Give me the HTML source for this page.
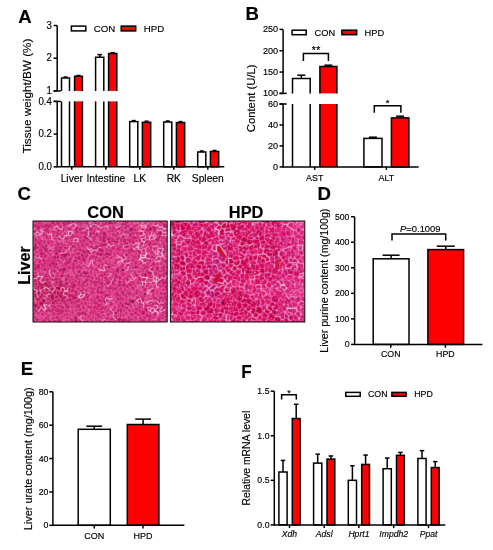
<!DOCTYPE html>
<html><head><meta charset="utf-8"><title>Figure</title>
<style>
html,body{margin:0;padding:0;background:#fff;}
body{width:493px;height:550px;overflow:hidden;}
svg{display:block;}
text{stroke:#000;stroke-width:0.15px;font-family:'Liberation Sans', Arial, sans-serif;fill:#000;}
</style></head><body>
<svg width="493" height="550" viewBox="0 0 493 550">
<defs>
<filter id="softcon" color-interpolation-filters="sRGB" x="-5%" y="-5%" width="110%" height="110%"><feConvolveMatrix order="3" kernelMatrix="0 1 0 1 6 1 0 1 0" divisor="10" edgeMode="duplicate"/></filter>
<filter id="softhpd" color-interpolation-filters="sRGB" x="-5%" y="-5%" width="110%" height="110%"><feConvolveMatrix order="3" kernelMatrix="0 1 0 1 5 1 0 1 0" divisor="9" edgeMode="duplicate"/></filter>
<filter id="graincon" color-interpolation-filters="sRGB" x="0" y="0" width="100%" height="100%">
<feTurbulence type="fractalNoise" baseFrequency="0.32" numOctaves="2" seed="21" result="n"/>
<feColorMatrix in="n" type="matrix" values="0 0 0 0 0.55  0 0 0 0 0.06  0 0 0 0 0.33  0 -4 0 0 1.65" result="dk"/>
<feColorMatrix in="n" type="matrix" values="0 0 0 0 0.93  0 0 0 0 0.5  0 0 0 0 0.76  0 4 0 0 -2.5" result="lt"/>
<feMerge><feMergeNode in="dk"/><feMergeNode in="lt"/></feMerge>
</filter>
<filter id="grainhpd" color-interpolation-filters="sRGB" x="0" y="0" width="100%" height="100%">
<feTurbulence type="fractalNoise" baseFrequency="0.5" numOctaves="2" seed="23" result="n"/>
<feColorMatrix in="n" type="matrix" values="0 0 0 0 0.6  0 0 0 0 0.02  0 0 0 0 0.25  0 -4 0 0 1.45" result="dk"/>
<feColorMatrix in="n" type="matrix" values="0 0 0 0 0.98  0 0 0 0 0.7  0 0 0 0 0.9  0 5 0 0 -3.0" result="lt"/>
<feMerge><feMergeNode in="dk"/><feMergeNode in="lt"/></feMerge>
</filter>
</defs>
<rect x="0" y="0" width="493" height="550" fill="#fff"/>
<text x="18.30" y="23.10" font-size="18.6" text-anchor="start" font-weight="bold" font-style="normal" >A</text>
<text x="51.90" y="28.75" font-size="10.2" text-anchor="end" textLength="5.39" lengthAdjust="spacingAndGlyphs">3</text>
<text x="51.90" y="61.45" font-size="10.2" text-anchor="end" textLength="5.39" lengthAdjust="spacingAndGlyphs">2</text>
<text x="51.90" y="94.15" font-size="10.2" text-anchor="end" textLength="5.39" lengthAdjust="spacingAndGlyphs">1</text>
<text x="51.90" y="104.65" font-size="10.2" text-anchor="end" textLength="13.47" lengthAdjust="spacingAndGlyphs">0.4</text>
<text x="51.90" y="137.35" font-size="10.2" text-anchor="end" textLength="13.47" lengthAdjust="spacingAndGlyphs">0.2</text>
<text x="51.90" y="170.05" font-size="10.2" text-anchor="end" textLength="13.47" lengthAdjust="spacingAndGlyphs">0.0</text>
<text x="71.80" y="181.90" font-size="10.3" text-anchor="middle" font-weight="normal" font-style="normal" >Liver</text>
<text x="105.90" y="181.90" font-size="10.3" text-anchor="middle" font-weight="normal" font-style="normal" >Intestine</text>
<text x="139.80" y="181.90" font-size="10.3" text-anchor="middle" font-weight="normal" font-style="normal" >LK</text>
<text x="173.80" y="181.90" font-size="10.3" text-anchor="middle" font-weight="normal" font-style="normal" >RK</text>
<text x="207.80" y="181.90" font-size="10.3" text-anchor="middle" font-weight="normal" font-style="normal" >Spleen</text>
<rect x="61.50" y="78.00" width="8.00" height="12.90" fill="#fff" stroke="none"/>
<rect x="61.50" y="101.40" width="8.00" height="65.40" fill="#fff" stroke="none"/>
<polyline points="61.50,90.90 61.50,78.00 69.50,78.00 69.50,90.90" fill="none" stroke="#000" stroke-width="1.5"/>
<line x1="61.50" y1="101.40" x2="61.50" y2="166.80" stroke="#000" stroke-width="1.5"/>
<line x1="69.50" y1="101.40" x2="69.50" y2="166.80" stroke="#000" stroke-width="1.5"/>
<line x1="65.50" y1="78.00" x2="65.50" y2="77.00" stroke="#000" stroke-width="1.5"/>
<line x1="63.50" y1="77.00" x2="67.50" y2="77.00" stroke="#000" stroke-width="1.5"/>
<rect x="74.60" y="76.20" width="7.80" height="14.70" fill="#ff0000" stroke="none"/>
<rect x="74.60" y="101.40" width="7.80" height="65.40" fill="#ff0000" stroke="none"/>
<polyline points="74.60,90.90 74.60,76.20 82.40,76.20 82.40,90.90" fill="none" stroke="#000" stroke-width="1.5"/>
<line x1="74.60" y1="101.40" x2="74.60" y2="166.80" stroke="#000" stroke-width="1.5"/>
<line x1="82.40" y1="101.40" x2="82.40" y2="166.80" stroke="#000" stroke-width="1.5"/>
<line x1="78.50" y1="76.20" x2="78.50" y2="75.50" stroke="#000" stroke-width="1.5"/>
<line x1="76.50" y1="75.50" x2="80.50" y2="75.50" stroke="#000" stroke-width="1.5"/>
<rect x="95.60" y="57.20" width="8.20" height="33.70" fill="#fff" stroke="none"/>
<rect x="95.60" y="101.40" width="8.20" height="65.40" fill="#fff" stroke="none"/>
<polyline points="95.60,90.90 95.60,57.20 103.80,57.20 103.80,90.90" fill="none" stroke="#000" stroke-width="1.5"/>
<line x1="95.60" y1="101.40" x2="95.60" y2="166.80" stroke="#000" stroke-width="1.5"/>
<line x1="103.80" y1="101.40" x2="103.80" y2="166.80" stroke="#000" stroke-width="1.5"/>
<line x1="99.70" y1="57.20" x2="99.70" y2="54.60" stroke="#000" stroke-width="1.5"/>
<line x1="97.45" y1="54.60" x2="101.95" y2="54.60" stroke="#000" stroke-width="1.5"/>
<rect x="108.60" y="53.50" width="8.20" height="37.40" fill="#ff0000" stroke="none"/>
<rect x="108.60" y="101.40" width="8.20" height="65.40" fill="#ff0000" stroke="none"/>
<polyline points="108.60,90.90 108.60,53.50 116.80,53.50 116.80,90.90" fill="none" stroke="#000" stroke-width="1.5"/>
<line x1="108.60" y1="101.40" x2="108.60" y2="166.80" stroke="#000" stroke-width="1.5"/>
<line x1="116.80" y1="101.40" x2="116.80" y2="166.80" stroke="#000" stroke-width="1.5"/>
<line x1="112.70" y1="53.50" x2="112.70" y2="52.80" stroke="#000" stroke-width="1.5"/>
<line x1="110.45" y1="52.80" x2="114.95" y2="52.80" stroke="#000" stroke-width="1.5"/>
<rect x="129.70" y="121.60" width="8.10" height="45.20" fill="#fff" stroke="#000" stroke-width="1.5"/>
<line x1="133.75" y1="121.60" x2="133.75" y2="120.60" stroke="#000" stroke-width="1.5"/>
<line x1="131.75" y1="120.60" x2="135.75" y2="120.60" stroke="#000" stroke-width="1.5"/>
<rect x="142.40" y="122.30" width="8.30" height="44.50" fill="#ff0000" stroke="#000" stroke-width="1.5"/>
<line x1="146.55" y1="122.30" x2="146.55" y2="121.20" stroke="#000" stroke-width="1.5"/>
<line x1="144.55" y1="121.20" x2="148.55" y2="121.20" stroke="#000" stroke-width="1.5"/>
<rect x="163.70" y="122.00" width="8.10" height="44.80" fill="#fff" stroke="#000" stroke-width="1.5"/>
<line x1="167.75" y1="122.00" x2="167.75" y2="121.00" stroke="#000" stroke-width="1.5"/>
<line x1="165.75" y1="121.00" x2="169.75" y2="121.00" stroke="#000" stroke-width="1.5"/>
<rect x="176.40" y="122.60" width="8.30" height="44.20" fill="#ff0000" stroke="#000" stroke-width="1.5"/>
<line x1="180.55" y1="122.60" x2="180.55" y2="121.60" stroke="#000" stroke-width="1.5"/>
<line x1="178.55" y1="121.60" x2="182.55" y2="121.60" stroke="#000" stroke-width="1.5"/>
<rect x="197.70" y="152.00" width="8.10" height="14.80" fill="#fff" stroke="#000" stroke-width="1.5"/>
<line x1="201.75" y1="152.00" x2="201.75" y2="151.00" stroke="#000" stroke-width="1.5"/>
<line x1="199.75" y1="151.00" x2="203.75" y2="151.00" stroke="#000" stroke-width="1.5"/>
<rect x="210.40" y="151.50" width="8.30" height="15.30" fill="#ff0000" stroke="#000" stroke-width="1.5"/>
<line x1="214.55" y1="151.50" x2="214.55" y2="150.50" stroke="#000" stroke-width="1.5"/>
<line x1="212.55" y1="150.50" x2="216.55" y2="150.50" stroke="#000" stroke-width="1.5"/>
<rect x="71.40" y="26.10" width="14.40" height="4.80" fill="#fff" stroke="#000" stroke-width="1.5"/>
<rect x="121.20" y="26.10" width="14.50" height="4.80" fill="#ff0000" stroke="#000" stroke-width="1.5"/>
<text x="93.80" y="32.00" font-size="9.7" text-anchor="start" font-weight="normal" font-style="normal" >CON</text>
<text x="143.80" y="32.00" font-size="9.7" text-anchor="start" font-weight="normal" font-style="normal" >HPD</text>
<text transform="translate(30.80,96.05) rotate(-90)" x="0" y="0" font-size="11.7" text-anchor="middle" font-weight="normal" textLength="115.0" lengthAdjust="spacingAndGlyphs">Tissue weight/BW (%)</text>
<text x="245.60" y="20.40" font-size="18.6" text-anchor="start" font-weight="bold" font-style="normal" >B</text>
<text x="278.10" y="32.44" font-size="9.6" text-anchor="end" textLength="15.21" lengthAdjust="spacingAndGlyphs">250</text>
<text x="278.10" y="53.77" font-size="9.6" text-anchor="end" textLength="15.21" lengthAdjust="spacingAndGlyphs">200</text>
<text x="278.10" y="75.10" font-size="9.6" text-anchor="end" textLength="15.21" lengthAdjust="spacingAndGlyphs">150</text>
<text x="278.10" y="96.44" font-size="9.6" text-anchor="end" textLength="15.21" lengthAdjust="spacingAndGlyphs">100</text>
<text x="278.10" y="107.04" font-size="9.6" text-anchor="end" textLength="10.14" lengthAdjust="spacingAndGlyphs">60</text>
<text x="278.10" y="128.00" font-size="9.6" text-anchor="end" textLength="10.14" lengthAdjust="spacingAndGlyphs">40</text>
<text x="278.10" y="148.97" font-size="9.6" text-anchor="end" textLength="10.14" lengthAdjust="spacingAndGlyphs">20</text>
<text x="278.10" y="169.94" font-size="9.6" text-anchor="end" textLength="5.07" lengthAdjust="spacingAndGlyphs">0</text>
<text x="314.70" y="180.60" font-size="8.9" text-anchor="middle" font-weight="normal" font-style="normal" >AST</text>
<text x="386.40" y="180.60" font-size="8.9" text-anchor="middle" font-weight="normal" font-style="normal" >ALT</text>
<rect x="292.50" y="78.40" width="17.70" height="15.00" fill="#fff" stroke="none"/>
<rect x="292.50" y="104.00" width="17.70" height="62.90" fill="#fff" stroke="none"/>
<polyline points="292.50,93.40 292.50,78.40 310.20,78.40 310.20,93.40" fill="none" stroke="#000" stroke-width="1.5"/>
<line x1="292.50" y1="104.00" x2="292.50" y2="166.90" stroke="#000" stroke-width="1.5"/>
<line x1="310.20" y1="104.00" x2="310.20" y2="166.90" stroke="#000" stroke-width="1.5"/>
<line x1="301.35" y1="78.40" x2="301.35" y2="75.20" stroke="#000" stroke-width="1.5"/>
<line x1="297.35" y1="75.20" x2="305.35" y2="75.20" stroke="#000" stroke-width="1.5"/>
<rect x="319.90" y="66.60" width="17.00" height="26.80" fill="#ff0000" stroke="none"/>
<rect x="319.90" y="104.00" width="17.00" height="62.90" fill="#ff0000" stroke="none"/>
<polyline points="319.90,93.40 319.90,66.60 336.90,66.60 336.90,93.40" fill="none" stroke="#000" stroke-width="1.5"/>
<line x1="319.90" y1="104.00" x2="319.90" y2="166.90" stroke="#000" stroke-width="1.5"/>
<line x1="336.90" y1="104.00" x2="336.90" y2="166.90" stroke="#000" stroke-width="1.5"/>
<line x1="328.40" y1="66.60" x2="328.40" y2="65.20" stroke="#000" stroke-width="1.5"/>
<line x1="324.40" y1="65.20" x2="332.40" y2="65.20" stroke="#000" stroke-width="1.5"/>
<rect x="363.90" y="138.40" width="18.10" height="28.50" fill="#fff" stroke="#000" stroke-width="1.5"/>
<line x1="372.95" y1="138.40" x2="372.95" y2="137.20" stroke="#000" stroke-width="1.5"/>
<line x1="368.95" y1="137.20" x2="376.95" y2="137.20" stroke="#000" stroke-width="1.5"/>
<rect x="391.40" y="117.90" width="17.50" height="49.00" fill="#ff0000" stroke="#000" stroke-width="1.5"/>
<line x1="400.15" y1="117.90" x2="400.15" y2="116.20" stroke="#000" stroke-width="1.5"/>
<line x1="396.15" y1="116.20" x2="404.15" y2="116.20" stroke="#000" stroke-width="1.5"/>
<polyline points="303.40,60.90 303.40,53.60 328.40,53.60 328.40,60.90" fill="none" stroke="#000" stroke-width="1.5"/>
<text x="316.30" y="53.60" font-size="10.5" text-anchor="middle" font-weight="normal" font-style="normal" letter-spacing="0.5">**</text>
<polyline points="374.30,112.70 374.30,105.70 400.90,105.70 400.90,112.70" fill="none" stroke="#000" stroke-width="1.5"/>
<text x="387.70" y="106.30" font-size="9.5" text-anchor="middle" font-weight="normal" font-style="normal" >*</text>
<rect x="292.10" y="30.20" width="14.10" height="4.50" fill="#fff" stroke="#000" stroke-width="1.5"/>
<rect x="341.90" y="30.20" width="14.80" height="4.50" fill="#ff0000" stroke="#000" stroke-width="1.5"/>
<text x="314.60" y="36.30" font-size="9.3" text-anchor="start" font-weight="normal" font-style="normal" >CON</text>
<text x="364.60" y="36.30" font-size="9.3" text-anchor="start" font-weight="normal" font-style="normal" >HPD</text>
<text transform="translate(255.30,98.35) rotate(-90)" x="0" y="0" font-size="11.1" text-anchor="middle" font-weight="normal" textLength="67.8" lengthAdjust="spacingAndGlyphs">Content (U/L)</text>
<text x="17.50" y="199.90" font-size="18.6" text-anchor="start" font-weight="bold" font-style="normal" >C</text>
<text x="105.60" y="217.50" font-size="15.6" text-anchor="middle" font-weight="bold" font-style="normal" textLength="36.6" lengthAdjust="spacingAndGlyphs">CON</text>
<text x="246.10" y="217.50" font-size="15.6" text-anchor="middle" font-weight="bold" font-style="normal" textLength="34.6" lengthAdjust="spacingAndGlyphs">HPD</text>
<text transform="translate(30.30,265.50) rotate(-90)" x="0" y="0" font-size="16.2" text-anchor="middle" font-weight="bold" >Liver</text>
<clipPath id="clipcon"><rect x="33.0" y="221.0" width="134.2" height="101.0"/></clipPath>
<g clip-path="url(#clipcon)"><g filter="url(#softcon)">
<rect x="31.0" y="219.0" width="138.2" height="105.0" fill="#e666a2"/>
<path fill="#d01c68" d="M36.7,222.8 37.5,220.2 37.1,219.7 34.9,220.4 34.9,220.8 35.8,222.9 36.4,223.1ZM105.1,222.2 105,222.8 106.3,225.4 106.7,225.7 107.4,225.6 107.6,225.1 107.1,221.3 106.4,221.3ZM35.9,229.5 35.6,229.2 35.2,229.3 32.6,231 34,233.6 34.3,233.8 35.2,233.7 36.6,231.5ZM54.6,228.7 54.2,228.5 53.8,228.7 53.8,229.2 54.1,230 54.6,230.3 55.1,230.1 55.3,229.8ZM102.5,235 102.6,235.3 103,235.5 106.1,235.2 106.5,234.9 106.6,233.9 105.9,232 104.3,231.3 102.6,231.8ZM159.1,234.1 160.7,235.1 161.3,235 162.4,232.8 162,231.1 157.9,230.9 157.7,231.9ZM118,240.6 118.6,240.3 120.2,237.6 120.1,236.9 119.6,236.8 114.9,238.4 114.9,239.2 115.2,239.6ZM142,240.5 142.4,240.9 144.4,241.1 145.7,239.5 145.7,238.9 145.1,238.5 142.2,239 141.9,239.2 141.8,239.6ZM167.6,244.3 166.9,244.4 166.8,244.8 167,245.6 167.3,246 169.1,246.6 169.7,246.3 169.5,245.7ZM94.6,246.4 94.5,247.1 96.3,249.5 96.7,249.7 97.1,249.6 98.7,247.5 98.8,247.1 98.5,245.3 98.1,244.9 96.6,244.8ZM128.5,247.6 129.2,246.7 129.2,245.1 129,244.7 128.6,244.7 124.4,245.7 124,246.1 123.7,247.4 124,248.1 126.2,248.6ZM43.3,248.9 40.5,248.3 38.5,249.7 38.4,250.4 38.9,251 39.2,251.1 43,250.3 43.4,249.8 43.4,249.2ZM81.6,251.6 81.9,252.3 82.3,252.3 85.2,250.9 85.5,250.6 85.5,250.2 85.2,249.9 82.6,249.3ZM115.1,249.7 114,250.9 114.2,251.3 116.1,252.7 116.8,252.6 117.4,251.8 117.3,251.2 115.8,249.7ZM142.2,250.3 142.4,251.9 145.2,252.5 145.7,252.3 145.2,249.9 143,249.7ZM162.2,252.6 162.5,254.7 163,255.1 165.9,252.3 166,251.9 164,250.2 163.6,250.1 163.3,250.3ZM40.4,254 40.3,254.6 40.6,254.9 42.5,255.4 43,255.3 45.4,253.2 45.3,252.8 44.2,251.9ZM80.5,255.3 81.2,256.9 81.8,257.1 84.4,256.3 84.8,255.4 81.8,253 81.3,253.3ZM44.8,262 45.2,261.5 45.2,259.1 43.2,258.5 42.8,258.6 42.2,259.3 42.3,262ZM72.7,260.6 72.7,261 72.9,261.3 75.6,262.3 76.5,260.6 74.6,258.9 74.2,258.8ZM70.8,263 69.5,264.2 69.9,264.7 71.5,264.9 71.6,264.5 71.4,263.1ZM35.5,267.7 35.1,267.6 34.7,267.8 33.6,270.1 33.6,270.6 34.2,271.4 37.7,270.5 37.7,269.8ZM147.3,266.5 147.1,267.2 147.3,267.7 148.4,268.4 149.1,268.3 149,266.4 148.8,266.1 148.3,266ZM165.8,268.8 165.3,268.5 162.4,269.1 162.3,269.7 164,272 164.3,271.9 166.5,270.2ZM152.7,272.4 152.4,271.9 149.8,271 149.3,271.1 147.5,272.8 147.4,273.4 147.7,274 148.1,274.1 152.2,273.4 152.5,273.3ZM100.9,277.2 101.1,277.6 101.5,277.7 102.7,277.6 104,276.5 102.4,273.8 101.1,274.2ZM136.1,276.6 137.2,276.9 139.5,276.1 139.8,275.9 139.8,275.3 139.5,275 136.8,273.6 135.4,275.4ZM161.4,277.9 161.5,277.3 161.3,277.1 157.9,275.9 157.4,276 157.1,276.5 159.6,279.3ZM118.1,279.2 118.3,279.8 118.6,279.9 120.6,279.7 121,279.5 121.8,277.6 120,276 119.6,275.9 119.2,276.2ZM126.1,282.6 125.7,282.5 122.4,283.6 121.6,285 121.9,286.1 123,286.7 124.6,286.3 126.5,283.6 126.6,283.3ZM127.1,288 127.7,288 128.9,286.8 127.4,284.7 127,284.6 126.6,284.8 125.4,286.7ZM114.3,287.5 114,288 114.1,288.3 115.5,290 116,290.2 116.5,290 117.7,289 116.2,287.3 115.8,287.2ZM118.6,288.8 118.4,289.1 118.5,289.5 120,290.9 122.2,288.8 122.3,287.6 122.1,287.2 121.4,286.8ZM142.9,291.1 144.6,291.9 147,289 147.1,288.5 145.7,287.7 145.2,287.8 142.8,289.8 142.6,290.3ZM163.2,295 163.6,295.5 163.9,295.5 165.9,294.5 166.2,294.2 166.6,292.4 166.1,292.1 163.3,292.7ZM88.8,300.3 89,299.8 88.8,298.8 88.6,298.5 88.2,298.4 86.8,298.8 86.4,299.2 86.1,300.5 86.2,301 86.9,301.6ZM116.3,299.5 119.2,301.1 119.6,300.7 119.7,298.7 118.1,296.6 117.5,296.5ZM150.9,308.1 148.5,307.1 148.1,307.7 148.4,309.9 149,310.4 149.7,310.3 151.1,308.9 151.2,308.4ZM152.2,308.4 150.4,310.5 152.6,312.6 154.9,310.7 153.4,308.5 152.9,308.3ZM55.4,316.7 55.3,318.2 56.5,319.4 59.5,318.1 59.3,316.7 58.9,316.4 56.7,315.5 56.1,315.7ZM99.3,317.9 99.7,318.4 102.2,318.7 102.7,318.3 101.9,316.9 100.6,316.2 99.4,317.4Z"/>
<path fill="#d42070" d="M41.2,221 41.3,220.5 40.2,218.7 38.2,218.9 37.8,219.1 37.8,219.6 38.2,220.3 40.1,221.7 40.4,221.8 40.8,221.6ZM83.8,219.4 83.8,219.8 84.2,220.1 87.4,220.5 87.5,220.1 87.7,217.5 85.1,216.9ZM100.5,218.4 99.8,218.5 99.7,218.8 99.8,220.7 101.4,222.1 101.9,222.2 102.3,221.7 102.3,220 102.1,219.6ZM109.7,218.3 108.4,219.4 108.8,220 111.1,220.8 111.6,220.7 111.8,220.3 111.9,219 111.4,218.4ZM57.2,225.4 57.9,225.5 59.9,224.1 60,223.4 58.8,221.5 58.4,221.3 56.1,221.3 55.5,221.8 55.5,222.9ZM108.5,226.1 108.1,226.7 108.5,228.9 108.7,229.3 109.9,229.8 110.4,229.7 111.6,228.6 110.4,226 109.8,225.7ZM152,226.1 151.8,226.6 152.4,229 152.8,229.3 156.4,229.8 156.9,229.4 155.3,226.1 153.3,225.4 152.9,225.4ZM62.1,232.6 62.6,232.4 62.6,232 62,229.9 61.6,229.5 58.8,228.8 58.2,229.1 57.5,230.9 58,232.3ZM100.8,230.9 100.3,230.9 99,231.9 98.6,234 101.4,235.2 101.8,235.1 102.1,234.7 102.1,231.9 101.9,231.5ZM128.6,236.1 128.1,235.7 127.7,235.8 127.5,237.2 127.7,237.6 128.2,237.7 128.6,237.4ZM128.9,233.3 129.4,237.5 131.7,237.5 132.4,236.2 132.3,235.7 129.7,233.1 129.3,233ZM156.4,237.5 156.6,238.1 156.9,238.2 160.2,237.9 160.7,237.4 160.7,236.1 160.4,235.6 159,234.9 156.7,236.9ZM74.9,238.9 74.2,239.6 73.9,240.9 76.6,241.6 77.2,241.4 77.4,240.9 77.2,239.1ZM100.3,241.1 101,241.2 101.2,240.8 101.4,238.5 101,238.3 98.8,238.4 98.7,239ZM167.6,239 167.3,239.6 168.7,240.4 170,238.7 169.8,238.4 169.3,238.3ZM80.8,244.6 80.6,245.2 82,247.4 82.4,247.3 84.9,245.3 84,243.7 83.6,243.5 82.4,243.5ZM151.8,243.3 150.6,240.4 149.8,240 147.7,244.8 147.8,245.5 148,245.9 148.4,245.9 151.2,245.1 151.6,244.7ZM41.5,247.9 41.8,247.8 42,247.2 41.2,245.4 40.6,245.1 40.2,245.5 40.1,246 40.6,247.4ZM66.8,246.7 66.4,246.8 66.3,247.2 66.5,249.4 67,249.9 68.8,248.8 69.4,247.6 69.4,247.1 69,246.9ZM81.1,248.2 81.4,247.9 81.3,247.5 80,245.4 78.2,246.2 77.9,246.5 77.9,246.9 79.3,248.9ZM120.6,251.3 121.1,250.9 121.4,249.9 121.2,249.2 118.1,247.8 116.4,247.9 116.1,248.3 116,249.2 118,251ZM30.1,253.6 30.7,253.7 33.1,252.1 31.8,250 29.3,250.7 29,251.1 28.9,252 29.5,253.1ZM59.8,253.6 59.5,254.1 60,256.5 60.4,256.6 63.2,255.7 63.2,253.9 62.9,253.4 61.7,253.1ZM77.7,254.8 79.8,255 80.7,252.6 78.5,251.4 77.2,251.7 76.5,252.8 76.4,253.3 76.8,254.3ZM113.8,251.8 112.6,253.9 113.1,254.3 115.7,254.4 116.1,254.3 116.3,253.9 116,253.3ZM39.6,256.8 39.8,257.3 41.5,258.4 42,258.3 42.5,257.7 42.5,256.3 42.1,255.8 40.1,255.4ZM58.4,264.2 58.6,264.5 59.3,264.5 61.1,263 61.3,262.7 61.2,262.2 60.8,261.9 60.4,262 58.6,263.3ZM93.3,261 92.6,261.2 92.6,261.5 93.4,265.5 93.7,265.9 94.1,265.9 96.1,263 96.1,262.6ZM98.2,268.5 97.9,268.1 96.6,267.4 95,267.2 94.3,270.4 94.4,270.8 94.7,271 96.7,271.2 98.2,270ZM150,268.8 149.6,269.7 150,270.4 152.7,271.4 153.2,271.3 154,270.4 154,267.9 153.7,267.4 152.8,266.9 152.3,267ZM97.1,272.1 97.4,274 97.8,274.1 99.4,273.8 99.8,273.4 98.3,271.2 97.3,271.7ZM161.6,269.2 160.6,269 160.4,269.6 161.8,273.1 162.1,273.4 162.5,273.3 163.3,272.9 163.4,272.2ZM89.4,274.4 86.8,274.8 86.3,277.6 89.5,278.2 90.7,275.4ZM162.3,276.9 162.6,277.4 164.5,278.1 166,275.9 163.9,273.6 163.2,273.5 162.5,274.2ZM133.4,281.1 131.6,283.5 131.8,285.1 132.3,285.4 132.9,285.3 135.5,282.9 135.6,282.5 134,281.2ZM157.4,282.7 156.8,282.6 156.4,283.6 157.2,286.3 157.5,286.6 157.9,286.6 158.8,284.7 158.7,284.1ZM98.2,284.3 98.1,283.6 97.6,283.5 94,284 93.4,286.8 94.8,287.2 95.9,287.3 96.4,287.1ZM97.6,288.7 99.6,289.3 99.8,288.9 100.3,286.1 100.1,285.6 98.9,284.9 97,287.4 97,288ZM95.2,289.8 95.4,290.2 95.8,290.3 96.7,289.3 96.7,288.7 96,287.9 95.2,288ZM126.3,294.4 126.7,294.7 127.1,294.5 129.3,292.4 129.5,292 129.3,291.6 127.4,290.3 125.1,292.2ZM101.3,300.6 101.4,300 101.1,299.2 99.7,298.2 97.5,301 98.5,302.4 98.9,302.6 99.3,302.4ZM168.9,300.5 168.1,298.4 164.9,298.8 164.5,299.1 164.5,299.5 165.3,301.1 167.1,301.9 168.6,301.3ZM131.5,305 131.6,304.5 130.9,302 128.7,301.9 128.3,302 128.2,302.4 128.8,306.5 129.5,306.5ZM122.2,307.3 122.1,307.9 122.4,308.1 124.1,308.6 124.5,308.5 124.7,308.1 124.4,305.5 124.1,305.3 123.7,305.5ZM158.4,306.6 160.3,308.4 160.7,308.2 161.5,306.9 161.4,306.3 159.6,304.5 158.4,305.6 158.2,306ZM167.1,303.6 166.5,306.6 166.8,306.8 168.9,307.2 169.5,306.9 168.1,303.5 167.8,303.3 167.4,303.3ZM160.3,310.8 160.7,311.3 161,311.3 163.4,310.3 163.7,309.6 161.4,308.5 160.6,309.4ZM161.5,311.6 161.2,312 161.7,312.7 164.6,313.6 165,313.5 166.5,312.5 165.1,310.2ZM122.6,313.4 122.2,313.9 122.4,314.5 125.2,316.5 125.9,316.4 125.9,315.7 124,313.4 123.5,313.2ZM134.8,314.4 135.3,314.8 135.6,314.6 137.6,312.7 137.8,312.3 137.5,311.3 134.8,311.6 134.5,311.8 134.2,312.7ZM147.1,312.9 146.7,312.7 146.3,312.9 145,314.7 144.9,315.3 146.6,317.9 147.8,317.3 148,316.9 148.1,314ZM52.2,321.3 51.8,321.1 51.4,321.4 51,322.7 51.8,324.4 53.2,324.9 54.1,323.6Z"/>
<path fill="#d82c78" d="M45,218.5 43.2,220.6 43.3,221 43.7,221.1 46.8,220.9 47.2,220.3 47.2,219.3 46.8,218.8 45.5,218.4ZM113.9,221.7 114.1,221.3 114.6,217.8 114.4,217.3 113.7,217 112.8,218.3 112.6,221.2 113.2,222ZM137.1,219.6 137.8,222.5 138.2,222.6 138.5,222.3 139.4,220.6 139.4,220.1 138.9,219.3 138.5,219 137.2,219.1ZM158.1,220.1 157.2,218.5 154.9,219.5 154.6,220 154.8,221 155.3,221.4 157.7,221.3ZM86,224.9 86.7,224.7 88.1,222.4 88.1,221.8 87.6,221.4 84.2,220.8 83.8,221 83.6,221.4 83.8,223.4 84.1,223.8ZM130.9,225.9 131.3,226.2 131.7,226 134,223.9 134.4,223 133.8,221.8 129.9,222.5 129.8,223.2ZM148.8,222.9 148.9,223.5 151.4,225.3 152,225.3 152.5,224.8 150.1,221.2 149.6,221.5ZM159.1,220.2 158.6,220.5 158.3,221.6 158.9,223.2 159.3,223.5 161.4,223.9 161.9,223.7 162.8,222.4 162.7,220.9 160.4,220.2ZM31.7,229.4 31.6,230.1 32.3,230.2 34.6,228.8 34.8,228.2 34,227.6ZM51,233.5 51.3,233.2 51.3,232.7 49.9,230.4 49.3,230.2 47.3,233.3 47.3,233.7 48.1,234.2ZM77.9,231.4 77.3,231.1 76.9,231.2 74.3,232.9 74.2,233.6 74.5,234.3 75.1,234.6 78.6,233.9 78.7,232.3ZM84.5,234.1 84.6,234.5 86.4,236.4 87,236.5 88.3,234.9 88.2,232.7 87.7,232.3 84.8,232.4ZM112.1,232.7 111.5,233.1 111.1,235.5 112.1,236.8 113.4,236.8 114.1,233.4 114,233ZM152.5,232 152.1,232 151.9,232.4 151.9,234.7 152.1,235 152.9,235.2 153.3,235.1 154.4,234 154.8,232.9ZM166,235.6 166.8,235.1 166.1,232.9 163.2,232.9 162.8,233.2 162.3,234.8 162.6,235.1ZM44.1,237.4 44,238.1 44.5,238.9 46.5,239.6 48.7,239.4 49,239.1 49.1,238.7 47.6,235 47,234.6 46.4,234.7ZM90.5,238.9 90.9,239 91.3,238.7 92.2,236.4 92.1,236 91.8,235.7 88.9,235.4 88.5,235.6 88,236.1 88,236.8ZM94.9,235.8 93.6,235.5 92.8,236 91.7,238.8 92.1,239.6 95.2,240 95.7,239.7 96.3,237.7 95.8,236.4ZM107.6,235.3 107.1,235.5 107,235.9 107.4,236.6 110.2,237.4 110.6,237.4 111,236.9 110.5,235.9 110.2,235.7ZM139.4,237.1 139.3,236.4 137.8,236.5 137.4,236.9 136.7,238.9 137.8,239.5ZM36.2,237.1 35.8,236.9 35.4,237.1 33.6,239.3 33.6,239.8 34,240.6 35.2,241.8 35.6,241.9 36.7,241.7 37.5,240.9 37.5,239.3ZM110.1,239.6 110.3,240.2 113.1,241.7 114.2,239.9 114.2,238.3 113.5,237.5 111.6,237.4 110.6,238.2ZM65.8,243.9 65.5,243.6 65.1,243.6 62.8,244.7 62.1,245.2 61.9,245.6 62.1,246 63,246.9 63.4,247 65.8,246.6 66.2,246.4 66.2,246ZM67.9,243.5 66.5,243.7 66.4,244.1 66.9,246 69.3,246.2 69.4,245.6 68.3,243.8ZM76,242.3 73.3,241.8 72.9,242.3 73.1,243.7 74.8,244.1 75.3,243.9 76,242.9ZM85.7,245.1 87.7,246.4 89.4,245 89.4,244.2 87.9,241.9 86.8,241.4 86.3,241.5 84.7,243 84.6,243.7ZM105.4,246.8 105.9,247.1 106.8,246.9 108.2,244.2 108.1,243.7 106.6,242.2 104.3,243.7ZM109.7,243.7 109.3,244.2 109.5,244.5 111.2,246 113.1,245.1 113.3,244.6 113.2,243.1 112.9,242.7ZM71.1,247 70.5,246.9 70.2,247.2 69.6,249 70.9,252.3 71.2,252.6 72,252.3 72.3,251.9 72.6,248.8 72.5,248.4ZM93,250.8 91.6,252.3 91.5,253.6 91.7,254 94.9,253.6 95.3,253.4 96.7,250.7 96.4,250.3 96,250.2ZM155.7,251.4 155.4,252 155.9,253.5 156.3,253.8 157.2,253.7 157.6,251.4 156.9,251ZM157.9,250.1 157.9,250.6 158.5,251.2 161.6,252.1 163,249.4 162.9,248.8 162.3,248.4 158.8,248.7 158.4,249ZM52.2,256.4 52,255.8 51.3,255.9 50.5,257 50.6,257.7 51.2,257.9ZM91.9,254.8 91.6,255 91.5,255.4 92.6,258.9 92.9,259.2 93.3,259.2 94.8,258.2 95.5,254.7 94.9,254.3ZM102,252.9 101.8,253.5 102.6,255.7 102.9,256 104.8,256.5 105.3,256.3 106.1,255.2 106.4,254.5 106.2,253.9 103.8,252.3 103.3,252.2ZM131,252 128,251.8 127.7,251.9 127.4,252.6 127.5,253.2 129,254.5 130,254.7 130.4,254.5 131.6,253.2 131.7,252.6ZM155,252.6 154.4,252.3 154.1,252.5 152.7,254.5 152.6,254.9 152.8,255.2 153.8,255.8 154.5,255.6 155.4,254.4ZM38,258.5 37.9,260 38.5,260.1 40,259.1 40.3,258.5 39.4,257.9 38.8,257.9ZM49.9,260.7 50.5,260.7 51.2,260 51.2,259.4 49.8,257.4 47.7,256.6 46.9,258ZM105.3,258.5 105.1,257.2 104.7,256.8 102.8,256.3 101.7,256.9 101.5,257.3 101.6,259.8 103.5,260.6 104.1,260.4ZM32.1,262.4 32.1,262.8 32.5,263 36.9,263.1 37.3,262.9 37.4,262.5 37.1,262.2 33.3,260.4 32.9,260.4 32.6,260.7ZM108.3,259.6 107.4,259.5 107.1,260.1 107.8,262.1 110.3,261.7 110.2,261ZM87.4,265.4 88.1,265.7 88.5,265.7 88.7,265.4 88.8,264.8 87.9,263.3 87.5,263.4 87.3,263.8 87.1,264.8ZM107.5,262.9 105.8,264.1 106.1,264.7 108,265.5 110.2,264.7 110.5,264.5 111.2,262.7 110.6,262.3ZM158.6,265.7 159.1,265.2 159.2,262.4 159,262.1 158.6,261.9 155.8,262.5 156.2,265.7ZM129.8,267.4 129.2,267.2 128.5,267.5 128.3,269.4 128.5,269.8 129.7,270.4 130.6,269.5ZM131.1,266.4 130.5,266.5 130.3,267.2 131.1,268.8 131.6,269.1 132.5,268.9 132.8,268.6 132.9,268.2 132.4,267.2ZM49.7,271 49.5,271.4 49.9,273.6 50.2,274 51.2,274.2 52.3,273.5 52.5,272.9 51.6,270.3 51.3,270 50.8,270.1ZM132,274 132,274.7 132.4,274.9 134.4,275.1 134.9,274.9 136.2,273.2 136.2,272.8 135.6,270.6 134.9,270.6ZM74.9,276.4 74.5,276.3 74.1,276.5 74,276.9 74.5,278.9 74.8,279.2 75.2,279.2 75.9,278.8 76.2,278ZM77.5,273.5 77,273.5 75.1,274.8 74.8,275.2 75,275.6 76.8,277.3 78.8,276.4 78.4,274.1ZM133,275.7 132.5,276.1 132.6,276.5 133.7,278.2 134.1,278.4 134.5,278.2 135.3,277.3 135.3,276.7 134.4,275.8ZM133.8,279.7 131.7,276.3 131.1,276.2 130,278 130.3,279.5 130.6,279.8 133.2,280.8 133.7,280.6ZM157.5,278 157.2,277.8 156.8,277.9 156.7,278.3 156.6,280.7 157.1,281.2 158.8,280.2 159,279.8ZM121.1,280.9 120.6,280.6 118.3,280.8 118,281.9 118.5,283.4 120.5,284.4 121.2,284.2 121.7,282.8ZM105.3,286.5 104.3,287.5 104.5,287.8 106.3,289.2 107.6,288.9 108.1,288.5 108.2,288 107.9,286.5 107.3,286.1ZM116.5,286.5 116.7,286.9 118.1,288.1 120.8,286.3 120.9,285.7 120.7,285.3 118.2,284.1 117.7,284.1 116.8,285ZM139.8,290.1 136.8,288.6 136.1,289 135.9,289.9 137.9,291.5 138.4,291.6 140,290.7ZM91.1,291.2 90.8,290.9 90.3,291 89.6,291.8 89.5,292.3 90.5,295.2 90.8,295.5 91.3,295.5 92.7,294.5ZM155.3,295.1 155.8,295.6 156.1,295.4 157.5,294.2 157.6,293.8 157.4,293.4 155.5,292.2 155.1,292.8ZM92.1,301.4 92.4,300.9 92.3,299.2 90.4,297.6 89.8,297.5 89.5,298.1 89.9,299.9 91.5,301.3ZM146.1,298.7 145.5,298.5 145.2,298.8 144.7,301.1 147,302.1 147.4,302.1 147.7,301.4 147.7,301ZM120.4,302.1 119.9,302.2 119.8,302.7 120.7,307 121.3,307.4 123.9,304.5 124,304.1 123.5,302.3ZM136.2,303.3 137.1,305.5 137.8,305.3 138.7,303 137.4,301.9 137,301.8 136.6,302.1ZM148.7,301.4 148.4,301.8 148.1,303.5 148.4,304.2 148.9,304.4 150.8,303.8 152.2,301.2 151.6,300.8ZM93.3,305.8 93.2,305.1 92.8,305 90.9,305.4 90.4,305.8 91.3,307.4 91.9,307.6ZM106.1,304.9 105.9,305.5 106.8,307.8 109.5,309.5 110.1,309.4 110.2,308.7 107.2,304.8 106.9,304.6ZM66.9,312.3 67.3,312.2 67.4,311.8 67.3,310.2 67,309.8 65.2,308.9 64.6,308.9 64.1,309.7 64.6,312ZM71.4,309.5 70.9,309.8 70.9,310.1 71.5,312.4 72.3,313 74.1,312.7 74.3,312.2 73.7,310.2 73.4,309.8ZM78.8,309.8 79,310.8 80.1,311.5 80.7,311.5 81.8,310.6 82,310.1 81.2,307.1 80.5,307.2ZM105.8,312.6 105.6,312 103.1,310.4 100.7,310.7 100.3,311 99.9,311.9 100.6,313.9 101.2,314.1 105.3,313.2ZM69.1,313.8 68.8,314.1 68.2,315.4 68.3,316 69.6,317.3 70.4,317.3 70.8,317 71.5,313.6 71,313.4ZM75,313 74.6,313.2 74.5,313.6 74.9,315.5 75.2,315.8 77,316.4 77.2,316.1 77.2,315.7 75.5,313.3ZM87.4,313.5 87.5,313 87.1,312.7 85.6,312.3 83.8,315 83.7,315.4 84.1,315.8 85.4,315.7ZM110.2,310.3 109.2,311.6 109.2,312.2 111.3,315 112.2,315.2 112.6,315.1 113.1,314.2 113,312.6 110.8,310.4ZM37.3,315.8 37.1,316.4 37.3,316.7 38.5,317.1 40.4,316.2 40.7,315.7 40.4,314.7 39.9,314.7ZM61.3,318.8 61.9,318.8 63.3,317.5 62.4,315.1 60.5,315.5 60,316 59.9,316.5 60.3,318ZM64.9,317.2 65.8,316.4 65.9,315.7 64.2,313.9 63.6,313.8 63,314.4 63,314.9 63.7,316.9 64,317.2ZM88.9,318.4 89.6,318.3 91.3,315.8 88.4,313.5 86.3,316.1ZM129,315.8 128.5,315.9 127.5,317.1 127.3,317.8 127.8,318.8 129.5,319.5 131.2,317.2 131.3,316.8 131,316.4ZM67,322.5 67.5,322.6 69.5,321.6 68.9,320.1 66.7,320.6 66.2,321.6ZM84.1,320.8 83.9,321.2 84,321.6 84.7,322.3 85.4,322.4 85.5,321.8 85.1,320.9 84.8,320.6ZM110.9,323.1 111.3,323.4 112.4,323.6 113.1,321 112.8,320.5 110.6,321.3ZM86.2,324.4 83.2,321.7 82.7,322 82.3,323.3 85.4,325.5 86,325.5 86.3,325ZM166,324.2 167.9,324.4 168.1,323.9 167.9,321.7 167.5,321.2 165.3,322.8 165.6,323.9Z"/>
<path fill="#cc1868" d="M48.2,218.8 47.8,219.3 47.9,221 48.6,222.4 49.5,222.7 51.1,220.6 51.1,218.7 50.9,218.4 50.5,218.3ZM162.3,224.2 162.4,225.3 162.9,225.7 166.5,225.4 167,224.9 165.9,223.7 163.6,223.1 163.1,223.2ZM140.7,236.4 140.4,236.7 140.4,237.1 141.3,238.4 144.8,237.9 145.1,237.7 145.2,237.3 144.3,235.3ZM107.5,241.2 107.2,241.6 107.3,242.1 108.3,243.2 108.9,243.4 111.8,242.2 111.6,241.6 109.9,240.5 109.5,240.5ZM39.9,245.2 41.2,243.3 41.2,242.9 40.9,242.6 38,241.6 37.5,241.7 37.1,242.1 38.2,245.3 39.5,245.4ZM60.1,245.7 59.3,246.4 59.1,247.8 59.3,248.2 61.2,250 61.6,250.1 62,249.8 62.8,247.8 62.7,247.2 61.1,245.8ZM132,248 129.5,247.5 129.3,248.1 131.1,251.3 131.7,251.5 132.8,249.6 132.8,249.1ZM138.1,253.3 139.7,254 140.2,253.9 141.5,252.4 141.4,250.7 138.6,250 138.1,250.2 137.8,250.7 137.7,252.4ZM35.2,255 35.1,254.5 33.6,252.8 30.9,254.2 30.7,254.7 31,256.3 32.3,257.4 32.8,257.5 34.6,256.6ZM59,255.3 58.5,254.8 56.9,256 56.6,258.3 56.8,258.7 57.2,258.8 58.9,258.6 59.3,257.1ZM160.2,279.7 160.1,280.3 161.6,282.3 162,282.5 162.4,282.3 164.4,279.5 164.5,279.1 164.2,278.7 162.5,278 161.9,278.1ZM125.1,281.9 125.5,281.3 125,280.9 122.6,281 122.2,281.2 122.1,281.7 122.5,282.4 122.9,282.5ZM127.5,282.9 127.2,283.2 127.3,283.7 129.6,286.5 130.4,286.5 131.3,285.8 131.5,285.2 130.9,283.7 128.9,282.6ZM92.8,287.5 92,289.7 92.3,290 94.1,290.7 94.7,290.5 94.6,288.1 94.2,287.6ZM165.3,306.3 165.7,306.2 166,305.9 166.7,303.1 166.4,302.5 165.4,302.1 164.9,302.2 164,302.9 163.8,303.4 164.3,305.7ZM30.5,322.2 30.8,322.7 32.7,322.4 33.1,322.1 33.8,320.4 33.8,320 33.1,319.7 31.1,320.5 30.9,320.9ZM162.1,323 160.7,321.1 160.3,321.3 158.9,322.6 160.5,324.5 160.9,324.7 161.2,324.5Z"/>
<path fill="#d01c6c" d="M52.8,217.5 52.4,217.3 52,217.5 51.8,218 52,220.2 54.3,221 54.7,220.9 54.9,220.6 54.8,220.2ZM163.6,220.6 163.7,222.2 165.7,222.7 166.9,220.8 166.9,220.3 166.5,220 164.6,219.8ZM40.6,226.2 40.4,225.7 39.9,225.3 38.9,225.4 36.4,228.2 36.3,228.7 37.4,230.7 39.2,230.3 39.6,230ZM77.1,230.4 77.8,230.5 78,230.2 79.3,227 79.1,226.6 77.4,225 76.6,225.5 75.5,227.8 75.6,228.4ZM146,227.6 146.3,228 147.8,228.3 150.8,226.5 151,226 147.8,223.7 145.9,225.8ZM129.1,232.2 129.8,232.4 133.7,230.4 133.3,228.8 131.4,227.3 130.8,227.3 128.4,229.3 128.3,229.8ZM147.6,232.5 148,232.6 148.3,232.3 148.5,231.6 147.6,229 147.3,228.7 146.1,228.4 144.7,230.5ZM165.2,232.3 165.6,232.1 165.7,231.6 165.1,229.7 164.7,229.3 163.7,229.5 162.9,230.7 163,231.9 163.5,232.3ZM143.4,234.8 143.7,234.1 143,232.1 142.6,231.8 140.4,231.1 139.9,231.3 139.4,231.8 139.3,232.2 139.8,235.8 140.3,235.9ZM134,243.9 134.5,243.8 135,243.3 135.1,242.7 134.2,240.2 133,239.5 132.6,239.5 132.3,239.8 131.2,242.7ZM135.8,242.3 136.3,242.6 137.5,242.5 137.9,242.3 137.9,241.9 137.4,240.4 136.3,239.8 135.8,239.7 135.1,240.2ZM138.5,240.1 139,242.3 139.7,242.3 141,241.3 141.2,240.8 140.8,239 140.2,238.2 139.6,238.4ZM165.4,239.7 165.1,239.7 164.9,240.4 166,242.6 166.4,242.8 166.8,242.7 167.9,241.7 168,241.3 167.8,240.9ZM42.8,248 43.5,248.3 44,247.8 44.1,245.4 42.3,243.5 41.9,243.4 41.3,244.1 41.2,244.6ZM101.4,242.7 100,243.1 98.9,244.7 99.1,246.9 99.6,247.3 101,247.3 102.8,244 102.6,243.3ZM142.1,241.7 140.5,242.7 140.3,243.1 140.5,243.5 142.4,245.3 142.9,245.4 143.3,245 143.7,242.4 143.6,242 143.3,241.8ZM93.6,246.9 93,247.1 92.3,248.6 92.3,249.1 92.9,250 94.9,249.7 95.3,249.2ZM114.8,246.4 113.9,245.6 113.3,245.6 111.5,246.6 110.7,248.4 113.3,250.2 113.9,250.1 115.1,249.1 115.6,247.9ZM154,246.9 153.7,246.6 153.3,246.7 153.1,247 152.7,249.9 154.6,251 155,251 155.7,250.5 155.7,250.2ZM156.8,250.1 157.7,248.7 157.7,248.2 156.6,246.4 155.3,246.6 154.9,246.8 154.9,247.3 156.2,249.9ZM162.9,247.7 163.5,248.4 164.7,248.1 166.3,246.2 166.2,244.4 165.9,244 165.5,244 162.9,245.4ZM128.8,248.7 128.1,248.5 127.3,248.8 127,249.5 127.6,250.9 128,251.2 129.4,251.3 129.9,250.9 129.8,250.5ZM45.3,258.3 46,257.9 46.9,256.2 46.5,254.1 46.1,253.8 45.7,253.9 43.4,255.7 43.2,256.1 43.4,257.7ZM136.9,256.6 136.6,256.3 136.1,256.3 135.2,257 134.9,257.9 135,258.3 136.3,259.6 137,259.8 137.5,259.5 137.5,259.2ZM122.8,260.7 122.6,261.4 124.6,264 125.3,264.1 126.2,263.4 126.4,263 126.1,259.2 125.5,259.1ZM161.6,260.5 161,260.8 161.3,261.4 165.6,263.5 166.3,263.4 166.9,262.5 166.9,261.6 166.4,261.2ZM143,268.5 144.7,270.4 145.2,270.1 146.4,268 146.1,267.2 143,267.5ZM165.2,268.2 165.6,267.7 165.5,266.7 165.4,266.3 165,266.2 160.6,267 160.3,267.3 160.4,268.2 161.5,268.7ZM79,269.4 78.3,269.5 77.1,271 77,271.5 77.5,272.5 78.3,273 78.8,273 81,271.6 81.2,271.2 81,270.8ZM112.6,272.2 112.1,273.4 115,275.2 115.5,275.2 117.1,274.4 117.4,274 117.3,273.6 114.7,271.1ZM141.5,271 141.7,271.7 142,271.8 143.7,271.8 144.2,271.3 143.1,269.7 142.7,269.5 142.3,269.8ZM100.3,274.9 100.2,274.6 99.7,274.5 97.3,274.9 97,275.2 96.7,276.1 98.9,277.6 99.9,277.6 100.3,277.1ZM110.6,283.3 111,282 110.8,281.5 108.8,280.1 108.3,280.1 105.5,282 107.2,285.4 107.8,285.7 108.3,285.6ZM112.5,284.9 112.9,285 114.7,284.7 115.1,284.1 113,282.3 111.5,282 111.2,283 111.3,283.5ZM130.4,280.2 129.2,282.1 129.4,282.4 131.1,283.2 132.4,281.6 132.5,281.1 132.2,280.8ZM123,289.8 122.7,289.5 122.2,289.7 120.4,291.7 120.4,292.7 120.7,293.1 121.5,293.2 124.1,291.9ZM168.1,292.4 167.6,292.3 167.3,292.7 166.8,294.4 166.8,294.9 168.2,296.7 168.6,296.9 169,296.7 170.4,294.4ZM143.3,297.9 141.1,298.4 141.1,298.8 142.1,302.1 142.5,302.4 143,302.2 143.9,301.1 144.6,298.6 144.6,298.2ZM101.3,305.4 98.9,303 98.4,303.2 97,305.3 97,305.7 97.6,307.1 99.5,307.8ZM148.4,306.1 148.7,306.6 151.8,308 152.8,307.9 153.2,307.5 153.1,306.7 151,304.7 150.6,304.6 148.9,305 148.5,305.4ZM93,309.6 92.6,309.7 92.4,310.1 92.5,315 92.9,315.5 93.8,315.5 94.2,315.3 94.4,314.8 93.5,310ZM160.4,312.3 159.8,312.2 158.9,312.5 158.6,312.9 158.3,315.4 158.6,316.1 160.4,317.1 160.9,317.1 161.6,316.6 161.6,316.3 161.3,313.3ZM162.9,316.7 163.3,316.4 164.3,314.6 164,313.9 162.8,313.6 162.3,313.7 162.1,314.2 162.4,316.2ZM138.9,319 139.3,319.6 139.9,319.6 142.2,318.4 142.4,317.8 141.7,316.3 141.4,316 141,316.1 139,317.5 138.8,317.9ZM151.6,314.5 148.6,314.2 148.5,314.5 148.5,316.9 151.6,317.2 152.2,316 152,314.9ZM87.8,320 86,320.8 86,321.2 86.4,322.1 87,322.4 88.4,320.8 88.5,320.4 88.3,320ZM125.3,322.2 125.4,322.9 125.7,323 129.2,323.4 129.6,323.2 129.8,322.9 129.8,321.1 129.4,320.3 127.5,319.5ZM140.5,321.6 141,321.8 144.3,321.3 144.7,321 145.1,320.2 143.3,318.7 142.8,318.7 140.2,320.1 139.9,320.4 140,320.8ZM156.5,319.8 157.2,321.9 157.6,322.2 158.1,322.1 160.2,320.4 160.4,320 160.3,318.2 160.1,317.7 158.3,316.9ZM67.9,323.3 67.6,323.8 67.9,324.4 68.8,325 69.3,325 70.7,324.3 71,323.3 70.8,322.8 70,322.5Z"/>
<path fill="#d42470" d="M56.4,219.9 56.5,220.4 56.9,220.6 58.2,220.6 58.7,220.3 59.4,218.4 58.2,217.1 58,217 57.4,217.3ZM78.3,218.2 77.4,220.4 77.5,220.8 78.3,221.7 81.5,220.3 81.8,219.9 81.7,219.5 79.7,217.4ZM122.7,220.9 123.3,221.1 125.6,220.1 125.2,217.9 124.5,217.9 122.5,219.7 122.3,220ZM39.4,224.9 39.8,224.5 40.2,222.6 38.4,221.1 38,221 37.7,221.3 36.9,223.5 38.4,224.9ZM47.3,222.6 47.6,221.9 47.2,221.4 46.9,221.3 44.6,221.5 44.2,221.9 45,223.4ZM63.1,224.5 62.8,224.8 62.9,225.2 63.3,225.4 67.7,225.3 68.2,224.9 66.9,223 65.4,223.4ZM93.4,223.9 95.5,224.3 95.9,224.2 96,223.8 96,222 94.4,219.9 91.9,221.3 91.7,221.6 91.8,222ZM123.2,222.2 122.8,222 122.4,222.2 121.9,223 121.5,224.8 123.4,226 123.9,226.1 125,225.3 125,224.6ZM125.2,224.2 125.8,224.4 128.8,223.1 129.2,222.2 128.8,221.3 128.5,221.1 126.2,220.6 124,221.4 123.7,221.7 123.8,222.1ZM168.1,221.1 167.5,221.3 166.4,223.3 168,224.8 168.5,224.9 169.3,224.5 169.4,222 169.1,221.5ZM120.2,226.2 120.1,226.8 121.1,228.4 121.4,228.6 122.6,228.7 123.1,227.1 122.9,226.5 121.2,225.5ZM130.1,227 130.3,226.4 129,223.9 126,225 125.7,225.3 125.8,225.8 128.3,228.3ZM82.2,229.7 82,229.3 80.2,227.9 79.8,227.8 79.4,228.1 78.3,231.1 78.7,231.5 79.2,231.6 81.9,230.4ZM118.2,230.6 118.7,230.9 119,230.7 120.6,228.9 119.3,226.9 117.2,227.8ZM140.8,229.7 140.8,230.2 141.1,230.5 142.8,231 143.3,230.9 145,228.6 144.6,228.1 142.5,227.9 142,228.1ZM95.1,232.7 94.5,230.4 94.3,230.1 93.5,229.9 92.3,231.2 92.3,231.6 93.4,234.8 93.8,235.1 94.6,235.1 94.8,234.8ZM118.7,231.9 118.4,231.6 118,231.6 116.1,232.5 115.8,233.1 118.9,235.5 119.3,235.6 119.6,235.4 119.7,235ZM132.5,235.1 133.1,235.2 133.5,234.8 134.4,232 134.3,231.6 133.8,231.2 130.8,232.5 130.6,232.9 130.7,233.4ZM166.9,232.4 166.7,233 167.5,234.6 168,234.6 170.8,232.6 171,232.2 170.8,231.8 169.6,230.9ZM117.9,235.7 115.3,233.8 114.8,234.2 114.3,236.9 114.6,237.4 118,236.3ZM121.1,236.3 121,236.9 121.2,237.2 122.6,238.2 125.1,238.3 125.6,237.9 124.4,234.8 123.9,234.4 123.2,234.4ZM148.8,239.2 149.3,238.8 149.8,236.3 148.2,234 147.6,233.9 145.3,234.9 145,235.5 145.8,237.8 146.4,238.8 146.8,239.1ZM126.4,239.4 125.9,239 122.9,239.1 122.8,242.3 123.5,243.2 124.1,243.2 126.4,241.4 126.6,240.9ZM91.9,242.8 90.2,244.4 90.5,244.9 92.8,245.7 93.7,243.6 93.6,243.1 93.2,242.9ZM56.4,250.8 56.9,250.9 57.2,250.6 58.5,248.1 58.7,246.7 58.3,246.2 57.8,246.1 54.9,247.1 54.6,247.5 54.3,248.8 54.5,249.3ZM75.1,244.9 73.3,244.5 72.8,244.7 71.8,246 71.9,246.6 73.5,248 75.4,247.9 75.8,247.7 76.6,246.4ZM122.2,248.7 123.1,247.7 122.9,247.3 119.9,245.1 119.4,245 119.1,245.3 118.6,246.8 118.9,247.4 121.7,248.7ZM63.2,253 65.1,252.4 65.5,252 65.7,251.5 65.6,251.1 63.5,248.7 62.9,249 62.1,251.1 62.1,252.3 62.4,252.7ZM66.7,250.6 66.2,251.4 66.6,251.9 69.5,252.5 70,252.2 69.2,249.8 68.9,249.5 68.5,249.5ZM168.7,253.5 168.8,252.8 167.2,252.4 166.7,252.5 165,254.5 165.5,255 166.5,255ZM68,258.3 67.6,257.8 64.6,257.4 64.1,257.6 64.1,258.1 65.5,261.1 65.9,261.4 66.8,261.2 67.9,259.6ZM98.4,256.8 96.7,255.7 96.2,255.7 95.9,256 95.6,258.2 97.6,258.6 98.4,257.4ZM109.1,259 111,260.4 111.5,259.9 111.5,257 111.3,256.6 110.9,256.5 110.1,256.9ZM140.3,258.9 140.2,259.3 140.5,259.6 142.3,260.2 144,259.6 144.3,258.7 144.3,258.3 143.9,258.1 140.9,258.1ZM162.2,256.6 161.3,257.3 161.1,259.5 165,260.2 165.4,260.1 165.6,259.7 165.4,259.4 162.5,256.7ZM45.9,261.8 46.4,262.3 47.8,262.5 49.1,261.8 49.3,261.4 49.2,261 46.5,258.9 46,259.4ZM50.6,261.3 50.6,261.9 52.8,265.3 53,265.5 53.9,265.2 54.2,264.9 54.9,261.3 54.8,260.4 54.1,259.9 52.1,260ZM63.4,262 64.6,261.4 64.6,261 63.4,258.7 62.9,258.7 61,260.1 61.3,261.1 62.3,262ZM106.3,259.4 105.7,259 105.4,259.3 104.3,261.2 104.3,262.1 105.3,263.6 107,262.6ZM136.5,260.3 136,260.4 133.6,262.9 134.8,264.5 135.5,264.7 136.1,264.6 138.1,261.7 138,260.7ZM163.2,263.1 160.4,261.9 160,262.4 160,264.2 160.1,264.6 160.6,264.7 163.4,263.8 163.4,263.4ZM172.4,262.1 172.2,260.9 169,258.9 167.9,259.6 167.3,260.6 167.4,261.9 167.8,262.3 171.9,262.6 172.2,262.5ZM72.7,261.9 72.1,262.1 72.1,262.4 72.3,265.3 72.5,265.6 72.9,265.7 75.5,264.9 75.6,263.1ZM125.7,264.4 125.5,264.9 125.8,265.3 128,266.7 129.4,266.5 130.3,265.4 130.2,263.7 130,263.3 129.6,263.2 126.8,263.7ZM161.9,265.2 161.5,265.8 162.1,266.2 165,265.6 165.4,265.3 165.5,264.7 164.9,264.4ZM43.2,270.6 43.5,271.1 44.9,271.7 45.4,271.6 45.6,271.2 45.9,268.4 45.7,267.9 44.7,267.3 43.8,267.5ZM70.9,269.8 71.3,269.4 71.9,266.2 68.4,265.3 67.2,267.3 67.2,267.7 67.9,269 69.2,270ZM52.6,269.6 52.2,269.8 52.1,270.3 53.1,273 54.5,273.6 56.6,271.2 56.5,270.6 55.5,269.7ZM106.9,270.6 106.4,270.5 106,270.7 106.6,272.7 107.1,273 107.8,272.9 108.1,272.8 108.1,272.1ZM116.1,269.1 115.4,269.4 115.2,270.3 115.3,270.8 118.2,273.7 118.8,273.8 119.6,270.2ZM140.5,272.4 140.3,271.7 138.4,270.4 137,270.3 136.7,270.6 137,272.6 139.3,274 139.7,274 140,273.7ZM105.3,271.1 105,270.8 104.4,271 103,273 103,273.5 104.6,276.2 105.1,276.4 105.9,276.3 106.4,275.8 106.2,273.4ZM161.2,276.6 161.6,276.6 161.8,276.2 161.9,273.9 158.3,273.5 157.9,275.4ZM77.1,278.1 76.6,279.1 77.4,280.1 78,280.2 79.5,279.2 79.7,277.5 79.1,277.3ZM80.3,279.5 81,281.3 81.4,281.6 81.8,281.5 83.6,279.9 83.8,279.5 82.1,277.9 81,277.8 80.5,278.2ZM98.1,282.5 98.6,282.9 98.9,282.8 100.5,281.4 100.8,278.7 100.6,278.3 99.5,278.3 99.1,278.6 97.9,281.2ZM101.5,281.1 103.7,281.5 103.9,280.9 102.9,278.7 102.5,278.4 101.6,278.5ZM145.6,281.5 145.8,282.2 146.2,282.3 149.1,281.8 149.4,281.6 149.4,281.2 148.6,278.7 148.1,278.1 147.8,277.9 147.3,278.2ZM81.2,284.5 81.9,284.8 85.4,283.5 86,283 86.1,282.3 84.7,280.7 84.4,280.5 84,280.6 81.6,282.8 81.1,284ZM105.1,282.9 104.5,282.6 104.3,282.9 103.9,283.5 103.9,284.1 105,285.5 105.5,285.7 106.2,285.3 106.2,284.9ZM168.1,286.1 167.1,284.6 166.5,284.4 164.4,285.5 163.6,287.3 166.6,289.5 167,289.6 167.7,288.7ZM102.1,289.7 102.6,289.5 103.4,287.6 101.6,286.7 101.2,286.7 101,287.1 100.7,289.5ZM151.6,292.7 152.3,292.9 154.4,292 154.9,291.5 155,289.5 154.7,289 153.5,288.4 153.1,288.5 150.7,289.9 150.5,290.6ZM120.1,293.6 117.8,295.2 117.9,295.6 120,297.8 121.7,296.4 121.8,295.9 120.9,293.7ZM159.7,296.3 158.7,298.2 159,298.5 160.9,299.3 161.4,299.3 162.7,298.4 162.9,297.9 162.6,296.6 160.2,296.1ZM101.8,299.7 102.3,300.1 104.8,299.9 105.3,299.5 105.3,298.9 103.5,297.7 101.8,299ZM158.4,299 157.7,299.2 156.9,300.8 159.7,303 160.2,302.6 160.7,300.1ZM103.2,300.7 102.7,301.1 102.8,301.4 104.7,304.3 105,304.6 105.4,304.5 106,304 106.2,303.4 105,300.6ZM160.7,303.3 160.2,303.8 160.3,304.1 161.9,305.9 162.4,306.1 163.5,305.8 163.5,305.4 163,303.4ZM84.9,306.6 82.1,305.8 81.8,306.4 82.6,309.8 83.2,310.2 84,310.1 84.4,309.8 85.2,307.7 85.2,307ZM115,309.9 115.4,310 115.7,309.8 116.7,308.3 114.9,306.1 113.5,306.9 112.9,307.9ZM118.3,312.7 118.9,312.8 119.3,312.5 119,309.3 118.6,308.9 117.7,308.7 117.2,308.9 116.2,310.5ZM36.4,314.4 36.7,314.9 37.1,314.9 40.3,313.6 40.6,313.2 40.5,312.7 38.8,311.2 36.6,313.3ZM88.8,312.3 88.5,312.7 88.7,313.1 91.3,315 91.9,315 91.9,310.8 91.3,310.7ZM101.5,314.7 101.1,315.3 101.9,316 102.3,316.1 105,315.4 105.4,314.8 105.2,314 104.8,313.9ZM138.5,313.1 138,313.2 136.2,314.9 136.1,315.3 136.3,315.7 138.4,317 140.8,315.3 141,314.8 140.6,314ZM69.2,318.4 69.1,317.9 67.7,316.4 67.2,316.3 66.6,316.5 65.7,317.5 66.8,319.5 68.6,319.2ZM94,321.1 93.9,320.7 91.2,318 90.8,317.9 90.5,318.1 89.8,318.9 90,319.8 92.4,322.5 92.9,322.6 93.5,322.4ZM122.3,316.1 122.3,317.5 122.7,317.7 124.1,317.5 124.4,317.3 124.5,316.9 122.7,315.6ZM163.8,316.6 163.9,317.2 164.9,318.2 166.6,318.3 167.1,317.9 166.9,317.3 165,315.6 164.6,315.5 164.3,315.8ZM47.1,321.4 47.2,322.1 47.5,322.2 49.9,322.2 50.4,321.9 51.2,320.2 50.5,319.4 49.9,319.3ZM101.6,321.3 99.3,319.2 98.8,319.6 98.5,321.8 101.3,322.4 101.7,321.8ZM103.2,319.4 101,319.3 100.9,319.6 101,320 102.2,321 103.6,319.9 103.5,319.5ZM122,319.3 123.9,322.1 124.3,322.3 124.7,322.1 126.9,319.2 127,318.7 126.6,318 126.3,317.9 122.5,318.4 122.2,318.5ZM164.8,321.5 165.1,321.8 165.6,321.7 167.6,320.2 167.8,319.9 167.6,319.5 166.8,318.8 165.5,318.9 165.1,319.2 164.5,320.3ZM87.2,323.7 87.1,324.8 87.5,325 90.7,325.1 91.1,324.8 91.9,323.1 90,321 89.7,320.8 89.3,321Z"/>
<path fill="#dc2c7c" d="M60.4,223.2 61.1,223.3 61.3,223.1 62.7,220.4 63.1,218.9 63,218.5 62.6,218.3 60.5,218.5 60,218.8 59.2,220.7 59.2,221.2ZM90.8,218 91.3,220.6 91.9,220.6 93.9,219.4 94.1,218.6 91.1,217.5ZM139.9,218.3 139.6,218.6 139.6,219 140.2,220 142.5,221.2 144.5,219.2 144.7,218.8 144.1,216.9 143.7,216.8ZM143.2,221.5 143.1,221.9 143.6,222.4 146.1,222.1 146,220.1 145.7,219.8 145.2,219.6ZM42.5,221.3 41.8,221.4 41,222.6 40.4,224.7 41.3,225.4 43,225.9 44.2,224.1 44.2,223.6 43.1,221.8ZM77.1,224.4 77.9,223 77.9,222.1 76.7,220.8 74.9,220.4 74.4,220.5 73.5,221.6 73.6,223 73.8,223.4 76.2,224.7ZM56.4,229.9 57.1,230 57.9,228.7 57.9,228.3 57.2,226.8 55.4,227.3 55.1,227.6 55.1,228.1ZM145.4,226.2 144.8,225.5 144.4,225.4 142.3,225.9 141.9,226.2 141.9,226.6 142.5,227.3 145,227.6 145.4,227.4ZM82.7,229.3 82.7,230.2 83.8,230.7 86.4,228.2 86.6,227.8 86.4,227.4 86,227.3 83.4,227.9 83,228.3ZM98.6,226.6 97.9,226.5 97.7,226.8 96.9,229.8 97.1,230.3 98.6,231.2 99.1,231.2 100.1,230.6 100.3,230.1 100.2,228.3ZM104.2,227.5 103.8,227 103.3,227 100.9,228.4 100.6,228.8 100.7,230.1 100.9,230.6 102.5,231.3 104.2,230.9ZM114.5,228.6 114.6,232.3 115.2,232.4 117.8,231 116.7,228 116.4,227.7 115.3,227.5ZM36,235.1 36.4,235.4 39,235.4 39.4,235.1 39.8,234.1 37.2,232.4 35.8,234.2ZM155.5,232.8 154.9,233.8 155,234.3 156.1,236 156.5,236.2 156.9,236.1 158.4,234.7 158.5,234.1 157.2,232.2ZM78.1,238 78.1,238.4 78.5,238.7 81.5,239.3 81.9,239.1 82.5,238.4 81.3,235.7 79.7,235 79.1,235.3ZM38.2,239.4 38,239.7 38,241.1 41.6,242.2 43.6,239.4 43.7,238.9 43.1,238 41.1,237.7ZM55.5,242.6 56.1,242.6 58.7,241.5 59,240.9 57.6,239.5 57,239.5 55.2,240.7 54.9,241.2 55,241.9ZM152,242.5 152.5,242.8 155.8,242 156.2,241.7 155.4,239.2 155,238.8 154.3,238.8 151.4,240 151.2,240.7ZM118.7,244.6 118.6,244.2 118.3,243.9 117.9,244.1 115.7,246 115.5,246.3 115.9,247.1 116.4,247.3 117.5,247.1 117.9,246.8ZM126.1,249.4 125.8,249.1 125.1,249.1 124.8,249.7 125.7,252.5 126,252.9 126.4,252.9 126.7,252.5 126.9,251.4ZM136.7,255.1 137.6,253.9 137.4,253.2 136.9,253 133.8,253.4 133.5,253.6 133.5,254.1 134.8,256.3ZM69,257.5 68.8,257.9 68.8,259.3 71.3,260.4 71.9,260.3 73.2,258.1 70.7,256.3ZM74.8,257.9 76.5,259.3 77,258.9 77.2,256 77.1,255.6 76.7,255.5 76.3,255.7ZM156.8,259.5 156.2,259.5 155,260.7 154.8,261.2 155,261.6 155.5,261.8 158.2,261.2 158.1,260.6ZM62.3,267.1 62.5,267.4 62.9,267.5 63.9,267.2 64.3,266.6 63.3,262.9 63.1,262.7 62.4,262.5 61.9,262.8 61.7,263.4ZM89.1,266.1 89.4,266.7 90.1,266.9 92.9,265.7 92.2,261.5 92,261.2 91.6,261.1 91.3,261.4 89.4,264.9ZM133.2,266.6 133.1,267.1 133.8,268.7 134.8,269.4 135.3,269.4 135.6,269.1 136.1,266.5 135.8,265.5 134.9,265.1 134.4,265.3ZM158.6,272.8 160.7,273 160.9,272.4 160.1,270.5 159.8,270.2 159.4,270.3 158,271.4 157.9,272.1ZM153.5,287.5 155.1,288.4 155.6,288.4 156.7,287.7 155.9,284.7 155.6,284.4 155.2,284.4 153,286ZM128.2,295.2 130.4,296.3 130.7,296 132,293.2 132,292.7 131.6,292.5 130,292.6 128.1,294.4 127.9,294.9ZM151.9,296.7 152.2,297.1 152.6,297.1 154.7,296.1 154.6,293.2 154.3,292.8 153.9,292.8 151.8,293.8 151.6,294.3ZM156.5,296 156.3,296.4 156.5,296.8 157.8,297.7 159.1,295.9 159.1,295.4 158.4,294.5ZM124.4,301 124.6,300.6 124.5,297.8 124.2,297.4 122.6,296.8 122.1,296.9 120.5,298.5 120.3,298.8 120.4,301.2 123.5,301.5ZM152.8,297.6 152.5,298.1 152.7,299.9 153.1,300.5 154.2,301 156.1,300.7 157.3,298.9 157.2,298.3 155.3,296.6ZM153.9,306.8 153.7,308.1 154.8,309.6 155.2,309.8 155.6,309.6 157.6,306.7 157.7,306.3 157.2,305.8 155.3,305.6 154.9,305.7ZM106.2,308.1 105.4,306.2 105,306.2 104.7,306.5 103.7,309.7 103.9,310.3 105.4,311.2 105.9,310.7ZM129.5,308.6 129.1,308.4 128.7,308.6 127.4,310.1 127.4,310.7 128.7,312.5 129.2,312.7 131.9,312.2 131.9,311.5ZM131.9,309.1 131.5,309.2 131.3,309.6 131.4,309.9 132.9,311.8 133.5,311.9 134,311 133.8,309.7ZM157.7,307.6 155.9,310.6 156.1,310.9 158,311.9 158.5,311.9 159.4,311.5 159.7,311.2 160,309.4 159.8,309 158.4,307.6 158,307.4ZM98.5,317.1 99,316.9 100.3,315.3 100.3,314.4 99.5,312.8 99,312.5 97.3,312.7 94.9,315.1 94.7,315.7 95.1,316.2ZM84.8,319.7 85,320 85.4,320.1 88,319.2 88.3,318.7 85.9,316.5 84.9,316.5 84.6,316.6 84.5,317ZM79.7,318.6 79.3,318.4 79,318.6 78.2,319.6 78.2,320 79,322.6 79.4,322.9 81.5,322.8 82.1,321.6 82,321.1ZM136.2,320.8 137,320.3 137.2,319.9 137,319.5 134.3,319.3 133.8,319.7 133.9,320.5 134.3,320.9ZM67,323.5 65.6,322.1 65.2,322 63.3,322.3 62.9,322.8 62.9,323.8 63.7,325.7 64.9,326.2 65.4,326.1 66.9,324.6Z"/>
<path fill="#d82878" d="M62.7,221.9 61.9,223.7 62.2,224 62.6,224 64,223.3 64.3,223 63.5,221.8 63,221.6ZM73.9,220.2 74,219.7 73.2,217.8 72.9,217.5 72.2,217.4 70.1,218 69.7,218.5 71.7,220.7 72.9,220.9ZM112.1,221.9 108.2,220.6 107.8,221.1 108.2,225.1 108.5,225.5 110.3,225.1 112.6,223.5 112.8,222.9ZM154.6,222.3 153.6,224.8 153.8,225.1 155.4,225.6 155.8,225.6 157.7,224.3 158.2,223.9 158.3,223.3 157.7,222.2 155.1,222.1ZM82,226.4 80.1,226.8 80.2,227.5 81.8,228.7 82.2,228.7 82.5,228.4 82.7,227.6ZM102.5,226.9 102.7,226.2 101.6,224.3 101.3,224 100.8,224.1 99,226.1 100.6,227.8ZM132.4,226.6 132.2,226.9 132.4,227.3 133.5,228.2 134,228.2 135.6,227.5 135.9,227.1 135.8,226.7 134.3,225.1ZM159.1,224 158.7,224.1 158.2,224.7 159.6,227.2 160.3,227.4 162,226.3 161.6,224.5ZM111.4,231.7 111.8,232 113.7,231.9 113.9,231.6 113.7,229.2 112.3,229 111,230.1 110.9,230.7ZM52.3,233.6 51.9,234.1 52.1,236.6 52.5,237 54.9,235.7 55.1,235.1 53,233.6ZM60,237 63.4,238.3 63.6,238 64.3,236 64.2,235.5 62.9,234.1 59.7,236.5ZM78.7,235.2 78.5,234.6 78.2,234.5 75,235 74.6,235.3 74.1,237.8 74.7,238.3 77.4,238.3ZM125.9,236.3 126.2,236.6 126.6,236.5 126.8,236.1 126.7,235 126,234.8 125.6,235ZM153.8,235.3 153.7,235.8 154.6,238 154.9,238.3 155.3,238.3 155.9,237.1 155.9,236.6 154.9,235.1 154.5,234.8ZM118.1,242.8 118.5,242.6 118.6,242.2 118.1,241.3 115,240.2 114.4,240.4 113.6,242 113.6,242.5 114.1,242.9ZM149.1,240.3 149,239.8 148.6,239.6 146.8,239.5 146.4,239.7 145.3,241.1 145.3,241.7 147.2,244 147.7,243.7ZM162.4,239.9 161,238.8 160.7,239 158.8,241.5 158.9,242.1 161.2,242.5 161.7,242.2ZM77.8,247.3 77.2,247 76.9,247.2 76.3,248.1 76.2,248.6 77.1,250.6 77.6,250.9 78.4,250.6 78.8,249.6 78.8,249.1ZM105.4,248 104.8,249 105,249.6 107.3,251.3 107.7,251.4 108.1,251.1 108.6,249.5 108.4,248.9 106.5,247.8ZM138.7,248.8 139.1,249.4 141.3,249.8 141.8,249.7 142.1,249 141.8,248 141.2,247.7 139.1,248 138.8,248.2ZM91.9,250.7 92,250.1 91.5,249.4 90,249.7 90,250.3 90.7,251.2 91.1,251.4ZM108.6,251.7 108.8,252.3 111.9,253.5 113.3,250.9 110.4,249 110,249 109.4,249.4ZM141.9,252.9 140.9,254.3 141.4,254.8 144.8,255.1 145.3,254.9 145.8,253.5 145.4,253.3 142.4,252.7ZM32.7,258.6 33.1,259.1 36.7,259.5 37.1,259.4 37.2,259.1 37,258.4 35.3,257.1 34.8,257.1 33,257.9ZM63.2,257.7 63.5,256.9 62.9,256.6 60.3,257.3 59.9,257.7 59.7,258.6 59.9,259.1 60.6,259.2ZM126.5,257.9 126.9,258.3 129.5,258.7 130.3,256.1 130.1,255.3 129,255.3 126.6,257.3ZM145.8,258.1 145.4,258 145.1,258.4 144.9,259.8 146.3,261.5 147.6,261.2 147.9,260.8 148.1,259.3ZM55.7,260 55.4,260.6 55.6,261 57.9,262.6 60.2,261 59.9,260 58.9,259.4 56.4,259.7ZM77.6,260.7 77.2,261 76.1,263.1 76.2,264.9 77,265.3 77.6,265.1 78.7,262.9 78.6,260.8ZM80.5,264.8 79.1,263.7 78.8,264 78,265.3 78.2,266 78.7,266.1 80.6,265.4ZM99.3,261.5 99,261.9 99.1,262.3 99.6,262.8 100.2,263 103.4,262 103.7,261.7 103.7,261.3 101.5,260.3 101.1,260.4ZM81,264.5 81.5,264.6 81.8,264.3 82.4,263.1 82.4,262.4 80.8,260.4 80.3,260.3 79.6,260.6 79.4,262.7ZM98.9,263 98.3,262.9 98.1,263.2 97.2,266.5 97.5,267.1 98.2,267.4 98.7,267.3 99.9,266.4 100,265.9 99.4,263.6ZM145.4,263.7 144.9,263.4 143.3,263.6 141.7,265.2 141.6,265.8 142.8,266.7 145.6,266.4 146,266.2 146,265.8ZM149.1,264.9 150.2,264 150.1,263.6 148.3,261.9 147.8,261.8 146.2,262.4 145.9,263.2 146.6,265.5 146.8,265.8ZM171,267.3 171.4,267.4 171.8,267.2 172.3,266.4 172,263.2 167.8,262.8 167.3,263 167.3,263.7ZM111.6,268 111.1,268.3 110.6,269.2 112.1,271.3 112.7,271.4 114.2,270.5 114.8,269.1 114.5,268.4ZM125.3,269.8 125.9,270.1 127.5,269.5 127.7,267.7 127.5,267.3 124.9,265.8 124.4,266.3 124.2,267.2ZM172.6,269.8 171.4,268.1 171.1,268.2 167.7,270.2 167.5,270.5 167.6,270.9 168.3,271.4 172.5,270.9ZM96.3,272 93.9,271.6 93.6,272.2 93.6,272.6 93.9,272.9 95.8,273.5 96.4,273.3ZM123,273.5 119.7,274.2 119.8,274.9 122.4,277.1 123.4,277 123.2,273.9ZM147.7,277 148.1,277.5 148.4,277.4 152.5,274.8 152.7,274.3 152.1,273.8 148.1,274.5 147.7,275ZM112.4,280.8 112.4,281.4 113.2,281.7 116.9,281.5 117.2,281.4 117.4,280.6 117.1,279.9 114.6,279.1 113.5,279.4ZM121.6,279.8 121.7,280.4 122,280.5 125.1,280.3 125.5,279.8 125.5,278.6 124.7,277.6 122.9,277.6 122.5,277.9ZM165.2,278.4 165.3,279.1 167.4,280.7 167.9,280.8 168.9,280.3 168.6,278 167.3,276 166.7,276.2ZM139.6,284.8 139.8,284.5 140.2,282.1 140.1,281.7 139.7,281.5 137.5,281.6 136.3,282.3 136.1,283 137.7,285.7ZM142.1,281.8 141.7,281.3 141.1,281.2 140.6,281.7 140.2,284.4 140.4,284.9 141.1,285.4 141.6,285.5 142.6,284.9ZM112.4,285.5 111.3,284.1 110.9,284 110.5,284.1 108.6,286 108.5,286.4 109.1,288.4 110.9,289.3 112.9,287.8 113,287.2ZM149.7,289.7 152.7,287.8 152,286.1 150.8,285 147.8,288 148,288.6ZM159.8,284.4 159.4,284.7 158.7,286.7 158.8,287.1 159.1,287.3 161.6,287.7 161.8,287 160.5,284.6ZM103.3,289.7 103.4,290.3 103.9,290.7 105,289.9 105.2,289.5 104.5,288.7 104.1,288.6ZM124.5,291.4 124.8,291.6 125.2,291.5 127,290 127.2,289.1 127,288.7 124.7,287.2 123.3,287.2 122.9,287.7 122.9,288.6ZM107.3,296.2 107.8,296.6 111.4,296.2 111.6,293.6 111.4,293.2 111,293.1 106.8,293.8 106.6,294.4ZM140.3,297.6 137.8,295.6 137.3,295.5 136.1,296.3 136.1,296.8 137.3,299.5 140.1,298.3 140.3,298ZM145.1,297.2 145.6,296.8 145.7,294.3 144.4,292.8 143,292.3 142.5,293.3 143.4,296.8 143.9,297.2ZM127.7,300.5 127.8,301.1 128.1,301.2 130.7,301.3 131.2,301.1 131.6,300.1 131.4,298.6 130.8,297.7 130.5,297.5 130.1,297.6 128.9,298.6ZM104.5,305.9 104.3,305.4 104,305.3 101.8,305.7 99.9,308.1 99.9,308.5 100.5,310.2 102.9,310 103.4,309.7ZM92.2,309 91.4,308.1 90.9,308.1 88.5,309.3 88.3,309.8 88.6,311.4 89.2,311.5 92,309.7ZM106.2,311.4 106.4,311.8 106.8,311.9 108.1,311.7 109.2,310.6 109.3,310.2 109.1,309.8 106.9,308.6 106.5,309ZM106.2,315.1 106.7,315.6 109.9,316 110.5,315.5 108.4,312.5 108,312.4 106.7,312.5 106.3,312.8 106.1,313.5ZM130.4,319.6 130.5,320.3 130.9,320.4 133,320 133.3,318.9 133.3,317.1 133.1,316.8 132.6,316.7 132.3,316.9ZM135.4,315.7 134.5,315.6 134,316.1 133.9,316.5 134,318.6 137.6,318.8 138,318.7 138.1,317.9 137.9,317.5ZM62.6,321.3 63.1,321.7 65.4,321.2 65.9,320.3 65.9,319.8 64.9,318 63.8,318.1 62.4,319.3 62.2,319.8ZM73.1,318.7 71.2,317.9 70.1,318.1 69.8,318.4 69.5,319.6 70.6,321.8 71.8,322.3 73.3,321.6 74,320.6 73.9,320ZM148.4,317.5 146.9,318.4 146.6,319.5 150.4,321.4 151.7,318.9 151.7,318.1 151.2,317.7ZM39,322.5 38.8,321.9 38.5,321.8 37,321.9 36.6,322.2 35.8,324.7 36,325.3 37.4,325.8 37.9,325.5ZM62.5,323.4 62.3,322.1 61.8,322 58.2,323 57.9,323.3 57.8,323.7 58.5,325.3 58.8,325.6 59.2,325.6 62.2,323.8Z"/>
<path fill="#cc1464" d="M67.2,222.4 69.1,225 69.7,224.7 71,221.3 70.9,220.8 69.1,218.9 68.6,218.8 67.8,219 67.4,219.4ZM54.7,222.8 55,222.2 54.6,221.6 52,220.9 51.5,221.1 50.4,222.9 52.2,224 52.6,223.9ZM135.7,239.1 136,238.8 136.7,236.5 134.1,235.5 133,236 132.2,237.7 132.4,238.5 134.2,239.5ZM156.4,238.7 156,239 156,239.4 156.8,241.7 157.5,242.1 157.8,241.9 159.8,239 159.3,238.5ZM99.8,252 100.6,251.8 102.2,248.7 101.2,247.8 99.4,247.6 99,247.8 97.3,250 97.2,250.4 97.5,250.9ZM77.5,259.6 77.6,260 78,260.1 80.2,259.7 80.6,259.3 80.9,257.4 80.1,256 79.7,255.7 78,255.6ZM126.3,309.6 127,309.5 128.6,307.6 128,306.7 125.6,305.7 125.2,306.2 125.3,308.6Z"/>
<path fill="#d82874" d="M88.1,220.8 88.2,221.2 89,221.8 89.8,221.9 90.6,221.4 90,217 89.6,216.6 88.7,217 88.4,217.4ZM56.3,226.2 56.6,225.9 56.5,225.5 54.9,223.5 52.9,224.5 53,225.4 54.4,226.8ZM32.8,224.9 32.6,225.3 32.8,225.7 34.1,227 35.8,228 38.1,225.2 36.6,223.7 35.7,223.3 35.2,223.3ZM58.2,226.1 58,226.7 58.5,228 58.9,228.3 61.4,229 62,228.7 62.6,227.1 61.8,224.8 61.1,224.4 60.6,224.4ZM94.6,229.6 96.2,229.6 97.1,226.7 97,226.3 96.7,226.1 96.3,226.2 93.9,228.4 93.8,229ZM137.4,226.8 138.1,225.5 137.9,224.5 137.4,224.1 135.1,223.6 134.8,223.9 134.9,224.5 136.7,226.6ZM44,228.3 43.9,227.8 43,226.8 41.3,226.3 41.1,226.7 40.2,230.2 42.7,230.9 43.2,230.9 43.4,230.5ZM120,230.5 120,231.1 120.3,231.3 122.6,231.8 123.1,231.4 123.3,230.6 122.9,229.8 121.3,229.4 120.9,229.5ZM167.5,228.7 166.9,228.7 165.9,229.3 166.4,231.1 166.7,231.4 167.1,231.4 168.5,230.6 168.7,230.2 168.6,229.8ZM29.2,231.1 28.9,232.3 29.1,232.8 31.2,234.6 31.8,234.6 32.9,233.9 32.9,233.5 31.4,231.1 30.3,230.7ZM120.1,231.9 119.5,232.2 119.5,232.6 120.3,235.1 120.8,235.5 122.9,233.8 123.1,232.9 122.7,232.5ZM138.6,232.5 138.1,232 135.1,232.1 134.3,235 137.1,236 138.5,235.8 138.9,235.2ZM148.5,233.1 148.5,233.6 149.9,235.3 150.5,235.5 151.2,235.2 151.5,234.7 151.2,232.2 149.3,232.1 148.8,232.4ZM32,235.3 31.7,236 32.6,238.5 33.2,238.8 35.4,236.2 35.5,235.7 35.1,234.9 34,234.5ZM62.1,239.5 62.3,238.8 62,238.6 58.9,237.2 57.9,237.5 57.7,238.6 57.9,239 59.6,240.5 60.2,240.5ZM69.8,239.5 69.3,239.9 69.8,240.8 72.1,241.8 72.7,241.6 73.2,240.3 73.1,239.9 72.7,239.7ZM80.2,243.7 80.8,243.8 82,242.9 81.6,240.2 81.2,239.8 78.8,239.4 78.3,239.5 78.2,239.9 78.4,241.4ZM91.3,239.9 90.6,239.9 89,241.8 89.6,243 89.9,243.2 90.4,243.1 91.2,242.2 91.6,240.4ZM93.4,245.7 93.7,246.3 94.2,246.3 96.3,244.4 95.4,242.7 95,242.5 94.4,243ZM157.8,243.9 158.2,244.4 161.4,245 162,244.6 161.6,243.5 161.2,243.2 158.3,242.9 158,243ZM90.2,245.3 89.6,245.4 87.9,247.2 87.7,248.2 88,248.7 88.6,249 91.4,248.7 91.8,248.5 92.5,246.8 92.5,246.4 92.3,246.2ZM148.6,246.4 148.2,246.7 148.3,247.1 150.4,250.2 151,250.4 151.9,250 152.2,249.6 152.7,246.8 152.5,246.3 151.8,245.7 151.4,245.6ZM34.5,252 34.3,252.4 34.4,252.7 35.7,254.2 38.4,253.4 38.4,251.4 37.3,250.1ZM44.6,247.9 44.2,248.1 43.8,248.8 44,250.5 44.5,251.5 45.9,252.9 46.8,253.1 48.2,252 48.5,250.7 48.4,250.2 46.5,248.1ZM145.8,249.3 146.7,253 148.7,253.1 149.1,252.9 150.1,251.2 150.1,250.6 147.8,247.3 147.2,247.2 147,247.4ZM153.9,251.9 153.9,251.5 153.7,251.2 152.2,250.6 150.7,251.3 149.7,253.3 150.4,254.3 151.6,254.5 152.1,254.3ZM33.8,266.6 34.9,267.1 35.3,266.8 36.7,264.4 36.6,263.8 32.8,263.7 32.7,264.3ZM104.9,264.6 104.9,264 103.9,262.4 100.2,263.5 100.6,265.8 101,266.2 103.1,266.5 103.6,266.3ZM120.3,264.4 120.1,265.1 120.5,265.4 123.6,265.9 124.1,265.7 124.6,264.8 122.9,262.9ZM138.8,262.9 138.4,262.7 138,262.9 136.6,264.9 136.6,265.4 136.8,265.7 140.2,265.3 140.2,264.7ZM149.8,265.1 149.6,265.5 149.8,267.2 150.3,267.6 151.9,266.3 150.9,264.9 150.6,264.7ZM166.1,268 167.1,269.7 170.1,268.1 170.4,267.8 170.2,267.3 166.9,264.3 166.3,264.6 166,265.9ZM89.4,271.4 89.6,273.6 90.9,274.8 91.4,274.8 91.8,274.5 93,271.5 90.4,270.1ZM81.9,272.3 81.2,272.2 79,273.8 79.5,276.4 80.2,277.1 81.7,277.2 82.1,276.9 83.2,274.7 83.2,274.2ZM110.4,274.7 110.6,274.3 110.4,273.9 109.6,273.4 107.1,273.6 106.7,274.1 106.8,276.1 107.4,276.7 108,276.7ZM149.5,277.3 149.3,277.6 149.4,278 149.8,278.2 152.9,278.1 153.4,277.7 153.8,276.6 153.7,276.2 153.2,275.5 152.5,275.4ZM96.8,280.4 97.2,280.5 97.6,280.3 98.4,278.1 96.4,276.7 96,276.6 95.4,276.8 95,277.2 94.9,278.7 95.1,279.2ZM126.4,281.7 126.9,282.2 127.4,282.3 128.5,281.8 129.7,280 129.7,279.6 129.3,278.7 126.2,278.9 126.1,280.4ZM150.5,281.8 151.1,281.9 153.1,280.7 153.3,280.2 153,278.9 150,278.9 149.6,279.2 149.5,279.6ZM90.8,290.1 91.3,289.7 92,287.6 89.1,285.9 87.8,287.8 90.2,290ZM113.6,288.8 112.9,288.7 111.6,289.7 111.5,290.2 112.2,292.2 113.2,292.1 114.8,290.4ZM167.5,290.1 167.7,290.9 168.1,291 171.4,290.3 171.8,289.7 171.2,288.9 170.8,288.7 168.3,289ZM95,291.6 92.2,290.7 92,291 92,291.4 93.4,294.2 93.8,294.5 95.7,294.6 96,294.1 95.3,291.9ZM98.2,294.3 98.7,293.9 99.3,290.4 97.4,289.7 96.1,291.3 96,291.8 96.9,294.2ZM99.8,294.9 99.5,295.1 99.4,295.6 99.8,297.4 101,298.6 101.7,298.6 103,297.5 103.2,297 102.7,295.3 102.2,294.9ZM106.7,297.4 106.9,296.6 106.2,294.5 105.8,294.2 104.7,293.9 103.4,294.6 103.2,295.1 103.9,297.3 105.6,298.2ZM108.3,297.1 107.8,297.6 108.5,298.5 108.9,298.6 111.5,298.3 111.9,297.7 111.7,297.2 111.2,296.9ZM124.8,292.9 124.2,292.7 121.8,293.8 122.4,295.8 122.7,296.1 124.5,296.7 125,296.6 126,295.3 126,294.7ZM106.8,303.1 107.4,303.4 107.7,303.2 108.6,301.3 108.2,299.1 107,298 106,298.7 105.6,299.9ZM137.4,300.3 137.1,300.8 137.3,301.1 139.2,302.6 140.6,303 141.5,302.5 140.6,299.3 140.3,299 139.9,299ZM161,302 161.1,302.4 161.5,302.6 163,302.6 164.3,301.7 164.5,301.1 163.6,299.3 163.3,299.1 162.9,299.1 161.7,299.9ZM156.6,301.2 156.2,301.1 154.7,301.6 155,304.7 155.5,305.1 157.5,305.4 158,305.3 159.3,303.7ZM118.6,303.2 115.5,305.4 115.6,305.8 117.3,307.9 119,308.3 120,307.7 120.2,307.2 119.4,303.5 119.1,303.1ZM142.9,303.3 142.1,303 141.3,303.3 141,303.7 140.8,305.3 141,305.7 142.9,307 143.3,306.6 143.5,304.3ZM99.5,308.6 97.5,307.6 97,307.6 95.1,309.5 97.2,311.9 99.1,312 99.6,311.7 100,310.7ZM78.2,311.4 76.2,312.7 76.3,313.1 78.9,317 79.3,317.2 79.7,317.1 81.1,315.7 81.2,315.1 80.1,312.2 78.7,311.4ZM82.7,310.7 80.7,312.2 81.7,315.1 82.1,315.4 82.9,315.2 85,312 85,311.4 84.6,310.8 84.1,310.6ZM94.8,309.9 94.4,309.8 94,310 93.9,310.4 94.6,313.7 95.1,314.1 96.9,312.3ZM167.5,318 168.4,319.2 170.2,319.3 171.7,316 169.7,314.1 169.2,314 168.9,314.3ZM35.1,319.2 35.2,319.8 36.4,321 38.1,321 38.4,320.8 38,318.2 37.8,317.8 36.6,317.4ZM145.1,321.2 145.3,322.4 145.7,322.7 149.7,323.2 150.3,322.8 150.4,322.4 150.1,322 146.4,320.1 145.8,320.2Z"/>
<path fill="#dc3480" d="M95.1,218.2 94.8,218.6 94.8,219.7 96.4,221.8 99.2,220.8 99.2,218.1 99,217.7 98.6,217.6ZM50.6,229.2 50.2,229.7 50.2,230 51.9,232.7 52.4,232.9 52.8,232.6 53.6,231 53.1,229.5 52.6,229.2ZM138.3,230.9 138.7,231.1 139.1,230.9 139.4,230.4 139.4,230.1 137.8,227.7 137,227.6 136.6,228 136.6,228.4ZM37,236 36.5,236.4 36.5,236.7 38,238.9 40.1,237.7 40.4,237.4 39.6,236.2 39.2,236ZM65.8,242.5 66.3,243 67.9,243 68.3,242.7 69,241.2 68.9,240.5 68.4,240.2 65.7,240.8ZM51.5,268.8 52,269.2 55.6,269.1 56.1,266.4 54.5,265.6 53.2,265.9 51.5,268ZM86.4,269.6 86.3,270.3 86.6,270.5 88.8,270.9 89.8,269.5 89.4,267.5 88.8,267.5ZM72.5,279.5 73.3,280.1 73.8,279.9 74,279.4 73.6,278.4 73.2,278.4 72.6,279.1ZM92,286.7 92.4,286.7 92.7,286.4 93.3,284 92.7,283 92.2,282.8 89.3,283.3 88.9,283.5 88.9,283.9 89.4,285.1ZM158.1,293.1 158.7,293.1 159.7,291.9 157,288.8 156.4,288.7 155.6,289.5 155.6,291.1 155.8,291.5ZM132.3,299.6 132.8,300.1 135.8,300.3 136.3,299.9 135.4,297.4 132.5,298.4 132.2,298.9ZM91,302.4 90.9,301.7 89.8,300.8 89.2,300.8 87.3,302.3 87.8,304.3 88.2,304.6 89,304.7 89.4,304.5ZM91.7,302.4 90.6,304.2 91.1,304.6 93.1,304.3 93.5,304.1 93.5,303.6 93.1,302.4 92.5,302.1ZM88.3,308.9 90.6,307.5 90.5,307.1 89.4,305.4 89,305.2 87.6,305.1 85.9,306.4 85.7,306.9 86,307.5 87.8,308.8ZM74.8,311.8 75.1,312.2 75.6,312.1 77.8,310.9 78,310.3 77.8,309.9 75.3,308.5 74.9,308.4 74.6,308.7 74.3,309.8Z"/>
<path fill="#d0206c" d="M102.8,221.4 103.3,222 104.3,221.9 106.9,220.1 107.1,219.8 107,219.4 105.7,217.7 105.3,217.5 104.9,217.7 103,219.6ZM146.8,223.9 146.8,223.2 146.2,222.9 144.8,223 144.3,223.4 145,224.8 145.6,225.2ZM93.4,224.8 91.9,226.6 92.1,227 93.2,227.7 95.6,225.4 95.2,224.9 93.8,224.7ZM65,230.2 64.9,230.6 65.1,230.9 65.5,231 67.1,230.3 67.4,229.8 67.1,228.6 66.4,228.6ZM95.4,234.8 95.5,235.2 95.9,235.4 96.2,235.3 97.7,234.1 98.1,231.9 97.5,231.8 95.9,232.8ZM143.7,232 144.8,234.3 145.2,234.3 146.8,233.6 147.1,233 144.3,231.2 143.9,231.4ZM83.8,234.9 82,235.6 82,236 83.1,238.1 85.4,237.9 85.8,237.7 86.1,236.9 86,236.7 84.4,235ZM109.6,237.9 107.1,237.4 106.9,237.7 106.5,239.4 107,240.7 109.3,240 109.9,238.6ZM77.2,245.8 77.7,245.9 79.6,245 79.8,244.6 79.7,244.2 77.8,242.1 77.1,242.4 75.8,244.3ZM36.8,248.2 37.6,249.3 38,249.2 39.8,247.9 40,247.3 39.5,246.2 38.4,246.1 38,246.2 36.9,247.6ZM64,247.3 63.5,247.7 63.6,248.1 65.4,250.2 65.8,250.4 66.1,250.2 66.3,249.8 65.8,247.1ZM104.9,247 103.7,244.3 103,244.6 101.8,247.1 101.9,247.7 102.8,248.3 103.9,248.3 104.8,247.6ZM143.7,245.8 142.5,246.2 142.2,247.3 142.8,249.1 145.1,249.3 145.6,249 146.5,247 146.2,246.7ZM90.3,254.5 90.7,254.4 90.9,254 90.7,252.3 88.6,249.6 87.9,249.1 87.3,249.2 86.5,249.9 86.2,250.8 87,253.5 87.3,253.9ZM100.9,251.9 101.1,252.5 101.7,252.7 103.3,251.9 104.3,249.9 104,248.9 103,248.8 102.5,249ZM120.6,252.6 120.5,252 120.2,251.8 118.3,251.7 117.9,251.9 116.9,253.1 117.1,254.8 117.7,255.5 118.1,255.6 118.5,255.4ZM164.6,248.8 164.3,249.3 164.5,249.6 166.8,251.4 169.2,251.7 169.4,251 168.9,249.2 165.1,248.6ZM70.5,253.6 66.5,252.7 66.2,253 66.3,253.4 68.4,256.3 69.1,256.4 70.2,255.6ZM108.5,252.7 107.9,252.8 106.9,254.1 106.7,255.1 107,255.3 110.1,256.1 111.6,255.6 111.9,255.2 112,254.5 111.7,254.1ZM141.2,255.4 140.8,255.5 140.7,255.9 140.8,257.4 144.9,257.4 144.9,255.9ZM99.5,257.4 99,257.7 98.4,258.9 98.7,260.4 99.1,260.7 100.6,259.9 100.8,259.5 100.7,257.5ZM71.4,261.9 71.5,261.3 71.3,261 68.4,260 67.1,261.5 67.1,262 67.9,263.7 68.2,264 68.6,263.9ZM50.7,267.7 51.3,267.6 52.6,265.8 50,262 48.6,262.8 48.4,263.3 49.4,267ZM56.4,265.9 57.7,265.6 57.6,263.6 55.6,262 55.2,262.4 54.7,265ZM94.9,265.7 94.9,266.2 95.2,266.5 96.3,266.6 97.1,263.8 96.8,263.5 96.2,263.7ZM123.1,266.3 119.6,265.8 119.4,266.4 120.1,268.5 120.4,268.9 120.8,268.8 123.5,267 123.4,266.6ZM46.1,271.2 46.4,271.7 46.7,271.7 49,270.9 50.9,269.4 51,268.5 50.7,268.2 49.2,267.6 46.7,268.1 46.3,268.5ZM60.6,272.8 60.5,273.2 60.9,273.6 63.5,274.1 64.1,273.7 64.4,272.1 64.2,271.7 62.4,270.5ZM99.7,270.3 99.1,270.7 99.2,271.1 100.9,273.4 102.3,273.1 103.4,271.7 103.3,271 103,270.9ZM145.1,271.7 145.4,272.1 146.6,272.6 147.2,272.5 149,270.8 149.1,270.3 148.9,269.7 147.4,268.5 147,268.4 146.7,268.6ZM69.4,278.2 70.2,276.3 70.1,275.8 69,274.2 68.4,274 65.6,275.2 66,276.4 68.4,278.4ZM118.8,275.2 118.8,274.7 118.3,274.5 115.7,275.7 115.4,276 114.9,278.3 117.2,279.1ZM86.9,282.2 87.3,282.4 87.8,282.1 89,279.3 89,278.8 88.6,278.6 86.3,278.2 84.9,279 84.7,279.5ZM78.3,281 78,281.4 78.1,282.7 80.3,283.5 80.6,282.5 79.8,280.8 79.5,280.5 79.1,280.5ZM144.9,286.7 143.2,285.5 142.7,285.5 141.9,285.9 141.6,286.3 141.6,288 142.1,288.7 142.4,288.9 142.8,288.8 144.7,287.2ZM81.9,285.9 81.5,285.8 81.1,286.2 81.4,288.1 83.2,290.7 83.8,290.9 85,288.4ZM85.7,292.9 85.2,293.5 85.5,293.8 87.2,295 87.8,294.9 87.9,293.1 87.7,292.8ZM89.6,294.8 89,294.4 88.6,295 88.8,296.1 89.6,296.6 90,296.4 90,296ZM139.4,303.4 138.5,305.5 138.7,305.8 139.9,305.5 140.2,305.1 140.3,303.6ZM154,302 153.6,301.6 153,301.8 151.6,304.2 153.5,306 154.3,305.3 154.4,304.9ZM78.2,308.2 78.6,308.4 79.1,308.2 80.9,305.5 79.8,304.3 78.5,304 76.7,304.4 76.1,304.9 76.2,305.3ZM161.8,307.5 162,308.1 164.5,309.3 165,309.3 165.6,307.5 165.3,306.9 163.9,306.4 162.4,306.7ZM123.2,308.9 122.8,309 122.6,309.4 122.6,312.2 122.8,312.6 123.2,312.7 123.8,312.5 125.7,310.8 125.8,310.4 124.8,309.4ZM135.2,307.8 134.5,309.2 134.7,310.8 137.7,310.5 138.5,309.8 138.6,309.2 137.2,307.1ZM33.6,312.6 33.1,312.6 32.9,313 32.9,314.7 35.1,314.9 35.4,314.8 35.6,313.9 35.3,313.4ZM117.7,313.1 115.5,311.2 115.2,311.4 114.1,312.6 113.9,313.7 114.1,314 117.2,314 117.7,313.7ZM32.9,315.5 32.4,315.9 32.4,316.2 33.3,318.7 33.9,319.1 34.4,318.9 36,316.9 36,316.1 35.5,315.7ZM45.9,320.2 46.3,320.4 46.7,320.4 46.9,320 47.3,317 47,316.4 46.7,316.3 46.3,316.4 44.7,318ZM75,316.5 74.4,316.7 73.6,318.1 73.7,318.6 74.3,319.7 74.9,320 77.6,319.3 78.2,318.5 78.3,318.1 78,317.7ZM117.4,315.2 116.9,314.8 113.9,314.9 113.3,315.4 113.2,316 114.9,318.8 116,319 117.5,317.1ZM40.3,321.9 39.8,322.2 38.6,325.6 38.9,326.2 40.3,326.7 41.6,326.1 42.5,323.6 40.9,322ZM116.9,326.7 117.5,322.8 116.9,322.6 114,324.4 113.8,325 114.4,326.7 116.4,326.9Z"/>
<path fill="#dc307c" d="M116.7,220.8 118.1,219 118.1,218.5 116,217.9 115.6,218 115.1,220.9 115.6,221.1ZM34.4,220.8 34,220.5 33.6,220.6 32.3,221.7 32.1,222.1 32.5,224.1 33.1,224.2 34.9,222.8ZM65.2,222.7 65.7,222.8 66.7,222.4 66.8,219 63.8,218.6 63.2,220.2 63.3,220.7ZM114.3,224.5 114.8,224.6 117.3,223.9 117.7,223 117.1,221.9 116.6,221.7 114.7,222.1 113.7,222.8 113.4,223.1 113.5,223.6ZM121,223.8 120.9,223.4 120.5,223.2 118.9,223.1 118.6,223.2 118.3,223.8 118.4,224.2 119.6,225.5 120.7,224.9ZM134.7,221 135.1,222.6 135.4,222.9 136.2,223.1 136.8,222.9 136.3,219.8 136.1,219.4 135.7,219.4 135.3,219.7ZM140.9,224.8 142.4,222.1 142.1,221.8 140.1,220.8 138.3,223.9 138.5,224.8 139,225.1 140.5,225.1ZM50.5,227.8 50.3,228.2 50.4,228.5 50.8,228.7 52.7,228.6 53.1,228.4 53.7,227.4 52.6,226.1ZM108.7,229.8 108.1,229.9 106.6,231.5 106.5,232 107.1,233.3 110.2,232.2 110.5,232 110,230.6ZM123.7,232.8 123.8,233.1 124.4,233.2 127.7,231.5 128,231.2 127.9,230.5 127.3,230.1 124.4,230.6 124,230.9ZM53.4,232.6 53.6,233.2 56.1,234.7 57.4,232.7 57.5,232.3 57.1,231.2 56.5,230.9 54.4,231 54,231.3ZM126.5,233 126.3,233.4 126.4,233.8 126.8,234 127.3,233.8 127.9,233.2 127.5,232.7ZM41.1,234.7 40.7,234.6 40.3,234.9 40.2,236 41.3,237.2 42.7,237.3 42.9,236.6ZM51.2,234.7 51,234.3 50.6,234.2 48.5,234.9 48.5,235.3 50.1,238.9 50.9,238.8 51.4,238.1ZM164.8,239.1 165.8,236.5 165.8,236.1 165.4,235.9 161.9,235.4 161.4,235.6 161.1,236 161.3,238.2 163.1,239.6 163.9,239.6ZM65,243 65.2,242.5 65,240.9 64.2,240.2 63.7,240.6 63.3,243.3 64,243.5ZM31,242.4 30.7,242.9 30.9,244.7 31.2,245.1 32.7,245.5 34.8,242.3 33.6,241.2ZM57.9,245.5 59.3,245.8 59.8,245.4 60.1,245 59.8,242.1 59.5,241.8 59.1,241.7 56.6,242.8 56.3,243.2 56.4,243.6ZM163.3,244.6 165.6,243.3 165.6,242.9 164.1,240.2 163.7,239.9 163,240 162,242.6 162.6,244.3ZM44.6,246.9 45.1,247.4 46.5,247.3 48.3,246 48.5,245.3 47.3,244.9 45,245.3 44.6,245.8ZM133.3,248.6 133.9,248.9 134.2,248.7 135.2,247 135.3,246.7 134.8,246 134.4,245.8 134,246.1 133,247.6ZM53.3,253.8 53.8,253.7 55.8,252 56,251.6 55.8,251.2 53.8,250 53.5,250.3 52.3,252.5 52.4,253.1ZM132.7,252.9 136.7,252.5 137.1,252 137.1,250.7 134.3,249.6 133.7,249.6 133.3,249.9 132.3,252.1 132.3,252.6ZM52.1,254.3 52.1,253.7 51.4,253 48.6,252.6 47,253.6 47.6,255.7 49.7,256.9 50.3,256.7ZM73.6,257.4 74.3,257.3 76.2,254.9 76.2,254.4 75.8,253.4 75.4,253.2 72.5,252.7 71.3,253.7 71,255.3 71.3,255.8ZM113.5,254.9 113.1,255.1 113,255.5 113.2,255.8 116.2,257.7 117,257.6 117.7,256.9 117.7,256.3 116.7,255.2ZM149.9,255.1 149.1,253.9 147.1,253.7 146.6,253.9 145.7,255.5 145.6,256.9 145.9,257.3 148.3,258.6 148.8,258.5 149.5,257.9ZM166.5,255.7 163.2,255.8 163.1,256.2 163.3,256.5 166.6,259.5 166.9,259.7 167.3,259.4 167.4,259ZM35.4,259.7 34.8,260.1 35.1,260.7 36.7,261.4 37.3,261.3 37.2,260.1ZM138.9,260.5 138.6,261 138.8,261.5 140.9,264.2 141.2,264.4 141.6,264.3 142.6,263.3 142.8,262.8 142.3,261.2 142,260.8 139.9,260ZM153.5,259.4 153,259.1 152,259.4 151.9,259.8 152.6,261.6 153.8,261.4 154.1,261.1ZM45.3,266.7 45.5,267.2 46.4,267.7 48.9,267 49,266.6 47.9,263.2 46.3,263.1ZM60.6,264.4 58.9,266 59,266.4 59.9,267.3 61.2,267.6 61.7,267.4 61.8,267 61.3,264.4ZM67.8,264.9 67.9,264.5 66.8,262.2 66.4,261.9 65.3,261.9 63.7,262.6 64.6,266.7 65,267.1 66.5,267.2ZM83.2,267 83.9,267.2 86,266 86.2,265.4 83,263.9 82.3,265.2 82.3,265.6ZM111.3,266.9 111.7,267.3 114.1,267.3 114.2,265.3 114,264.8 111.6,263.6 111.3,263.9 110.9,265ZM72,269.4 72.1,269.9 72.5,270.1 74.8,270 75.4,266.3 75.2,265.8 74.8,265.7 73.1,266.1 72.7,266.5ZM83.9,268 83.7,268.5 83.7,269.1 84,269.5 84.9,269.8 85.4,269.7 88.1,267.2 88.2,266.6 87.5,266.2 87.1,266.3ZM90.1,267.7 90.6,269.4 93,270.7 93.5,270.7 93.8,270.3 94.4,267 94.2,266.6 93.1,266.2 90.5,267.2ZM103.3,267.4 102.9,267.1 100.5,266.9 99.2,268 99,268.4 99.1,269.4 104.1,270.3 104.3,269.7ZM105,269.7 105.6,270 106.7,269.8 107.5,269.3 107.8,268.9 107.6,266.2 107.4,265.7 105.3,264.9 103.9,266.6 103.9,267ZM116.8,268.8 119.4,269.4 119.7,268.8 118.9,266.5 118.4,266.2 116.4,268.3ZM154.6,270.1 155,270.6 156.9,271.2 157.4,271.1 160,268.7 159.6,267.2 159.3,266.6 158.8,266.4 156,266.6 154.9,267.3 154.7,267.7ZM123.9,273 123.7,273.4 124.1,276.5 124.3,276.9 124.7,276.9 126.3,274.4 126.3,273.8 124.9,272.4ZM130.7,275.4 130.6,274.8 130,274.4 127.4,274.5 126.9,274.7 125.6,277.4 126.1,277.9 129.2,277.8 129.6,277.5ZM94.1,279.1 94.4,277.2 94.1,276.7 92,275.5 91.5,275.5 91.1,275.8 90.3,277.9 90.4,278.5 92.8,280.1ZM156,277.4 155.5,276.9 154.6,276.9 154,278.3 154.2,280.2 154.5,280.6 155.3,280.8 155.7,280.8 155.9,280.4ZM151,283.9 152,285.1 152.6,285.1 155.5,283.3 155.9,282 154.1,281.2 153.7,281.3 151.3,282.7 151,283.2ZM136.4,287.8 137.1,286.4 136,284.1 135.7,283.9 135.2,284 133.6,285.7 135.4,288 135.8,288.1ZM161,283.8 160.9,284.4 162.3,287 162.9,287.2 163.9,285.5 163.8,284.9 162,283.2ZM135.1,289.3 135,288.8 132.8,286.3 131.8,286.2 131,287 132.6,290.6 133,290.9 134.8,289.8ZM159,293.5 159,294.1 159.8,295.3 162,295.8 162.4,295.7 162.5,295.3 162.5,292.6 161.9,291.8 161.4,291.7 160.5,292ZM112.4,292.9 112,293.4 111.9,296.3 112.4,297 116.5,295.2 116.3,294.5 113.4,292.9ZM93.1,301 93.3,301.4 93.7,301.5 96.1,300.9 96.4,300.6 96.4,300.2 95.1,298.1 93.3,299.1 93.1,299.5ZM70.8,308.2 71.2,308.8 73.6,309.1 74.2,307.5 73.7,305.8 71.2,306.2ZM108.6,304 108.1,304.5 108.2,304.8 110.6,308 111.3,308.1 112.1,307.5 112.5,306.8 112.3,306.5 109.4,304.1ZM98,319 98.6,318.2 98.2,317.7 95.8,317.1 95.4,317.2 95.2,317.6 95.1,318.9 95.3,319.3 95.7,319.4ZM111.5,315.9 110.5,316.7 109.2,319.6 109.4,320.2 109.9,320.6 110.4,320.7 113.5,319.5 114,318.9 112.6,316.2 112.2,315.9ZM152.1,317.4 152.2,318.3 152.5,318.7 154.8,319.4 155.2,319.3 155.5,319 154.1,316.5 153.8,316.2 152.7,316.2ZM157.2,315.9 155,316.2 154.9,316.9 155.8,318.4 156.4,318.6 157.7,316.3ZM48.5,317.8 47.9,317.8 47.7,318.1 47.6,319.2 48,319.7 49.2,319.1 49.4,318.7ZM91.3,317.1 93.9,319.7 94.4,319.2 94.4,316.4 93.8,316 92.1,315.9ZM138,325.3 138.5,325.2 139.8,323.8 140.2,322.3 139.2,320.6 138.5,320.1 137.1,321.1 136.9,321.5 137.2,324.7ZM140.8,323.2 141.1,323.8 144,325.1 144.6,325 144.7,323.1 144.3,322 141.4,322.3 141.1,322.4Z"/>
<path fill="#e03888" d="M122,221.7 122,221.1 120.7,219.5 119.2,219.2 118.8,219.4 117.7,221.2 118.3,222.1 118.6,222.3 121.1,222.5ZM135.9,228.7 135.2,228.5 134.2,229.1 134.4,230.5 135.3,231.4 137,231.3 137.1,230.6ZM71.9,233.1 72,232.6 71.7,232.1 71.3,231.8 69,232 68.6,235 68.9,235.5 69.3,235.6 70.2,235.3ZM56.9,245.9 57.2,245.6 57.1,245.1 55.7,243.2 55.1,242.8 54.5,242.9 53.8,243.8 53.9,246.2 54.7,246.7ZM134.9,244.3 134.9,245 136,246.3 137.4,246.9 137.9,246.9 138.1,246.5 138.6,243.8 138.5,243.4 138.1,243.2 136,243.4ZM117,261.8 117.6,261.6 117.7,261.2 117.2,258.8 116.6,258.4 114.1,260.2 114.4,260.8ZM104.3,291.2 104.1,291.7 104.5,293.1 104.8,293.5 106,293.7 106.6,293.5 107.3,290.2 107.1,289.7 106.7,289.6 106,289.8ZM151.2,293 149.8,290.7 149.2,290.9 148.2,292.8 148.3,293.4 151,293.7Z"/>
<path fill="#e03884" d="M130.1,217.8 129.2,220.7 129.6,221.6 133.7,220.9 134.1,220.7 134.9,219 134.9,218.5 134.5,218.3 131.5,217.4 130.6,217.4ZM75.8,225.7 75.6,225 73.6,223.9 73.1,223.9 71,225.1 70.8,225.5 70.9,225.9 73.3,228 74.5,227.9 74.9,227.6ZM69.4,230.1 69.1,230.7 69.6,231.1 71.4,231 71.7,230.3 71.7,230 71.1,229.7ZM149.9,238.9 150.1,239.4 150.9,239.6 153.5,238.5 153.8,237.9 153.1,236 152,235.6 150.6,236.2 150.3,236.5ZM96.4,240.7 96,240.6 95.7,241 95.5,242.2 96.8,244.1 98.2,244.5 98.7,244.3 99.4,242.9ZM138.5,246.8 138.7,247.3 139.1,247.4 141.5,247 141.9,246.7 142.2,246 139.6,243.5 139.1,243.9ZM50.7,248.6 53.5,249.1 53.7,248.8 54.1,247.3 53.6,246.5 50.6,246.2 50.2,246.4 50.3,248.2ZM158.4,247.7 158.9,247.9 161.7,247.7 162.2,247.1 162.1,246.4 161.7,245.9 157.7,245.3 157.5,246ZM130.3,259.4 131,259.5 132.8,258.6 133.1,258 131.4,256.9 130.9,256.8 130.6,257.2 130.2,258.9ZM88.5,260.8 88,261.1 88,261.5 88.8,263.2 89.4,263.5 90.5,261.7 90.5,261.2 90.1,261ZM118.6,262.1 118.1,262.5 118,263.2 118.9,264.6 122.4,262.3 122.3,261.9 121.8,261.6ZM145.2,262.8 145.8,262.1 144.6,260.3 144,260.1 142.8,260.8 143.4,262.9ZM30,263.8 29.7,264.2 29.6,267 29.9,267.4 30.6,267.6 32.9,266.9 33.2,266.6 33.2,266.2 31.7,263.4ZM91,296.3 90.7,296.7 90.9,297.1 92.9,298.8 94.9,297.4 95.4,295.8 95.4,295.4 95,295.2 93.5,295ZM129.3,296.6 126.7,295.3 126,296 126,296.4 126.2,296.8 128.5,298 129.4,297.4 129.6,297ZM131.1,296.7 131.1,297.2 131.5,297.8 132.1,297.9 135.3,296.7 135.6,296.1 135.4,295.6 133.2,293.6 132.8,293.5 132.4,293.8ZM86.2,308.2 85.8,308.1 85.4,308.4 84.8,310.1 84.8,310.6 85.6,311.6 87.8,312.1 88.1,311.6 87.8,309.6Z"/>
<path fill="#d42474" d="M147.3,222.8 147.7,222.9 148.1,222.7 149.1,220.7 149,220.1 147.1,220 146.7,220.2 146.8,222.2ZM79.9,226.2 81.9,225.7 82,225.3 81.7,225 78.6,223.7 78,224 78,224.7 79.5,226.1ZM78.8,222.3 78.5,222.9 78.8,223.2 82.1,224.6 82.6,224.4 83.2,223.5 83,221 82.7,220.6 82.2,220.6ZM102.1,222.7 101.9,223.4 103.5,226.3 104.2,226.6 105.3,226.2 105.6,225.9 105.5,225.5 104.1,222.8 103.7,222.5 102.7,222.5ZM49.4,223.2 49,223.7 48.3,227.3 48.5,227.8 49.2,228.2 52.2,225.5 52.4,225.1 52,224.3 50,223.3ZM63.9,226 63.4,226.5 63.8,227 66.6,227.5 67.3,227.2 67.7,226.4 67.2,226ZM126.9,229.4 127.3,228.9 127.2,228.5 125.3,226.6 125,226.4 124.2,226.7 123.5,228.9 123.8,229.6 124.3,229.8ZM46.1,233 46.5,233.2 46.9,232.9 48.9,229.4 48.8,228.7 48.1,228.1 45,228.2 44.6,228.6 44,230.6 44.2,231.1ZM84.4,230.9 84.4,231.5 84.8,231.8 88,231.8 88.5,231.6 88.6,231.1 87.7,228.1 87.1,228.2ZM95.3,231.4 95.6,231.8 96.1,231.7 96.8,231 96.6,230.6 95.7,230.5 95.3,230.7ZM152.5,230.9 152.8,231.4 155,232.2 156.7,231.6 157,231 156.9,230.6 156.6,230.4 153.2,230 152.8,230ZM67.7,231.1 63.3,232.8 63.3,233.3 64.6,235.1 65.1,235.3 67.8,235 68.1,231.8ZM91.8,232.1 91.4,231.7 89.3,231.8 88.9,232 89,234.7 92.6,235.1 92.8,234.5ZM73.7,237.9 70.4,236.1 69.8,236.1 69.3,236.6 69.4,238.5 69.8,239 73.3,239.2 73.9,238.7ZM88.2,241.3 90,239.3 89.8,238.9 87.6,237 87.1,236.9 86.7,237.2 86.2,238.4 86.6,240.5 86.9,240.8ZM166.4,236.1 165.6,238.7 166.3,238.9 168.7,237.9 169,237.6 168.8,237.1 167.6,235.7 167,235.6ZM48.8,244.7 49.4,244.4 50,243 49.6,240.4 49.4,240.1 49,240 46.9,240.4 46.8,241.5 47.5,244.1ZM60.5,241.3 60.3,241.8 60.6,244.7 61.1,245.1 61.5,245 62.3,244.2 62.8,240.5 62.1,240.4ZM82.7,242.5 83.1,242.9 84,242.8 85.9,241 86.1,240.5 85.5,238.6 83.2,238.8 82.4,239.5 82.2,239.9ZM119.1,242.2 119.6,242.6 122.2,242.3 122.4,239.1 122.2,238.6 121.3,238 120.9,237.9 120.5,238.2 118.9,241ZM33.4,245.6 33.3,246 33.6,246.3 35.8,247.4 36.4,247.3 37.6,245.8 37.7,245.4 36.5,242.3 35.3,242.6ZM68.6,242.9 68.7,243.4 70.3,245.9 70.7,246.2 71.1,246 72.6,243.7 72.5,242.8 72.2,242.4 69.9,241.4 69.2,241.6ZM114.6,245.5 115.3,245.5 116.8,244.2 117,243.8 116.8,243.5 114.4,243.3 114,243.5 113.9,244.8ZM122.2,243 119.6,243.3 119.5,243.7 119.7,244.1 122.6,246.2 123.1,246.3 123.5,245.5 123.2,243.8ZM133.8,245.2 133.9,244.7 133.6,244.4 130.4,243.4 129.8,243.8 129.7,244.2 129.7,246.4 130.1,246.9 132.3,247.4ZM156.4,245.6 156.8,245.4 157.1,244.6 157.1,242.9 156.8,242.4 156.4,242.3 152.5,243.3 152.2,243.7 152,244.8 152.2,245.2 153,246 153.9,246.1ZM39.3,253.7 39.9,253.8 43.4,251.8 43.6,251.2 43,250.9 39.4,251.5 39,252.1ZM124.3,255.3 126.1,257.1 128.4,255.3 128.6,254.9 127.2,253.4 126.6,253.4 124.4,254.8ZM168.8,258.4 170.4,256.6 170.6,254.2 169.9,253.6 167.4,255.3 167.2,255.8 167.9,258.6 168.2,258.7ZM122.4,259.7 122.7,260 123.1,259.9 125.6,258.4 125.8,257.8 124.4,256.3 123.8,256.3 121.9,258ZM153.2,258.4 153.6,258.1 154.2,256.9 154,256.2 152.1,255.2 150.6,255.2 150.1,258.1 151.4,258.7ZM157.3,257.5 156.9,258 157.1,258.9 159,260.5 159.5,260.6 160,259.8 160.2,257.3 159.3,257ZM129.9,262.5 130.3,262 130.3,260.4 129.8,259.5 127.3,258.9 126.8,259 126.6,259.4 126.7,262.5 126.9,262.9ZM148.5,261 148.6,261.5 150.3,263.1 151,263.1 151.7,262.4 151.8,261.9 151,259.4 150.1,258.7 149.6,258.8 149,259.1ZM43.4,266.8 44.3,266.8 44.8,266.4 45.6,263.3 45.5,262.8 45.1,262.7 42.1,262.8 40.5,264.1 41,265.6 41.2,265.9ZM151.1,263.7 151.1,264.3 152.7,266.2 154.1,266.9 154.6,266.9 155.3,266.4 155.5,266 155.1,262.3 154.8,262 154.4,261.9 152.4,262.4ZM81.7,266.2 81.1,266 79.3,266.6 78.9,267.1 78.9,268.1 79.2,268.5 81.9,270.3 82.8,269.6 83,269.2 82.8,268ZM86.5,271 85.9,271.3 85.8,271.6 86.2,273.8 86.4,274.2 86.8,274.3 88.8,273.7 88.6,271.7ZM116.1,284.3 116.7,284.3 117.5,283.6 117.6,283.2 117.3,282.1 114.8,282.2 114.4,282.3 114.3,282.7 114.5,283ZM166.5,284 166.8,283.6 167.3,281.6 167.1,281.1 165,279.7 162.6,282.9 164.4,284.8ZM115.8,290.6 114.1,292.1 113.9,292.5 114.1,292.9 116.5,294 116.9,293.5 116.5,291 116.3,290.7ZM117.3,290.3 117,290.8 117.5,293.5 117.9,294 119.5,293.1 119.7,292.6 119.5,291.9 118.1,290.3 117.8,290.1ZM133.3,292 133,292.5 133.2,292.8 135.7,295 136.2,295.1 137.3,294.5 137.7,293.6 137.7,292.6 137.5,292.2 135.6,290.8 135,290.8ZM140.6,293.8 141.8,293 142.4,291.8 142.3,291.3 142,290.9 141.5,290.9 138.4,292.3 138.5,293.3ZM95.6,297.6 97,300.1 97.6,299.9 99.2,297.8 99.2,297.4 98.6,295.1 96.7,295 96,295.5ZM97,301.2 93.7,302.1 93.7,302.5 94.4,304.5 96.2,305.1 96.7,304.9 98.2,302.7ZM147.8,306.6 148.1,305.2 147.7,304.2 147.2,304 144.1,304.3 143.8,306.9 144,307.3 144.4,307.4 147.4,306.8ZM133,312.8 129.3,313.4 129.1,314.9 132,316 133.5,315.7 134,315.2 134.1,314.7 133.5,313.1ZM152.9,313.1 152.3,314.5 152.5,315.3 153,315.7 154.2,315.8 157.2,315.4 157.7,315 157.9,312.5 155.6,311.2 155,311.2ZM164.9,314.6 165.1,315.1 166.7,316.5 167.1,316.6 167.5,316.3 168.4,313.4 167.2,312.9 166.8,313 165.2,313.9ZM105.9,319.3 106.1,319.7 106.5,319.8 108.2,319.7 108.7,319.4 109.5,317.3 109.5,316.9 109.1,316.6 106.5,316.4ZM145.1,319.4 145.6,319.5 145.9,319.2 146,318.2 144.4,315.4 142.9,315.5 142.5,315.8 142.5,316.2 143.3,318ZM35.9,321.9 35.7,321.4 34.7,320.7 34.3,321 33.8,322.6 34.6,323.4 35.1,323.6 35.4,323.2ZM98.1,320.3 98,319.9 97.6,319.7 95.1,320.1 94.6,320.8 94.5,322.3 96.4,322.8 96.8,322.7 97.9,321.8ZM134,321.7 133.8,321.2 133,320.8 130.9,321 130.5,321.5 130.4,323 130.7,323.5 131.5,323.9 133.3,323.9Z"/>
<path fill="#e43888" d="M150.4,219.5 150.4,220 152.6,223.2 153.2,223.4 154.2,221.8 153.9,219.9 153.7,219.6 152.2,218.8 151.8,218.8ZM141.5,227.6 141.6,227.1 141.2,226.1 140.5,225.6 139.1,225.6 138.6,225.9 138.3,226.6 138.3,227.1 139.6,229.1 140,229.3 140.4,229.1ZM93.9,259.7 93.6,260.3 93.9,260.6 96.6,262 97.7,261.9 98.1,261.7 97.6,259.8 97.2,259.4 95.2,259.1ZM169.7,280.9 169.2,280.8 168,281.2 167.7,281.6 167.2,283.7 167.3,284.2 168.7,285.6 171,285.5 172.2,283.5ZM112.9,303 110.8,303.5 110.5,304 113.2,306.3 114.7,305.2 113.6,303.4ZM131.5,301.9 132.3,304.2 132.7,304.2 135.4,303.4 135.7,303.1 136.2,301.6 136.2,301.2 135.8,300.9 132.4,300.7 132,300.9Z"/>
<path fill="#dc2c78" d="M70.7,223.5 70.7,223.9 71,224.2 72.7,223.3 73,222.9 72.8,221.7 71.6,221.5ZM150.1,310.9 148.6,310.9 148.3,311.1 147.5,312.1 147.5,312.8 148.5,313.5 151.9,314 152.2,313.4 152.1,312.8Z"/>
<path fill="#cc1864" d="M91.3,222.3 90.6,222.2 90.3,222.8 91,225 91.5,225.4 92.7,224.2ZM48.4,223.7 48.1,223.2 47.7,223.2 45.3,224.1 44,226.3 44,226.8 44.8,227.5 47.6,227.2ZM163.4,226.3 163,226.8 163.8,228.3 165,228.7 166.8,227.8 167.3,226.7 167.2,226.2 166.8,226.1ZM93,229.6 93.1,229.2 92.8,228.4 91.2,227.3 90.8,227.2 88.6,228.3 89,230.7 89.5,231.1 91.6,231ZM102.5,236.4 102.2,238 102.5,238.2 105.8,238.9 106.4,236.9 106.3,236.2 105.7,235.8 102.9,236.1ZM36,248.2 33.7,247 33.3,247 33,247.3 32.5,249.5 33.6,251.2 33.9,251.4 34.3,251.3 36.4,249.8 36.5,249.2ZM85,254.5 85.6,254.5 86.1,254.1 86.3,253.5 85.6,251.8 85.2,251.8 83.3,252.7 83.5,253.4ZM99.1,256 99.2,256.4 99.6,256.6 101,256.5 101.9,255.8 101.2,253.4 100.7,253 100.3,252.9 100,253.2ZM106.4,258.3 108.2,258.6 109.1,257.1 109.1,256.7 108.7,256.4 106.7,255.9 106.2,256.1 105.7,257.1 105.9,257.9ZM38.2,263.6 37.6,263.8 35.8,267.2 38.2,269.6 38.7,269.8 39,269.5 40.4,265.9 39.8,264.4ZM58.6,270.4 58.7,271.1 59.8,272.1 60.2,272.2 60.5,272 61.9,270.1 61.7,268.3 60.3,268.1 59.8,268.3ZM123.4,268.3 121,269.7 121.3,270.3 124,271.1 124.6,270.7 123.7,268.5ZM36.3,273.5 37.2,272.2 37.3,271.8 37.1,271.5 34.6,272 34.2,272.3 34,273.1 34.3,273.7 35.1,274.1 35.6,274ZM142.3,281.1 144.9,281.6 146.5,278.6 146.4,278 142.6,277.8 142.3,278.2 141.9,280.4ZM146.5,284.3 150.4,283.8 150.5,283 150,282.3 149.6,282.1 146.3,282.6 145.8,283.2 146.1,284.2ZM103.1,284.5 101.5,285.4 101.8,286 103.5,286.7 104,286.6 104.4,286.2ZM100.7,290.4 100.1,290.8 99.5,293.7 99.6,294.2 100,294.3 102.5,294.3 103.7,293.6 103.9,293.1 103.4,291.4 102.3,290.5ZM88.6,297.7 88.9,297.2 88.2,296.3 85.2,294.3 84.8,294.2 84.5,294.5 84.1,295.9 84.2,296.4 86,298.1 86.5,298.3ZM138.1,294.9 139.9,296.2 140.4,295.8 140.4,294.5 138.4,294.1ZM94.9,305.4 94.4,305.6 92.7,308 92.6,308.6 93.1,309 94.6,309 96.5,307.3 96.6,306.7 96.4,306 96,305.7ZM37.8,311 37.9,310.6 37.7,310.2 36.9,309.8 34.4,311.4 34.3,312.1 35.9,312.9ZM62.3,313.9 60.6,312.8 60.2,313.3 60.4,314.3 60.6,314.7 61,314.7 62,314.5ZM163.6,322.3 164,322.1 164,321.7 163.6,320.9 162.3,321 162.2,321.6 162.7,322.3Z"/>
<path fill="#dc3080" d="M97.8,225.5 98.3,225.4 100.7,223.2 100.9,222.9 100.7,222.5 99.7,221.7 99.2,221.6 96.7,222.5 96.6,224.6 97,225.1ZM30.5,226.1 30.1,226.6 30.2,228.9 30.6,229.3 33.1,227.5 33.3,227.1 32.2,225.8 31.7,225.7ZM38.5,231.2 38.2,231.8 38.4,232.1 40.4,233.3 41.8,231.8 41.4,231.3 39.9,230.9ZM158.8,229.4 158.7,230.1 159.1,230.2 161.9,230.4 162.3,230.2 163.2,228.8 162,227.1 160.1,228.1ZM45.9,233.9 43.5,231.5 43,232 43,235.5 43.4,236.2 43.8,236.4 44.2,236.3ZM73.1,236.9 73.5,236.9 73.8,236.6 74.2,235.1 73.6,233.6 72.9,233.3 72.4,233.5 71.1,235.2 71,235.6 71.2,235.9ZM79.3,233.9 79.6,234.4 81.2,234.9 83.6,234.3 84,233.9 84,231.9 83.5,231.4 82.1,230.9 79.3,232.2ZM107.6,233.8 107.3,234.1 107.4,234.6 107.7,234.8 110.4,235.1 110.9,233 110.3,232.8ZM54.4,240.3 54.9,240.3 56.9,239 57.1,238.6 57.1,237 56.1,235.8 51.8,238.5 51.8,238.9 52.1,239.2ZM63.9,238.6 64,239.1 65.6,240.3 68.4,239.8 68.9,239.1 68.9,236.3 68.7,235.9 68.1,235.7 64.8,235.9ZM32.7,239.7 31,240 31,241.3 31.6,241.4 32.8,240.8 33,240.1ZM94,242.6 95,241.8 95.1,240.6 94.8,240.4 92.3,240.3 91.9,241.8 91.9,242.2ZM76.6,251.3 76.7,250.9 75.6,248.7 73.5,248.9 73.1,252 75.4,252.6 75.9,252.4ZM105.1,250.5 104.7,250.4 104.4,250.7 104,251.8 106.6,253.6 107.5,252.4ZM118.5,256.1 118.4,256.5 118.7,256.9 121.1,257.6 121.6,257.5 123.8,255.7 123.9,255.1 121.7,252.8 121.3,252.6 120.9,252.8ZM118.3,261.1 118.8,261.5 121.6,261.1 121.9,260.8 122,260.4 121.3,258.3 121,258 118.6,257.3 118,257.5 117.7,258.2ZM134.6,258.8 134,258.7 131,260.1 130.7,260.6 130.9,262.2 132.9,262.6 133.2,262.4 135.4,260.4 135.6,260 135.5,259.7ZM142.1,268.5 142.1,267.5 141.9,267.1 141.5,267 139.4,269.3 139.3,269.7 140.2,270.6 140.6,270.7ZM125.4,271.4 125.5,271.9 126.8,273.6 127.2,273.8 129.7,273.6 129.5,271.2 128.2,270.2 125.8,270.9ZM93.6,273.5 93,273.7 92.6,274.5 92.8,275.2 94.6,276.2 95,276.2 96.1,275.7 96.4,275 96.4,274.6 96.1,274.3ZM111.5,274.2 111.3,274.9 113.3,278.2 113.9,278.4 114.7,275.8 112,274.1ZM162.9,287.9 162.2,288.5 162,291 162.6,291.8 163.1,292 166.9,291.1 166.7,290.2 163.4,287.9ZM115.9,296.2 113.3,297.5 113.5,298.2 115.5,299 115.8,298.7 116.5,296.5ZM112.9,298.5 112.5,298.5 112.2,299.3 112.9,302.3 113.1,302.6 113.5,302.6 115.1,300.2 115.1,299.8ZM126.5,300.9 127,300.7 128.1,298.5 125.5,296.9 125.1,297.5 125.2,300.4 125.6,300.9ZM129.4,307.2 129.2,307.6 129.5,308 133.7,309 134,309 134.5,308.1 134.4,307.5 131.9,305.4ZM133.2,304.7 132.8,305.3 133,305.6 134.6,307.1 135.2,307.2 136.6,306.5 135.6,304.1ZM27.7,316.5 27.8,317.2 30.7,320 32.7,319.1 31.7,316 28.4,316ZM154.4,324.1 154.9,324 156.6,322.4 156,320.5 155.7,320.2 152.3,319.3 151,321.8 151,322.3 151.3,322.6Z"/>
<path fill="#d42874" d="M142.7,222.7 141.2,225.3 141.8,225.6 143.8,225.2 144.2,224.9 144.1,224.4 143.3,222.9ZM46.2,242.7 45.1,244.2 45.3,244.6 45.7,244.6 46.6,244.4 46.9,244.2 47,243.8 46.7,243.1ZM49.7,245 49.8,245.4 50.2,245.6 52.8,245.8 53.1,245.7 53.3,245.3 53.3,244.3 52.9,243.8 50.8,243.5 50.2,243.8ZM154.7,255.9 154.7,256.3 155,256.6 156.3,257.1 158.4,256.6 158.7,256.2 158.6,255.8 157.4,254.5 156,254.4 155.6,254.7ZM57.1,270.3 57.5,270.5 57.9,270.2 59.2,267.8 58.3,266.6 57.8,266.4 56.9,266.7 56.3,269.1ZM76.6,265.7 76.1,265.7 75.9,266.1 75.4,269.9 75.7,270.4 76.4,270.7 78.3,268.3 78.3,266.8 78,266.4ZM43,271.6 41,271.8 40.9,272.5 42.8,275.3 43.4,275.5 45.1,273 45.2,272.6 44.9,272.3ZM58,271.4 57.6,271.3 57.2,271.5 55.9,273 55.9,273.6 59.2,274.6 59.9,273.8 59.9,273.3ZM65,274.4 65.4,274.4 68.2,273.3 68.5,273 68.8,271.1 68.6,270.6 67.9,270.2 67.3,270.2 65.2,271.9 64.7,273.9ZM83.8,270.2 83.3,270.3 82.4,271.2 82.3,271.8 83.6,273.7 84.1,273.9 84.9,273.9 85.3,273.7 85.4,273.3 85.1,270.9 84.7,270.5ZM156.2,276.2 157.3,275.3 157.7,273 156.9,271.8 154.7,271.1 154.2,271.2 153.3,272.2 153.1,273.5 153.2,274.5 154.2,275.9ZM86.1,275.2 86,274.8 85.6,274.6 84.1,274.7 83.7,275 82.8,276.9 82.9,277.5 84,278.4 84.6,278.4 85.7,277.4ZM139.6,285.5 138.5,286.3 138.8,286.9 140.2,287.2 140.6,287.2 140.8,286.8 140.7,285.9 140.2,285.5ZM87,304.8 87.2,304.3 86.5,302.3 85.6,301.6 84.8,301.6 84.5,301.8 83.1,305.1 85.1,306 85.5,305.9ZM74.7,305.2 74.4,305.9 75,307.6 77,308.8 77.4,308.8 77.7,308.5 77.7,308.1 75.7,305.3 75.5,305.1ZM68.5,313 69,313.2 70.8,312.6 70,309.5 67.9,310 68.1,312.5ZM50.3,312.5 49.4,313 49.5,313.4 51,316.3 51.3,316.5 52.1,316.2 52.3,315.6 50.9,312.8ZM64.8,312.7 64.4,312.8 64.3,313.1 64.4,313.5 66.4,315.7 66.8,315.8 67.6,315.4 68.3,313.8 67.9,313.1ZM50.9,318.3 51,318.9 51.5,319.4 52,319.5 54.3,318.5 54.5,318 54.5,317.4 54.2,316.9 52.7,316.6 51.6,317.2ZM55.1,319.3 54.6,319.2 52.9,319.9 52.6,320.3 52.7,320.7 54.9,323 55.9,322.5 56.2,322.1 56.1,320.3Z"/>
<path fill="#d82c7c" d="M69.3,225.5 68.9,225.7 67.7,227.7 67.9,229.5 68.1,229.8 68.5,229.8 72.5,228.6 72.4,228 69.9,225.7ZM56.9,234.9 56.9,235.5 57.4,236.3 57.7,236.5 58.5,236.4 61.7,233.8 61.6,233.4 61.3,233.2 58.3,233.1 57.9,233.3ZM101,237.8 101.5,237.4 101.8,236 98.5,234.6 98,234.7 96.4,236.2 96.7,237.3 97.1,237.6ZM50.5,239.6 50.1,240.2 50.6,242.8 53.2,243.2 53.6,243.1 54.3,242.3 54.4,241.2 54.1,240.8 51.4,239.5ZM36,254.8 35.6,255.1 35.4,256.3 35.6,256.8 37.5,258 38.8,257.3 39.4,255 39,254.2 38.5,254ZM88.1,259.3 88.2,260 88.5,260.1 91.3,260.5 92.2,260 90.9,255.8 90.2,255.9ZM108.4,265.7 108,266.2 108.2,268.6 108.7,269.1 109.7,269 110.8,267.8 110.5,265.6 110.3,265.3 109.8,265.2ZM108.2,269.6 107.5,270.1 107.6,270.5 109.7,273 110.8,273.6 111.3,273.5 111.8,272.4 111.7,272 110,269.7 109.6,269.5ZM111,275.5 110.7,275.3 110.3,275.4 108.3,277 108.2,277.5 108.9,279.6 111.2,281 112.9,279ZM143.5,302.5 143.4,303.2 144.2,303.8 146.6,303.6 147,303.4 147.1,303 146.8,302.6 144.6,301.7 144,301.9ZM47.8,316.3 49.6,317.7 50,317.8 50.6,317.2 50.6,316.7 49,314 48.4,314.2 47.6,315.5 47.5,315.8ZM74.1,316.2 73.6,313.6 72.5,313.6 71.6,317.3 73,317.8ZM46.2,322.5 46.2,321.6 44.2,318.5 43.7,318.2 42.8,318.5 41.3,321.2 41.4,321.8 43.2,323.3 45.5,323.2Z"/>
<path fill="#e43c88" d="M83,226.9 83.6,227.2 85.8,226.7 86.1,226.5 86.2,226 85.9,225.6 83.7,224.5 82.8,225.4 82.7,226.3ZM157.3,228.9 157.7,229.2 158.1,229 159.2,227.8 157.7,225.3 156.2,226.2ZM76,231 76.3,230.7 76.2,230.3 74.9,228.8 74.5,228.6 73.4,228.6 72.9,229.1 72.3,231.6 72.6,232.3 73.4,232.7ZM51.1,252.4 51.6,252.2 52.6,250.3 52.6,249.9 52.2,249.6 50.6,249.2 50.1,249.3 49.2,250.4 48.9,251.5 49,251.9 49.3,252.1ZM159,252.1 158.6,252.2 158.4,252.5 158.3,254.4 159.5,256 160.6,256.4 161,256.3 161.7,255.9 161.9,255.4 161.5,253.3 161.2,252.9ZM158.4,287.8 157.6,288.3 157.7,288.7 160.1,291.2 161.1,291.2 161.4,290.8 161.5,288.5ZM146.4,294.7 146.4,296.8 146.7,296.9 151,297 151.3,296.8 151.5,296.4 151.3,294.7 150.8,294.2 147.3,294ZM41.4,313.8 41.6,316 42.8,317.5 43.2,317.6 44.1,317.4 45.3,316.3 45.5,316 45.3,315.6 42.4,313.2 41.8,313.1Z"/>
<path fill="#e03480" d="M87.1,226.6 87.7,227.3 88.3,227.4 90.5,226.4 89.3,222.8 88.7,222.9 87.1,225.4ZM105,227 104.7,227.5 104.8,230.5 105.1,231 105.6,231.2 106.1,231.1 107.8,229.4 107.9,228.9 107.6,226.9 107.2,226.5 106.4,226.4ZM42.2,242.3 42.3,242.9 44.1,244.3 44.4,244.1 46.2,241.7 46.2,240.4 44.1,239.6ZM97.6,238.6 96.9,238.5 96.5,239.7 98.6,241.1 99,240.7 98.9,240.3ZM49.5,246.9 49,246.4 48.7,246.5 47.2,247.8 48.4,249.4 48.8,249.5 49.6,248.8ZM82.7,247.7 82.6,248.4 82.8,248.6 85.8,249.5 86.3,249.4 87.2,248.6 87.4,247.3 87.2,246.8 85.5,245.8ZM107.2,246.9 107.4,247.6 109,248.7 109.5,248.7 110.2,248.3 110.8,246.6 109.1,244.8 108.6,244.7 108.3,244.9ZM137.8,249.6 138,247.8 136.4,247.1 135.8,247.3 135,248.6 134.9,249.1 135.2,249.4 137.1,250 137.4,250.1ZM112.2,256.8 112.3,260 113,260 115.1,258.5 115.3,257.9 112.7,256.4ZM32.6,269.8 33.2,269.6 34,268 33.8,267.3 31.6,267.8 31.3,268.1 31.3,268.6 32.1,269.6ZM130.2,271.1 130.7,273.8 131.4,273.7 134.2,270.5 134.3,270 134,269.7 133.4,269.5 131.3,269.8 130.3,270.7ZM94.2,283.2 97.1,282.6 97.1,281.7 94.9,280 94.2,280 93.4,280.8 93.1,282 93.7,283ZM127.9,288.8 127.7,289.6 127.9,290 130,291.6 131.9,291.7 132,291 130.3,287.5 130,287.2 129.6,287.3ZM140.2,306 138,307 138.1,307.5 139.4,309.4 141.5,309.8 142.8,309 143,308.4 142.8,307.8 140.7,306.1ZM127,311.3 126.7,311.1 126.3,311.2 124.6,312.9 126.7,315.9 127.1,316.1 128.1,315.2 128.4,313.3ZM82.5,320.6 83.1,320.7 84,320.2 84.2,319.7 83.9,316.8 82.8,316 82,315.9 81.6,316 80.1,317.7ZM104.2,319 104.8,319.4 105.3,319 105.6,316.7 105.3,316.1 103.3,316.6 102.9,316.9 103,317.3ZM113.2,323.3 113.6,323.9 114,323.8 116.8,322 117,321.3 115.8,319.7 114.8,319.3 114.1,319.6ZM136.1,322.1 135.5,321.6 134.8,321.8 134.2,323.8 134.4,324.3 135.4,325.1 136.2,324.8 136.3,324.5Z"/>
<path fill="#e03484" d="M113.9,228.5 114.9,227.4 114.9,227 114.2,225.2 113,223.9 110.9,225.2 110.7,225.8 111.9,228.2 112.4,228.5ZM121.6,251.5 121.8,252.1 123.8,254 124.4,254.1 125,253.5 123.8,249.2 123.5,248.9 123.1,249 122.3,249.7ZM132.7,253.6 132.4,253.4 131.9,253.6 130.8,254.8 130.7,255.6 133.6,257.6 134.1,257.6 134.4,257.3 134.4,256.7ZM117.5,263 117.2,262.5 113,260.8 112.1,260.9 111.5,261.5 111.4,262.2 111.7,262.9 114.3,264.5 114.8,264.5 117.2,263.4ZM132.8,263.1 130.9,263.1 130.8,263.5 130.9,265.3 131.2,265.7 132.6,266.3 133.9,264.9 133.9,264.3ZM136.3,269 136.4,269.4 136.8,269.6 138.4,269.3 140.1,267.1 140.1,266.4 136.9,266.7ZM134.6,279.6 134.4,280.3 134.6,280.8 135.7,281.6 136.6,281.4 136.9,280.9 136.5,278 136.2,277.8 135.8,278ZM107.4,292.5 107.5,292.9 107.9,293 110.8,292.6 111.2,292.4 110.7,290.2 109,289 108.4,289 107.8,289.7ZM139.4,287.9 138.8,288.2 139,288.8 140.7,289.7 141.2,289.8 141.5,289.4 141,288.4ZM146.8,297.4 146.3,297.8 146.4,298.1 148.3,300.8 152.1,299.9 151.8,297.5ZM101.8,304.8 103.4,304.7 103.5,304.1 101.9,301.6 101.6,301.4 101.1,301.5 100.1,302.4 100,302.8 100.1,303.2ZM112.4,302.4 111.8,300 111.2,300 109.1,301.6 108.4,302.7 108.5,303.3 109.5,303.5ZM116.2,300.1 115.5,300.3 114.1,302.8 114.1,303.4 115.2,304.6 119,302.2 118.8,301.6Z"/>
<path fill="#e43c8c" d="M115.4,226.7 115.7,227 116.9,227.2 118.5,226.5 118.8,226.2 118.7,225.7 118,224.8 117.5,224.6 115.1,225.5ZM156.3,257.8 155.9,257.4 155,257.1 154.4,257.3 153.9,258.7 154.4,259.8 154.8,260 155.2,259.9 156.1,259.1ZM86.9,261.5 86.5,260.9 86.2,260.9 83.4,262.1 83.1,262.6 83.4,263 85.8,264.2 86.3,264.2 86.6,263.8Z"/>
<path fill="#c81460" d="M62.5,229.3 62.7,230.4 63.3,230.8 65.2,228.8 65.3,228.2 63.3,227.8ZM85.1,256.6 86.3,258.1 86.9,257.9 88.5,255.3 88.5,254.8 88.2,254.5 87.1,254.2 86.7,254.3 85.4,255.5ZM55.9,255.9 54.3,255.1 53.9,255.6 54.2,259.2 54.7,259.7 55.8,259.3 56,258.9 56.2,256.3ZM137.4,255.1 138.3,259.2 138.6,259.6 139.1,259.5 139.4,259.2 140.1,257.6 140,255 139.7,254.7 138.2,254.2ZM140.7,297 140.8,297.4 141.3,297.7 142.8,297.3 142.8,296.9 142,293.9 141.3,293.9 141,294.4ZM83.3,296.1 83.6,295.6 83.5,295.2 83.1,294.9 80.6,294.9 79.7,297.1 80.5,297.6 81,297.6ZM124.9,304.4 127.1,305.5 127.8,305.3 127.5,302.1 127.2,301.7 125.3,301.4 124.5,301.9 124.3,302.4ZM61.3,309.3 60.8,309.7 60.2,311.6 62.8,313.5 63.4,313.4 63.9,313 64,312.3 63.6,309.8 63.1,309.4Z"/>
<path fill="#d01868" d="M151.4,231.5 151.8,231.1 152.2,229.6 151.6,227.2 151.3,226.9 150.9,226.9 148.2,228.5 148,229.1 149,231.5ZM145.3,242.6 144.6,242.5 144.4,242.8 144.1,245.3 147,246.4 147.2,246.1 147.1,245.2ZM82.9,261.4 86.3,259.9 86.1,259.1 84.6,257 81.9,257.8 81.6,258.2 81.3,259.4 81.4,259.9ZM38.1,261.1 37.9,261.5 38.1,262.8 38.4,263.1 39.6,263.5 40.1,263.4 41.5,262.1 41.4,259.5 40.8,259.4ZM104.7,281 105,281.3 105.4,281.3 108,279.5 107.3,277.3 106.4,276.8 104.9,276.9 103.7,277.8 103.6,278.4ZM141.5,278 141.3,277.6 140.5,276.8 140,276.7 137.6,277.7 137.9,280.9 140.3,280.9 140.8,280.7 141.1,280.3ZM120.3,312.7 121.8,312.9 122,312.5 122,308.7 121.6,308.1 120.8,307.9 119.8,308.6 119.6,309 120,312.3ZM166.6,307.2 166,307.5 165.6,310 167,312.2 168.9,312.9 171.1,310.1 171.2,309.3 169.7,307.7ZM117.4,320.9 118.1,321.1 121.1,319.4 121.4,319.1 121.4,318.2 118.5,317.5 118,317.7 116.7,319.6ZM161.1,319.5 161.6,320 163.4,320 163.8,319.8 164.3,318.7 163.3,317.5 162.1,317.4 161.4,317.8 161.1,318.3Z"/>
<path fill="#cc1460" d="M106,240.1 105.6,239.8 102.2,239.2 102,239.5 101.7,242.1 103.3,243 103.9,243 106.3,241.4ZM99.3,283.4 99.1,283.8 99.3,284.1 100.3,284.9 100.9,284.9 102.9,283.7 103.4,282.9 103.4,282.5 103.1,282.2 101.3,281.8 100.9,281.9Z"/>
<path fill="#d82474" d="M127.1,238.7 126.8,239.2 127.3,241.3 129.4,242.9 130.2,242.8 132,239 131.9,238.4 131.4,238.1 129.3,238.1ZM168.4,242.1 167.4,243.3 167.7,243.6 170.3,245.5 170.8,245.5 171.4,245 171.3,244.6 169.1,242.1 168.8,241.9ZM166.1,247.3 166.1,248 166.4,248.1 168.6,248.4 168.9,248.3 169.2,247.7 168.9,247.1 167.2,246.6 166.6,246.7ZM119.6,272.9 119.9,273.5 120.2,273.5 123.2,272.9 123.8,272.4 124,271.8 120.6,270.8 120.2,270.8ZM164.4,272.4 164.2,272.8 164.3,273.2 166.7,275.4 167.3,275.3 168.2,274.3 168.3,273.8 167.7,271.8 166.9,270.9ZM163.5,297.8 164.1,298.3 167.4,297.7 167.8,297.2 166.6,295.4 166,295.3 163.4,296.6ZM138.4,310.6 138.4,312.2 138.7,312.6 140.3,313.3 140.7,313.2 140.9,312.9 141.2,310.4 139.5,309.9ZM110,323.7 110.2,323.2 109.6,321.2 108.5,320.4 106.7,320.7 106.6,323.7 108.9,324.3Z"/>
<path fill="#c80c5c" d="M128.8,244.1 129.2,243.5 129,243.2 126.9,241.8 124.2,243.7 124,244.1 124.3,245.1 124.7,245.2ZM57.3,252.1 56.7,252.1 54.6,253.8 54.4,254.3 54.7,254.6 56.4,255.6 58.5,253.9 58.7,253.5 58.6,253.2ZM159.8,280.8 159.1,280.7 157.8,281.8 159.3,283.7 159.8,283.9 160.3,283.7 161.1,282.8ZM143.9,308 143.5,308.3 143.2,309 143.4,309.5 146.2,312.1 146.6,312.2 147,312 148,310.4 147.4,307.4Z"/>
<path fill="#c81060" d="M59.4,249.2 59,249.1 58.6,249.4 57.7,251.5 59.1,252.9 59.5,253 61.1,252.6 61.5,252.1 61.3,251ZM99.2,252.8 99,252.2 97.3,251.6 96,253.7 96,254.2 96.3,254.7 97.7,255.6 98.2,255.6 98.5,255.3ZM145.5,272.6 144.8,272.9 143.3,276.4 143.4,276.9 143.8,277.1 146.7,277.3 147.2,276.8 147.3,274.5 146.9,273.4ZM145.5,284.6 145.4,282.8 145.2,282.4 143.3,281.9 142.7,282.2 143.1,284.6 143.3,285 144.9,285.7ZM141.5,314.6 142.1,315 144.2,314.7 145.9,312.6 142.8,309.8 142.2,310.1 141.9,310.4 141.4,313.8Z"/>
<path fill="#c8105c" d="M81.8,249.2 81.8,248.8 81.5,248.6 81.1,248.6 79.5,249.4 78.9,250.8 80.4,251.6 80.8,251.6ZM102.5,321.5 101.9,322.7 101.9,323.3 104.3,325 104.9,325 105.9,323.8 105.9,320.6 105.7,320.2 105.3,320 104.5,320.1Z"/>
<path fill="#c40c58" d="M64,253.4 63.6,253.9 63.8,255.9 64,256.5 64.4,256.8 67.7,257.2 67.8,256.5 65.5,253.2 64.9,253ZM77.6,320.4 77,320 74.8,320.4 74.4,320.7 73.8,321.9 75.4,323.9 75.9,324.1 78.4,323.4Z"/>
<path fill="#d4206c" d="M53.6,256.4 53.4,256 53,256 52.7,256.2 51.4,258.4 51.7,259.4 52.2,259.6 53.7,259.4ZM141.8,277 142.2,277.1 142.6,276.9 144.2,273.1 144,272.5 141.6,272.5 141.1,272.8 140.3,275 140.7,276.1ZM115.3,285.1 113.3,285.7 113.3,286.1 113.7,286.9 115.5,286.6 115.8,286.2 115.8,285.2ZM147.1,287.3 149.1,285.2 148.9,284.8 148.5,284.7 146.4,284.9 146,285.2 145.6,286.6 145.9,286.9ZM112,308.6 111.2,309.3 111.3,309.7 113.2,311.6 113.6,311.8 113.9,311.6 114.5,311 114.4,310.3 112.6,308.6ZM118.8,313.5 118,314.7 118.4,316.7 120.9,317.3 121.2,317.2 121.8,314.5 121.6,313.7 120,313.1ZM118.3,321.7 118.1,322.3 118.3,322.5 120.8,323.9 121.3,323.9 123.3,322.4 123.2,322 121.6,320ZM72.1,322.9 71.8,323.3 71.7,324.5 72.7,326.2 73.1,326.5 73.5,326.3 74.9,324.4 73.3,322.5Z"/>
<path fill="#e8408c" d="M114.7,267.6 115.1,268.3 115.5,268.5 115.9,268.3 118.4,265.6 118.4,265 117.8,264 117.2,263.8 115,264.8 114.7,265.2Z"/>
<path fill="#d0246c" d="M39.6,270.9 40,271.1 42.5,270.7 43,267.4 41.4,266.7 40.8,267 39.3,270.2ZM37.1,275.9 37.8,275.9 38,274.9 36.9,274.3 36.4,274.3 36.2,274.7 36.3,275.1ZM55.5,274.4 55.1,274.5 54.9,275 55.2,276.9 58.8,277.1 58.9,275.5ZM30.9,278.5 31.6,282.3 32.1,282.7 32.5,282.2 32.8,279 32.6,278.5 31.8,278 31.4,277.9ZM70.2,283.3 70.1,283.7 70.4,284.1 71.6,284.6 72.2,284.5 73.9,282.7 74,282.2 73.6,281 73.1,280.6 72.6,280.7ZM73.3,300.7 74.4,304.7 74.7,304.8 75.6,304.6 76.2,304.1 75.1,300.4 74.5,300 73.7,300.1 73.4,300.3ZM64.6,306.8 62.4,304.7 62.1,304.9 60.9,306.2 60.4,307.7 60.8,308.6 63.4,308.8 64.5,307.9ZM50.7,311.4 50.8,311.8 51.3,311.9 54.1,311.4 54.5,311 54.7,309.6 52,308.5 51.1,308.6ZM55,311.4 55.1,311.8 56,312.7 59.4,311.7 59.8,311.4 60.5,309.5 60.3,309 59.5,308.3 57,307.8 56.5,308 55.4,309.5Z"/>
<path fill="#cc1c68" d="M62.8,268 62.5,268.5 62.8,270 64.7,271.2 67.1,269.3 66.6,268 66.2,267.7 64.5,267.5ZM88.7,281.8 88.9,282.4 89.3,282.5 91.9,282.1 92.2,281.9 92.4,281.2 92.2,280.7 90.4,279.4 90,279.3 89.6,279.6ZM56.7,313.2 56.4,313.7 56.5,314.4 56.8,314.8 59,315.6 59.7,315.3 59.5,312.9 59.3,312.5 58.9,312.5Z"/>
<path fill="#e03c84" d="M30,271.8 29.8,272.2 30.1,272.6 32.4,274 33.3,273.3 33.6,272 33.1,270.8 32.3,270.4 31.8,270.4Z"/>
<path fill="#d83078" d="M46.9,272.2 46.6,272.8 47.7,273.8 49.1,273.6 49,272.1 48.8,271.7ZM40.3,273 39.6,272.9 39.4,273.1 38.7,275.6 38.8,276 39.2,276.2 41.8,276.1 41.9,275.5ZM69.1,283 69.4,283.2 69.8,283.1 72.1,280.3 71.7,279.8 70,278.7 69,279 67.9,280.8 67.9,281.3Z"/>
<path fill="#e84490" d="M71.9,270.9 71.3,270.5 70,270.8 69.6,271.2 69.4,273.6 70.7,275.4 72.8,274.7Z"/>
<path fill="#e03c88" d="M73.6,274.2 73.9,274.5 74.3,274.5 76.5,273.1 76.6,272.4 76,271.3 74.9,270.7 73.2,270.7 72.8,270.9 72.7,271.3Z"/>
<path fill="#d02068" d="M37.1,277.3 37,276.7 35.3,274.9 33.8,274.1 33.3,274.2 32.6,274.8 32,276.9 32.2,277.4 33.5,278.2 36.6,278.3ZM63.6,278 62.7,278.7 63.1,279.4 63.6,279.6 63.9,279.3 64.3,278.2 64,277.9ZM74.7,280 74.2,280.4 74,280.9 74.7,282.5 76,283.1 77.2,282.8 77.2,280.8 75.9,279.6ZM76.8,283.7 76.5,284.1 76,286.9 76.4,287.4 80.4,285.8 80.7,285 80.2,284.4 77.7,283.5ZM79.8,287.1 76,288.7 76.1,289.3 77.8,290.5 80.4,288.4 80.6,288 80.2,287.1ZM84.2,301 85.1,300.9 85.5,300.6 85.9,298.9 85.8,298.4 83.7,296.6 81.3,297.9 81.1,298.5 81.6,299.5ZM81.2,305 81.8,305.1 82.2,304.8 83.7,301.9 83.5,301.2 82,300.4 81.6,300.3 81.3,300.6 80.2,303.7 80.4,304.2Z"/>
<path fill="#cc2068" d="M46.2,273.3 45.9,273.2 45.5,273.4 43.6,276.3 43.7,276.9 44.5,277.8 45,278 47.7,277.1 47.6,274.5ZM49.7,274.4 48.3,274.6 48.3,276.8 48.6,277.2 49.2,277.2 50.4,276.1 50.5,274.9ZM73.7,305 72.7,300.6 72,300.8 69.7,304.3 69.8,304.9 70.7,305.6 73.4,305.2ZM32.7,305.7 31.4,303.3 30.8,303.1 28.8,305.9 28.7,306.3 29,306.6 31.5,307.5 32.4,306.9ZM41.6,306.5 41.3,307.1 41.5,307.4 44.2,309.3 44.8,309.2 45.4,308.6 43.6,305.6Z"/>
<path fill="#d02870" d="M51.4,274.6 51,276.3 53.4,278.1 54.1,277.9 54.5,277.2 54.2,274.4 53.9,274 52.8,273.8Z"/>
<path fill="#cc1c64" d="M59.6,277.1 60,277.6 61.6,278 63.3,275.2 63.3,274.8 62.9,274.5 60.9,274.1 60.4,274.3 59.7,275.4ZM78.4,291 78.3,291.7 78.6,291.9 80.4,292.2 82.4,291.7 82.7,291.3 82.7,290.9 81,288.9ZM73.8,292.7 73.9,293.2 74.3,293.4 77.1,293.4 77.5,293 77.8,291.8 75.6,289.8 75.2,289.7 74.8,290ZM78.1,293.8 78.6,295.9 79,296 79.9,294.4 80,293.2 79.6,292.6 78.9,292.5 78.4,292.9ZM81.1,292.4 80.7,292.9 80.8,294.1 83.7,294.4 84.2,294.1 84.4,293 83.6,291.9ZM75.9,299.7 75.6,300.4 76.7,303.4 77,303.7 77.5,303.7 77.8,303.1 77,299.9 76.7,299.6ZM43.4,311.4 44,310.3 43.8,309.7 41.4,308 41,308 40.7,308.2 39.5,310.2 39.6,310.8 41.1,312.3 41.5,312.5 42.4,312.3Z"/>
<path fill="#c81c60" d="M33.3,282.5 33.6,283 34,283 36.7,281.8 37.3,280.9 36.7,279.3 36.3,279 33.7,279ZM36.1,285.8 36.7,285.8 37.7,284.8 36.8,282.7 34.3,283.7 34.4,284.3ZM65.9,300 65.9,300.6 67.3,302.3 67.6,302.5 68,302.3 68.8,301 68.5,297.9 68.2,297.7 67.7,297.9ZM37,309.1 38.8,310.1 39.1,309.8 40.6,306.9 40.5,306.4 38.8,305.2 38.4,305.4 36.5,308.3Z"/>
<path fill="#c82064" d="M38.4,277 37.9,277.3 37.4,278.9 37.9,280 38.3,280.3 39.1,280.4 39.5,280.2 41.6,277.5 41.1,277.1ZM49.1,280.2 49.3,279.6 48.5,277.9 47.9,277.8 45.1,278.6 45.2,280.6 45.6,281.1 47.4,281.3ZM58.8,280.8 59.2,281.6 59.8,281.4 61.1,279.4 61.2,278.9 60.9,278.6 60,278.4 59.4,278.7ZM63.5,287.2 65,286.1 64.1,282.8 63.8,282.5 62.5,283 62.2,283.4 62.3,286.6 62.7,287.1ZM36.6,287.2 36.2,286.9 35.8,287 34.3,288.1 34.1,288.9 34.4,289.4 37.3,290.3 37.5,289.7ZM67.9,296.7 69,297.3 71,297.6 71.5,297.3 72.8,295.3 72.7,294 68.6,294.1 67.8,296.2ZM47,301.6 46.3,301.5 44.7,302.8 44.5,303.1 44.5,304.2 49,305.1 49.2,304.7 49.1,304.4Z"/>
<path fill="#cc2468" d="M43.5,277.5 43.2,277.3 42.8,277.5 40.2,280.7 40.4,281.1 42.8,282.6 43.6,282.5 44.6,281 44.3,278.5ZM69.6,284.8 69.5,284.4 69.1,284.2 68.7,284.4 67.1,286 67.1,286.7 67.7,287.4 68.1,287.6 69,287.4ZM70.6,284.6 70.2,284.6 69.9,284.9 69.6,287.4 71.7,288.3 72.5,288.2 72.8,287.9 72.8,287.5 71.9,285.3ZM70.1,291.1 69.6,291 68.1,291.6 68.5,293.3 71.4,293.2 71.4,292.5ZM50.6,307.5 51.7,307.9 52.1,307.7 53.7,305.9 53.7,305.2 51.2,304.7 50.3,305.1 49.8,306.1ZM58.8,304.5 58.2,304.3 56.5,305.6 56.8,306.9 57.2,307.2 59,307.6 59.6,307.2 59.9,306.2 59.8,305.7Z"/>
<path fill="#c4185c" d="M52.4,280.9 53.2,280.7 53.5,280.3 53.7,279.1 53.5,278.6 50.9,276.9 50.3,276.9 49.3,277.8 49.9,279.8 50.2,280.1ZM38.3,284.6 39.1,285.1 39.6,285 41.7,283.3 41.9,282.9 41.7,282.5 39.6,281.1 37.9,281 37.4,282.2ZM55.6,303.3 55.8,304.5 56.5,304.6 58.3,303.4 58.9,302.1 58.2,301.7 57.8,301.7 55.9,302.8Z"/>
<path fill="#cc2064" d="M54.1,278.6 53.9,280.6 54.3,280.8 58.1,280.8 58.9,278.4 58.8,278 58.4,277.8 55.1,277.6 54.7,277.8ZM60.5,281.7 60.6,282.3 62,282.6 63.5,281.8 63.7,281.1 63.3,280.5 62.1,279.5 61.8,279.7ZM38,304 38.5,303.6 38.8,302.6 37.2,301.7 36.7,301.7 36.5,302.1 36.5,303.6Z"/>
<path fill="#c8185c" d="M66.2,277.4 65.8,277.3 65.5,277.6 64.2,280.1 64.2,280.6 64.5,281.1 66.9,280.8 68,279.3 67.8,278.7ZM34.1,299.8 34.7,298.8 34.3,298.3 30.7,297.9 29.8,298.3 30.3,301 30.7,301.5 31.2,301.5Z"/>
<path fill="#d42c74" d="M71.4,279.1 72.1,278.9 73.4,276.8 73.5,275.9 73.3,275.6 72.8,275.5 70.9,276.1 70.6,276.4 70.1,278.1ZM73.9,293.9 73.5,294.1 73.4,294.5 73.7,295.1 77,296.5 77.6,296.3 77.3,294.1ZM69.8,308.9 70.2,308.5 70.6,306.3 70.4,305.8 69,304.9 67.9,304.8 65.4,307.1 65.2,308.2 67.4,309.4Z"/>
<path fill="#bc1050" d="M44.8,286.3 45.1,286.6 45.6,286.5 48.4,284.5 47.2,282.2 46.9,282 45.3,281.7 44.8,281.9 44,282.8 43.9,283.3ZM39.8,289.4 40.1,290 40.5,289.9 44.4,287.8 44.7,287.1 44.2,286.8 40.3,287.2ZM51.1,301.4 51.7,301.2 52,300.4 51.8,300.1 51.1,299.6 50.6,299.6 49.8,300 49.6,300.7ZM52,302.2 51.6,304 54.5,304.7 54.9,304.6 55.1,304.2 54.9,302.8 53.7,300.6 53.2,300.6 52.8,300.8Z"/>
<path fill="#c41c5c" d="M49,283.9 49.6,284.1 50.8,283.6 51.8,281.9 51.8,281.5 50.2,280.7 49.7,280.7 48.2,281.7 48.1,282.4ZM67.5,288.1 67.4,287.8 66.1,286.6 65.4,286.6 64.2,287.6 65.3,290.6 65.7,290.9 67.1,290.8ZM63.6,293.8 63.9,294.4 66.8,295.8 67.2,295.8 68,293.8 67.5,291.8 67.1,291.4 65.2,291.4 64.2,292.3ZM44.4,302 46,300.6 45.9,300.2 43.4,297.7 40.9,299.2 41.1,300.3 43.9,302Z"/>
<path fill="#c01858" d="M54.8,283.4 54.2,283.2 53.9,283.8 55,286.5 55.5,286.8 56,286.5 56.1,285.9ZM39.9,285.2 39.8,285.8 40,286.3 40.5,286.6 43.7,286.4 44.1,286.2 44.2,285.8 43.5,283.5 43,283.1 42.4,283.2ZM36.9,292.5 37.9,296.3 38.6,296.1 40.6,293 40.6,292.5 39.4,290.8 37.8,290.9ZM60.8,298.4 61.2,298.6 62.3,298.4 63,295.1 62.9,294.7 62.5,294.5 60,294.5 59.1,295.3 59,295.8 59.3,296.8ZM67.1,297.3 67.2,296.9 66.9,296.6 64.3,295.4 63.9,295.4 63.6,295.7 63.2,298.5 65.1,299.5ZM59,301.4 59.7,301.2 60.4,299.3 60.3,298.7 59,297.7 57.1,299.6 58.1,301Z"/>
<path fill="#c82060" d="M54.8,281.9 56.8,285.7 57.4,285.4 58.8,282.9 58.8,282.4 58.3,281.6 57.8,281.3 55,281.3ZM35.9,298.1 35.6,298.4 35.5,299.1 36.4,300.8 38.7,302 39.3,301.8 40.3,300.5 40,298.9 38,297.5ZM48.9,301.4 48.5,301.4 48.2,301.8 48.3,302.2 49.8,304.2 50.5,304.3 50.7,304 51.1,302.4Z"/>
<path fill="#cc246c" d="M67,281.3 64.5,281.9 64.5,282.3 65.5,285.7 66.1,286.1 66.5,286 68.6,283.9 68.6,283.3 67.5,281.6Z"/>
<path fill="#c41c60" d="M35.2,285.9 33.4,284.6 33.1,284.8 33,285.2 33.8,287 34.1,287.3 35.2,286.7 35.4,286.3ZM64.6,300.8 64.8,300.4 64.5,300 62.7,299.1 61.3,299.1 60.9,299.4 60.1,301.7 62.3,303.1Z"/>
<path fill="#b80c4c" d="M37.2,286.3 37.1,286.8 38.1,289.6 38.4,289.9 38.8,289.8 39.1,289.5 39.6,287 39.2,285.9 38.6,285.5 38.1,285.6Z"/>
<path fill="#c01c58" d="M49.3,285.3 49,285 48.5,285.1 46.3,286.6 46.1,287.3 48.7,288.5 49.3,288.4 49.8,287.9 49.9,287.4ZM44.5,290.3 44.6,289.3 44.3,288.9 43.8,288.9 40.9,290.5 40.6,290.8 40.7,291.2 41.6,292.4 42.2,292.4ZM49.6,288.7 49.4,289.1 49.6,289.5 52.6,291.4 54.5,288.7 54.6,288.3 53.8,287.8 50.5,287.9ZM55.6,289.5 55.2,289.3 54.8,289.6 53.2,292 53,293.3 53.2,293.8 55,294.7 55.8,294.5 55.9,294.2 56.2,290.3ZM43.2,297 43.8,295.5 43.7,295 42,293.3 41.3,293.2 38.7,297.2 40.1,298.4 40.6,298.5ZM46.9,297.9 46.4,295.9 46,295.6 44.9,295.4 44.5,295.8 44.1,296.7 44.2,297.2 45.8,298.9 46.4,299Z"/>
<path fill="#c4205c" d="M50.5,287.3 52.8,287.2 52.9,286.5 51.4,284.5 50.8,284.4 49.8,284.9Z"/>
<path fill="#c01454" d="M52.3,284.5 52.6,284.7 53.2,284.4 52.7,283.1 52.3,283.1 51.9,283.5ZM64.7,291.2 64.8,290.7 63.8,288 63.3,287.7 61.9,287.6 61.6,288 61.1,289.9 63.7,291.6 64,291.6ZM32,291.2 32,291.9 33.3,293.2 33.8,293.3 36.1,292.6 36.9,291.3 36.9,290.9 34,289.7 32.7,290.2ZM37,297.3 37.3,296.7 36.2,293.1 33.8,293.8 33.7,295 35.4,297.5 36,297.6ZM56.3,299.7 54.5,300 54.4,300.6 55.5,302.4 57.2,301.5 57.5,301.2 56.7,299.9Z"/>
<path fill="#c41858" d="M59.7,282.8 59.2,283.1 57.9,285.8 58.2,286.1 61.5,287.3 61.8,286.8 61.7,283.2Z"/>
<path fill="#c8145c" d="M72.4,284.8 72.3,285.3 73.2,287.8 74.6,288.5 75.1,288.4 75.9,283.7 74.3,282.9Z"/>
<path fill="#d02470" d="M82.9,285.6 85.1,287.3 85.5,286.8 85.4,284.9 85.2,284.5 84.8,284.4 83.2,285ZM86,284.2 86.4,287.5 86.8,287.6 87.1,287.4 88.4,285.4 88,283.4 87.6,283.1 86.8,283.2ZM86.2,288.5 85.9,288.7 84.5,291.5 84.6,292.1 85.1,292.3 88.6,291.6 89.5,290.6 87.3,288.5ZM31.6,310.2 31.7,310.6 32.6,311.5 33,311.7 36,309.7 36.3,309.3 35.7,308.5 33.2,307.4 32.7,307.5 32,308.2ZM46.1,315.4 46.5,315.5 46.9,315.3 47.8,314 47.8,313.5 47.5,313.2 44.1,311.9 43.3,312.2 43.1,312.6 43.3,313ZM54.4,316.2 55,316 55.7,315 55.5,313 54.9,312.2 54.4,312.1 52.1,312.5 51.7,312.8 51.7,313.2 53,315.6Z"/>
<path fill="#d43478" d="M33.2,289.4 33.5,289 33.5,288.1 33,287.3 32.6,287.3 31.9,288.1 32,288.7 32.7,289.5Z"/>
<path fill="#bc1450" d="M48.8,289.2 45.5,287.8 45.1,288.3 45.6,290.3 46.5,291.1 47.5,291.2 47.9,291Z"/>
<path fill="#b40444" d="M55.7,287.8 55.7,288.5 56.9,289.6 59,290.6 59.6,290.6 60.3,289.9 60.9,288.2 60.6,287.6 57.6,286.4 56.8,286.7Z"/>
<path fill="#c01458" d="M68,290.1 68.3,290.6 69.6,290.3 70.6,289.3 70.6,288.7 69.3,288.1 68.6,288.2 68.1,288.6ZM33.3,294.4 33.1,293.5 31.6,292.1 30.3,293.2 31.8,295.2 32.9,294.9Z"/>
<path fill="#c81c64" d="M72.1,288.7 70.4,290.6 72.7,293.1 73.2,292.8 74.5,289.1 73.3,288.4ZM69.3,300.5 69.5,300.8 70,300.9 71.9,300.1 72.2,299.8 72.2,299.4 71.5,298.3 71.2,298 69.3,298 69.1,298.4Z"/>
<path fill="#b80c48" d="M42.8,293.1 44.3,294.6 44.9,294.3 45.7,291.7 45.6,291.2 45.2,291 43,292.7ZM57.7,290.9 57.3,290.9 57,291.3 56.8,294.2 57.2,294.8 58.1,294.9 58.6,294.7 59.1,293.9 59,291.8 58.7,291.4ZM52.6,300 53.7,300 54.3,299.4 54.6,295.6 54.3,295.1 52.7,294.2 52.2,294.2 51.2,294.9 50.8,297.2 51.2,299Z"/>
<path fill="#b8144c" d="M46.2,292 45.6,294.6 45.9,294.8 46.7,294.9 48.4,294.2 48.7,293.9 48.7,293.5 47.9,292 46.7,291.7Z"/>
<path fill="#c02058" d="M52.1,291.9 49.3,290.2 49,290.4 48.5,291.3 48.4,291.8 49.5,293.6 50.9,294.2 51.9,293.8 52.3,292.4Z"/>
<path fill="#bc104c" d="M61.1,290.5 60.5,290.6 59.6,291.6 59.9,293.9 63,293.9 63.7,292.2ZM54.8,298.7 55,299.1 55.4,299.3 56.6,299.1 58.4,297.2 58.6,296.8 58.4,296 58,295.7 56.3,295.4 55.2,295.6Z"/>
<path fill="#c41458" d="M33.8,297.6 34.4,297.1 34.3,296.8 33.3,295.5 32.1,295.9 31.5,296.6 31.5,296.9 31.9,297.3Z"/>
<path fill="#c01854" d="M47.5,297 48,297.3 50.3,296.8 50.7,294.9 49.2,294.4 47.3,295.2 47.1,295.8Z"/>
<path fill="#c81860" d="M72.6,299.6 73.1,299.8 75.1,299.6 77,298.6 77.7,297.5 77.4,297.1 73.3,295.6 71.8,297.7 71.8,298.2ZM52.9,307.4 52.8,307.9 53.1,308.2 55.2,308.8 56.1,307.7 56.2,307.3 55.6,305.7 55,305.4 54.6,305.5Z"/>
<path fill="#bc1454" d="M46.9,299.8 47.2,300.4 47.6,300.5 50.4,299 50.6,298.5 50.5,297.8 49.9,297.4 47.9,297.8 47.5,298.2Z"/>
<path fill="#d82c74" d="M78.2,298 77.6,299.2 78.6,303.1 79,303.5 79.4,303.4 80.8,299.7 80.6,298.6 80.2,298.3 78.7,297.8Z"/>
<path fill="#c4145c" d="M32,301.9 31.8,302.6 33.3,304.7 34.8,303.8 34.2,301.3 33.9,300.9 33.5,301Z"/>
<path fill="#bc0c50" d="M39.1,303.9 39.2,304.4 41.1,305.9 43.4,304.8 43.7,304.4 43.8,303.2 43.5,302.7 40.7,301.1 39.5,302.5Z"/>
<path fill="#d0286c" d="M60.2,302.4 59.8,302.4 59.4,302.6 59.2,303.2 59.2,303.7 60.5,305.1 61.7,304.2 61.9,303.8ZM63,303.4 63,304 65.3,306.2 67.5,304.2 67.3,303.5 65.6,301.4 65.3,301.2 64.9,301.4ZM68.1,303.2 68.1,303.9 68.4,304.2 69,304.3 70.8,302 70.8,301.6 70.6,301.2 69.5,301.5Z"/>
<path fill="#c00c54" d="M38.1,305.1 38,304.4 37.7,304.3 35.6,304.2 33.4,305.5 33.2,305.8 33.2,306.8 35.9,308Z"/>
<path fill="#d8347c" d="M44.9,305 44.4,305.4 44.4,305.7 46.1,308.4 46.5,308.3 49.1,306.3 48.7,305.7ZM46.3,309.3 45.6,309.2 44.7,309.9 44.2,311.3 48.1,312.9 48.5,312.9 48.7,312.6 48.6,312.2ZM49.1,306.9 46.7,308.9 46.8,309.2 49.1,312.1 49.7,312.2 50,311.8 50.3,308.1 49.8,307.1 49.5,306.9Z"/>
<path fill="#e4408c" d="M39,317.6 38.7,318.2 39.3,320.9 39.7,321.3 40.4,321.4 40.9,321.1 42.4,318.1 41.1,316.8Z"/>
<path fill="#d02070" d="M61.4,321.7 61.8,321.1 61.5,319.7 60.3,318.8 59.8,318.7 56.8,320.2 56.8,322.2 57.2,322.7Z"/>
<rect x="33.0" y="221.0" width="134.2" height="101.0" filter="url(#graincon)"/>
<path fill="none" stroke="#fff6fb" stroke-width="0.9" stroke-opacity="0.72" stroke-linejoin="round" d="M112.4,298 112.1,298.6 108.5,299.1 107,297.5 105.7,298.7 105.4,300.1 106.9,303.9 105.4,305M144.9,257.8 145.3,257.4 145.3,255.5 146.6,253.3 146.4,253.1 145.5,249.5 147,246.9M69.1,235.9 70.3,235.7 72.5,232.9 71.8,231.4 68.6,231.5 68.3,235.5 64.6,235.7 63.6,238.8 58.8,236.8M114.9,246.2 113.7,245.1 111.1,246.5 108.5,244.1 106.8,247.4M36.9,309.4 38.6,310.5 39,310.5 40.9,307.3 44.5,309.9 45.9,308.8 43.8,305M162.1,277.6 159.6,279.9 156.5,276.5 156.4,276.5 156.4,281.7 153.8,280.8 153.5,278.3 154.2,276.3 153,274.8M104,319.2 104.5,319.8 102.2,321.4 101.6,322.8 98,322.1 96.7,323.1 94,322.5 94.4,320.8M127,282.9 128.7,282.2 130.3,279.8 133.1,281M69.6,225.3 69.9,225.4 73.3,223.4 76.4,225.1 75,228.2 72.9,228.3M144.2,241.6 141.7,241.2 141.2,238.7 145.6,238 144.6,235 144.3,234.9 143.2,231.6 140,230.6 138.8,231.8M54.7,240.7 51.3,239 51.8,238.1 51.5,233.7 47.8,234.5 46.7,233.9M153.3,288 149.9,290.1 149.3,290 147.4,293.7 151.4,294.1M54.2,227.4 57.4,226.2 57.5,226.2 58.3,228.5 62,229.5 63,227.3M152.4,250 153,246.4 154,246.4 156.9,245.8M145.3,287.1 145.1,286.3 145.8,284.5 145.6,282.5 149.9,281.9 150.7,282.7 153.8,280.8 156.4,281.7 156.5,281.7M156.5,281.7 156,283.4 157.2,287.8 158.2,287.4M132.4,247.8 133.2,249.3 134.2,249.3 135.9,246.7 138.2,247.5 139.1,243.1 138.6,242.9 135.7,243.1 134.3,244.4M165.1,309.9 160.5,311.9 159.9,311.7 160.3,309.1 161.3,308 162,306.5M50,305 49.7,305.7 44,304.6 43.8,305 45.9,308.8 44.5,309.9M158.1,251.4 157.7,254.3 155.7,254.2 154.8,251.4 154.8,251.3 152.4,250M47.4,297.7 46.6,295.2 49.4,294.1 51.1,294.6M150,310.6 151.9,308.3 153.3,308 155.2,310.7 155.2,310.8 152.6,313 150,310.6 151.9,308.3 148.1,306.6M96.2,224.6 93.4,224.2 91.1,226.6 89.7,222.1 90.9,221.6M143.5,307.8 143.8,304 142.9,302.8 144.1,301.3 147.7,302.8 148.1,301.2 152.5,300.2M82.3,230.4 83.8,231.2 87.4,227.6 88,228 88.8,231.4 88.4,232 88.6,235.2 87.4,236.5 90.6,239.3M155.6,238.5 156.4,236.8 154.6,234.1 153.2,235.5 154.5,238.5 150.7,240.1 149.6,239.5 149.4,239.4 150,236M156.4,300.9 159.7,303.6 160.4,302.9 163.3,303M67.8,287.9 67.5,291.2 65.2,291.1 63.8,287.5 62,287.3 61.5,287.6 60.8,290.1M100.5,230.5 98.8,231.5 97.8,231.1 95.3,232.6M135.9,246.7 138.2,247.5 138.3,247.7 138.2,249.6 141.8,250.3 142,252.3M80.8,298.1 83.8,296.2 84.2,294.6 80.3,294.5 79,297.4 78.2,297.4M163.7,228.8 165.3,229 167.3,227.9 169.3,229.8 172,226.4 173.9,229.6 171.5,231.9M161.7,235.1 166.3,235.8 167.2,235.2 166.3,232.6 162.8,232.7 162.3,230.7 157.6,230.5M140,274.9 140.3,276.1 142,277.6 142.7,277.3 147.4,277.5 147.5,277.5 148.1,277.8M154.7,261.6 155.2,262 159.5,261.4 156.5,259 156.5,257.3 159.4,256.4 160.9,256.9 162.3,255.9 167.1,260.3M143.8,304 142.9,302.8 141.9,302.7 140.6,298.4 137,300.2 136.7,300.7 136.8,301 139.2,302.9M153.5,306.8 155,305.2 157.9,305.7 158,306.6 155.2,310.7 155.2,310.8 158.2,312.4M109.5,273.1 111.1,274.1 110.8,274.6 107.8,277.1M149.8,258.3 148.6,259.1 145.3,257.4 145.3,255.5M162.7,248 163.4,248.8 163.4,249.3 161.8,252.7 162.3,255.8 163.3,255.4M146.5,239.3 144.8,241.4 144.2,241.6 143.5,245.6 142.5,245.9 141.9,247.1M149.1,253.4 146.6,253.3 145.3,255.5 145.3,257.4 144.9,257.8 140.4,257.8 139.6,259.5 138.3,260.4M120.4,236.4 123.4,233.7 123.9,233.9 124.7,234.4M81.7,315.5 79.5,317.7 82.7,321.3 81.9,323.3 78.8,323.3 78.5,323.8 78.9,327.3 80.5,328.2 82,323.5M166.3,235.8 167.2,235.2 167.5,235.3 171.5,232.5 174,235.9M121.1,224.9 119.5,226.2 119.4,226.5 116.7,227.6 115.2,227.2M130.4,262.7 126.5,263.3 124.9,264.6 123,262.4 122.3,261.2 118.1,261.9 117.8,262.5 117.6,263.4M108.3,229.3 107.8,226.2 106.2,226.1 104.4,226.9 103.4,226.8 100.5,228.4 98.3,226M107.8,265.7 105.2,264.4 103.5,266.8 105,270.3 104.2,270.9 98.6,269.8 98.5,268M77.9,241.4 76.9,242.1 73.1,241.4 73.7,239.4 74.4,238.4 77.6,238.6 77.8,238.8 77.9,241.4 76.9,242.1M140,230.6 143.2,231.6 144.3,234.9 139.9,236.4M124.1,254.9 124.1,255.6 126.1,257.4 126.4,258.4 122.4,260.8 121.4,257.9 118.2,256.8 118.1,256.3 116.7,254.8M35.9,235.8 39.6,235.8 40.4,233.9 37,231.7 35.2,234.4 33.8,234.2 31.8,230.8 35.8,228.4M148,223.4 147.6,223.5 145.6,226 145.8,227.9 142,227.4 141.4,225.9M153.3,308 155.2,310.7 155.2,310.8 152.6,313M38.5,274.7 38.1,276.5 37.6,276.9 36.8,278.7 33.2,278.5 32.8,283.7M123.5,248.1 123.5,247.3 123.9,245.6 129.4,244.2M136,277 134,279.5 131.3,275.3 131.3,275.1 131.1,274.6M147.4,277.5 145.2,282.1 142.2,281.5 142.9,285 141.3,285.8 139.9,284.8 137.6,286.1M101.2,247.6 99.1,247.4 96.9,250.1 96.3,249.8 92.6,250.4M69.9,246.8 69.1,248.9 66.5,250.5 66,251.2 65.9,252 65.3,252.6 63.4,253.4 61.9,252.8 59.2,253.5M151.9,231.6 151.7,231.7 151.8,235.2 150,236M129.8,266.8 128.2,267.2 128,269.8 125.3,270.8M39.7,230.5 42.9,231.3 42.8,231.4 40.7,233.8 40.4,233.9M157.8,315.6 158.2,312.4 155.2,310.8 152.6,313 150,310.6 148.3,310.7 147.7,307M152.5,266.3 149.7,268.6 149,269.4 149.5,270.6 153.1,271.9 152.8,273.5 153,274.8M142.5,260.7 139.6,259.5 140.4,257.8 140.4,255 145.3,255.5 146.6,253.3M142.7,222.2 140.9,225.2 141.4,225.9 144.7,225.1 145.6,226 145.8,227.9M44.9,281.3 43.5,283 42.5,282.9 39.5,280.8 43,276.7 38.1,276.5 37.6,276.9M163.4,248.8 162.7,248 158.3,248.4 157.4,250.4 158.1,251.4 161.8,252.7 162.3,255.8 162.3,255.9M41.2,292.7 39.8,290.6 44.8,287.9 45.1,287.2 45.2,287.2 49.1,288.9 49.2,289.5 52.7,292 55,288.4M142.7,277.3 147.4,277.5 145.2,282.1 145.6,282.5M112.4,307.9 110.8,308.9 110.6,309.5 113.6,312.6 113.5,314.6 112.6,315.7 114.5,319 116.1,319.6M41.9,258.9 41.4,258.7 39.1,257.3 37.5,258.4 35,256.7M93.3,265.9 92.2,260.6 91.4,260.8 89.2,264.9 88.9,266.4 87.3,265.8M54.8,277.4 53.9,278.7 50.6,276.5 51,274.6 49.7,274.1 49.2,271 51.4,269.3M37.6,297.3 36.5,292.6 37.4,290.7 33.8,289.5 34,288.1 32.9,286 32.3,284 31.5,284 31,284.1M67.5,296.4 63.4,294.5 63.2,294.2 64.1,292 65.2,291.1 67.5,291.2M150.7,240.1 149.6,239.5 149.4,239.4 150,236M78.2,292 80.5,292.3 80.3,294.5 79,297.4 80.8,298.1 83.8,296.2 84.2,294.6 84.6,293.6M87.7,246.9 87.5,248.6 88.7,249.3 91.1,252.3 92.6,250.4 91.8,248.9 88.7,249.3M107.1,285.7 108.1,286.1 110.9,283.3 111.3,281.6 111.2,281.5 113.4,279M144.9,257.8 140.4,257.8 139.6,259.5 142.5,260.7 143.2,263.2 145.6,263 146.2,262.1M153.1,225.1 155.6,226.1 157.8,224.6 159.8,227.9 162.2,226.4 163.7,228.8 165.3,229 167.3,227.9 169.3,229.8M166.6,275.9 164.7,278.7 162.1,277.6 159.6,279.9 159.5,280 157,281.7"/>
<path fill="#6a1a66" fill-opacity="0.75" d="M143.7,222.6a0.6,0.6 0 1,0 1.2,0a0.6,0.6 0 1,0 -1.2,0M146.4,221.7a0.6,0.6 0 1,0 1.2,0a0.6,0.6 0 1,0 -1.2,0M34,222.4a0.6,0.6 0 1,0 1.2,0a0.6,0.6 0 1,0 -1.2,0M39.6,222.7a0.6,0.6 0 1,0 1.2,0a0.6,0.6 0 1,0 -1.2,0M43.9,221.3a0.6,0.6 0 1,0 1.2,0a0.6,0.6 0 1,0 -1.2,0M52.2,222.3a0.6,0.6 0 1,0 1.2,0a0.6,0.6 0 1,0 -1.2,0M53.3,223.7a0.6,0.6 0 1,0 1.2,0a0.6,0.6 0 1,0 -1.2,0M63.8,224.6a0.6,0.6 0 1,0 1.2,0a0.6,0.6 0 1,0 -1.2,0M71.3,223a0.6,0.6 0 1,0 1.2,0a0.6,0.6 0 1,0 -1.2,0M80.2,225.4a0.6,0.6 0 1,0 1.2,0a0.6,0.6 0 1,0 -1.2,0M90.1,224.1a0.6,0.6 0 1,0 1.2,0a0.6,0.6 0 1,0 -1.2,0M95,221.6a0.6,0.6 0 1,0 1.2,0a0.6,0.6 0 1,0 -1.2,0M98,223.6a0.6,0.6 0 1,0 1.2,0a0.6,0.6 0 1,0 -1.2,0M113.8,222.1a0.6,0.6 0 1,0 1.2,0a0.6,0.6 0 1,0 -1.2,0M120.6,224.5a0.6,0.6 0 1,0 1.2,0a0.6,0.6 0 1,0 -1.2,0M124.9,221.8a0.6,0.6 0 1,0 1.2,0a0.6,0.6 0 1,0 -1.2,0M159.7,222a0.6,0.6 0 1,0 1.2,0a0.6,0.6 0 1,0 -1.2,0M163.6,225.2a0.6,0.6 0 1,0 1.2,0a0.6,0.6 0 1,0 -1.2,0M36.3,226.9a0.6,0.6 0 1,0 1.2,0a0.6,0.6 0 1,0 -1.2,0M37.9,226.8a0.6,0.6 0 1,0 1.2,0a0.6,0.6 0 1,0 -1.2,0M51,227.1a0.6,0.6 0 1,0 1.2,0a0.6,0.6 0 1,0 -1.2,0M56.2,228.8a0.6,0.6 0 1,0 1.2,0a0.6,0.6 0 1,0 -1.2,0M73.6,226.8a0.6,0.6 0 1,0 1.2,0a0.6,0.6 0 1,0 -1.2,0M81.8,228.1a0.6,0.6 0 1,0 1.2,0a0.6,0.6 0 1,0 -1.2,0M84.5,226.2a0.6,0.6 0 1,0 1.2,0a0.6,0.6 0 1,0 -1.2,0M87.6,225.4a0.6,0.6 0 1,0 1.2,0a0.6,0.6 0 1,0 -1.2,0M93.8,224.9a0.6,0.6 0 1,0 1.2,0a0.6,0.6 0 1,0 -1.2,0M105.1,228.6a0.6,0.6 0 1,0 1.2,0a0.6,0.6 0 1,0 -1.2,0M109.5,228.2a0.6,0.6 0 1,0 1.2,0a0.6,0.6 0 1,0 -1.2,0M121.3,225.7a0.6,0.6 0 1,0 1.2,0a0.6,0.6 0 1,0 -1.2,0M124.3,227.7a0.6,0.6 0 1,0 1.2,0a0.6,0.6 0 1,0 -1.2,0M132.6,226.7a0.6,0.6 0 1,0 1.2,0a0.6,0.6 0 1,0 -1.2,0M135.4,225.6a0.6,0.6 0 1,0 1.2,0a0.6,0.6 0 1,0 -1.2,0M153.2,228.2a0.6,0.6 0 1,0 1.2,0a0.6,0.6 0 1,0 -1.2,0M157.1,227.5a0.6,0.6 0 1,0 1.2,0a0.6,0.6 0 1,0 -1.2,0M39.4,231.9a0.6,0.6 0 1,0 1.2,0a0.6,0.6 0 1,0 -1.2,0M45,229.1a0.6,0.6 0 1,0 1.2,0a0.6,0.6 0 1,0 -1.2,0M84.4,227.8a0.6,0.6 0 1,0 1.2,0a0.6,0.6 0 1,0 -1.2,0M88.4,230.2a0.6,0.6 0 1,0 1.2,0a0.6,0.6 0 1,0 -1.2,0M95.7,232.5a0.6,0.6 0 1,0 1.2,0a0.6,0.6 0 1,0 -1.2,0M102.2,228.7a0.6,0.6 0 1,0 1.2,0a0.6,0.6 0 1,0 -1.2,0M111.8,231.8a0.6,0.6 0 1,0 1.2,0a0.6,0.6 0 1,0 -1.2,0M117.4,228.6a0.6,0.6 0 1,0 1.2,0a0.6,0.6 0 1,0 -1.2,0M121.9,230.7a0.6,0.6 0 1,0 1.2,0a0.6,0.6 0 1,0 -1.2,0M129.9,229.5a0.6,0.6 0 1,0 1.2,0a0.6,0.6 0 1,0 -1.2,0M136.9,230.1a0.6,0.6 0 1,0 1.2,0a0.6,0.6 0 1,0 -1.2,0M147,230.8a0.6,0.6 0 1,0 1.2,0a0.6,0.6 0 1,0 -1.2,0M150.3,228.3a0.6,0.6 0 1,0 1.2,0a0.6,0.6 0 1,0 -1.2,0M165.6,230.4a0.6,0.6 0 1,0 1.2,0a0.6,0.6 0 1,0 -1.2,0M43,233.9a0.6,0.6 0 1,0 1.2,0a0.6,0.6 0 1,0 -1.2,0M59.7,233.3a0.6,0.6 0 1,0 1.2,0a0.6,0.6 0 1,0 -1.2,0M72.1,234.8a0.6,0.6 0 1,0 1.2,0a0.6,0.6 0 1,0 -1.2,0M76.1,231.7a0.6,0.6 0 1,0 1.2,0a0.6,0.6 0 1,0 -1.2,0M81.3,232.5a0.6,0.6 0 1,0 1.2,0a0.6,0.6 0 1,0 -1.2,0M90,234a0.6,0.6 0 1,0 1.2,0a0.6,0.6 0 1,0 -1.2,0M92.5,233.3a0.6,0.6 0 1,0 1.2,0a0.6,0.6 0 1,0 -1.2,0M95.8,233.8a0.6,0.6 0 1,0 1.2,0a0.6,0.6 0 1,0 -1.2,0M104.4,233.5a0.6,0.6 0 1,0 1.2,0a0.6,0.6 0 1,0 -1.2,0M113,234.9a0.6,0.6 0 1,0 1.2,0a0.6,0.6 0 1,0 -1.2,0M117.4,233.1a0.6,0.6 0 1,0 1.2,0a0.6,0.6 0 1,0 -1.2,0M133.2,234.1a0.6,0.6 0 1,0 1.2,0a0.6,0.6 0 1,0 -1.2,0M157.6,233.6a0.6,0.6 0 1,0 1.2,0a0.6,0.6 0 1,0 -1.2,0M163.8,234.9a0.6,0.6 0 1,0 1.2,0a0.6,0.6 0 1,0 -1.2,0M34,235.1a0.6,0.6 0 1,0 1.2,0a0.6,0.6 0 1,0 -1.2,0M38.6,236.4a0.6,0.6 0 1,0 1.2,0a0.6,0.6 0 1,0 -1.2,0M61,237.2a0.6,0.6 0 1,0 1.2,0a0.6,0.6 0 1,0 -1.2,0M87.7,238.4a0.6,0.6 0 1,0 1.2,0a0.6,0.6 0 1,0 -1.2,0M93.3,237.4a0.6,0.6 0 1,0 1.2,0a0.6,0.6 0 1,0 -1.2,0M102.8,236.9a0.6,0.6 0 1,0 1.2,0a0.6,0.6 0 1,0 -1.2,0M108.4,238.9a0.6,0.6 0 1,0 1.2,0a0.6,0.6 0 1,0 -1.2,0M115.3,234.9a0.6,0.6 0 1,0 1.2,0a0.6,0.6 0 1,0 -1.2,0M122.3,235.3a0.6,0.6 0 1,0 1.2,0a0.6,0.6 0 1,0 -1.2,0M130,234.4a0.6,0.6 0 1,0 1.2,0a0.6,0.6 0 1,0 -1.2,0M136,238.6a0.6,0.6 0 1,0 1.2,0a0.6,0.6 0 1,0 -1.2,0M143.9,235.6a0.6,0.6 0 1,0 1.2,0a0.6,0.6 0 1,0 -1.2,0M158.8,237.3a0.6,0.6 0 1,0 1.2,0a0.6,0.6 0 1,0 -1.2,0M35.4,239.6a0.6,0.6 0 1,0 1.2,0a0.6,0.6 0 1,0 -1.2,0M41,240.5a0.6,0.6 0 1,0 1.2,0a0.6,0.6 0 1,0 -1.2,0M44,241.9a0.6,0.6 0 1,0 1.2,0a0.6,0.6 0 1,0 -1.2,0M55.9,242.2a0.6,0.6 0 1,0 1.2,0a0.6,0.6 0 1,0 -1.2,0M61.5,243a0.6,0.6 0 1,0 1.2,0a0.6,0.6 0 1,0 -1.2,0M65.5,241a0.6,0.6 0 1,0 1.2,0a0.6,0.6 0 1,0 -1.2,0M75,240.5a0.6,0.6 0 1,0 1.2,0a0.6,0.6 0 1,0 -1.2,0M79.6,240.8a0.6,0.6 0 1,0 1.2,0a0.6,0.6 0 1,0 -1.2,0M82.9,240.5a0.6,0.6 0 1,0 1.2,0a0.6,0.6 0 1,0 -1.2,0M90.2,242a0.6,0.6 0 1,0 1.2,0a0.6,0.6 0 1,0 -1.2,0M100.5,240a0.6,0.6 0 1,0 1.2,0a0.6,0.6 0 1,0 -1.2,0M107.9,241.4a0.6,0.6 0 1,0 1.2,0a0.6,0.6 0 1,0 -1.2,0M112.1,239.1a0.6,0.6 0 1,0 1.2,0a0.6,0.6 0 1,0 -1.2,0M114,241.3a0.6,0.6 0 1,0 1.2,0a0.6,0.6 0 1,0 -1.2,0M121,239.1a0.6,0.6 0 1,0 1.2,0a0.6,0.6 0 1,0 -1.2,0M123,241a0.6,0.6 0 1,0 1.2,0a0.6,0.6 0 1,0 -1.2,0M129.7,241.3a0.6,0.6 0 1,0 1.2,0a0.6,0.6 0 1,0 -1.2,0M133.5,242.3a0.6,0.6 0 1,0 1.2,0a0.6,0.6 0 1,0 -1.2,0M138.9,239.8a0.6,0.6 0 1,0 1.2,0a0.6,0.6 0 1,0 -1.2,0M153,241a0.6,0.6 0 1,0 1.2,0a0.6,0.6 0 1,0 -1.2,0M155.9,239.8a0.6,0.6 0 1,0 1.2,0a0.6,0.6 0 1,0 -1.2,0M35.6,245.4a0.6,0.6 0 1,0 1.2,0a0.6,0.6 0 1,0 -1.2,0M39.2,243.2a0.6,0.6 0 1,0 1.2,0a0.6,0.6 0 1,0 -1.2,0M43.8,245.2a0.6,0.6 0 1,0 1.2,0a0.6,0.6 0 1,0 -1.2,0M45.5,245a0.6,0.6 0 1,0 1.2,0a0.6,0.6 0 1,0 -1.2,0M55.6,245a0.6,0.6 0 1,0 1.2,0a0.6,0.6 0 1,0 -1.2,0M57.8,244.1a0.6,0.6 0 1,0 1.2,0a0.6,0.6 0 1,0 -1.2,0M74.3,242.6a0.6,0.6 0 1,0 1.2,0a0.6,0.6 0 1,0 -1.2,0M81.8,245.8a0.6,0.6 0 1,0 1.2,0a0.6,0.6 0 1,0 -1.2,0M86.6,244.7a0.6,0.6 0 1,0 1.2,0a0.6,0.6 0 1,0 -1.2,0M96.9,242.7a0.6,0.6 0 1,0 1.2,0a0.6,0.6 0 1,0 -1.2,0M104.7,244.4a0.6,0.6 0 1,0 1.2,0a0.6,0.6 0 1,0 -1.2,0M126.5,243.9a0.6,0.6 0 1,0 1.2,0a0.6,0.6 0 1,0 -1.2,0M135.2,246.1a0.6,0.6 0 1,0 1.2,0a0.6,0.6 0 1,0 -1.2,0M140.3,246.6a0.6,0.6 0 1,0 1.2,0a0.6,0.6 0 1,0 -1.2,0M150,242.8a0.6,0.6 0 1,0 1.2,0a0.6,0.6 0 1,0 -1.2,0M159.3,245.2a0.6,0.6 0 1,0 1.2,0a0.6,0.6 0 1,0 -1.2,0M32.9,250.3a0.6,0.6 0 1,0 1.2,0a0.6,0.6 0 1,0 -1.2,0M40.3,248a0.6,0.6 0 1,0 1.2,0a0.6,0.6 0 1,0 -1.2,0M45.5,246.8a0.6,0.6 0 1,0 1.2,0a0.6,0.6 0 1,0 -1.2,0M55.5,247.9a0.6,0.6 0 1,0 1.2,0a0.6,0.6 0 1,0 -1.2,0M58.7,247.9a0.6,0.6 0 1,0 1.2,0a0.6,0.6 0 1,0 -1.2,0M65,247.5a0.6,0.6 0 1,0 1.2,0a0.6,0.6 0 1,0 -1.2,0M73.2,245.6a0.6,0.6 0 1,0 1.2,0a0.6,0.6 0 1,0 -1.2,0M78.5,246.8a0.6,0.6 0 1,0 1.2,0a0.6,0.6 0 1,0 -1.2,0M93,249.1a0.6,0.6 0 1,0 1.2,0a0.6,0.6 0 1,0 -1.2,0M95.5,246a0.6,0.6 0 1,0 1.2,0a0.6,0.6 0 1,0 -1.2,0M105.3,250.6a0.6,0.6 0 1,0 1.2,0a0.6,0.6 0 1,0 -1.2,0M107.9,246.6a0.6,0.6 0 1,0 1.2,0a0.6,0.6 0 1,0 -1.2,0M131.5,247.8a0.6,0.6 0 1,0 1.2,0a0.6,0.6 0 1,0 -1.2,0M134.5,246.8a0.6,0.6 0 1,0 1.2,0a0.6,0.6 0 1,0 -1.2,0M152,247.9a0.6,0.6 0 1,0 1.2,0a0.6,0.6 0 1,0 -1.2,0M160.7,247.3a0.6,0.6 0 1,0 1.2,0a0.6,0.6 0 1,0 -1.2,0M40.6,250.6a0.6,0.6 0 1,0 1.2,0a0.6,0.6 0 1,0 -1.2,0M46.9,248.7a0.6,0.6 0 1,0 1.2,0a0.6,0.6 0 1,0 -1.2,0M50,250.7a0.6,0.6 0 1,0 1.2,0a0.6,0.6 0 1,0 -1.2,0M58.2,250.4a0.6,0.6 0 1,0 1.2,0a0.6,0.6 0 1,0 -1.2,0M73.6,251a0.6,0.6 0 1,0 1.2,0a0.6,0.6 0 1,0 -1.2,0M78.9,249.1a0.6,0.6 0 1,0 1.2,0a0.6,0.6 0 1,0 -1.2,0M83,251.7a0.6,0.6 0 1,0 1.2,0a0.6,0.6 0 1,0 -1.2,0M105.6,252.9a0.6,0.6 0 1,0 1.2,0a0.6,0.6 0 1,0 -1.2,0M109.8,250a0.6,0.6 0 1,0 1.2,0a0.6,0.6 0 1,0 -1.2,0M124.6,250.9a0.6,0.6 0 1,0 1.2,0a0.6,0.6 0 1,0 -1.2,0M135.5,251.1a0.6,0.6 0 1,0 1.2,0a0.6,0.6 0 1,0 -1.2,0M151,251.4a0.6,0.6 0 1,0 1.2,0a0.6,0.6 0 1,0 -1.2,0M164.1,251.9a0.6,0.6 0 1,0 1.2,0a0.6,0.6 0 1,0 -1.2,0M44.4,255.7a0.6,0.6 0 1,0 1.2,0a0.6,0.6 0 1,0 -1.2,0M51.6,257a0.6,0.6 0 1,0 1.2,0a0.6,0.6 0 1,0 -1.2,0M54.8,253.6a0.6,0.6 0 1,0 1.2,0a0.6,0.6 0 1,0 -1.2,0M65.6,256.2a0.6,0.6 0 1,0 1.2,0a0.6,0.6 0 1,0 -1.2,0M71.6,255.4a0.6,0.6 0 1,0 1.2,0a0.6,0.6 0 1,0 -1.2,0M83.7,253.3a0.6,0.6 0 1,0 1.2,0a0.6,0.6 0 1,0 -1.2,0M86.3,256.9a0.6,0.6 0 1,0 1.2,0a0.6,0.6 0 1,0 -1.2,0M105.4,255a0.6,0.6 0 1,0 1.2,0a0.6,0.6 0 1,0 -1.2,0M108.9,254.5a0.6,0.6 0 1,0 1.2,0a0.6,0.6 0 1,0 -1.2,0M125.8,254.7a0.6,0.6 0 1,0 1.2,0a0.6,0.6 0 1,0 -1.2,0M131.9,255.1a0.6,0.6 0 1,0 1.2,0a0.6,0.6 0 1,0 -1.2,0M141.7,256a0.6,0.6 0 1,0 1.2,0a0.6,0.6 0 1,0 -1.2,0M142.5,254a0.6,0.6 0 1,0 1.2,0a0.6,0.6 0 1,0 -1.2,0M152.4,253.8a0.6,0.6 0 1,0 1.2,0a0.6,0.6 0 1,0 -1.2,0M159.6,252.9a0.6,0.6 0 1,0 1.2,0a0.6,0.6 0 1,0 -1.2,0M37,259a0.6,0.6 0 1,0 1.2,0a0.6,0.6 0 1,0 -1.2,0M40.6,256.2a0.6,0.6 0 1,0 1.2,0a0.6,0.6 0 1,0 -1.2,0M55.3,257.4a0.6,0.6 0 1,0 1.2,0a0.6,0.6 0 1,0 -1.2,0M57.2,257.3a0.6,0.6 0 1,0 1.2,0a0.6,0.6 0 1,0 -1.2,0M61.1,258a0.6,0.6 0 1,0 1.2,0a0.6,0.6 0 1,0 -1.2,0M65.5,260.6a0.6,0.6 0 1,0 1.2,0a0.6,0.6 0 1,0 -1.2,0M78,257.9a0.6,0.6 0 1,0 1.2,0a0.6,0.6 0 1,0 -1.2,0M82.7,256.9a0.6,0.6 0 1,0 1.2,0a0.6,0.6 0 1,0 -1.2,0M98.8,258.7a0.6,0.6 0 1,0 1.2,0a0.6,0.6 0 1,0 -1.2,0M105.9,256.4a0.6,0.6 0 1,0 1.2,0a0.6,0.6 0 1,0 -1.2,0M110.9,257.6a0.6,0.6 0 1,0 1.2,0a0.6,0.6 0 1,0 -1.2,0M122.9,256.7a0.6,0.6 0 1,0 1.2,0a0.6,0.6 0 1,0 -1.2,0M132.4,258.9a0.6,0.6 0 1,0 1.2,0a0.6,0.6 0 1,0 -1.2,0M150.8,257.9a0.6,0.6 0 1,0 1.2,0a0.6,0.6 0 1,0 -1.2,0M156.9,259.2a0.6,0.6 0 1,0 1.2,0a0.6,0.6 0 1,0 -1.2,0M35.6,260.4a0.6,0.6 0 1,0 1.2,0a0.6,0.6 0 1,0 -1.2,0M54.9,260.7a0.6,0.6 0 1,0 1.2,0a0.6,0.6 0 1,0 -1.2,0M58.1,260.4a0.6,0.6 0 1,0 1.2,0a0.6,0.6 0 1,0 -1.2,0M62.4,259.6a0.6,0.6 0 1,0 1.2,0a0.6,0.6 0 1,0 -1.2,0M67.4,262a0.6,0.6 0 1,0 1.2,0a0.6,0.6 0 1,0 -1.2,0M74.7,260.7a0.6,0.6 0 1,0 1.2,0a0.6,0.6 0 1,0 -1.2,0M88.6,261.8a0.6,0.6 0 1,0 1.2,0a0.6,0.6 0 1,0 -1.2,0M94,262.6a0.6,0.6 0 1,0 1.2,0a0.6,0.6 0 1,0 -1.2,0M95.2,260.1a0.6,0.6 0 1,0 1.2,0a0.6,0.6 0 1,0 -1.2,0M114.7,263a0.6,0.6 0 1,0 1.2,0a0.6,0.6 0 1,0 -1.2,0M114.7,260.1a0.6,0.6 0 1,0 1.2,0a0.6,0.6 0 1,0 -1.2,0M131.8,260.2a0.6,0.6 0 1,0 1.2,0a0.6,0.6 0 1,0 -1.2,0M139.7,261.2a0.6,0.6 0 1,0 1.2,0a0.6,0.6 0 1,0 -1.2,0M149.6,260.6a0.6,0.6 0 1,0 1.2,0a0.6,0.6 0 1,0 -1.2,0M38.6,266.3a0.6,0.6 0 1,0 1.2,0a0.6,0.6 0 1,0 -1.2,0M48.9,264.8a0.6,0.6 0 1,0 1.2,0a0.6,0.6 0 1,0 -1.2,0M55.9,264.2a0.6,0.6 0 1,0 1.2,0a0.6,0.6 0 1,0 -1.2,0M61.2,266a0.6,0.6 0 1,0 1.2,0a0.6,0.6 0 1,0 -1.2,0M64.9,263.9a0.6,0.6 0 1,0 1.2,0a0.6,0.6 0 1,0 -1.2,0M69.8,262.3a0.6,0.6 0 1,0 1.2,0a0.6,0.6 0 1,0 -1.2,0M73.4,264.5a0.6,0.6 0 1,0 1.2,0a0.6,0.6 0 1,0 -1.2,0M108.9,264.2a0.6,0.6 0 1,0 1.2,0a0.6,0.6 0 1,0 -1.2,0M111.8,265.6a0.6,0.6 0 1,0 1.2,0a0.6,0.6 0 1,0 -1.2,0M126.9,264.8a0.6,0.6 0 1,0 1.2,0a0.6,0.6 0 1,0 -1.2,0M130.6,263.6a0.6,0.6 0 1,0 1.2,0a0.6,0.6 0 1,0 -1.2,0M150.9,265.6a0.6,0.6 0 1,0 1.2,0a0.6,0.6 0 1,0 -1.2,0M152.5,264.1a0.6,0.6 0 1,0 1.2,0a0.6,0.6 0 1,0 -1.2,0M162.5,265.8a0.6,0.6 0 1,0 1.2,0a0.6,0.6 0 1,0 -1.2,0M47.4,270.1a0.6,0.6 0 1,0 1.2,0a0.6,0.6 0 1,0 -1.2,0M57.3,267.5a0.6,0.6 0 1,0 1.2,0a0.6,0.6 0 1,0 -1.2,0M59.6,270.5a0.6,0.6 0 1,0 1.2,0a0.6,0.6 0 1,0 -1.2,0M63.8,268.7a0.6,0.6 0 1,0 1.2,0a0.6,0.6 0 1,0 -1.2,0M80.4,266.1a0.6,0.6 0 1,0 1.2,0a0.6,0.6 0 1,0 -1.2,0M86,267.4a0.6,0.6 0 1,0 1.2,0a0.6,0.6 0 1,0 -1.2,0M87.5,269a0.6,0.6 0 1,0 1.2,0a0.6,0.6 0 1,0 -1.2,0M90.9,268.9a0.6,0.6 0 1,0 1.2,0a0.6,0.6 0 1,0 -1.2,0M117.5,268.6a0.6,0.6 0 1,0 1.2,0a0.6,0.6 0 1,0 -1.2,0M132.2,267.6a0.6,0.6 0 1,0 1.2,0a0.6,0.6 0 1,0 -1.2,0M137.2,267a0.6,0.6 0 1,0 1.2,0a0.6,0.6 0 1,0 -1.2,0M140.9,268.3a0.6,0.6 0 1,0 1.2,0a0.6,0.6 0 1,0 -1.2,0M144.2,267.3a0.6,0.6 0 1,0 1.2,0a0.6,0.6 0 1,0 -1.2,0M148.7,268.4a0.6,0.6 0 1,0 1.2,0a0.6,0.6 0 1,0 -1.2,0M151.2,269.8a0.6,0.6 0 1,0 1.2,0a0.6,0.6 0 1,0 -1.2,0M32.6,271.9a0.6,0.6 0 1,0 1.2,0a0.6,0.6 0 1,0 -1.2,0M47,273.3a0.6,0.6 0 1,0 1.2,0a0.6,0.6 0 1,0 -1.2,0M54.4,270.9a0.6,0.6 0 1,0 1.2,0a0.6,0.6 0 1,0 -1.2,0M67.3,274.1a0.6,0.6 0 1,0 1.2,0a0.6,0.6 0 1,0 -1.2,0M78.2,272a0.6,0.6 0 1,0 1.2,0a0.6,0.6 0 1,0 -1.2,0M83.4,272.6a0.6,0.6 0 1,0 1.2,0a0.6,0.6 0 1,0 -1.2,0M86,273a0.6,0.6 0 1,0 1.2,0a0.6,0.6 0 1,0 -1.2,0M90.8,273.5a0.6,0.6 0 1,0 1.2,0a0.6,0.6 0 1,0 -1.2,0M106.1,271.3a0.6,0.6 0 1,0 1.2,0a0.6,0.6 0 1,0 -1.2,0M114.5,271.6a0.6,0.6 0 1,0 1.2,0a0.6,0.6 0 1,0 -1.2,0M117.5,271.3a0.6,0.6 0 1,0 1.2,0a0.6,0.6 0 1,0 -1.2,0M127.9,272.3a0.6,0.6 0 1,0 1.2,0a0.6,0.6 0 1,0 -1.2,0M134.5,272.2a0.6,0.6 0 1,0 1.2,0a0.6,0.6 0 1,0 -1.2,0M139.8,271.4a0.6,0.6 0 1,0 1.2,0a0.6,0.6 0 1,0 -1.2,0M146.8,269.9a0.6,0.6 0 1,0 1.2,0a0.6,0.6 0 1,0 -1.2,0M149.3,274.1a0.6,0.6 0 1,0 1.2,0a0.6,0.6 0 1,0 -1.2,0M159.6,271.5a0.6,0.6 0 1,0 1.2,0a0.6,0.6 0 1,0 -1.2,0M166,273.8a0.6,0.6 0 1,0 1.2,0a0.6,0.6 0 1,0 -1.2,0M36.1,275.4a0.6,0.6 0 1,0 1.2,0a0.6,0.6 0 1,0 -1.2,0M40.8,275.3a0.6,0.6 0 1,0 1.2,0a0.6,0.6 0 1,0 -1.2,0M45.2,274.5a0.6,0.6 0 1,0 1.2,0a0.6,0.6 0 1,0 -1.2,0M75.3,277.5a0.6,0.6 0 1,0 1.2,0a0.6,0.6 0 1,0 -1.2,0M80,275.7a0.6,0.6 0 1,0 1.2,0a0.6,0.6 0 1,0 -1.2,0M86.4,276.2a0.6,0.6 0 1,0 1.2,0a0.6,0.6 0 1,0 -1.2,0M94.8,275.8a0.6,0.6 0 1,0 1.2,0a0.6,0.6 0 1,0 -1.2,0M103.9,274.5a0.6,0.6 0 1,0 1.2,0a0.6,0.6 0 1,0 -1.2,0M115.3,276.1a0.6,0.6 0 1,0 1.2,0a0.6,0.6 0 1,0 -1.2,0M135.7,275.8a0.6,0.6 0 1,0 1.2,0a0.6,0.6 0 1,0 -1.2,0M143.3,275.1a0.6,0.6 0 1,0 1.2,0a0.6,0.6 0 1,0 -1.2,0M149.8,277.2a0.6,0.6 0 1,0 1.2,0a0.6,0.6 0 1,0 -1.2,0M159.3,276.3a0.6,0.6 0 1,0 1.2,0a0.6,0.6 0 1,0 -1.2,0M34.7,280a0.6,0.6 0 1,0 1.2,0a0.6,0.6 0 1,0 -1.2,0M51.2,278.7a0.6,0.6 0 1,0 1.2,0a0.6,0.6 0 1,0 -1.2,0M59.2,278.6a0.6,0.6 0 1,0 1.2,0a0.6,0.6 0 1,0 -1.2,0M65.1,278.9a0.6,0.6 0 1,0 1.2,0a0.6,0.6 0 1,0 -1.2,0M79.4,279.5a0.6,0.6 0 1,0 1.2,0a0.6,0.6 0 1,0 -1.2,0M97.4,278.2a0.6,0.6 0 1,0 1.2,0a0.6,0.6 0 1,0 -1.2,0M98.4,279.8a0.6,0.6 0 1,0 1.2,0a0.6,0.6 0 1,0 -1.2,0M101.8,279.6a0.6,0.6 0 1,0 1.2,0a0.6,0.6 0 1,0 -1.2,0M105.3,279.6a0.6,0.6 0 1,0 1.2,0a0.6,0.6 0 1,0 -1.2,0M114.1,280.1a0.6,0.6 0 1,0 1.2,0a0.6,0.6 0 1,0 -1.2,0M119,277.6a0.6,0.6 0 1,0 1.2,0a0.6,0.6 0 1,0 -1.2,0M123.6,279.3a0.6,0.6 0 1,0 1.2,0a0.6,0.6 0 1,0 -1.2,0M138.3,279.5a0.6,0.6 0 1,0 1.2,0a0.6,0.6 0 1,0 -1.2,0M146.2,280.2a0.6,0.6 0 1,0 1.2,0a0.6,0.6 0 1,0 -1.2,0M160.6,280.5a0.6,0.6 0 1,0 1.2,0a0.6,0.6 0 1,0 -1.2,0M49.2,282.7a0.6,0.6 0 1,0 1.2,0a0.6,0.6 0 1,0 -1.2,0M53.9,284.3a0.6,0.6 0 1,0 1.2,0a0.6,0.6 0 1,0 -1.2,0M56.1,281.6a0.6,0.6 0 1,0 1.2,0a0.6,0.6 0 1,0 -1.2,0M70.3,283.3a0.6,0.6 0 1,0 1.2,0a0.6,0.6 0 1,0 -1.2,0M79.1,281.4a0.6,0.6 0 1,0 1.2,0a0.6,0.6 0 1,0 -1.2,0M83.8,282.5a0.6,0.6 0 1,0 1.2,0a0.6,0.6 0 1,0 -1.2,0M104.6,284.7a0.6,0.6 0 1,0 1.2,0a0.6,0.6 0 1,0 -1.2,0M108.1,282.1a0.6,0.6 0 1,0 1.2,0a0.6,0.6 0 1,0 -1.2,0M115.6,284.1a0.6,0.6 0 1,0 1.2,0a0.6,0.6 0 1,0 -1.2,0M123.1,282a0.6,0.6 0 1,0 1.2,0a0.6,0.6 0 1,0 -1.2,0M157.2,284.6a0.6,0.6 0 1,0 1.2,0a0.6,0.6 0 1,0 -1.2,0M158.1,282.5a0.6,0.6 0 1,0 1.2,0a0.6,0.6 0 1,0 -1.2,0M165,282.4a0.6,0.6 0 1,0 1.2,0a0.6,0.6 0 1,0 -1.2,0M34.6,286.7a0.6,0.6 0 1,0 1.2,0a0.6,0.6 0 1,0 -1.2,0M38.4,286.1a0.6,0.6 0 1,0 1.2,0a0.6,0.6 0 1,0 -1.2,0M42.5,284.5a0.6,0.6 0 1,0 1.2,0a0.6,0.6 0 1,0 -1.2,0M54.2,285.2a0.6,0.6 0 1,0 1.2,0a0.6,0.6 0 1,0 -1.2,0M60.7,284.5a0.6,0.6 0 1,0 1.2,0a0.6,0.6 0 1,0 -1.2,0M62.4,285.7a0.6,0.6 0 1,0 1.2,0a0.6,0.6 0 1,0 -1.2,0M72.7,286.6a0.6,0.6 0 1,0 1.2,0a0.6,0.6 0 1,0 -1.2,0M90.8,287.5a0.6,0.6 0 1,0 1.2,0a0.6,0.6 0 1,0 -1.2,0M94.6,284.8a0.6,0.6 0 1,0 1.2,0a0.6,0.6 0 1,0 -1.2,0M101.6,285a0.6,0.6 0 1,0 1.2,0a0.6,0.6 0 1,0 -1.2,0M107,287.9a0.6,0.6 0 1,0 1.2,0a0.6,0.6 0 1,0 -1.2,0M109.6,286.5a0.6,0.6 0 1,0 1.2,0a0.6,0.6 0 1,0 -1.2,0M124.4,285.6a0.6,0.6 0 1,0 1.2,0a0.6,0.6 0 1,0 -1.2,0M127.2,286.3a0.6,0.6 0 1,0 1.2,0a0.6,0.6 0 1,0 -1.2,0M135.1,286.2a0.6,0.6 0 1,0 1.2,0a0.6,0.6 0 1,0 -1.2,0M145.4,286.5a0.6,0.6 0 1,0 1.2,0a0.6,0.6 0 1,0 -1.2,0M150,285.7a0.6,0.6 0 1,0 1.2,0a0.6,0.6 0 1,0 -1.2,0M160.3,286.8a0.6,0.6 0 1,0 1.2,0a0.6,0.6 0 1,0 -1.2,0M162.8,285.5a0.6,0.6 0 1,0 1.2,0a0.6,0.6 0 1,0 -1.2,0M35.5,288.4a0.6,0.6 0 1,0 1.2,0a0.6,0.6 0 1,0 -1.2,0M41.9,288.8a0.6,0.6 0 1,0 1.2,0a0.6,0.6 0 1,0 -1.2,0M51.6,289.4a0.6,0.6 0 1,0 1.2,0a0.6,0.6 0 1,0 -1.2,0M61.9,289.3a0.6,0.6 0 1,0 1.2,0a0.6,0.6 0 1,0 -1.2,0M65.2,287.1a0.6,0.6 0 1,0 1.2,0a0.6,0.6 0 1,0 -1.2,0M78.4,292.5a0.6,0.6 0 1,0 1.2,0a0.6,0.6 0 1,0 -1.2,0M85.6,290.7a0.6,0.6 0 1,0 1.2,0a0.6,0.6 0 1,0 -1.2,0M100.2,287a0.6,0.6 0 1,0 1.2,0a0.6,0.6 0 1,0 -1.2,0M108.8,291.3a0.6,0.6 0 1,0 1.2,0a0.6,0.6 0 1,0 -1.2,0M113.4,289.6a0.6,0.6 0 1,0 1.2,0a0.6,0.6 0 1,0 -1.2,0M124.7,290.3a0.6,0.6 0 1,0 1.2,0a0.6,0.6 0 1,0 -1.2,0M136.1,290.9a0.6,0.6 0 1,0 1.2,0a0.6,0.6 0 1,0 -1.2,0M144.7,288.8a0.6,0.6 0 1,0 1.2,0a0.6,0.6 0 1,0 -1.2,0M145.6,291a0.6,0.6 0 1,0 1.2,0a0.6,0.6 0 1,0 -1.2,0M152.4,291.4a0.6,0.6 0 1,0 1.2,0a0.6,0.6 0 1,0 -1.2,0M37.4,293.5a0.6,0.6 0 1,0 1.2,0a0.6,0.6 0 1,0 -1.2,0M47.1,292.8a0.6,0.6 0 1,0 1.2,0a0.6,0.6 0 1,0 -1.2,0M55.1,292.8a0.6,0.6 0 1,0 1.2,0a0.6,0.6 0 1,0 -1.2,0M65.2,294a0.6,0.6 0 1,0 1.2,0a0.6,0.6 0 1,0 -1.2,0M74.9,290.8a0.6,0.6 0 1,0 1.2,0a0.6,0.6 0 1,0 -1.2,0M78.9,293.9a0.6,0.6 0 1,0 1.2,0a0.6,0.6 0 1,0 -1.2,0M82.5,293.8a0.6,0.6 0 1,0 1.2,0a0.6,0.6 0 1,0 -1.2,0M92.6,293.2a0.6,0.6 0 1,0 1.2,0a0.6,0.6 0 1,0 -1.2,0M103.7,291.9a0.6,0.6 0 1,0 1.2,0a0.6,0.6 0 1,0 -1.2,0M121.8,292.8a0.6,0.6 0 1,0 1.2,0a0.6,0.6 0 1,0 -1.2,0M130.4,292.9a0.6,0.6 0 1,0 1.2,0a0.6,0.6 0 1,0 -1.2,0M136.1,293.8a0.6,0.6 0 1,0 1.2,0a0.6,0.6 0 1,0 -1.2,0M156.6,292.8a0.6,0.6 0 1,0 1.2,0a0.6,0.6 0 1,0 -1.2,0M161.9,293.4a0.6,0.6 0 1,0 1.2,0a0.6,0.6 0 1,0 -1.2,0M34.7,294.3a0.6,0.6 0 1,0 1.2,0a0.6,0.6 0 1,0 -1.2,0M44.1,296.5a0.6,0.6 0 1,0 1.2,0a0.6,0.6 0 1,0 -1.2,0M47.9,295.5a0.6,0.6 0 1,0 1.2,0a0.6,0.6 0 1,0 -1.2,0M51.3,295a0.6,0.6 0 1,0 1.2,0a0.6,0.6 0 1,0 -1.2,0M60.8,295.8a0.6,0.6 0 1,0 1.2,0a0.6,0.6 0 1,0 -1.2,0M68.8,296.3a0.6,0.6 0 1,0 1.2,0a0.6,0.6 0 1,0 -1.2,0M75.5,298.4a0.6,0.6 0 1,0 1.2,0a0.6,0.6 0 1,0 -1.2,0M76.4,294.4a0.6,0.6 0 1,0 1.2,0a0.6,0.6 0 1,0 -1.2,0M87.9,294.8a0.6,0.6 0 1,0 1.2,0a0.6,0.6 0 1,0 -1.2,0M97.2,297.6a0.6,0.6 0 1,0 1.2,0a0.6,0.6 0 1,0 -1.2,0M104.8,297.4a0.6,0.6 0 1,0 1.2,0a0.6,0.6 0 1,0 -1.2,0M139.6,294.5a0.6,0.6 0 1,0 1.2,0a0.6,0.6 0 1,0 -1.2,0M144.2,293.3a0.6,0.6 0 1,0 1.2,0a0.6,0.6 0 1,0 -1.2,0M152.5,294.9a0.6,0.6 0 1,0 1.2,0a0.6,0.6 0 1,0 -1.2,0M156.9,295.1a0.6,0.6 0 1,0 1.2,0a0.6,0.6 0 1,0 -1.2,0M159.5,298.4a0.6,0.6 0 1,0 1.2,0a0.6,0.6 0 1,0 -1.2,0M163.9,295.8a0.6,0.6 0 1,0 1.2,0a0.6,0.6 0 1,0 -1.2,0M46.9,298a0.6,0.6 0 1,0 1.2,0a0.6,0.6 0 1,0 -1.2,0M50.5,301.3a0.6,0.6 0 1,0 1.2,0a0.6,0.6 0 1,0 -1.2,0M77.9,300.2a0.6,0.6 0 1,0 1.2,0a0.6,0.6 0 1,0 -1.2,0M93.5,298.6a0.6,0.6 0 1,0 1.2,0a0.6,0.6 0 1,0 -1.2,0M97.8,300a0.6,0.6 0 1,0 1.2,0a0.6,0.6 0 1,0 -1.2,0M103.2,298.2a0.6,0.6 0 1,0 1.2,0a0.6,0.6 0 1,0 -1.2,0M105.7,301.2a0.6,0.6 0 1,0 1.2,0a0.6,0.6 0 1,0 -1.2,0M117,298.9a0.6,0.6 0 1,0 1.2,0a0.6,0.6 0 1,0 -1.2,0M129.6,300.9a0.6,0.6 0 1,0 1.2,0a0.6,0.6 0 1,0 -1.2,0M139,299.7a0.6,0.6 0 1,0 1.2,0a0.6,0.6 0 1,0 -1.2,0M158.9,300.2a0.6,0.6 0 1,0 1.2,0a0.6,0.6 0 1,0 -1.2,0M41.3,302.6a0.6,0.6 0 1,0 1.2,0a0.6,0.6 0 1,0 -1.2,0M59,304a0.6,0.6 0 1,0 1.2,0a0.6,0.6 0 1,0 -1.2,0M71,302.9a0.6,0.6 0 1,0 1.2,0a0.6,0.6 0 1,0 -1.2,0M91.2,303.1a0.6,0.6 0 1,0 1.2,0a0.6,0.6 0 1,0 -1.2,0M95.5,303.1a0.6,0.6 0 1,0 1.2,0a0.6,0.6 0 1,0 -1.2,0M100.6,304.4a0.6,0.6 0 1,0 1.2,0a0.6,0.6 0 1,0 -1.2,0M104.7,301.8a0.6,0.6 0 1,0 1.2,0a0.6,0.6 0 1,0 -1.2,0M111,303.8a0.6,0.6 0 1,0 1.2,0a0.6,0.6 0 1,0 -1.2,0M116,300.9a0.6,0.6 0 1,0 1.2,0a0.6,0.6 0 1,0 -1.2,0M120,302.9a0.6,0.6 0 1,0 1.2,0a0.6,0.6 0 1,0 -1.2,0M130.2,304.9a0.6,0.6 0 1,0 1.2,0a0.6,0.6 0 1,0 -1.2,0M140,303.9a0.6,0.6 0 1,0 1.2,0a0.6,0.6 0 1,0 -1.2,0M143.3,301.4a0.6,0.6 0 1,0 1.2,0a0.6,0.6 0 1,0 -1.2,0M155.8,302.3a0.6,0.6 0 1,0 1.2,0a0.6,0.6 0 1,0 -1.2,0M162.3,304.5a0.6,0.6 0 1,0 1.2,0a0.6,0.6 0 1,0 -1.2,0M164.6,304.8a0.6,0.6 0 1,0 1.2,0a0.6,0.6 0 1,0 -1.2,0M35.6,305.8a0.6,0.6 0 1,0 1.2,0a0.6,0.6 0 1,0 -1.2,0M46.7,305.6a0.6,0.6 0 1,0 1.2,0a0.6,0.6 0 1,0 -1.2,0M61.1,307.2a0.6,0.6 0 1,0 1.2,0a0.6,0.6 0 1,0 -1.2,0M67.7,307.2a0.6,0.6 0 1,0 1.2,0a0.6,0.6 0 1,0 -1.2,0M73.5,306.3a0.6,0.6 0 1,0 1.2,0a0.6,0.6 0 1,0 -1.2,0M77.8,306.4a0.6,0.6 0 1,0 1.2,0a0.6,0.6 0 1,0 -1.2,0M102,307.7a0.6,0.6 0 1,0 1.2,0a0.6,0.6 0 1,0 -1.2,0M126.1,307.9a0.6,0.6 0 1,0 1.2,0a0.6,0.6 0 1,0 -1.2,0M130.9,307a0.6,0.6 0 1,0 1.2,0a0.6,0.6 0 1,0 -1.2,0M139.5,307.4a0.6,0.6 0 1,0 1.2,0a0.6,0.6 0 1,0 -1.2,0M141.2,304.6a0.6,0.6 0 1,0 1.2,0a0.6,0.6 0 1,0 -1.2,0M148,306.3a0.6,0.6 0 1,0 1.2,0a0.6,0.6 0 1,0 -1.2,0M153.7,306.4a0.6,0.6 0 1,0 1.2,0a0.6,0.6 0 1,0 -1.2,0M163.3,307.1a0.6,0.6 0 1,0 1.2,0a0.6,0.6 0 1,0 -1.2,0M35.5,310a0.6,0.6 0 1,0 1.2,0a0.6,0.6 0 1,0 -1.2,0M46.1,310.8a0.6,0.6 0 1,0 1.2,0a0.6,0.6 0 1,0 -1.2,0M61.1,311.5a0.6,0.6 0 1,0 1.2,0a0.6,0.6 0 1,0 -1.2,0M75.6,309.6a0.6,0.6 0 1,0 1.2,0a0.6,0.6 0 1,0 -1.2,0M101.5,312.4a0.6,0.6 0 1,0 1.2,0a0.6,0.6 0 1,0 -1.2,0M105.6,312.2a0.6,0.6 0 1,0 1.2,0a0.6,0.6 0 1,0 -1.2,0M117.9,310.9a0.6,0.6 0 1,0 1.2,0a0.6,0.6 0 1,0 -1.2,0M123.8,310.7a0.6,0.6 0 1,0 1.2,0a0.6,0.6 0 1,0 -1.2,0M128.9,310.1a0.6,0.6 0 1,0 1.2,0a0.6,0.6 0 1,0 -1.2,0M132.2,311.7a0.6,0.6 0 1,0 1.2,0a0.6,0.6 0 1,0 -1.2,0M152.8,309.4a0.6,0.6 0 1,0 1.2,0a0.6,0.6 0 1,0 -1.2,0M162,313a0.6,0.6 0 1,0 1.2,0a0.6,0.6 0 1,0 -1.2,0M34.5,313.1a0.6,0.6 0 1,0 1.2,0a0.6,0.6 0 1,0 -1.2,0M77.7,313.9a0.6,0.6 0 1,0 1.2,0a0.6,0.6 0 1,0 -1.2,0M85,314.4a0.6,0.6 0 1,0 1.2,0a0.6,0.6 0 1,0 -1.2,0M96.6,313.8a0.6,0.6 0 1,0 1.2,0a0.6,0.6 0 1,0 -1.2,0M103,315.1a0.6,0.6 0 1,0 1.2,0a0.6,0.6 0 1,0 -1.2,0M106.9,314.6a0.6,0.6 0 1,0 1.2,0a0.6,0.6 0 1,0 -1.2,0M111.5,312.7a0.6,0.6 0 1,0 1.2,0a0.6,0.6 0 1,0 -1.2,0M119.9,316.1a0.6,0.6 0 1,0 1.2,0a0.6,0.6 0 1,0 -1.2,0M124.9,313.1a0.6,0.6 0 1,0 1.2,0a0.6,0.6 0 1,0 -1.2,0M149.7,312.3a0.6,0.6 0 1,0 1.2,0a0.6,0.6 0 1,0 -1.2,0M154.8,313.5a0.6,0.6 0 1,0 1.2,0a0.6,0.6 0 1,0 -1.2,0M40.6,317.8a0.6,0.6 0 1,0 1.2,0a0.6,0.6 0 1,0 -1.2,0M45.3,317.9a0.6,0.6 0 1,0 1.2,0a0.6,0.6 0 1,0 -1.2,0M47.7,315.1a0.6,0.6 0 1,0 1.2,0a0.6,0.6 0 1,0 -1.2,0M52.2,319.2a0.6,0.6 0 1,0 1.2,0a0.6,0.6 0 1,0 -1.2,0M73.5,318.6a0.6,0.6 0 1,0 1.2,0a0.6,0.6 0 1,0 -1.2,0M95,318.9a0.6,0.6 0 1,0 1.2,0a0.6,0.6 0 1,0 -1.2,0M110.9,319.1a0.6,0.6 0 1,0 1.2,0a0.6,0.6 0 1,0 -1.2,0M127.8,318.5a0.6,0.6 0 1,0 1.2,0a0.6,0.6 0 1,0 -1.2,0M135.4,317.3a0.6,0.6 0 1,0 1.2,0a0.6,0.6 0 1,0 -1.2,0M148.8,317.5a0.6,0.6 0 1,0 1.2,0a0.6,0.6 0 1,0 -1.2,0M152.7,317.2a0.6,0.6 0 1,0 1.2,0a0.6,0.6 0 1,0 -1.2,0M161.6,317.9a0.6,0.6 0 1,0 1.2,0a0.6,0.6 0 1,0 -1.2,0M35.1,317.6a0.6,0.6 0 1,0 1.2,0a0.6,0.6 0 1,0 -1.2,0M48.2,319.1a0.6,0.6 0 1,0 1.2,0a0.6,0.6 0 1,0 -1.2,0M48.1,321a0.6,0.6 0 1,0 1.2,0a0.6,0.6 0 1,0 -1.2,0M70.5,320.8a0.6,0.6 0 1,0 1.2,0a0.6,0.6 0 1,0 -1.2,0M80,321.1a0.6,0.6 0 1,0 1.2,0a0.6,0.6 0 1,0 -1.2,0M92.9,317.4a0.6,0.6 0 1,0 1.2,0a0.6,0.6 0 1,0 -1.2,0M99.3,321.2a0.6,0.6 0 1,0 1.2,0a0.6,0.6 0 1,0 -1.2,0M115,321.1a0.6,0.6 0 1,0 1.2,0a0.6,0.6 0 1,0 -1.2,0M148,320a0.6,0.6 0 1,0 1.2,0a0.6,0.6 0 1,0 -1.2,0M162.8,321.2a0.6,0.6 0 1,0 1.2,0a0.6,0.6 0 1,0 -1.2,0M164.6,319.8a0.6,0.6 0 1,0 1.2,0a0.6,0.6 0 1,0 -1.2,0M105.3,322a0.6,0.6 0 1,0 1.2,0a0.6,0.6 0 1,0 -1.2,0"/>
<circle cx="132.6" cy="301.5" r="1.1" fill="#301030"/>
<circle cx="44" cy="301" r="0.9" fill="#401040"/>
</g></g>
<clipPath id="cliphpd"><rect x="170.4" y="221.0" width="134.4" height="101.0"/></clipPath>
<g clip-path="url(#cliphpd)"><g filter="url(#softhpd)">
<rect x="168.4" y="219.0" width="138.4" height="105.0" fill="#ec70c4"/>
<path fill="#d00450" d="M167.8,222.3 169,222.5 173.2,221 173.8,220.3 173.8,219.7 173.5,218.9 171.7,217.4 170.9,217.3 167.1,218.3 166.5,218.7 166.5,219.4 167.3,221.8ZM269.8,221.6 268.5,219.3 267.9,219.2 265.3,219.6 264.7,220 264.5,220.6 264.6,222.8 265,223.4 266,223.7 269.2,222.8 269.8,222.3ZM192.1,224.3 192.9,222.9 192.7,222.3 192.1,222 190.6,222.8 190.3,223.5 190.6,224.3 191.5,224.6ZM259.1,225.3 259.6,225.8 260.3,225.8 261.1,225.3 261.7,224.7 261.8,224 261.5,223.4 259.7,222.2 259.1,222.1 258.5,222.4 258.4,223.3ZM267.4,224 266.8,224.5 266.9,225.3 267.5,225.8 270.7,226.3 271.3,226.2 271.7,225.7 271.6,225 270.5,223.4 269.9,223.3ZM170.4,235.7 170.9,235.4 171.1,234.9 171.2,233 170.9,232.2 169.4,231.2 168.8,231.4 168.5,231.9 168.1,233.7 168.3,234.5 169.2,235.5ZM180.6,231.6 180.1,232 180.1,232.7 180.7,234.8 183.2,237.2 183.9,237.4 184.5,237 187.6,232.5 187.6,231.3 187.1,230.5 186.1,229.9 185.3,229.9ZM203.1,234.6 203.2,235.3 203.7,235.8 204.7,236 205.7,235.8 207.6,233.5 207.8,232.9 207.6,232.3 206.3,231 205.5,230.7 204.8,230.8 204.2,231.4ZM209.7,232.2 209.4,232.8 209.6,233.5 212.8,237.1 213.4,237.4 214.4,237.4 215.3,236.8 215.6,236.3 215.4,235.7 212.3,231.4 211.6,231 211,231.2ZM271.3,239.3 270.6,239.1 270,239.6 268.4,243.1 270,245.1 270.6,245.4 271.3,245.1 273.9,242.5 274.1,241.7 273.7,240.9ZM257.2,262.8 257.7,263.3 258.3,263.3 260.2,262.7 260.7,262.4 260.9,261.9 261,257.7 260,255.2 259.4,254.8 258.7,254.8 258.3,255.4 256.9,261.7ZM196.8,269.2 196.1,269.4 195.7,269.9 195.8,270.6 196.9,272.1 197.4,272.5 198.1,272.4 199.7,271.4 200.1,270.8 199.9,270.2 199.4,269.8ZM244.1,273.7 245.2,273.4 245.4,272.9 245.7,270.6 245.5,269.9 243.8,268.1 243.1,267.8 242.4,268.1 241.6,269.3 241.5,270.1 242.2,272.7 242.8,273.3ZM240.8,278.2 241,278.8 241.6,279 243.5,278 243.9,277.3 244.1,275 243.9,274.5 242.4,273.8 241.8,273.9 240.5,274.7ZM169.9,289.7 167.8,288.9 167.3,289.2 165.4,291.2 165.2,291.7 166.2,293.8 167,294.3 169,294.2 169.7,293.8 170.7,292.3 170.8,291.4 170.4,290.2ZM174.5,294.3 174.8,293.7 174.6,293.2 174.1,292.8 171.5,292.4 170,294.2 169.9,294.8 170,295.7 170.7,296.4 171.8,296.7 172.7,296.4ZM194.3,291.5 193.8,292.1 193.3,293.5 193.3,294.2 194.9,297.3 195.3,297.7 195.8,297.8 198,297.3 199.7,295.5 200.6,293.2 200.4,292.2 198,290.1ZM230.4,302.9 231,302.6 231.2,302.1 231.1,301.5 228.9,298 228.5,297.7 228,297.6 226.6,298.1 226.2,298.5 226.1,299.1 226.8,302.4 227.1,303 227.7,303.2ZM215.2,303.7 214.8,302.9 214,302.6 213.5,302.8 213.2,303.3 212.3,307.1 212.9,308.2 213.8,308.3 214.6,307.9 215.1,307.1ZM269.7,304.4 269.5,305 269.8,305.6 271.9,307.5 272.7,307.7 273.3,307.2 274.7,304.2 274.8,303.5 274.4,303 272.5,302 271.9,301.9 271.4,302.2ZM181.3,310.1 181.2,310.8 181.8,311.4 183.3,312 184,312 185.1,310.5 185.2,309.8 184.8,309.2 183.3,308.4 182.6,308.4 182.1,308.8ZM238.8,310.5 239,311.3 239.8,311.6 243.2,311.3 243.9,310.7 244.2,309.1 243.8,308.7 242.8,308.2 241.9,308.2 239.3,309.7ZM191,311.1 190.4,311.2 190,311.7 190.5,313.8 190.8,314.3 191.4,314.5 194.5,314.2 195.1,313.9 195.3,313.2 195,312 194.5,311.7ZM253.3,314.9 253.1,315.6 253.5,316.3 255.7,317.6 256.4,317.7 256.9,317.3 258.4,315.2 258.6,314.5 258.1,313.9 255.7,312.7 255.2,313ZM253.3,317.1 252.6,317 252.1,317.4 252,318.4 253.8,322.4 254.3,322.8 255,322.8 255.4,322.4 256.4,320.4 256.5,319.7 255.9,318.7ZM191.2,320.4 190.2,320.7 189.8,321.1 189.8,321.7 190.3,324.4 190.9,325 191.7,325 193.6,323.7 194,322.8 193.6,321ZM229.6,322.4 228.3,322.7 227.8,323.2 227.5,324.3 227.9,324.8 230.9,327.1 231.5,327.3 232,327 234,325.1 234.3,324.6 234.1,324 233.6,323.6ZM236.2,323.1 236.7,323.9 238.6,325 239.8,325.4 240.6,325.2 241.3,324.5 241.5,323.8 241.3,321.3 241,320.8 240.5,320.5 237.4,320.1 236.7,320.3 236.4,320.9ZM261,321.8 260.8,320.9 260.1,320.6 257.9,320.5 257,321 256.4,322.3 256.4,323.1 257.1,323.6 259.5,324 260.2,323.9 260.6,323.4Z"/>
<path fill="#c80044" d="M174.8,219.1 174.4,220.5 174.6,221.1 175.7,222.7 176.5,223 179.6,222.9 180.3,222.6 180.4,221.8 179.6,218.3 178.9,217.6 177.6,217.3 176.8,217.5ZM179.2,249.1 177.6,249 177.2,249.3 176.2,251.1 176.1,251.8 176.3,252.4 178.7,255.4 179.3,255.8 180.2,255.4 180.5,254.6 179.9,249.9 179.7,249.4ZM232.8,263.5 233.3,263.2 233.6,262.8 233.8,261.7 233.6,261 232.1,259.1 231.6,258.8 230.1,258.5 229.3,258.6 229,259.3 228.9,262.7 229.2,263.3 229.9,263.6ZM265,262.9 265.2,262.3 264.9,259.6 264.3,258.9 262.7,258.3 261.9,258.4 261.5,259.1 261.4,261.8 261.5,262.3 264,263.3 264.5,263.3ZM232,268.7 231.8,269.4 232.3,270 234.4,271 235,271 235.5,270.7 237,268.6 237.1,267.8 236.4,266.4 235,265.8 234.4,265.7 233.9,266ZM227.5,296.2 227.8,296.7 228.4,296.9 229,296.7 230.9,294.8 230.9,294.2 229.8,292.4 227.6,292.5 227,292.9 226.9,293.6ZM210.3,307 210.9,307.3 211.5,307.1 211.8,306.6 212.7,302.4 212.6,301.7 212,301.3 211.4,301.5 208,303.6 207.6,304.2 207.9,305ZM255.5,301.4 255.1,300.7 254.3,300.6 252.1,301.3 251.6,301.7 250.2,304.1 250.1,304.7 250.4,305.2 252.5,306.8 254.8,307.3 255.7,307 256.1,306.2Z"/>
<path fill="#d40c54" d="M181.1,221.7 181.6,222.4 182.4,222.3 184,221.2 185.5,217.3 185.5,216.6 184.9,216.2 183.2,215.6 182.4,215.8 180.6,217.1 180.2,218.1ZM215.2,217.3 214.5,217.7 214.4,218.5 215.2,221.3 215.5,221.8 216.2,222 216.9,221.7 219.4,219.3 219.8,218.2 219.8,217.6 219.5,217.2 218.9,217ZM237.4,224.7 237.7,225.3 238.2,225.6 238.8,225.5 241.3,224 241.7,223.1 241.3,221.1 238.7,220.4 238.1,220.6 237.4,222.2ZM195.1,239.5 195.6,239.4 196,238.9 196.1,238.3 195.1,234.6 194.7,234.1 194,234 193.5,234.4 191.5,237.1 191.3,238.1 191.5,238.6 192.1,239ZM236.1,236.5 235.7,237 235.7,237.6 236.1,238.1 239.7,239.9 240.3,240 240.9,239.5 242.1,237.3 242,236.3 240.9,234.7 240.4,234.4 239.8,234.5ZM247.9,237.2 247.6,237.8 247.8,238.4 248.4,238.7 251.5,239.3 252.2,239.2 252.6,238.6 252.7,237.1 252,234.6 251.6,234.1 251,234 250.5,234.3ZM266,237.6 265.3,237.7 265,238.4 265,240 266.4,242.4 267.1,242.8 267.7,242.7 269.6,239.5 269.6,238.7 269,238.2ZM229.1,256.7 229.3,257.3 229.8,257.6 231.4,258 232.3,257.7 233.4,256.4 233.6,255.8 233.4,255.2 230.8,252.3 230.1,252 229.5,252.3 229.2,252.9ZM237.1,255.4 234.9,256 233,258 232.7,258.6 232.9,259.2 234.4,260.7 238.8,259.6 239.3,259.1 239.4,258.5 238.8,256.3 238.2,255.7ZM239.6,255.3 239.5,256.1 240.2,258.7 240.5,259.2 242.4,259.3 243,259 244.3,257.6 244.5,256.2 244.1,255.3 243.7,254.8 241.6,253.7 241,253.6 240.5,254ZM230.5,268.1 231.2,268.3 231.8,267.9 233.6,265.5 233.7,264.6 233.4,264.2 229.1,264.2 228.1,264.8 227.9,265.5 228.2,266.1ZM192.2,270.7 192.2,269.9 191.8,269.4 190.4,268.9 186.3,269.6 185.5,270.3 185.6,271.1 186.8,272.9 187.6,273.3 190.3,273 191,272.6ZM164.9,277 165.2,277.4 166,277.6 167.2,277.4 167.8,277 167.8,276.2 167.3,275.7 165.3,275.3 164.9,275.8ZM180.6,279.5 182.1,276.8 181.9,276.3 181,275.1 180.4,274.8 179.7,274.9 177.3,276.9 177,277.6 177.3,278.3 178.8,279.5 180.1,279.9ZM224.3,278.9 225.1,279.2 226.2,279.2 226.7,279 227,278.5 228,274.9 227.9,274.1 227.3,273.7 226.6,273.9 223.7,276.4 223.4,277.2 223.6,278ZM236.4,273.8 235.5,274.1 233.3,276.7 233.1,278.1 233.3,278.6 233.8,279 236.4,279.4 236.8,279 238.7,275.7 238.8,274.9 238.2,274.4ZM255.1,277.9 255.4,278.4 256,278.6 258.2,278.3 259,276.1 259,275.5 258.5,275 257.9,275 255.4,275.8 254.9,276.2ZM218,312.9 218.8,312.7 219.3,311.8 219.3,309.3 219,308.7 218.4,308.4 215.8,308.3 214.1,308.9 213.6,309.8 213.8,311.6 214.3,311.9ZM201,310.8 200.7,311.3 200.1,313.8 200.2,314.4 200.6,314.8 202.3,315.6 204.2,315.3 204.8,314.9 205.7,313.4 205.7,312.5 204,309.8 203.4,309.4 202.7,309.6ZM249,325 251.6,325.4 253.1,324.7 253.5,324.2 253.5,323.5 252.2,321 251.8,320.5 251.2,320.5 250.7,320.9 248.8,323.8 248.7,324.4Z"/>
<path fill="#d00850" d="M187.3,216.7 186.6,216.8 186.2,217.3 185,220.5 185,221.2 185.6,221.7 187.1,222.1 187.8,222 188.2,221.4 188.8,218.2 188.5,217.3ZM226.1,217 225.4,217.4 225.3,218.2 226.5,221.7 227.6,222.5 229.8,222.7 230.2,222.2 231.4,219.3 231.3,218.4 230.6,217.5 229.9,217.1ZM192.8,224.5 192.6,225.2 192.9,225.8 193.5,226 196.3,225.9 197.1,225.5 197.6,224.7 197.7,223.2 197.3,222.2 196.6,221.7 195.7,221.6 194.8,221.9ZM244.1,227.1 244.4,226.4 244.1,225.8 242,224.3 238.1,226.5 237.7,227.2 237.6,228.5 238,229.3 239.6,230.4 240.2,230.6 240.7,230.3ZM176.5,247.7 175.6,247.3 173.6,247.6 173,247.9 172.8,248.5 172.7,250.2 173,250.9 173.7,251.1 175,251.1 175.8,250.7 176.7,248.9ZM233,250.1 231.3,250.8 231.1,251.4 231.4,251.9 234.2,255 235.4,255.2 235.9,254.7 235.9,253.9 234.3,250.8 233.7,250.2ZM267.9,256.8 267.3,256.8 266.8,257.1 265.7,258.7 265.5,259.3 265.7,261.1 266.1,261.7 266.9,261.8 268.8,261 269.3,260.3 269.4,257.7ZM244.3,266.1 243.8,266.7 244,267.5 245.4,269 246.1,269.3 246.8,268.9 248.9,266 249,265.1 248.8,264.6 248.2,264.3 247.6,264.4ZM229.1,291.7 229.6,291.4 229.8,290.8 229.9,289.2 229.8,288.6 229.2,288.3 226.3,287.8 225.7,287.9 225.3,288.3 224.5,290.4 224.5,291.1 225,291.6 226.1,292ZM226.5,303.7 226.6,303 225.8,299 225.1,298.3 224.3,298.1 223.5,298.4 220.6,301.6 220.5,303.2 221.6,305.7 222.3,306.2 225.3,305.2ZM234.2,316.6 234.9,317 235.6,316.9 238.9,314.7 238.6,312.3 238.2,311.7 237.6,311.6 234.9,311.9 234.3,312.2 234.1,312.7 233.8,315.7ZM178,315.6 177.3,315.7 176.8,316.2 175.8,320.2 175.9,321 176.7,321.3 179.7,321 180.3,320.2 180.4,316.8ZM236.5,317.2 236.1,317.7 236.1,318.3 236.9,319.1 240.5,319.7 241.1,319.5 241.5,319 241.7,318 241.5,317 241.1,316.4 239.8,315.7 239,315.7Z"/>
<path fill="#d40854" d="M188.9,221.3 189.1,222 189.7,222.3 190.4,222.2 191.9,221 192.3,220.5 192.2,219.9 190.6,218.8 189.7,218.8 189.2,219.5ZM203.9,223 205.3,222.3 205.7,221.7 205.6,221 204.1,218.9 203.4,218.8 199.2,219.6 198.6,220 197.9,221.2 197.8,222 198.1,222.5 198.9,223ZM206.3,221.2 207,221.7 207.8,221.3 210.3,217.9 210.4,217.1 209.8,215.4 209.4,214.9 208.8,214.8 208.3,215.1 205.3,218.4 205.1,218.9 205.2,219.5ZM208,231.9 208.6,232.1 209.2,231.9 211,230.5 211.3,230 211.2,229.4 209.7,226.6 209,226.1 208.3,226.4 206.6,228.2 206.4,228.8 206.4,229.8 206.6,230.5ZM197.7,238.5 197.4,239.3 197.9,239.9 199.4,240.9 200.2,241 200.7,240.5 202.2,236.7 202.1,236 201.4,235.5 200.5,235.7ZM209.3,233.8 208.6,233.5 207.9,233.8 205.8,236.6 206.9,238.8 207.3,239.2 208,239.2 211.3,237.9 211.9,237.3 211.7,236.5ZM195.5,240.7 195.3,240.1 194.8,239.8 192.5,239.5 191.9,239.6 191.5,240.1 190.3,243.7 190.3,244.3 190.7,244.8 193.2,246.1 193.7,246.2 194.3,245.9 195.4,244.4ZM169.3,253.3 168.9,253.8 168.9,254.5 169.4,254.9 172.2,256 172.6,255.7 174.9,253.2 175.1,252.6 174.8,251.9 174.2,251.7 172.7,251.7ZM181.7,271.5 181.1,271.8 180.9,273.4 182.4,275.7 182.9,276 183.5,276 185.4,275.3 186,274.8 186.3,274 186.2,273.2 185.2,271.7 184.4,271.3ZM261.1,274.3 260.6,274.5 260.2,275 259.2,278.3 259.4,279.2 261,280.6 261.6,280.4 264,278.9 264.4,278.5 264.4,277.9 263.3,274.6ZM198,277.9 197.4,278.5 197.5,279.2 199.1,282.3 199.9,282.7 202.2,282.7 203,282.3 204.1,280.3 204.2,279.5 203.5,277.7 203.1,277.2 202.5,277.1 199,277.6ZM178.9,286.8 179.3,286.2 179.3,285.5 178.7,285 175.1,284.1 174,284.2 173.5,284.6 173.4,285.2 173.9,286 176.9,287.5 177.7,287.4ZM180.3,284.5 180.4,285.2 180.9,285.6 182.6,286 183.5,285.7 184.8,284.2 185,283.3 184.2,282.4 181.8,281.9 181.1,282 180.7,282.6ZM196.1,307.6 196.6,308.2 199.9,310.2 200.9,310.2 202.6,308.7 202.6,308.1 202.2,307.6 198.8,305.9 198.1,305.8 196.7,306.4 196.2,306.8ZM176.2,314.8 176.9,314.7 177.3,314.1 177.8,311.1 177.1,309.6 175.5,308.6 174.9,308.7 174.5,309.1 172.7,313.2 172.9,313.7 173.3,314.1ZM244.4,315.1 242.6,316.1 242.1,317 242.4,318 246.5,319.1 247.1,319.1 248,318 248.1,317.4 247.9,316.9 246.5,315.5 245.9,315.2ZM189.2,326.7 189.9,326.4 190.1,325.6 189.3,321.9 189,321.4 188.5,321.2 187.2,321.2 186.5,321.5 184.7,323.4 184.5,324.4 184.8,325 186.2,326.4 186.8,326.7ZM200.5,321.9 199.9,322.4 199.2,324.4 201,326.4 201.8,326.7 202.4,326.2 203.1,324.9 203,323.4 202.6,322.8 201.2,321.9Z"/>
<path fill="#dc1460" d="M194,219.4 194.4,220.3 195,220.8 196.5,221.2 197,221.1 197.4,220.7 198.1,219.6 198.2,218.9 197.4,215 196.3,213.9 195.8,213.7 195.2,214 194.9,214.5ZM203.4,226.3 203.4,227.1 204,227.5 205.5,228 206.4,227.7 208.7,225.1 209,224.4 208.7,223.8 207.4,222.5 207,222.2 206.2,222.3 204.3,223.7ZM243.2,220.5 242.4,220.7 242.1,221.5 242.3,223.3 242.6,223.9 244.3,225.3 245,225.5 245.6,225.2 247.5,222.9 247.7,222.3 247.6,221.7 247,221.4ZM250.2,229.8 250.3,230.8 251.4,232.2 252.3,232.5 254.5,231.9 256.1,230.5 256.4,229.9 256.2,229.3 253.8,226.2 252.8,225.7 252.2,226.2ZM265.6,227.5 265.7,228.2 266.1,228.6 268.2,229.3 269.1,229.1 270.2,227.8 270,227.2 269.5,226.8 266.7,226.4 266,226.5ZM213.1,229.8 212.6,230.4 212.7,231.2 215.9,235.5 216.3,235.8 216.9,235.8 217.8,235.4 218,234.8 217.8,234.3 214.4,230 213.9,229.7ZM175.6,233.9 175.2,234.4 175.3,235.1 175.8,235.5 178.4,236.2 179.2,236 179.7,235.5 179.9,234.6 179.5,233 179,232.4 178.2,232.4ZM182.3,241.7 181.9,242.3 181.5,244.2 182,245.9 182.4,246.5 183.2,246.5 185.6,245.4 186.1,244.8 186,244 184.2,241.6 183.6,241.2ZM187.8,250.4 188.1,251 188.8,251.3 191.9,251 193.6,249.5 193.8,248.2 193.6,247.4 193.2,246.8 190,245.1 189.4,245 188.4,245.3 188,245.6 187.8,246.2ZM195.4,249 194.8,249.2 194.4,249.8 194.6,250.4 197.5,254 198.4,254.3 200.1,254 200.8,253.4 201.7,250.8 201.6,250 200.9,249.6ZM258.4,253.5 259.1,254.2 259.6,254.3 262.1,253.4 262.7,252.8 263.5,249.8 263.4,249.1 262.8,248.7 260.2,248.1 259.4,248.2 258.4,248.9 257.9,249.8 257.8,250.4ZM224.9,268 224.7,268.6 224.9,269.2 227.3,272.3 227.8,272.6 229,272.3 230.9,270.2 231.1,269.5 230.8,268.9 227.7,266.3 227,266.1 226.4,266.4ZM264.5,273.9 264.3,274.7 265.2,278 265.7,278.6 266.9,279.2 267.6,279.3 268.1,278.9 270.9,274.4 270.9,273.6 270.1,273.2 265.5,273.1ZM197.4,279.7 196.9,279.3 196.2,279.3 195.7,279.8 194,283.6 194.1,284.5 195,285.7 197,286.5 197.7,286.4 198.1,285.9 198.9,283.3 198.9,282.6ZM198.9,285.3 199,286.1 199.8,286.5 203.2,286.4 204,286.1 204.5,285.4 204.2,284.6 203,283.5 202.4,283.3 199.6,283.5ZM241.2,287.1 240.6,287.1 240.1,287.5 240.1,288.1 240.9,290.5 242.8,290.8 243.5,290.5 243.7,289.7 243.5,288.4 242.9,287.6ZM255.1,285.9 254.7,285.3 253.9,285.3 253.4,285.8 252,289.1 252,289.7 253.2,292.9 253.8,293.5 255.2,293.1 255.7,292.3 255.8,288.2ZM246.2,291.1 245.7,291.5 245.7,292.1 246.1,292.7 250,295 250.9,295 252.1,294.1 252.1,293.4 251.6,293 246.9,291ZM254,300 254.5,299.5 254.6,298.8 253.7,295.7 253.2,295.2 252.4,295.2 251,295.9 250.2,297.1 250.2,298 251.4,300 251.9,300.4 252.5,300.4ZM219.8,307.5 221.1,306.1 221,305.6 220.3,303.9 219.4,303.4 216.8,303.4 216.2,303.6 215.9,304.3 215.9,306.7 216.1,307.4 216.7,307.7 219.1,307.8ZM192,309.3 191.7,309.9 191.9,310.5 192.5,310.8 194.3,311.1 195,311 195.4,310.4 195.7,308.3 195.6,307.5 195.3,306.9 194.7,306.8 194.1,307ZM212.6,313.6 212.6,314.3 213.2,314.9 216.8,316 217.6,315.9 218,315.3 218,313.7 217.5,313.3 214.1,312.4 213.5,312.4ZM249.6,312.4 248.8,312.1 248.2,312.5 246.9,314.9 248.4,316.8 249.1,317 251.4,316.6 252.3,315.5 252,314.7ZM222.4,317.1 222.3,317.9 222.8,318.4 224.6,319.2 225.2,319.2 225.7,318.9 225.9,318.3 225.8,315.9 225.3,315.1 224.1,314.8 223.6,315.2ZM181.1,321.6 180.5,321.4 180,321.7 179.7,322.2 179.4,325.5 179.6,326.1 180.2,326.5 181.5,326.4 183.6,325 184,324.3 183.6,323.3Z"/>
<path fill="#d0044c" d="M213.8,222.4 214.4,222 214.5,221.3 213.8,218.9 213,218.2 211.4,218 210.6,218.4 208.3,221.5 208.1,222.1 208.9,223.2 209.8,223.4ZM170.9,226.4 171.4,226.8 172.1,226.7 174.8,225.2 175.1,224.7 175.4,224 175.3,223.1 173.8,221.4 173.3,221.4 169.9,222.6 169.4,223.1 169.5,223.8ZM189.6,224.2 188.9,224 188.3,224.4 186,227.6 185.9,228.9 186.4,229.6 187.5,230.3 188.2,230.4 190.2,229.8 190.9,229.2 191.5,226ZM225.6,229.3 225.1,229.7 225,230.4 225.6,231.6 226.3,231.7 230.3,230.7 230.9,230.2 230.8,229.4 229.9,228.2 229.3,228.2ZM195.6,232 195.1,232.4 195,233.1 196.2,237.5 196.6,238 197.1,238.2 197.7,237.9 200,235.5 200.3,235 200.1,234.4 198.2,232.1 197.1,231.7ZM240.1,231.8 239.8,231.1 237.7,229.6 236.8,229.5 233.6,230.8 233.2,231.3 233.1,231.9 233.9,235.6 234.6,236.3 235.4,236.3 239.8,233.9 240.3,233.1ZM257.6,247.7 258.2,248.2 258.9,248 259.7,247.3 260.5,244.1 260.4,243.3 259.4,242.5 258.9,242.5 256.7,243.6 256.2,244.1 256.3,244.8ZM265,249 264.4,249.1 264,249.6 263.3,252.4 263.4,253.1 263.9,253.5 265.4,253.9 266.3,253.6 268.8,250.7 269,250.1 268.8,249.5 268.2,249.2ZM272.2,250 270.8,249.4 270.3,249.7 266.7,253.9 266.5,254.4 266.7,254.9 267.6,256.1 269.5,256.9 270.3,256.9 271.5,256.2 271.9,255.6 272.6,250.8ZM255.2,260.6 256.1,260.7 256.6,260.1 257.5,256.1 257.4,255.5 257,255.1 256.4,255 254,255.6 253.5,255.9 253.3,256.5 253.5,259 253.9,259.7ZM185.2,260.2 185.3,261.2 186.8,263.1 187.4,263.4 188,263.3 189.9,262.3 190.3,261.8 190.8,259.5 190.4,259.1 188.4,257.9 187.7,257.8 186.7,258.1 186.1,258.5ZM242.6,265.8 243.1,266.1 243.7,266 246.7,264.5 247.1,264.1 247.1,263.5 246.8,263 243.1,260 241.4,259.9 240.8,260.2 240.5,260.8 240.4,263 240.7,263.7ZM193.9,269 194.6,268.1 194.9,266.7 194.5,265.8 190.9,263 189.9,262.9 188.8,263.5 188.4,264.1 188.5,264.8 190.8,268.3 192.5,269.3 193.3,269.3ZM242.2,267.2 242.4,266.6 242.1,266.1 240.8,264.6 240.2,264.3 239.5,264.6 237.5,266.5 237.7,267.6 238.2,268.1 240.2,268.9 240.8,268.9 241.2,268.6ZM258.1,264.9 257.5,264.4 256.8,264.5 256.3,265 255.3,269.1 255.4,269.8 256,270.2 257.6,270.6 258.2,270.5 258.6,270.2 259.3,268.9 259.3,268.1ZM253.9,275.1 254.8,275.3 258.6,274 259.1,273.5 259.1,272.7 258.4,271.7 257.9,271.3 255,270.6 252.9,271.3 252.1,272.4 252.3,273.4ZM166,272.6 165.3,273.7 165.4,274.3 165.9,274.6 169.1,275.6 169.8,275.5 170.2,274.9 170.1,274.2 169,272.8 168.3,272.4 166.7,272.3ZM197.5,275.9 197.9,276.5 198.6,276.7 199.2,276.2 200.6,273.5 200.6,272.7 200.1,272.2 199.3,272.3 197.9,273.2 197.5,274ZM175,292.6 175.7,292.5 176.1,292 176.9,288.8 176.9,288.2 176.4,287.7 173.9,286.5 173.2,286.4 172.7,286.8 171,289.3 170.8,290.1 171.3,291.3 171.9,291.9ZM189.9,288.2 189.3,288 188.7,288.2 187.3,289.6 187,290.1 187.2,290.7 189.2,293.7 190,294.1 192.2,293.8 193,293.2 193.3,292.1 193.1,291.1ZM234.3,307.3 233.7,308 233.2,310.1 233.5,310.9 234.4,311.4 238,310.8 238.3,310.2 238.1,309.5 236.5,307.2 236,306.9 235.4,306.9ZM248,311.1 248.7,311.2 249.3,310.8 251.3,307.8 251.4,307.2 251.1,306.6 249.8,305.5 249.2,305.3 248.6,305.5 246,308.2 245.8,308.8 246.1,309.5ZM178,322 176.1,322.3 175.8,322.8 176,323.4 177.1,325.2 177.7,325.6 178.4,325.4 178.8,324.8 179,322.9 178.7,322.2ZM219.2,320.2 218.7,319.8 218,319.9 217.6,320.4 216.6,324.1 216.7,324.7 217.3,325.8 217.9,326.3 219.7,326.6 221.5,325.8 222,325.3 221.9,324.6ZM235.3,318.2 234.9,317.7 234.3,317.6 233.8,317.9 231,320.6 230.7,321.2 230.9,321.8 231.3,322.1 234.4,323.1 235.2,323 235.6,322.3 235.8,319.7Z"/>
<path fill="#d8105c" d="M220.2,218.8 220.4,219.6 222.9,222.7 223.3,223 225.1,222.5 225.6,222.1 225.7,221.4 224.5,218 224.2,217.6 223.6,217.4 221.1,217.7 220.4,218.3ZM231.5,221.1 231.5,221.7 231.9,222.2 232.5,222.3 236.1,222 236.6,221.8 237.1,220.5 237,219.7 236.2,218.8 235.3,218.4 232.8,219 232.2,219.5ZM217.4,230 216.6,230 216.1,230.6 216.3,231.3 217,232.2 217.6,232.5 218.3,232.3 218.6,231.2 218.5,230.7ZM242,229.8 241.7,230.4 242,231 242.6,231.3 246.1,231.5 247.5,230.7 247.9,230 247.6,229.3 245.7,227.5 245.1,227.2 244.5,227.5ZM199.7,231.5 199.4,232.1 199.6,232.7 200.9,234.4 201.4,234.8 202.1,234.7 202.5,234.2 203.5,231.5 203.5,230.9 203.1,230.5 201.9,229.8 201.3,230ZM272.3,234.3 271.9,234.9 272,235.5 272.5,235.9 276,237.2 276.7,237.2 278.6,236.2 278.7,235.1 278.2,234.4 275.3,232.9 274.3,232.9ZM210.9,242.9 210.9,243.7 211.5,244.2 213.1,244.7 214,244.6 214.5,244.3 214.7,243.7 214.6,239.3 214.2,238.6 213.5,238.5 212.9,238.9ZM181.4,247.6 181.6,246.8 180.8,245 180.2,244.9 177.5,245.1 176.9,245.4 176.7,246 176.8,247 177.3,247.8 177.9,248.2 180.3,248.5ZM196,245 195.4,245.3 194.4,246.4 194.2,247.3 194.6,248.1 200.7,249 201.4,248.7 201.7,248 201.4,245.6 201,245 200.4,244.8ZM205,256.6 205.8,256.7 206.6,256.4 207.1,255.8 208,251.8 206.2,250.4 203.3,250.3 202.8,250.4 202.5,250.9 201.5,253.7 201.6,254.5 202.2,255.2ZM241.8,251.9 241.6,252.6 242,253.2 244.3,254.2 247.1,251.8 247.4,251.2 247.2,250.6 246.6,250.2 244,249.9 243.2,250.2ZM191.8,258.4 192.7,257.6 192.7,257 192,256.1 189.8,255.3 189,255.4 188.6,256.5 189,257.4 190.9,258.5ZM205.3,260.9 205.6,261.6 206.4,261.8 211.2,261 211.8,260.5 211.8,259.8 211.4,259.2 207.7,257.1 206.9,257 206.2,257.3 205.6,258.1ZM201.8,268.9 202,269.5 202.4,269.9 203,269.9 205.8,269 206.4,268.5 206.4,267.8 205.5,265.7 205,265.1 204,264.9 202.7,265.4 202.1,266.1ZM265.1,271 265.5,271.7 266.3,271.7 266.8,271.1 267.6,267.7 267.5,267.1 266.2,266.3 265.5,266.3 265,266.8 264.6,267.8ZM227.7,278.5 227.8,279.2 228.3,279.6 230.5,280.3 231.4,280 232.3,279.1 232.6,278.5 232.6,277.4 232.3,276.8 230.1,274.8 229.6,274.5 229,274.7 228.6,275.2ZM261,283.7 261.2,284.4 261.8,284.7 264.8,284.8 265.6,284.4 267.5,281.5 267.6,280.8 267.2,280.2 265.5,279.3 264.6,279.4 261.6,281.3 261.2,281.9ZM176.5,292.4 176.8,293.3 177.4,293.8 179.3,294.2 181.7,293 182.1,292.4 182,291.7 179.7,288 179.1,287.6 178,288 177.5,288.6ZM193.3,290.9 194.3,291.1 197.8,289.4 197.9,287.7 197.7,287.1 197.2,286.8 194.9,286.3 191.4,287.3 190.9,287.7 190.8,288.3 191.1,288.9ZM245.8,293.3 245,293.3 244.5,293.8 243.7,296.4 243.8,297 244.2,297.4 245.9,298.4 246.7,298.5 249,297.5 249.6,296.6 249.7,295.9 249.3,295.4ZM193.6,305.5 194.4,305.4 194.8,304.7 195.2,299.3 195.1,298.8 194.6,298.4 192.8,299 192.3,299.7 191.7,302.5 191.8,303.2 193,305ZM232.2,295.9 231.6,295.5 230.9,295.7 229.5,296.9 229.2,297.4 229.4,298 231.4,301.3 231.8,301.7 232.4,301.7 234.4,301.1 235,300.5 234.9,299.7ZM187.9,302.5 187.3,302.6 186.9,303 186.8,303.6 187.5,305.6 187.9,306.1 188.6,306.1 191.2,305.5 191.9,305 191.8,304.1 190.9,303.2ZM178.9,309.1 178.5,309.8 178.8,310.5 179.8,310.7 180.5,310.3 180.7,309.2 180.1,308.7ZM209.5,324.5 209.4,323.7 207.9,321.5 207.4,321.2 206.7,321.3 203.9,323 203.9,323.8 204.5,324.6 208.3,325.6 209,325.5ZM220.6,318.9 220.1,319.4 220.2,320.2 222.9,324.7 223.6,325.1 224.9,325.1 226.2,324.4 227,323 227,322.2 226.2,320.9 225.8,320.5 221.6,318.8ZM275.4,321.4 274,320.3 273,320.2 272.1,320.7 271.6,321.6 271.9,324.7 273,326 273.6,326.3 274.2,326 275.8,324.5 276,323.6Z"/>
<path fill="#e0206c" d="M242.9,219 243,219.7 243.5,220.1 247.8,221.1 248.4,221 248.8,220.6 248.8,220 248.2,216.9 247.4,215.9 246.8,215.6 245.1,215.5 244.3,216ZM275.9,227.1 275.1,227.3 274.8,228.1 275,231.7 275.5,232.4 278.1,233.8 278.7,233.8 279.2,233.5 281.3,230.8 281.4,229.9 280.8,228.8 280.3,228.3ZM213.7,252.5 214.1,252 214.1,251.4 213.7,250.9 212,250 211,250.1 210.2,250.8 209.8,251.5 210.2,252.2 211.5,253.1 212.5,253.2ZM219.3,302.8 219.9,302.6 220.2,302.1 220,301 215.9,297.7 214.8,297.5 213.3,298.4 213,299 212.9,300 213.5,301.3 216,302.8Z"/>
<path fill="#d40c58" d="M250,221.4 251.8,221.8 252.3,221.4 253.5,219.4 253.7,218.7 253.2,216.5 252.8,215.9 252.1,215.8 249.4,216.5 248.9,216.9 248.8,217.6 249.5,220.7ZM269.7,232.9 271.4,234 271.9,233.9 274,232.5 274.4,231.7 274.1,227.7 273.9,227.2 273.5,226.9 272.5,226.9 272.1,227.2 269.5,229.7 269.2,230.5 269.4,232.3ZM229.6,233.5 229.8,232.8 229.4,232.1 228.7,232 226,232.7 225.4,233.3 225,234.6 225.1,235.4 225.9,235.8 227.2,235.8 227.9,235.5ZM176.2,245 175.9,243.6 175.6,243 174.9,242.9 170.1,243.7 169.6,244 169.4,244.6 169.4,245.5 170,246.3 172.8,247.2 175.4,246.9 176,246.6ZM233.8,246.7 234.4,247.3 235.2,247.1 237.2,245.6 237.6,245.1 237.5,244.5 237.1,244.1 234.4,242.9 233.5,242.9 232.9,243.3 232.9,244.1ZM271.1,248.4 271.6,249 273.3,249.9 274.5,249.8 275.2,249.3 277.1,245.3 277.2,244.3 276.7,243.5 275.1,242.8 274.5,242.7 274,243 271.1,245.8 270.9,246.6ZM201.2,255.9 201,255.1 200.1,254.7 198.2,255.1 195.8,257.3 195.6,257.9 195.8,258.5 197.5,260.8 198.1,261.2 198.8,261 199.9,260ZM250.7,265 250.2,265.3 249.9,265.8 250,266.4 252.1,270.2 252.6,270.6 254.1,270.2 254.6,269.6 255.5,265.9 255.3,265.1 254.6,264.8ZM270,262 269.5,261.6 268.9,261.6 265.9,262.8 265.2,263.5 265.1,264.3 265.2,264.9 265.8,265.5 267.4,266.1 268.4,265.9 270.4,263.8 270.6,263.3ZM237.4,279 237.3,279.7 237.7,280.3 239,280.9 239.7,281 240.2,280.5 240.4,279.7 240.1,277.5 239.8,276.8 239.1,276.7 238.5,277.1ZM240.6,280.9 240.6,281.7 241.2,282.2 244.2,282.9 244.9,282.8 245.5,281.6 245.4,281 244.5,279.2 243.9,278.7 243.2,278.8 241.2,280.1ZM181.3,286.3 180.6,286.4 180.2,287 180.3,287.7 182.4,291 183,291.4 183.7,291.3 184.6,290.6 184.9,290.1 184.8,289.4 183.2,287.1 182.7,286.7ZM199.2,287.2 198.5,287.4 198.3,288.1 198.3,289.1 198.6,289.7 199.9,291 200.7,291.3 201.3,290.8 202.5,288.4 202.6,287.8 202.2,287.3 201.7,287.1ZM250.8,289.7 249.3,289.7 248.9,290.3 249,290.9 250.6,291.8 251.2,291.8 251.7,291.3 251.6,290.2ZM267.8,292.9 268.4,293.5 269.1,293.3 269.5,292.6 269.3,291.4 268.6,291.1 267.8,291.6 267.6,292ZM186.6,300.7 186.8,301.2 187.3,301.6 190.3,302.2 190.9,302.1 191.3,301.5 191.6,300.4 191.4,299.7 190.8,299.3 188,298.9 187.1,299.4ZM190,310.6 193.3,307.2 193.5,306.5 193.2,305.9 192.4,305.8 188.1,306.8 187.5,307.4 187,308.6 187,309.2 187.4,309.7 188.9,310.7Z"/>
<path fill="#dc1864" d="M253.2,221.2 253.1,221.8 253.4,222.4 254,222.6 257.3,222.4 258,222.1 258.7,221.1 259.1,219.5 259.1,218.9 258.6,218.5 258,218.4 254.6,219.4 254.1,219.8ZM253.2,225.1 254.3,225.7 257.5,225.7 258.2,225.3 258.3,224.5 257.6,223.2 257.1,223 253.7,223.2 253.1,223.5 252.8,224.2ZM176.7,239.7 176.4,240.4 176.7,241 177.3,241.3 181.3,241.3 183.1,240.5 183.5,239.8 183.7,238.8 183.3,238 181.2,236.2 180.6,236 180,236.3ZM210,252.8 209.2,252.7 208.6,253.3 208,255.7 208,256.3 208.4,256.7 210.7,258 211.5,258.1 212,257.5 212.2,256.6 211.7,254.2 211.4,253.7ZM223.5,284.7 224.4,285.9 225,286.1 225.7,285.8 226.8,284.4 227,283.9 226.8,283.3 225.5,281.6 225,281.2 224.3,281.3 223.9,281.8 223.4,283.5ZM244.3,290 244.7,290.7 245.5,290.7 246.6,290.2 247.7,289.2 248,288.7 248.6,285.6 248.5,285 248.1,284.6 246.2,283.8 245.5,283.9 245,284.4 244,287.4ZM251.8,284.4 249.2,285 248.5,288 248.7,288.7 249.3,289 250.9,289.2 251.4,289 251.8,288.6 253,285.8 253,285ZM266,287.8 266.2,287.3 266.1,286.7 265.6,285.9 264.9,285.5 262.5,285.4 261.8,285.7 261.6,286.3 261.7,289.7 262.1,290.3 263.1,290.3 263.6,290.1ZM269.4,282.1 269,281.7 268.4,281.7 267.9,282.1 266.2,284.7 266.2,285.7 267.3,287.2 269.4,288.2 270,288.2 270.5,287.8 271.5,286.2 271.5,285.2ZM176.8,307.6 176.7,308.2 177.1,308.8 177.6,309 180.7,307 181,306.1 180.8,304.9 180.4,304.3 179.3,303.9 178.8,304.3ZM191.6,315.1 191,315.4 190.8,316 191,319.1 191.2,319.7 193.5,320.3 194.2,320.1 195.3,319.3 195.6,318.8 196.1,315.8 195.9,315 195.2,314.7Z"/>
<path fill="#e41c68" d="M261.7,218.1 261.2,217.9 260.6,218 260.3,218.5 259.7,221.2 262.3,223.2 263.1,223.3 263.8,222.9 263.9,222.3 263.7,220.1 263.4,219.5Z"/>
<path fill="#e42470" d="M270.3,221.5 270.9,222 271.7,221.8 274.8,218.9 275.1,218.3 274.9,217.7 273.4,215.8 272.9,215.5 272.3,215.6 270,216.7 269.6,217.2 269.1,218.5 269.1,219.2ZM246,282.3 246.1,282.9 246.6,283.4 248.7,284.2 250,284.1 250.6,283.7 250.6,282.9 249.6,280.4 249,279.9 248.2,280.1 246.5,281.3Z"/>
<path fill="#dc1868" d="M277.4,218.3 277,218.8 277,219.5 277.7,221.1 278.4,221.7 281.1,221.8 281.6,221.7 282,221.3 282.7,219.5 282.5,218.6 281.4,217.2 280.8,216.8 280.3,216.9ZM274,285.3 273.5,285.7 273.5,286.3 273.8,286.8 275.2,287.7 276,287.8 276.5,287.3 276.5,286.5 275.7,285.3 275.2,285ZM278.6,282.3 278.1,282 277.6,282 276.2,283.7 276.2,284.6 277.8,287.2 278.5,287.6 279.2,287.3 280.3,285.9 280.3,285Z"/>
<path fill="#d41464" d="M288.3,221.4 287.7,221.3 287.1,221.6 286.9,222.2 287.4,223 288.1,223.3 288.8,222.9 289,222.2ZM286.5,231 285.8,231.4 285.7,232.2 287,235.3 287.9,235.9 289.2,236 289.8,235.7 290.1,235.1 290.1,231.8 289.9,231.1 289.2,230.9ZM286.8,252.2 286.4,252.7 286.4,253.4 287,253.8 289.4,254.6 290.2,254.5 290.6,253.7 290.4,251.6 290.2,251 289.7,250.8 289.1,250.9ZM295.6,255.5 295.6,254.9 295.3,254.4 294.7,254.3 291.4,254.6 290.7,255 290.6,256.8 291.1,257.5 292.5,258.4 293.3,258.4 294.3,258.1 294.8,257.5ZM290,321.9 289.7,321.4 289.1,321.2 288.5,321.4 286.3,323.3 285.9,324.3 286.2,325 286.9,325.2 289.6,325.1 290.2,324.7 290.4,324Z"/>
<path fill="#dc2074" d="M286.1,217.8 285.8,218.6 286.2,219.2 289.7,221.4 290.5,221.5 291,220.9 291.5,219.6 291.3,218.7 289.2,216.2 288.5,215.9 287.9,216.2ZM293.8,290.4 294.4,290.7 295.1,290.4 295.5,289.7 295.2,285.4 294.9,284.7 294.2,284.5 292.1,284.7 291.4,285.2 291,285.9 291.1,286.9ZM292.2,294.9 292.1,295.5 292.3,296 292.8,296.3 295.9,297 296.6,296.8 297,296.2 296.8,295.5 294.9,293.1 294.2,292.8 293.5,293.1ZM290.8,296.9 290,298.3 290.1,298.9 291,300.1 291.7,300.5 293.3,300.5 294,300.2 295.3,298.7 295.5,298.1 295.3,297.5 294.8,297.2 291.7,296.6Z"/>
<path fill="#e0287c" d="M296.8,219.2 296.7,218.5 296.1,218.1 295.1,218 292.6,219.1 292.2,219.6 291.7,221 292,221.9 294.2,223.8 294.8,223.9 295.6,223.6 295.9,223.1ZM292.5,228.1 292.5,228.7 292.9,229.2 294.2,229.7 295.6,229.4 296.1,229.1 297.1,227.3 295.4,224.9 294.7,224.6 294.1,224.7 293.7,225.1ZM301.6,284.1 302.6,284.2 305.7,282.5 306.5,280.7 306,279.1 305.5,278.8 300.7,278.4 300.1,278.6 299.8,279.1 299.3,281.8 299.7,282.7ZM302.8,290.8 303.2,290.2 303,289.4 302.1,288.7 299.7,289.6 299.3,290.2 299.3,290.9 300.2,292 300.9,291.9Z"/>
<path fill="#e02c80" d="M298.4,218.2 297.7,218.9 297,221.5 297.1,222.1 297.5,222.5 298.1,222.6 300.8,221.9 301.4,221.3 301.3,220.5 300.3,219 299.4,218.3ZM305.9,222.6 305.3,222.6 304.8,223.1 305.1,224.8 305.4,225.3 307.7,227 308.3,227.1 308.8,227 310.6,225.7 311,225.2 310.9,224.5 310.4,224.1ZM303.5,263.4 303.9,264.8 304.2,265.2 304.7,265.3 309.2,265.1 310.7,264.2 310.8,263.6 310.1,260.7 309.6,260.1 308.7,259.7 307.9,259.8 304.1,262.3ZM310.8,287.3 308.2,286.3 307.7,286.6 305.7,288.9 305.5,289.5 305.7,290.1 306.2,290.4 309.9,291.1 310.6,290.9 311,290.4 311.3,287.7Z"/>
<path fill="#e43084" d="M302.8,221.4 303.7,222 304.8,221.8 306.7,219.3 306.8,218.4 306,216.6 305.4,216.1 304.6,216.3 301.9,218.4 301.5,219 301.7,219.6ZM299.8,226.5 299.6,227.2 299.9,227.8 301.2,229 301.8,229.2 302.9,229.1 304.5,225.6 304.1,223.5 303.7,223 303.1,222.9 302.5,223.2ZM301.8,285.4 301.4,284.7 299.2,283.1 298.4,283 296.2,283.8 295.9,284.5 296.1,288.9 296.5,289.5 297.2,289.7 298.2,289.6 301.3,288.1 301.8,287.3ZM295.2,291.4 294.9,292 295.1,292.6 297.6,295.8 298.6,296.2 299.3,296 299.7,295.3 299.7,293.1 298.5,290.7 298.2,290.3 297.6,290.3 296.4,290.4Z"/>
<path fill="#dc1860" d="M164.7,225.8 164.5,226.6 165.1,227.3 168.3,228.4 169,228.4 170.1,227.9 170.6,227.4 170.5,226.6 168.7,223.4 167.9,222.9 167,223.2ZM190.8,255 191.5,254.9 191.9,254.5 191.8,252.6 191.4,252 190.8,251.8 189.1,251.9 188.4,252.3 188.3,253 188.4,253.7 189,254.3ZM204.8,260 204.9,257.5 204.5,257.2 202.9,256.3 202.1,256.3 201.6,256.9 201,259 201.1,259.7 201.6,260.1 203.7,260.8 204.4,260.7ZM181.1,279.9 181,280.7 181.6,281.3 184.4,281.8 185.2,281.6 185.7,280.7 185.4,280 183.3,278.3 182.6,278 182,278.4ZM172.9,310.9 174.1,308.2 173.8,307.8 172.8,307 172.2,307.1 170.5,308.3 170.1,308.9 170.3,309.6 171.4,311 171.9,311.3 172.5,311.3Z"/>
<path fill="#d80c54" d="M177.7,230.1 178.5,230.7 179.1,230.4 179.4,229.8 179.8,224.7 179.5,224 178.9,223.8 176.6,223.8 175.8,224.4 175.7,224.8 175.7,225.5ZM245.9,225.7 245.7,226.3 246,226.9 248.5,229.3 249.3,229.6 249.9,229.1 252.2,225.1 252,223 251.5,222.5 249.3,221.9ZM169.8,228.7 169.3,229.1 169.3,229.7 169.6,230.2 170.9,231 171.5,230.8 171.8,229.8 171.5,228.8 171,228.4ZM222.2,292.9 221.9,293.5 222,294.1 223.8,297.2 224.3,297.6 225.4,297.9 226.5,297.7 226.9,297.2 227,296.6 226.1,293.1 225.5,292.5 224.2,292 223.3,292.1ZM231.5,302.7 231.3,303.4 231.8,305.5 232.2,306.1 233.2,306.8 234,306.9 235.6,306.3 236.1,305.7 237,302.9 236.7,301.9 236.2,301.4 235.3,301.3 232.1,302.2ZM260.5,304.8 260.7,305.4 261.2,305.7 261.9,305.6 264.5,303.7 264.7,302.9 264.2,300.2 263.4,299.2 262.9,299 262.3,299.2 261.4,299.8 261,300.5ZM263,310.1 263.6,310.5 264.3,310.4 265.8,309.3 266.2,308.7 266,308 264.1,305.9 263.6,305.6 261.8,306.4 261.4,307 261.5,307.7ZM263.2,317.4 262.5,317.4 262.1,317.9 261.3,319.7 261.5,320.7 262.2,321.1 265.2,321.4 265.8,321.2 267,320.1 267.3,319.6 267.2,319 266.7,318.6Z"/>
<path fill="#cc0048" d="M187.8,224.3 187.9,223.4 187.3,222.9 184.5,222.1 183.3,222.5 182.9,223.1 183,223.8 184.9,226.3 185.6,226.7 186.3,226.3ZM182.1,223.6 181.5,223.2 180.8,223.4 180.5,224.1 180.1,229.9 180.3,230.4 180.7,230.8 181.3,230.8 184.8,229.5 185.2,229.1 185.4,228.6 185.2,227.7ZM216.5,227.7 216.3,228.4 216.8,229 219,229.9 221.1,228.2 221.3,227.3 221.1,226.6 220.7,226 218.8,225.3 218.3,225.6ZM261.6,234.7 261.9,233.8 261.6,232.1 261.2,231.6 259.3,230.2 258.6,230 257,230.4 255.7,231.6 255.3,232.3 255.6,232.9 258.9,236.1 259.8,236ZM261.1,241.4 260.6,242 260.7,242.8 261.4,243.4 263.7,243.9 264.4,243.8 265.2,243.3 265.6,242.8 265.5,242.1 264.4,240.5 263.8,240.5ZM243.4,248.9 244.1,249.4 247.2,249.8 247.8,249.6 248.2,249 248.6,246.2 248.2,245.4 247.5,244.8 246.5,244.6 243.2,246.2 242.8,246.7 242.8,247.4ZM169.3,261.6 169.6,262.1 170.1,262.4 170.7,262.2 171.1,261.6 171.9,257.4 171.8,256.8 171.4,256.4 169.9,255.7 169.3,255.7 168.8,256 168.6,256.6ZM204.7,263.7 205,262 204.4,261.5 201,260.4 200.1,260.5 198.5,261.9 198.2,262.8 198.7,263.7 201.5,265 202.2,265 204.1,264.3ZM180.1,266.1 180,265.4 179.2,264 178.4,263.5 175,263.8 173.9,264.6 173.6,265.5 174.1,268.3 174.6,269.1 175.3,269.4 178.4,269.6 179,269.4 179.4,268.9ZM185.9,265.9 185.7,266.5 185.8,268.2 186.1,268.8 186.8,269 189,268.7 189.5,268.4 189.7,267.9 189.6,267.3 188.1,265 187.4,264.6 186.6,264.9ZM203.5,270.5 202.9,271 203,271.8 204.7,274.2 205.6,274.6 207.7,274.1 208,273.6 208.3,270.6 207.9,269.7 206.8,269.4ZM229.7,272.3 229.5,273 229.8,273.6 232.1,275.8 232.8,276 233.4,275.7 235,273.7 235.2,272.9 234.5,271.7 232.1,270.6 231.5,270.5 231,270.8ZM169.1,282.2 168.6,282.5 168.4,283 168.1,287.7 168.2,288.2 168.6,288.5 170.3,289.1 170.8,288.7 172.7,286.1 172.8,284.6 171.4,282.2 171,281.8ZM176.6,294 176,293.7 175.4,294 173.5,296.1 173.3,296.9 173.8,297.5 174.6,297.9 175.3,298 175.8,297.5 176.9,295.1 177,294.5ZM244,298 243.3,297.9 242.8,298.3 240.8,301.5 240.7,302 241.4,303 242.1,303.2 245.7,302.9 246.4,302.6 246.6,301.9 246.2,299.6 245.7,299ZM248.4,304.1 249.2,304.3 249.8,303.9 251.1,301.6 251.1,300.7 249.8,298.5 249.3,298.1 248.7,298.1 247.2,298.8 246.7,299.2 246.6,299.8 247.1,302.7ZM247.6,305.4 247.8,304.8 247.5,304.1 246.5,303.6 243.1,303.8 242.4,304.2 242.3,304.9 242.6,307 243.1,307.6 244.7,308.2ZM264.9,304.5 264.6,305.1 264.8,305.8 265.9,307 266.7,307.2 267.4,306.8 267.8,305.5 267.3,304.9 265.9,304.3ZM229.1,310 229.5,310.6 230.2,310.8 232.4,310.3 233.1,308 233.1,307.4 232.1,306.6 231.2,306.6 229.5,307.5 229,308.4ZM267.3,308 267.3,308.7 267.7,309.3 270.7,310.9 271.3,311 271.9,310.6 272.5,309.7 272.6,309.1 272.4,308.5 269.7,306.1 268.9,305.9 268.3,306.3ZM196,313.9 196.4,314.5 197.1,314.7 199.2,314.3 199.9,311.6 199.9,311 197.4,309.3 196.5,309.3 196,309.9 195.7,311.4ZM268.6,315.2 268.4,318.9 268.8,319.2 270.9,320.2 271.7,320.2 273.3,319.2 274.6,317.2 274.7,316.6 274.5,316.1 271.9,313.3 271.3,313.1 270.7,313.3 269,314.6Z"/>
<path fill="#d40850" d="M199.4,223.5 198.8,223.8 198.5,224.5 198.9,225.1 201.4,227.2 202.2,227.3 202.9,226.8 203.6,224.7 203.5,223.9 202.8,223.5ZM265.1,224.8 264.7,224 263.8,223.9 262.7,224.4 262.2,225.5 262.6,226.1 263.7,226.9 264.6,226.9 265.1,226.3ZM172.1,227.2 171.7,227.7 171.8,228.4 172.7,229.3 175.4,229.9 176.1,229.8 176.5,229.3 176.4,228.7 175.5,226.4 174.9,225.8 174.2,225.9ZM248.5,230.5 246.5,232.1 245.1,235.8 245.2,236.5 245.6,237 246.8,237.3 250.7,233.1 250.9,232.6 250.7,232 249.7,230.7 249.2,230.4ZM202.9,244.6 202.1,244.9 201.8,245.6 202.2,248.8 202.5,249.4 203.2,249.6 205.4,249.5 206.2,249 207.3,246.7 207.3,245.9 206.7,245.4ZM173.6,257.6 172.8,257.6 172.3,258.3 171.3,263 171.5,263.6 172.6,264.2 173.4,264.1 174.4,263.4 174.7,262.6 174.5,258.7 174.1,257.9ZM247.1,262.8 247.7,263 248.3,262.7 248.6,262 248.5,258.5 248.2,257.8 247.6,257.6 245.4,257.6 244.7,257.9 243.8,258.9 243.6,259.6 244,260.2ZM183.7,292.1 183.3,292.8 183.5,293.5 186.3,296.6 187.1,296.9 187.7,296.5 188.7,294.8 188.7,293.9 186.8,291.1 186.2,290.7 185.5,290.8ZM172,302.4 172.8,302.4 174.7,301.4 175.1,300.7 175.1,298.9 172.4,297.3 171,297 170.3,297.1 169.9,297.7 169.3,300.6 169.4,301.3 169.9,301.7ZM222.7,307.3 222,306.9 221.3,307.1 220.3,308 220,308.7 220.1,312 222.6,313.2 223.3,313.1 223.8,312.5 224.2,310.5 224.1,309.9ZM228.6,308.1 228.3,307.5 226.1,305.7 225.2,305.6 223.8,306.1 223.3,306.7 223.4,307.4 224.5,309.5 225.3,310 227.7,310.2 228.4,309.9 228.7,309.2ZM239.6,314.3 240.1,314.9 241.4,315.6 242.3,315.6 243.2,315 243.6,314.2 243.6,312.8 243.3,312.2 242.6,312 240.2,312.2 239.6,312.6 239.4,313.3ZM264.2,312.2 263.5,312.1 263,312.4 261.8,313.8 261.7,314.8 262.4,316.1 262.9,316.6 266.4,317.8 267.2,317.7 267.6,317 267.8,315.3 267.4,314.5Z"/>
<path fill="#d81058" d="M210.4,224 209.8,224.5 209.8,225.3 211.7,228.8 212.1,229.2 212.8,229.2 214.1,228.7 214.6,227.9 214.3,224.1 213.9,223.5 213.2,223.3ZM218.8,224.4 220.4,225.3 221,225.3 221.5,225 222.5,223.5 222.3,223 220.4,220.6 219.8,220.3 219.1,220.5 217.8,221.8 217.5,222.4 217.7,223ZM194.4,231.7 195.1,231.8 196.5,231.2 196.8,227.3 196.5,226.6 195.9,226.4 192.6,226.4 192.1,226.6 191.3,229.1 191.3,229.7 191.7,230.1ZM197.3,226.6 197.4,231 197.9,231.4 198.9,231.2 201.2,229 201.5,228.3 201.1,227.7 198.8,225.8 198.1,225.6 197.5,226ZM261.2,230.9 261.8,231.1 262.3,230.9 264.2,229.2 264.5,228.4 264.1,227.7 261.6,226.1 260.7,226.1 260.1,226.4 259.6,227.1 259.3,229 259.7,229.8ZM193.7,233 193.8,232.3 193.4,231.7 191.2,230.5 190.5,230.4 188.9,230.8 188.4,231.1 188.2,231.7 188.4,232.9 190.4,235.6 191.2,235.9 191.9,235.6ZM253.1,236.3 253.5,236.8 254.2,236.9 256.3,236.4 256.9,236.1 257,235.5 256.8,234.9 254.7,232.8 253.9,232.6 253.1,232.7 252.5,233.2 252.5,233.9ZM230.7,241.4 230.8,242.1 232,242.6 233.4,242.3 234,241.7 235.1,238.4 235.1,237.7 234.5,236.9 233.4,236.8 231.8,237.7 231.4,238.3ZM248.6,249.9 248.9,250.7 249.9,250.8 253.2,249.2 253.6,248.8 253.7,248.2 253,245.2 252.5,244.6 251.8,244.6 249.6,245.6 249,246.3ZM246.7,255.4 246.2,256 246.4,256.8 247.1,257.1 248.1,257.1 248.7,256.8 249.7,255.7 249.9,255.1 249.7,254.5 249.2,254.2 248.6,254.3ZM194.9,258.6 194,258.3 192,259.4 191.7,259.9 191.2,262.1 194.6,265 195.1,265.2 195.7,265 197.3,263.6 197.6,262.5 197.4,262ZM249.8,262.8 249.5,263.4 249.8,264.1 250.4,264.4 255.8,264.1 256.3,263.9 256.6,263.4 256.6,262.8 256.1,262.1 253.1,260.3 252.6,260.5ZM197.1,273.7 194.7,270 194.2,269.6 193.6,269.6 192.9,270.1 191.4,272.8 191.3,273.6 193.6,277.7 194.2,278.1 196.2,278.4 197,278.1 197.2,277.5ZM240.9,270.2 240.4,269.6 238.3,268.7 237.7,268.7 237.2,269 235.6,271.2 235.5,272.1 235.7,272.8 236.3,273.4 239.4,274.3 240.1,274.3 241.2,273.7 241.6,273.3 241.6,272.7ZM184.3,276.5 183.8,276.9 183.7,277.5 184,278 185.8,279.5 186.5,279.7 187.2,279.3 187.2,278.5 186.3,276.6 185.8,276.2ZM192.6,278.6 193,278 192.9,277.4 191.1,273.9 190.2,273.5 187.6,273.7 186.9,274.2 186.5,275.1 186.5,275.8 188.1,279 188.7,279.5 190,279.8 190.6,279.7ZM245.4,280.1 246,280.6 246.8,280.4 248.7,279 249,278.2 248.6,275.1 248.4,274.6 247.9,274.3 245.9,274 244.6,274.4 244.3,277.6ZM195.3,279.8 195.3,279 194.6,278.6 194,278.5 193.4,278.6 191,280 190.6,280.8 190.6,282.8 190.9,283.4 191.5,283.7 193.4,283.7ZM179.3,302 179.2,302.6 179.6,303.2 180.7,303.8 181.5,303.9 185.4,302.2 186,301.4 186,301 185.8,300.5 185.3,300.1 181.9,299.1 181.4,299.1 180.9,299.4ZM205,302.6 204.2,302.2 201,302.4 200.2,302.8 199.3,304.5 199.2,305.2 199.7,305.8 202.8,307.4 203.4,307.5 203.9,307.1 205.7,304.7 205.9,304.2 205.7,303.6ZM256.9,300.3 256.3,300.6 256.1,301.3 256.6,305.6 256.9,306.2 257.6,306.4 258.9,306.2 259.4,306 259.7,305.4 260.1,301.1 259.9,300.4 259.3,300.1ZM225.8,310.6 225.1,310.8 224.8,311.3 224.4,313.1 224.5,313.7 225.9,314.5 226.6,314.5 227.8,314 228.4,313.4 228.8,311.9 228.7,311.2 228,310.8ZM229.7,318.7 229.9,319.4 230.6,319.7 231.3,319.4 233,317.7 233.2,317.2 233.1,316.6 232.6,316.2 231.1,315.8 230.4,316 230,316.6ZM261.6,316.4 260.6,314.7 260,314.7 259.5,315 257.2,318.3 257.1,319.1 257.4,319.5 259.9,319.8 260.4,319.6 260.8,319.2 261.7,317.1Z"/>
<path fill="#d80c58" d="M215.1,226.1 215.4,226.7 216.1,226.9 216.7,226.6 218,224.8 216.8,223 216.1,222.6 215.2,222.9 215,223.6ZM234.4,222.7 233.7,223.1 233.6,223.9 234,224.4 235.6,225.2 236.3,225.3 236.8,225 236.9,223.4 236.6,222.8 235.9,222.6ZM208.5,239.6 208,240.1 208,240.9 209,242.4 209.5,242.8 210.1,242.8 210.6,242.4 211.7,240 211.8,239.3 211.3,238.8 210.6,238.8ZM170.2,264.2 169.6,264.3 169.2,264.7 168,267.1 167.9,267.7 168.3,268.2 170,269.4 170.9,269.5 172.7,268.7 173.2,268.3 173.3,267.7 172.9,265.5 172.3,264.9ZM264.8,265.8 264.6,264.5 264,263.9 261.3,263 259.1,263.5 258.6,264 258.6,264.7 259.7,267.6 260.1,268.1 260.7,268.2 263.4,267.9 264.1,267.3ZM173.9,277.2 173.2,277.3 172.8,277.7 171.6,280.9 171.7,281.7 173.2,283.8 173.8,283.8 174.9,283.4 177.7,280.6 178,280 177.6,279.3 175.9,277.9ZM255.7,279.3 255.2,279.5 254.9,280 254.2,283.8 254.2,284.3 254.7,284.7 255.4,284.9 259.7,284.2 260.2,283.9 260.7,281.8 260.4,281 258.8,279.4 258.1,279.1ZM239.4,284.7 239.4,285.4 239.9,285.9 242.7,286.8 243.4,286.8 243.8,286.3 244.4,284.6 244.3,283.9 243.7,283.5 241.1,282.8 240.4,282.8 240,283.3ZM172.2,313.1 172,312.5 169.5,309.2 168.8,308.9 168.3,309.1 167.9,309.5 166.6,313.2 166.7,314.7 167,315.2 167.6,315.4 169.9,315.4 171.7,314.3ZM177.9,314.1 178,314.7 178.5,315.1 180.6,316 181.3,316 182.9,315.5 183.5,314.8 183.7,313.5 183.6,312.9 183.1,312.5 180.6,311.5 179.2,311.5 178.6,311.8 178.4,312.2ZM215,323.9 215.7,323.8 216.1,323.3 216.7,321.1 216.6,320.3 216,319.9 214,319.8 212.5,322.2 212.5,323 213.1,323.5ZM262.6,321.8 262,321.9 261.6,322.4 261.1,324.2 261.2,325 261.7,325.7 262.1,326.1 262.6,326.1 264.5,325.6 265.1,323 264.9,322.3 264.3,321.9Z"/>
<path fill="#c40038" d="M221.8,227.3 222.2,227.9 223.4,228.5 224.1,228.6 224.6,228.2 226.7,224.1 226.8,223.4 226.3,222.9 225.6,222.8 223.2,223.9 221.7,225.8 221.6,226.5ZM260.4,313.8 261,313.5 262.7,311.2 260.6,307.4 259.6,307 256.4,307.4 255.8,308.4 256,311.2 256.4,311.9 259.5,313.7Z"/>
<path fill="#cc0450" d="M274,226.4 274.6,226.4 275,226 277.1,222.4 277.2,221.6 276.3,219.7 275.7,219.2 274.9,219.4 271.6,222.4 271.4,222.9 271.5,223.5 272.8,225.8ZM233.6,248.6 233.7,247.9 232.1,243.7 231.4,243.1 230.9,243 230.1,243.3 227.6,245.8 227.4,246.5 227.6,249.1 228,249.8 228.7,250.3 230,250.4 232.8,249.6ZM272.7,264 273.5,264.1 274.1,263.5 274.6,262 274.5,261.4 274.1,260.9 273.5,260.8 271.6,261.2 270.9,261.7 271.2,263ZM268.4,279.7 268.3,280.4 268.8,281 269.9,281.2 272,280.3 272.5,279.8 272.5,279.1 271.7,277.3 271.2,276.8 270.6,276.8 270.1,277.1ZM273.6,307.9 273.6,308.7 274.3,309.2 276.3,309.5 276.8,309.5 277.2,309.1 278.3,307.4 278.4,306.4 277,304.1 276.5,303.7 275.8,303.7 275.4,304.1Z"/>
<path fill="#d00c5c" d="M282,223.1 281.2,222.5 278.3,222.3 277.4,222.7 275.9,225.5 275.8,226.3 276.4,226.8 279.9,227.8 280.6,227.7 281,227.3 282.2,224.5ZM286.4,314 285.8,313.7 285.1,314 284.9,314.7 285.1,316.9 285.4,317.4 286,317.7 287.4,317.6 288.2,317.1 288.4,316.4ZM288.9,318.4 289.9,319.9 290.5,319.9 292.8,319.5 293.4,319.1 293.4,318.3 292.4,315.8 291.8,315.2 291.1,315.4 289.2,316.8 288.8,317.5ZM295,324.1 295.3,320.5 294.9,320.1 294.1,319.9 291.1,320.5 290.5,320.8 290.3,321.5 290.9,324.3 291.2,324.8 291.8,325 294.2,324.8 294.7,324.6Z"/>
<path fill="#dc2070" d="M282.4,222 282.7,223.4 283.3,224 285.5,224.4 286.2,224.2 286.6,223.6 286.3,222.9 284.2,220.8 283.4,220.6 282.8,221.1ZM290.4,236.6 287.8,236.7 287.5,237.1 286.4,239.5 286.4,240.2 286.8,240.7 289.4,242.1 290.2,242.1 290.7,241.4 291.3,237.7 291.2,237.1ZM295,236 294.6,236.4 294.6,237.1 295,237.6 298.1,239.3 299.1,239.3 300.7,238.2 301.1,237.5 301.1,236.4 300.7,235.7 299.2,234.6 298.3,234.4ZM287.7,247.3 288.2,246.8 288.3,246.2 287.9,245.7 284.6,243.7 283.8,243.7 283.2,244.3 282.7,247.4 282.8,248 283.2,248.6 284,248.7ZM283.2,278.3 282.5,278.7 282.5,279.5 284,283.6 284.4,284.1 285.1,284.2 285.6,283.8 287.4,281.2 287.6,280.6 287.4,280.1 285.9,278.4 285.1,278.1ZM284.9,291.7 285.1,292.7 285.4,293 286.4,293.2 289.1,292.2 289.6,291.8 289.7,291.2 289.4,290.7 287.4,289 286.6,288.8 286,289.3ZM288.3,307.4 288.6,308 289.2,308.3 291.6,308.3 292.4,307.9 292.5,307.1 291.2,303.4 290.8,302.9 290.3,302.8 289.7,303 288.5,304.2 288.2,304.9Z"/>
<path fill="#d81c6c" d="M288.4,224.4 287.9,225.5 288.4,226.2 290.8,227.7 291.6,227.8 292.1,227.3 293.2,224.2 291.5,222.3 290.5,222.1ZM284.3,249.2 283.8,249.6 283.7,250.1 283.9,250.7 284.9,251.7 285.5,252 286,251.9 290,249.6 290.7,248.4 290.7,247.7 290.2,247.2 289.5,247.2ZM285.1,293.4 284.4,293.2 283.7,293.5 281,297.2 280.9,298 281.5,298.6 284.1,299.3 284.8,299.2 286.8,298.1 287.2,297.6 287.1,296.9 285.6,294Z"/>
<path fill="#e83484" d="M297,223.7 296.6,224 296.4,224.6 296.6,225.1 297.6,226.4 298.3,226.7 299,226.4 300.6,224.4 300.8,223.7 300.4,223.1 299.7,223Z"/>
<path fill="#cc004c" d="M203.9,228 203.3,228 202.9,228.5 202.8,229.1 203.1,229.6 203.9,230.1 204.6,230.3 205.6,229.9 205.8,229.3 205.6,228.7ZM240.6,245.9 240,245.7 239.4,246 239.2,246.5 238.8,249.8 239.1,250.5 240.1,251.5 240.7,251.8 241.4,251.4 242.6,250 242.8,249.1 241.8,246.9ZM269.5,248.8 270.3,248.5 270.5,247.7 270.3,246.5 268,243.7 266.9,243.4 264.9,244.4 264.5,245.2 264.5,247.5 264.7,248.1 265.3,248.4ZM171.9,275.8 172.5,276.1 173.1,276 173.5,275.4 174.4,270.2 174.3,269.5 173.7,269.1 173.1,269.1 170.7,270.2 169.5,271.6 169.3,272.2 169.5,272.7ZM271.4,271.9 271.7,269.3 271.3,268.9 269.4,267.7 268.6,267.6 268,268.3 267.3,271.4 267.5,272.1 268.2,272.5 270.4,272.6 271,272.4ZM230.5,291.6 231.4,293.9 231.9,294.4 232.6,294.3 236,292.8 236.5,292.2 236.5,291.5 234.6,287.7 234,287.2 232.9,287 232.2,287.2 231,288 230.7,288.7Z"/>
<path fill="#c4003c" d="M226,226.8 225.9,227.4 226.4,228 227,228.1 229.1,227.5 229.6,227.1 229.8,226.5 229.6,224.3 229.3,223.8 228.8,223.5 227.9,223.5ZM180.6,264.8 181.3,265.3 184.7,265.6 185.5,265.3 186.3,263.9 186.1,263.4 184.6,261.5 183.9,261.2 181.7,261 180.9,261.4 180,262.7 179.9,263.7ZM236.5,300.1 236.5,300.7 237.3,301.6 237.9,301.8 239.4,301.8 240.1,301.4 242,298.4 242,297.6 241.5,297.1 239.2,296.2 238.5,296.2 238.1,296.7ZM244.2,313.8 244.5,314.4 245.7,314.7 246.5,314.3 247.6,312.5 247.7,311.9 247.4,311.3 245.9,310.1 245.1,309.9 244.5,310.5 244.2,311.7Z"/>
<path fill="#cc0044" d="M231.5,223.7 230.9,223.7 230.4,224 230.2,224.6 230.6,227.6 232.1,230.1 232.6,230.5 233.2,230.5 236.5,229.1 237,228.3 237.1,227.1 236.6,226.2ZM255.8,237.2 255.2,237.6 255.1,238.2 255.4,238.8 256,239 258,238.8 258.5,238.6 258.8,238.1 258.6,237 257.8,236.8ZM241.5,241.7 240.8,241.8 240.4,242.2 239.8,244.4 241.6,245.9 242.5,246 245.9,244.3 246.4,243.8 246.3,243.1 245.7,242.7ZM252.3,243.9 252.7,243.5 252.8,242.9 252.2,240.3 248.6,239.4 248,239.5 247.6,240.1 247,242.4 247.5,244.1 248.6,245 249.5,245.1ZM254.6,244.1 253.8,244.4 253.6,245.2 254.2,248.2 254.8,248.8 256.1,249.2 256.8,249.2 257.2,248.7 257.2,248 255.6,244.7ZM266,254.9 265.5,254.5 263.1,253.8 262.5,253.8 261.1,254.4 260.6,254.9 260.7,255.6 261.3,256.9 261.8,257.4 264.9,258.3 265.4,258 266.6,256.1ZM178.5,262.9 179.2,262.5 180.4,260.8 180.6,260 179.7,257.1 179.2,256.5 178.4,256.6 175.7,257.9 175.2,258.7 175.4,262.1 175.6,262.7 176.3,262.9ZM180.4,281.7 180.3,281.1 179.8,280.6 179.4,280.4 178.4,280.6 176.4,282.5 176.2,283.1 176.3,283.7 176.8,284 178.8,284.5 179.5,284.4 179.9,283.9ZM249.9,311 249.8,311.6 250.1,312.1 252,314 252.7,314.3 253.3,314 255.1,312.2 255.3,311.5 255.1,308.5 254.9,308 254.4,307.7 252.3,307.5Z"/>
<path fill="#d00854" d="M257.6,229.7 258.8,229.3 259,228.8 259.3,227.1 259,226.4 258.4,226.1 256.1,226.1 255.5,226.3 255.2,226.9 255.4,227.5 256.8,229.3ZM174.3,235.9 173.6,236 173.2,236.7 173.5,237.4 175.3,239 175.9,239.2 176.5,238.9 177.4,238.1 177.6,237.5 177.4,236.9 176.9,236.6ZM230.8,237 231.6,237 233.1,235.9 232.7,233.3 232.4,232.7 231.7,232.6 231.2,232.9 229.3,235.1 229.1,235.9 229.6,236.5ZM205.3,237.2 204.8,236.7 203.8,236.4 203.2,236.5 202.7,237 201,241.5 201.1,242.2 201.8,243 202.5,242.8 206.1,240.2 206.4,239.7 206.3,239.1ZM184.3,240 184.5,240.6 187.1,244.2 187.5,244.5 188.1,244.5 189,244.3 189.6,243.7 190.9,240 190.7,239.2 190,238.8 185.2,238.8 184.6,239ZM197.3,240.1 196.7,240 196.2,240.2 195.9,240.8 195.8,243.7 196.1,244.4 196.8,244.6 200.2,244.4 200.7,244.2 201,243.7 200.4,242.2ZM275.4,240.6 274.7,240.9 274.5,241.7 275,242.3 276.8,243.2 277.7,243.1 278.9,242.2 279.3,241.5 279.1,240.8 278.4,240.5ZM187.6,252.9 187.1,252.4 186.2,252.3 184.4,254.1 184.2,254.7 184.4,255.3 185.8,257 186.8,257.3 187.5,256.9 187.7,256.4 187.9,254.5ZM274.8,263.1 274.9,263.8 275.5,264.2 276.2,264.1 277.5,263.1 277.8,262.4 277.4,261.7 276.6,261.2 275.8,261.1 275.3,261.7ZM271.5,274.9 271.5,275.6 273.4,279.6 274.7,279.7 275.4,279.4 275.6,278.7 275.3,275.6 274.7,274.9 272.7,274.1 272.1,274.2ZM219.4,287.3 218.9,287.7 218.9,288.3 219.7,291.2 220.6,292.4 221.2,292.7 221.8,292.5 223.5,291.1 224.9,287.2 223.7,285.9 223.2,285.6ZM165.3,317 165,317.6 165.2,318.2 166.9,321 167.3,321.4 167.9,321.4 168.4,321.1 170.3,318.5 170.4,317.6 169.8,316.4 169.1,315.9 167.2,315.8 166.5,316Z"/>
<path fill="#dc1c6c" d="M282.6,230.2 284.9,230.5 285.3,230.1 287.2,226.5 287.2,225.7 286.5,225.2 283.5,224.7 282.9,224.8 282.5,225.2 281.4,227.8 281.4,228.6 282,229.7ZM278.6,291 277.7,291.2 275.8,293.4 275.5,294.1 275.8,295 278.8,297.7 279.5,297.9 280.1,297.5 283.1,293.5 283.3,292.7 282.7,292.1Z"/>
<path fill="#dc206c" d="M286.4,229.2 286.3,229.8 286.7,230.3 287.2,230.5 290,230.4 291,229.8 291.3,229 290.9,228.3 288.7,226.9 288,226.8 287.4,227.3ZM276.9,275.3 276.2,275.5 275.8,276.2 276.1,279.6 277.1,280.9 278.1,281.3 278.7,281.1 281.8,278.9 282.2,278.3 282.1,277.7 281.3,276.5 280.8,276.2ZM205.5,301 205.2,301.5 205.4,302.1 206.1,303.1 206.6,303.4 207.3,303.3 212,300.4 212.4,299.3 212,298.4 210,297.3 209.3,297.2 208.6,297.5Z"/>
<path fill="#cc1060" d="M299,227.8 298.3,227.6 297.7,228 296.9,229.2 296.9,230.2 298,231.9 298.5,232.3 299.1,232.3 299.6,231.9 300.6,230.2 300.7,229.6 300.4,229Z"/>
<path fill="#e8388c" d="M306,226.5 305.2,226.4 304.6,226.9 303.8,228.9 303.9,229.9 305.6,231.7 306.5,232 307.6,231.5 307.9,228.4 307.5,227.6Z"/>
<path fill="#c40040" d="M171.9,233.5 172.1,234.1 172.6,234.4 173.3,234.3 176.8,232.3 177.3,231.8 177.1,231.1 176.6,230.7 173.4,230 172.7,230.1 172.3,230.7ZM219.3,233.7 219.5,234.4 220.2,234.7 223.4,234.7 223.9,234.5 224.2,234 224.6,232.2 224,229.9 223.5,229.4 221.7,228.6 219.8,230.3 219.5,230.9ZM274.1,250.5 273.5,250.8 273.2,251.3 272.7,255.3 273.1,256.2 273.5,256.5 274.4,256.5 278,254.5 278.5,253.6 278.4,252.6 277.9,251.8 275.2,250.6ZM188.3,297 188.1,297.5 188.4,298.1 188.9,298.3 191.9,298.7 193.6,298.1 194.1,297.6 194,296.9 193,294.8 192.6,294.4 192.1,294.3 190,294.6 189.4,295ZM276.3,316.8 275.5,317.3 274.5,318.8 274.4,319.5 274.8,320.1 275.7,320.7 279,321.8 279.6,321.7 280.8,320 280.9,319.4 280.7,318.9 279.2,317.1 278.5,316.8Z"/>
<path fill="#dc145c" d="M245.6,233.2 245.5,232.4 244.8,232 241.7,231.8 241,232.1 240.8,232.8 241,233.9 242.5,236.1 243.3,236.5 244.3,236.3 244.6,235.9ZM238.2,244.1 239,244.1 239.5,243.6 240.2,241.6 240.2,240.9 239.8,240.5 236.6,238.8 235.9,238.7 235.4,239.3 234.6,241.6 234.6,242.2 235.1,242.7ZM249.3,252 248.7,251.5 247.9,251.7 247,252.8 247.2,253.4 247.7,253.8 249,253.3 249.4,252.8ZM257.4,250.7 256.8,250.1 254.4,249.3 253.7,249.4 250.4,251 249.9,251.5 249.9,252.2 251.1,254.2 251.5,254.6 253.1,255.1 257.2,254.2 257.7,253.8 257.9,253.2ZM177.5,256.5 178,255.8 177.8,255.1 176.6,253.6 175.9,253.2 175.2,253.5 173.3,255.6 173.1,256.4 173.6,257 174.4,257.5 175.3,257.5ZM177.9,302 178.5,302 179,301.6 180.7,299 180.7,298.2 179.7,295.4 178.9,294.8 177.7,294.9 177.4,295.2 175.8,298.9 175.8,301ZM231,304.1 230.6,303.5 230,303.4 227.4,303.6 226.7,304.1 226.4,305.1 226.7,305.6 228.3,306.9 228.8,307.1 229.3,307 231.1,305.8Z"/>
<path fill="#d81460" d="M263.2,234.5 263.9,234.5 268.1,232.8 268.5,232.5 268.5,230.7 268,230 265.7,229.1 264.8,229.3 262.6,231.4 262.3,232.2 262.6,233.8ZM270.4,237.1 270.9,235.3 270.6,234.6 269.4,233.7 268.5,233.5 265.2,234.8 264.7,235.4 264.8,236.2 265.5,236.8 269.4,237.6 270,237.5ZM226.8,236.7 226.2,237 225.9,237.6 226.3,238.3 228.9,240.3 229.4,240.5 230,240.3 230.5,238.7 230.5,238.1 230,237.7 228,236.7ZM270.8,237.6 270.8,238.2 271.1,238.7 273.5,240.3 274.2,240.5 274.8,240 275.6,238.6 275.7,237.9 275.1,237.3 272.3,236.3 271.6,236.3ZM182.1,249.6 181.4,249.4 180.8,249.8 180.6,250.4 181,253.8 181.4,254.4 182.1,254.6 183.4,254.2 184.6,252.8 184.8,252.1 184.5,251.5ZM270,259.8 270.2,260.6 271,260.8 274,260.3 274.6,259.8 274.6,258.9 273.6,257.4 272.5,256.7 271.6,256.7 270.6,257.3 270.1,258ZM263.8,297 263.4,297.7 263.7,298.5 264.4,299 265,299.2 270.3,298.8 271.1,298.2 271.3,297.7 271.3,297.1 271,296.7 269.7,295.7 268.5,295.2 267.9,295.2ZM268,304.3 268.6,304.4 269.1,304.1 271.1,301.5 271.2,300.7 270.7,299.7 270.1,299.6 266,299.9 265.4,300.3 265.2,301 265.6,302.8 266.1,303.5ZM278.3,311 277.7,310.8 277.2,311 276.9,311.5 276.2,315.2 276.4,316 277.1,316.3 278.4,316.3 279.2,315.8 280.5,313.5 280.6,312.9 280.3,312.3ZM190.1,316.6 189.7,315.9 189,315.8 186.5,316.4 185.9,316.9 185.9,317.6 187,320.3 189,320.5 189.9,320.2 190.3,319.3Z"/>
<path fill="#d81464" d="M285.6,235.7 286.2,235.2 286.2,234.5 285.1,231.7 284.4,231.1 282.6,230.7 281.7,231 279.2,234.2 279,234.9 279.4,236.5 280.3,236.8ZM278.4,251.4 279.2,251.4 282.1,250 282.5,249.6 282.6,249 282.4,247.8 281.9,247.1 278.3,245.6 277.6,245.6 277.2,246.1 275.7,249.1 275.7,249.8 276.1,250.3ZM279.5,281 279.2,281.6 279.3,282.3 281,284.8 281.7,285.2 282.9,285.2 283.6,284.8 283.7,284 282.4,280.4 281.8,279.9 281,280Z"/>
<path fill="#e42c7c" d="M290.7,235.3 290.9,235.8 291.3,236.2 292.1,236.3 292.8,236 293,235.4 293.3,231 292.6,230 292.1,229.8 291.6,230.1 290.8,231.1Z"/>
<path fill="#dc2474" d="M297.8,232.9 295.9,230.2 294.8,230.3 294.3,230.6 294,231.1 293.8,234.4 294,235 294.5,235.3 295.1,235.3 297.4,234.2 297.9,233.6ZM303.5,245.2 303,245.9 302.5,250.2 302.6,250.8 304.2,253.1 304.8,253.4 305.5,253.3 306.1,252.7 307.1,250.9 307.2,250.1 304.9,245.5 304.4,245ZM290.3,280.5 290,281.1 290.1,281.7 291.3,283.5 292.2,283.9 294.3,283.7 294.9,283.4 295.1,282.9 295,282.3 293.3,279.5 292.7,279.1 292,279.2ZM292.2,301.1 291.5,301.4 291.3,302.3 293,307.1 293.4,307.5 293.9,307.7 295.2,307.6 295.8,307.3 297.5,305.4 297.7,304.7 297.4,304.1 294,301.3Z"/>
<path fill="#dc2478" d="M302.2,229.9 301.4,230.4 299.8,233.1 299.7,233.7 300,234.2 301.4,235.1 304.6,233.5 305.1,232.8 304.8,232.1 303.3,230.3ZM298.9,240.5 298.6,243.9 298.9,244.5 299.5,244.8 302.9,244.8 303.9,244.3 304.5,243.5 304.6,242.2 304.3,241.4 301.8,239.1 301.3,238.8 300.7,239 299.3,240ZM299.3,245.5 298.7,245.7 298.4,246.4 298.6,249.2 299.4,249.8 301,250 301.7,249.9 302.1,249.3 302.4,246.5 302.2,245.8 301.5,245.5ZM306.9,244.8 306.3,245 305.9,245.5 306,246.1 307.5,249.3 308,249.7 308.6,249.7 313,248.2 313.6,247.6 313.4,246.8 312.6,245.8 312,245.5ZM301.8,256.6 301.8,257.2 303.4,261.1 304,261.6 304.7,261.5 307.2,259.8 307.6,259.2 307.5,258.5 305,255.2 304.5,254.9 303.9,255 302.2,255.9ZM302.1,305.8 301.8,306.4 302,307 302.6,307.3 304.6,307.5 305.2,307.3 305.6,306.7 305.8,304.6 305.6,303.9 305,303.6 304.3,303.8Z"/>
<path fill="#e42070" d="M171.5,236.5 170.7,236.3 169.9,236.5 169.3,236.9 167.5,240 167.5,241 168.9,243 169.8,243.3 175.2,242.4 175.9,241.8 175.8,240.4 175.5,239.9Z"/>
<path fill="#e01864" d="M185.6,236.5 185.4,237.2 185.7,237.7 186.3,238 189.4,238 190,237.8 190.3,237.2 190.1,236.5 188.5,234.5 187.8,234.1 187.1,234.5ZM170.1,246.7 169.4,246.7 169,247.1 168.4,248.4 168.7,251.8 169.1,252.5 170,252.5 171.8,251.6 172.3,250.8 172.2,247.7ZM262.8,248.3 263.6,248.1 263.9,247.4 264,245.3 263.8,244.8 261.8,244.1 261.2,244.2 260.7,244.7 260.2,246.7 260.3,247.4 260.9,247.8ZM178.8,272 179.2,271.4 179,270.7 178.4,270.4 175.8,270.3 175.2,270.5 174.9,271 174.5,273.2 174.6,273.9 175.2,274.3 175.9,274.1ZM233.1,294.6 232.6,295.2 232.8,296 234.9,299 235.4,299.4 236,299.3 236.5,298.9 237.8,295.8 237.8,295.1 237.2,293.7 236.7,293.3 236,293.3ZM185.2,308.8 186,308.8 186.5,308.3 187,306.5 186,303.7 185.5,303.2 184.8,303.2 182.2,304.3 181.7,304.7 181.6,305.3 182,306.8 182.8,307.5ZM203.3,316.2 202.6,316.8 201.5,320.5 201.5,321.1 202.9,322.1 203.8,322.1 206.7,320.5 207.2,319.9 207,319.2 205.1,316.3 204.6,316ZM227.1,321 227.7,321.4 228.4,321.2 228.8,320.6 229.4,315.8 228.9,314.9 228,314.7 227.2,315.1 226.7,315.4 226.6,315.9 226.7,320ZM247.5,321.5 247.8,322.2 248.6,322.4 249.2,322 251.1,318.9 251.2,318.3 250.9,317.7 250.3,317.5 249.2,317.6 248.5,318 247.5,319.8Z"/>
<path fill="#d81864" d="M219.4,235.4 218.8,235.6 218.5,236.1 218.6,236.7 219.4,238.3 220,238.8 222.8,239.4 223.6,239.4 224.4,238.9 224.9,237.7 224.9,236.7 224.5,235.8 223.8,235.4ZM276,238.7 275.9,239.3 276.2,239.9 276.8,240.1 279.1,240.1 279.8,239.7 280,238.9 279.5,237.6 279.1,237 278.3,237 276.8,237.7ZM215.4,237.5 215.1,238.1 215.3,243.9 216.1,244.8 218.6,244.5 219.4,243.6 219.4,241.6 219.1,238.9 218,236.9 217.6,236.5 216.5,236.5ZM214,245.2 213.4,245.7 212.2,248.6 212.2,249.3 212.6,249.8 214.8,251 215.4,251.1 215.9,250.7 216.1,250.1 216,246 215.2,245.1ZM281.9,269.4 284.9,268.3 285.3,268 285.5,267.4 285.2,265.2 283.1,262.3 282.6,261.9 280.9,262.5 280.4,263.1 279.4,267.8 279.7,268.7ZM202,290.8 202,291.4 202.3,292 204,292.1 204.6,291.8 207.5,288.9 207.8,288.3 206.7,286.4 206.2,286.1 205.6,286.1 204.1,286.9 203.7,287.3ZM278.5,289.6 278.6,290.2 279.1,290.7 283.2,291.8 283.8,291.8 284.2,291.4 284.3,290.8 284,290.3 280.8,287.8 280.2,287.6 279.6,287.9 278.8,288.7ZM281.4,318.8 282.1,319.2 283.4,319 284.2,318.3 284.6,317.5 284.1,313 283.6,312.3 282.8,312.3 281.2,313.2 279.6,315.9 279.5,316.4 279.7,316.9Z"/>
<path fill="#c00034" d="M241.2,239.9 241.2,240.7 241.8,241.2 245.6,242.1 246.3,242 246.7,241.5 247.2,239.4 247.2,238.7 246.4,237.8 244.7,237.1 243.3,237.1 242.6,237.5Z"/>
<path fill="#d0004c" d="M263.4,235.6 262.9,235.2 262,235.3 260.1,236.7 259.8,237.3 259.5,239 259.6,240 260.1,240.6 260.8,240.7 264.1,239.4 264.4,237.5ZM249.1,260.6 249.3,261.2 249.9,261.5 250.5,261.3 252.4,259.8 252.7,259.1 252.5,256.2 251.9,255.4 251.2,255.3 250.7,255.6 249.2,257.3 249,257.9ZM236.6,305.8 236.8,306.6 238.3,308.8 238.9,309.1 239.5,309 241.8,307.5 241.4,303.9 240.3,302.7 239.6,302.4 237.8,302.7ZM229.8,314.8 232.3,315.6 233,315.4 233.4,314.8 233.7,312.3 233.4,311.6 232.2,311 230.2,311.2 229.4,311.9 229,313.5 229.3,314.5ZM243.3,318.9 242.6,319 242,320.1 242.3,323.2 242.6,323.8 243.2,324 246,323.9 246.6,323.6 246.9,323 246.9,320.5 246.7,320 246.2,319.6Z"/>
<path fill="#d41060" d="M286.5,237.5 286.5,236.9 286.1,236.4 285.5,236.3 281.1,237.2 280.6,237.6 280.5,238.3 281.1,240.3 282.7,241.4 283.7,241.4 285.5,240ZM285.7,304.4 285,304.6 284.6,305.2 284.8,305.9 286.2,307.5 286.8,307.8 287.5,307.5 287.8,306.9 287.5,304.9Z"/>
<path fill="#d01060" d="M296.4,241 297,240.9 297.4,240.4 297.4,239.8 296.1,238.9 295.5,238.8 295,239.1 294.9,240.1 295.1,240.6ZM298.8,272 297,270.7 296,270.6 294.8,271.3 294.3,271.8 293.6,274.3 293.7,275 294.3,275.5 298,276.4 298.7,276.3 299.1,275.8 299.6,274.2 299.5,273.5ZM287.4,309.3 287.1,310.3 287.5,310.9 290.7,313 291.3,313.1 291.8,312.9 292.1,312.3 292.2,309.6 292,309 291.3,308.7 288.6,308.6Z"/>
<path fill="#d82074" d="M302,235.7 301.6,236.5 301.6,237.6 301.9,238.3 304.4,240.8 305,241 305.6,240.8 307.1,239.6 307.4,239.1 307.3,238.5 305.5,234.8 305,234.3 304.3,234.4ZM305.7,253.8 305.4,254.4 305.5,255 308.7,259.2 309.6,259.5 310.5,259.4 312.4,257.6 312.6,256.7 312.3,255.8 311.8,255.2 306.7,253.5ZM303.6,288.9 304.2,289.2 304.9,288.9 307.1,286.4 307.3,285.8 307.1,285.2 305.6,283.7 305,283.7 303,284.8 302.5,285.6 302.6,287.6ZM294.8,300 294.6,300.7 294.9,301.3 297.4,303.4 298.1,303.6 298.7,303.3 300.2,301.3 300.4,300.7 300.2,297.7 300,297.1 298.3,296.6 297.4,296.9ZM305.7,302.1 306.2,301.8 306.5,301.3 306.7,300 306.5,299.3 304.9,297.1 303.7,296.4 303,296.3 300.9,297.2 300.7,297.8 301,300.8 301.5,301.1ZM301.3,311.2 301.4,311.8 301.9,312.2 302.5,312.2 305.6,311 306.1,310.6 306,309 305.7,308.5 305.2,308.3 302.9,308.1 302.3,308.2 301.9,308.8Z"/>
<path fill="#e01c68" d="M177.1,241.9 176.4,242.2 176.2,242.9 176.8,244.4 177.4,244.5 180.2,244.3 180.8,244.1 181.1,243.6 181,242.3 180.3,241.9ZM187.2,246.7 187,246.1 186.5,245.8 186,245.8 182.4,247.4 182,247.8 181.8,248.4 182.1,249 185.4,251.6 186.6,251.6 187.1,251.3 187.3,250.7ZM234.7,248.3 234.3,249 234.5,249.7 235.2,250 237.3,249.9 237.9,249.7 238.2,249.1 238.3,247.5 238.2,246.8 237.6,246.5 236.9,246.7ZM269.2,265.8 269,266.5 269.4,267.2 271.4,268.4 272,268.5 273.8,267.1 274,266.3 273.4,265 271.8,264.1 271.2,263.9 270.7,264.2ZM231.6,281.5 232.6,285.6 233.3,286.3 234.2,286.2 234.6,285.7 236.1,281.2 236,280.5 235.4,280 233.5,279.6 232.7,279.8 231.8,280.7ZM226.5,285.7 226.3,286.3 226.5,286.8 227.1,287.1 229.9,287.6 230.6,287.5 231.5,286.8 231.8,285.8 231.2,283.4 230.7,282.8 229.9,282.9 227.9,284.1ZM169.3,302 168.7,302 168.2,302.3 166.3,305.2 166.2,305.8 167.9,308.1 168.6,308.4 169.4,308.3 172.1,306.5 172.5,305.6 172.2,303.6 171.6,302.8ZM175.2,308 176.1,307.5 178.3,303.9 178.4,303.1 177.9,302.6 175.7,301.7 174.9,301.8 173.3,302.7 172.9,303 172.8,303.6 173.4,306.4 174.6,307.7ZM212,315.2 211.8,314.5 211.2,314.2 206.9,313.7 206.1,314.1 205.5,315 205.6,316 207.3,318.4 207.8,318.8 208.4,318.7 211.3,317.3 211.8,316.6ZM174.1,321.9 174.6,321.7 174.9,321.3 176.2,316.3 176.1,315.6 175.6,315.2 172.7,314.5 172,314.6 170.7,315.4 170.3,315.9 170.4,316.5 173.1,321.5ZM185.9,321.2 186,320.3 184.8,316.9 184.4,316.4 183.2,316.1 181.8,316.6 181.2,317.4 181,320.3 181.4,321.1 183.5,322.6 184.1,322.7 184.7,322.5ZM208.5,319.4 208,320 208.1,320.7 209.8,323.1 210.2,323.4 211,323.3 211.4,322.9 213.2,319.4 212.4,318.2 211.9,317.9 211.3,318Z"/>
<path fill="#c00038" d="M204,242.7 203.7,243.2 203.8,243.9 204.4,244.3 207.5,244.9 208.4,244.6 208.8,243.8 207.5,241.3 206.9,240.9 206.2,241.1ZM260.1,273.1 260.8,273.6 263.2,273.7 264.3,273 264.5,272.2 263.9,269.3 263.5,268.7 262.9,268.5 260.5,268.8 259.9,269.3 259.1,270.6 259.1,271.5ZM265.1,310.5 264.7,311.2 265.1,312 267.7,313.8 268.2,314 270.2,312.6 270.5,311.9 270,311.2 267.3,309.6 266.3,309.6Z"/>
<path fill="#cc105c" d="M220.3,241.5 219.9,242.2 219.9,242.9 220.2,243.6 220.9,243.8 223.1,243.6 223.6,243.3 223.9,242.8 224,240.9 223.8,240.2 223.1,239.9 222.5,240.1Z"/>
<path fill="#d41868" d="M226.4,245.1 227,245.3 227.6,245 229.5,243 229.8,242.4 229.5,241.7 226.1,239.1 225.4,238.9 224.8,239.4 224.6,240 224.3,243.1 224.7,243.9ZM296.9,244.8 297.5,244.5 297.8,243.9 297.6,242.1 295.8,241.6 295.2,241.7 294.8,242.2 294.4,243.6 294.5,244.4 295.2,244.8ZM294.1,264.4 293.3,264.8 291.6,267.5 291.4,268.1 291.7,268.6 294.2,270.7 296,270 296.4,269.5 297,267 296.4,265.2 295.7,264.6ZM298.4,271.1 298.9,271.2 299.4,271 301.8,269.3 302.2,268.6 302,268 301.4,267.6 298.2,267.5 297.6,267.7 297.3,268.1 296.9,269.9ZM218,287 218.8,287.1 222.4,285.3 222.9,284.8 222.8,284.1 222.3,283.7 217.5,282.2 216.6,282.4 215.8,283.4 215.8,284.2 216.8,286.2ZM292.5,312.7 292.8,313.5 293.6,313.7 294.5,313.5 296.5,311.8 296.8,311.4 296.7,310.8 295.4,308.3 293.5,308.3 293,308.6 292.7,309.2ZM295.7,325.3 296.3,325.7 299.1,326 301.1,325.2 301.5,324.7 301.5,324 299.2,320 298.7,319.6 298.1,319.6 296.5,320.3 296,321 295.5,324.6Z"/>
<path fill="#d00048" d="M253.8,239.7 253.1,240.1 252.9,240.8 253.3,242.7 253.5,243.2 254,243.5 255.9,243.6 258.8,242.1 259.2,241.7 259,240.1 258.7,239.6 258.1,239.4ZM181.6,266.1 181,266.2 180.6,266.7 179.9,269.5 180.1,270.3 181.1,270.8 184.4,270.5 185.1,269.9 185.3,269.3 185.1,267.1 184.9,266.6 184.3,266.3Z"/>
<path fill="#d40c5c" d="M281.4,241.5 280.5,241.6 278,243.5 277.7,244.3 278.2,245.1 281.2,246.4 282,246.4 282.5,245.7 283,243.1 283,242.5 282.6,242.1Z"/>
<path fill="#d81868" d="M285.2,241 283.9,242.1 283.9,242.7 284.3,243.2 289.7,246.4 290.4,246.5 291.2,246 291.3,245.2 290.8,243.7 290.4,243.2 286.2,240.9ZM292.6,259.5 292.2,258.7 290.9,258 289.9,258 289.2,258.5 288.8,259.4 289.6,262.3 291.5,262.7 292.2,262.5 292.5,261.8ZM280.8,286.2 280.7,286.8 281,287.4 284.1,289.8 284.8,290 285.4,289.5 285.9,288.5 285.9,287.6 284.8,286 284,285.6 281.7,285.6ZM282.5,305.4 282.7,304.7 282.3,304.1 279.3,301.9 278.7,301.8 278.1,302 277.2,303.2 277.3,303.8 278.8,306.3 279.5,306.8 281,306.8 281.8,306.4Z"/>
<path fill="#d01464" d="M291.6,244.4 292.1,244.9 292.8,244.9 293.3,244.3 294.3,241.1 293.9,237.9 293.6,237.3 293,237 292.4,237.2 292,237.8 291.2,243ZM297.3,249.1 297.8,248.3 297.7,246.5 297.5,245.9 296.8,245.6 293.6,245.6 292.2,245.9 291.6,246.5 291.5,247.6 291.9,248.2 294.4,250.2 294.9,250.3 295.4,250.2ZM292.4,249.5 291.7,249.3 291.1,249.6 290.9,250.2 291.1,253.1 291.4,253.7 292.1,253.9 294.1,253.8 294.7,253.4 294.9,252.7 294.6,251.5 294.3,251ZM299.8,271.2 299.5,271.7 299.6,272.4 300.3,273.3 300.9,273.3 303.3,272.6 304,271.8 304,269.9 303.2,269.1 302.5,269.3ZM296,313.1 295.7,313.7 296,314.4 298.4,317 299,317.2 299.6,317.1 299.9,316.7 300.7,314.6 300.5,313.1 300.1,312.7 297.9,312 297,312.2Z"/>
<path fill="#d8145c" d="M208.2,250.7 208.7,250.9 209.3,250.7 211.2,249 212.4,246.2 212.4,245.5 211.8,245 210.2,244.5 209.3,244.8 208.5,245.8 207,249 206.9,249.6ZM227.3,279.8 225.9,280.1 225.7,280.7 225.8,281.3 227.1,282.9 227.6,283.2 228.2,283.1 229.8,282.2 230.2,281.6 230.1,281 229.6,280.6ZM268.6,288.4 266.9,287.8 266.4,288 264.8,289.6 264.6,290.4 265.1,291.1 266.5,291.7 267.2,291.4 268.8,289.8 269.1,289Z"/>
<path fill="#c81868" d="M216.8,251.1 217,251.8 217.9,252.6 218.4,252.9 218.9,252.8 221,250.9 221.3,250.3 221.2,249.7 218.6,245.8 217.8,245.4 216.9,245.7 216.6,246.3Z"/>
<path fill="#c82478" d="M226.5,249.8 227,249.4 227.1,248.9 226.9,246.5 226.5,245.8 224.2,244.1 223.6,243.9 219.5,244.5 219.1,245.1 219.2,245.7 221.8,249.8 222.7,250.2Z"/>
<path fill="#dc1464" d="M193.5,256.9 194.2,257.4 195,257.2 196.7,255.4 197,254.8 196.8,254.2 194.3,251.1 193.7,250.8 192.6,251.3 192.3,252.2 192.9,255.6ZM196.4,319.9 195.4,320 194.7,320.4 194.3,321.3 194.8,323.6 196.4,325 198,324.5 198.4,324 199.1,322.5 199.1,321.8 198.7,321.4Z"/>
<path fill="#cc0858" d="M212.6,255 213.1,255.6 213.8,255.6 216.9,254.1 217.4,253.5 217.1,252.7 215.9,251.9 215.4,252 212.9,253.4 212.5,253.9ZM282.5,259.5 283.1,259.9 283.7,259.7 285,258.8 285.4,258.1 285.4,255.9 285.1,255.3 284.6,255 284,255.2 281.7,256.7 281.4,257.3 281.5,258ZM286.1,269.7 285.6,269.2 284.9,269.2 283.8,269.7 283.4,270.2 283.4,270.9 285.4,275.2 285.8,275.7 286.4,275.7 287.5,274.6 287.6,273.7Z"/>
<path fill="#c01468" d="M221,252 220.7,252.8 221.2,253.5 222.6,254.2 223.3,254.3 223.8,253.8 224.8,252 224.9,251.4 224.5,250.9 223.9,250.7 222.5,250.8ZM219.8,253.5 219.2,253.4 218.7,253.8 218.6,254.7 219,255.3 222.1,257.1 222.9,257.2 223.5,256.8 223.5,255.7 223,255.1ZM212,275.5 211.8,276.1 212,276.8 212.6,277.1 216.9,277.1 217.6,276.8 217.7,276 217.4,274.5 216.7,273.9 214.8,273.4 214,273.7ZM212.3,297.9 213.3,297.9 213.8,297.5 214.2,296.7 213.8,292.4 213,291.2 211.9,290.8 211.2,290.9 210.8,291.5 210.3,296.1 210.7,297Z"/>
<path fill="#c41060" d="M228.6,251.4 228.2,250.6 227.7,250.3 226.9,250.1 226.4,250.5 224,255 224,256.4 224.6,257 226.9,257.9 228.2,257.4 228.4,256.9Z"/>
<path fill="#e01c64" d="M238,250.5 235.7,250.8 235.3,251.3 235.4,251.9 236.7,254.5 237.3,254.9 238.7,255.1 240.1,253.4 240.3,252.8 240,252.2 238.6,250.8ZM249.4,277.9 249.6,278.4 250.2,278.7 253.4,278.9 254.2,278.6 254.4,277.8 253.8,275.7 251.5,273.5 249.5,274.2 249.1,274.6ZM185,285.1 184,286.5 184.2,287.1 185.5,289 186.1,289.4 186.9,289.2 188.2,287.9 188.5,287.2 188.2,286.6 186.2,285 185.6,284.8Z"/>
<path fill="#d00c58" d="M279.2,254.2 280.1,256 280.7,256.4 281.4,256.3 284.7,253.9 285.1,253.3 284.8,252.6 283,250.7 282.5,250.4 282,250.5 279.2,252ZM224.4,269.1 223.6,268.8 223.1,268.9 221.5,270 221.1,270.5 221.2,271.1 222.9,274.7 223.5,275.1 224.3,275 226.5,273.2 226.8,272.6 226.6,272ZM283.6,273.2 283.1,272.7 282.3,272.8 281.9,273.4 281.6,275.6 281.7,276.3 282.5,277.4 283.4,277.8 284.4,277.7 285.1,277.2 285.1,276.4ZM284.1,305.8 283.3,305.5 282.6,305.9 282.2,306.6 282.1,307.5 283.7,310.8 284.3,311.2 285,311.1 286.2,310.4 286.7,309.3 286.5,308.8Z"/>
<path fill="#d82070" d="M298.4,251 298.3,250.3 297.7,250 297.1,250.1 295.4,251.3 295.7,253.5 296.1,254 296.7,254.3 297.8,254 298.1,253.5ZM300.2,250.6 299.5,250.8 299.1,251.4 298.9,254.1 301.3,255.3 302.1,255.3 303.3,254.6 303.7,254 303.6,253.3 302.2,251.3 301.6,250.9ZM297.1,264.1 296.9,265 297.4,266.5 297.7,266.9 298.2,267.1 302.4,267.3 302.9,267.2 303.6,265.9 303.3,264.4 302.6,263.9 298.7,263 297.8,263.3ZM303.6,267.4 303.6,268.1 304.3,269.3 305.1,269.8 306.7,269.7 307.1,269.5 307.5,269.1 308.2,266.9 308.1,266 307.4,265.7 304.8,265.8 304,266.4Z"/>
<path fill="#c80048" d="M180.4,256.9 181.5,260 182,260.2 183.7,260.3 184.6,259.8 185.4,258 183.5,255.6 182.7,255.3 181.3,255.5 180.6,255.9ZM279.2,255.8 278.7,255.3 278,255.4 275.2,257 274.8,257.5 275.1,258.7 275.7,259.1 276.4,259 279.1,257.2 279.5,256.6ZM185.6,283.5 188.1,285.7 188.9,285.9 189.5,285.3 190.2,283.6 190.1,281 189.9,280.5 188.5,280 187.8,280.1 186.8,280.8 185.6,281.9 185.4,282.8ZM272.8,309.9 271.7,311.9 271.9,312.5 274.4,315 274.9,315.3 275.6,315.1 275.9,314.6 276.6,311 276.5,310.3 275.9,309.9 273.7,309.5ZM217.8,319.2 218.2,318.8 218.2,318.2 217.9,317.2 217.3,316.6 213.6,315.5 212.9,315.6 212.4,316.8 212.6,317.5 213.6,318.8 214.2,319.2 217,319.5ZM168.8,321.5 168.7,322.1 168.9,322.6 171,323.2 171.8,323 172.5,322.1 172.4,321.5 171.1,319.6 170.5,319.6 170,319.9Z"/>
<path fill="#d01868" d="M213,257.1 212.8,258.5 213.3,259 213.9,259 216.9,257.9 217.5,257.3 217.8,256.1 217.7,255.4 217.2,255 216.5,255 213.4,256.5ZM303.1,312.8 302.5,313.3 302.6,314.1 303.2,314.5 306.3,315.2 307,315.1 308,314.5 308.4,313.9 308.2,313.1 306.6,311.6Z"/>
<path fill="#b81064" d="M218.2,257.6 218.3,258.4 219.4,259.9 219.9,260.3 220.5,260.2 221,259.8 221.7,258.4 221.8,257.7 221.3,257.2 219.7,256.3 218.9,256.2 218.4,256.8Z"/>
<path fill="#d0105c" d="M290.1,256.9 289.9,255.4 289.5,255.1 287,254.3 286.2,254.4 285.9,255.2 285.9,257.6 286.2,258.2 286.8,258.5 288.7,258.4 289.7,257.6ZM283.8,260.4 283.4,261 283.6,261.7 285.3,264.1 285.9,264.5 286.5,264.3 288.5,262.8 288.9,261.9 288.4,259.8 288.1,259.2 286.1,259ZM204.4,299.3 205.1,299.8 205.9,299.5 207.6,297.6 207.8,296.9 207.5,296.3 206.4,295.8 205.8,296.2 204.4,298.2ZM288.2,318.8 287.4,318.3 285.3,318.4 284.3,318.9 283.9,319.5 284.1,320.1 285.3,322.1 285.9,322.5 286.6,322.3 288.5,320.7 288.8,320.1Z"/>
<path fill="#d4186c" d="M298.4,255 297.1,255 296.3,255.5 295.6,257.4 295.5,258 295.8,258.4 297.4,259.7 298,259.9 298.6,259.6 300.7,257.3 300.9,256.5 300.4,255.8ZM295.2,258.8 294.3,258.7 293.7,258.9 293.1,259.7 292.9,262.5 293.4,263.5 294,263.8 295.9,264 296.7,263.7 297.5,262.8 297.8,261.4 297.4,260.7ZM300.4,316.8 300.5,317.6 301,318 304.3,318.8 304.9,318.8 305.3,318.3 306,316.9 306,316.1 305.4,315.6 302,314.9 301.4,315 301,315.4Z"/>
<path fill="#d41058" d="M211.9,264.1 212.5,263.7 212.6,262.9 211.9,261.6 211.2,261.5 206,262.5 205.3,263.1 205.1,263.7 205.3,264.6 206.3,265Z"/>
<path fill="#c41468" d="M213,260 212.4,260.8 212.5,261.2 213.3,263.3 213.9,263.8 216,264.4 216.7,264.3 219.5,262.7 220,262.1 219.8,261.4 218,258.9 217.6,258.6 217,258.6Z"/>
<path fill="#bc0454" d="M221.1,260.6 221.1,261.2 221.4,261.7 223.3,261.9 224,261.5 225.7,259.2 225.8,258.4 225.3,257.8 224.2,257.4 223,257.6 222.4,258Z"/>
<path fill="#c40048" d="M226.3,264.3 227,264.6 227.7,264.3 228.2,263.4 228.3,259.4 228,258.7 227.2,258.5 226.6,258.8 224.8,261.5 224.6,262.1 224.8,262.6Z"/>
<path fill="#c80040" d="M234.2,263.4 234.5,264.5 234.9,264.9 236.3,265.6 237.3,265.5 239.5,263.5 239.8,262.9 239.9,261.2 239.5,260.5 238.7,260.4 235.1,261.4 234.5,262.1ZM200.1,269 200.8,268.9 201.1,268.2 201.2,265.7 198.6,264.3 197.6,264.4 195.8,266 195.4,267.2 195.5,267.9 196.1,268.2ZM248.4,274 251.1,272.9 251.9,271.6 251.8,270.8 250,267.5 249.5,267.1 248.9,267.1 248.4,267.4 246.3,270.5 246.1,272.7 246.3,273.4 246.8,273.7ZM202.9,276.6 203.4,276.3 204.3,275 204.2,274.5 203,272.8 202.5,272.4 201.9,272.5 201.4,272.9 200.1,275.6 200,276.2 200.4,276.7 201,276.9ZM167.1,278.2 166.5,278.6 166.4,279.4 167.2,281.2 168,281.7 170.4,281.1 171,280.6 171.7,278.8 171.7,278.1 171.3,277.7 170.7,277.6ZM185.4,299.7 186,299.7 186.5,299.3 186.9,298.3 186.6,297.8 183,293.7 182.5,293.4 181.9,293.5 180.6,294.2 180.2,294.7 180.2,295.3 181.2,298.1 181.8,298.6ZM238,292.1 237.4,292.6 237.4,293.4 238.2,294.9 238.7,295.4 242.1,296.7 242.8,296.6 243.3,296.1 244.3,292.5 244.2,291.8 243.5,291.4 240.7,291.3ZM205.9,305.2 203.9,308.3 204,308.8 205.5,310.9 206.1,311.3 206.8,311.1 209.7,308.4 210,307.8 209.7,307.1 207.2,305 206.5,304.8ZM207,311.6 206.7,312.2 206.9,312.8 207.5,313.2 211.4,313.6 212.3,313.2 212.9,312.1 213,309.5 212.7,308.8 211.8,308.3 211.3,308.1 210.5,308.3ZM218.7,317.8 219.2,318.3 219.9,318.3 221.2,317.7 222.7,315.2 222.8,314.4 222.3,313.9 220.2,313 219.1,313.3 218.8,313.8 218.4,316.3ZM271.2,321.5 270.7,320.8 268.8,319.9 267.8,320.1 266.1,321.6 265.8,322.1 265.2,325.4 265.6,326.2 266.7,327 267.7,327.1 271,325.3 271.4,324.4Z"/>
<path fill="#d81860" d="M277.2,259.3 276.8,259.7 276.8,260.3 277.2,260.8 279.4,262 280.4,262 281.7,261.3 282.2,260.7 282.1,260 280.8,257.9 280.2,257.5 279.5,257.7Z"/>
<path fill="#d41c6c" d="M298.6,260.7 298.4,261.6 298.6,262.2 299.1,262.5 302.2,263.2 302.8,263.1 303.2,262.6 303.2,261.9 301.9,258.9 301.5,258.5 300.9,258.4 300.4,258.7ZM300.7,318.4 300,318.5 299.6,319 299.7,319.7 302.2,324.2 302.7,324.6 303.4,324.6 305.8,323.3 306.2,322.5 306.2,321.7 305.2,319.8 304.6,319.4Z"/>
<path fill="#cc044c" d="M212,266.1 212,265.4 211.6,265 211,264.8 207.3,265.4 206.7,265.9 206.6,266.7 207.7,268.8 208.3,269.2 209.2,269.3 210.7,268.5 211.2,268ZM203.6,301.8 204.2,301.6 204.5,301.1 203.6,298.9 200.5,296.6 199.9,296.4 199.4,296.7 198.4,297.9 198.5,298.4 200.1,301.4 200.9,301.9Z"/>
<path fill="#c4186c" d="M214.1,264.5 213.5,264.6 213.1,265 211.9,268.4 213.4,269.9 214.3,270 216.8,269 217.3,268.5 217.3,267.8 216.3,265.4 215.7,264.9Z"/>
<path fill="#cc2478" d="M222.3,269 222.7,268.5 222.6,267.8 220.3,263.8 219.8,263.4 219.1,263.4 217.3,264.4 216.9,264.9 216.9,265.5 218.1,268.5 219.7,269.9 220.3,270.2 220.8,270Z"/>
<path fill="#c80c5c" d="M221.7,262.4 221.1,262.6 220.8,263.1 220.9,263.7 223,267.6 223.7,268 224.5,267.7 225.9,266.2 226.2,265.6 225.9,265 224,262.7 223.3,262.4Z"/>
<path fill="#dc1c68" d="M275.2,265.5 274.8,266 274.9,266.7 275.4,267.1 277.8,267.9 278.5,267.8 278.9,267.2 279.6,264.1 279.5,263.4 278.9,263.1 278.2,263.2ZM280.1,275.6 280.8,275.4 281.2,274.8 281.8,270.8 281.7,270.2 280.3,269.6 279.8,269.7 279.4,270 276.8,273.5 276.7,274.1 276.9,274.6 277.4,274.9ZM217.1,296.6 216.8,297.3 217.1,298 219.9,300.3 220.5,300.5 221.1,300.2 223.2,297.8 223,297.2 221.6,294.7 221,294.2 220.3,294.4ZM282.6,311.8 283.1,311.3 283,310.6 281.6,307.8 280.8,307.3 279.6,307.2 278.8,307.7 277.9,309.1 277.8,309.7 278.2,310.3 280.9,312.1 281.7,312.2Z"/>
<path fill="#cc0c5c" d="M286.2,267.1 286.5,267.8 287.1,268 290.1,267.8 290.8,267.4 292.6,264.6 292.8,264.1 292.5,263.5 292,263.3 289.7,263 289.1,263.2 286.5,265.2 286.1,265.9ZM293.5,271.9 293.3,271 290.9,268.8 290.3,268.6 287.9,268.7 287.2,269.1 287.1,270 288.4,273.3 289.2,273.9 292.1,274.2 292.7,274 293,273.5Z"/>
<path fill="#cc1868" d="M211.7,269.2 210.7,269.1 209.4,269.8 208.9,270.5 208.5,274 208.8,274.8 209.9,275.8 210.5,276.1 211.1,275.8 213.7,273.4 213.9,272.5 213.3,270.5Z"/>
<path fill="#c41c70" d="M219,271.1 219.2,270.4 218.9,269.9 218.4,269.5 217.5,269.3 214.7,270.5 214.3,270.9 214.2,271.5 214.4,272.4 215,273 217.2,273.4Z"/>
<path fill="#d4105c" d="M271.8,272.4 271.9,273 272.3,273.4 274.9,274.3 275.4,274.3 275.9,274 278.8,269.9 278.9,269.1 278.3,268.5 275,267.4 274,267.6 272.3,269.5Z"/>
<path fill="#dc2878" d="M304.6,272.8 306.4,274.8 307.1,275 307.7,274.7 309.3,272.7 309.4,272 309.1,271.4 307.6,270.4 305.4,270.4 304.8,270.6 304.4,272.2ZM300.3,274.6 300.1,276 300.7,276.4 301.4,276.3 302.9,275.2 303.2,274.7 303.2,274.1 302.7,273.7 302.1,273.6 300.9,274Z"/>
<path fill="#e42068" d="M174.9,275.6 174.5,276.1 174.6,276.8 175.4,277.2 176.2,277.1 178.9,274.9 179.2,274.4 179,273.7 178.5,273.4 177.8,273.5ZM239,286.9 238.5,286.3 237.8,286.3 236.1,286.9 235.6,287.4 235.6,288.1 237,291 237.4,291.4 239.2,291 239.7,290.6 239.8,290ZM195.3,305 195.5,305.5 195.9,305.9 198,305.3 198.4,304.9 199.7,302.5 199.7,301.7 197.7,298.3 196.5,298.3 196,298.6 195.7,299.1Z"/>
<path fill="#c40044" d="M204.2,276.5 204,277.4 204.6,279.1 205.4,279.7 208.3,280 209.1,279.7 210.2,278 210,276.7 208.4,275.3 207.7,275 205.4,275.4Z"/>
<path fill="#c81464" d="M218.6,276.7 218.9,277.2 219.5,277.4 221.9,277.3 222.4,277.1 222.7,276.7 222.8,275.6 220.9,271.9 220.5,271.4 219.9,271.4 219.4,271.7 218.1,273.6 217.9,274.3Z"/>
<path fill="#e02878" d="M286.5,277.2 286.4,277.8 286.6,278.3 288.1,280.1 288.6,280.4 289.4,280.2 292.4,278 293.1,276.2 293,275.4 292.3,275 289,274.7 288.2,275.1ZM293.3,277.6 293.4,278.3 295.9,282.5 296.4,282.8 298.2,282.5 298.8,281.8 299.4,278.4 299.1,277.5 298.5,277.1 294.6,276.1 294,276.2ZM288,297.3 288.7,297.8 289.2,297.9 289.7,297.5 292.7,293.6 292.8,293 292.6,292.4 292.1,292.1 290.9,292.1 287.1,293.4 286.6,294 286.6,294.7ZM296.6,307.5 296.4,308.4 297.4,310.8 298,311.3 299.4,311.8 300.1,311.7 300.5,311.1 301.3,308.2 301.1,307.4 300.7,306.8 299,305.8 298.4,305.7 297.9,306Z"/>
<path fill="#e43080" d="M302.4,276.4 302,277 302.2,277.7 302.8,278.1 305.6,278.3 306.2,278.2 306.5,277.8 307,276.3 305.7,274.9 305.2,274.7 304.6,274.9Z"/>
<path fill="#c8004c" d="M205.6,285.1 206.4,285.3 207.1,284.8 208.3,281.7 208.3,280.9 207.6,280.5 205.2,280.2 204.3,280.6 203.4,282.2 203.3,282.8 203.6,283.3Z"/>
<path fill="#c0186c" d="M212.7,277.6 212,277.9 211.7,278.6 212,279.2 215.1,281.9 215.7,282.2 216.5,281.8 217.8,279 217.7,278.1 217,277.7Z"/>
<path fill="#c80454" d="M223.8,280.2 223.6,279.4 222.9,278.5 222.2,278.2 219.6,278.2 218.8,278.8 218,280.7 218,281.4 218.5,281.9 222,282.9 222.7,282.9 223.1,282.3Z"/>
<path fill="#e82470" d="M251.3,279.3 250.8,279.5 250.4,280 250.5,280.6 251.7,283.5 252.4,284 253.3,283.9 253.7,283.3 254.2,280.5 254,279.8 253.4,279.5Z"/>
<path fill="#e01c6c" d="M276.6,282 276.7,281.5 276.5,280.9 276.2,280.5 275.4,280.2 273,280.4 270.8,281.3 270.3,281.9 270.4,282.6 271.8,284.7 272.3,285.1 272.9,285 275.1,284.1ZM256.3,291.8 256.6,292.4 257.1,292.7 259.7,292.8 260.4,292.3 261.1,291.1 261.2,290.4 260.5,289.7 257.5,288.9 256.7,289 256.4,289.7ZM255.8,293.6 254.4,294.4 254.4,295 255.5,298.9 255.9,299.3 256.4,299.5 257,299.2 257.3,298.7 257.7,294.5 257.5,293.9 256.8,293.6Z"/>
<path fill="#e4206c" d="M190,285.7 190,286.4 190.4,286.9 191.1,286.9 193.3,286.3 193.9,285.7 193.8,284.8 193.1,284.4 191.3,284.2 190.8,284.4ZM260.9,285.7 260.5,285 259.8,284.8 256.7,285.4 256.1,285.8 256,286.5 256.2,287.2 256.8,287.8 259.8,288.7 260.6,288.5 260.9,287.8ZM257.8,298.7 258.1,299.3 258.7,299.6 260.3,299.7 262.4,298.4 262.8,297.7 262.6,297.1 260.6,293.8 259.8,293.3 258.6,293.6 258.3,294.2ZM262.3,291 261.7,291.5 261,292.7 261,293.6 262.5,295.9 263,296.3 263.6,296.3 264,295.9 265.5,292.8 265.5,292.1 265,291.6 263.7,291ZM187.1,310.3 186.4,310.1 185.9,310.5 184.7,312.5 184.2,314.8 184.7,315.7 185.4,315.8 189,314.9 189.6,314.5 189.7,313.7 189,311.7 188.7,311.3Z"/>
<path fill="#cc2074" d="M210,282.8 209.5,282.4 208.8,282.5 208.4,282.9 207.4,285.3 207.5,286.2 208,287 208.6,287.3 209.3,287.2 210.9,285.9 211.3,285.3 211.1,284.7Z"/>
<path fill="#c82074" d="M209.9,280.1 209.7,280.6 210.2,281.5 212.4,283.1 213,283.2 213.6,282.9 213.8,282.3 213.5,281.7 211.4,279.7 210.7,279.5Z"/>
<path fill="#e82874" d="M239.5,282.8 239.6,282.1 239.1,281.6 238,281 237.2,281 236.7,281.6 235.7,284.8 235.7,285.4 236.2,285.9 236.8,285.9 238.1,285.4 238.6,284.9Z"/>
<path fill="#d8186c" d="M287.7,281.6 285.2,285.5 285.3,286 286.1,287.1 286.6,287.5 287.2,287.4 289.7,286.3 290.2,286 290.8,284.9 290.7,283.9 289.2,281.7 288.5,281.3Z"/>
<path fill="#c01870" d="M209.7,287.7 209.4,288.4 209.7,289.1 211.1,290 212.4,290.3 213.2,290 216,287 216.3,286.5 216.2,286 215.2,284.7 214.6,284.6 212.1,285.8Z"/>
<path fill="#c00c5c" d="M214,290 213.8,290.7 214.1,291.3 214.8,291.6 218,291.3 218.7,290.9 218.8,290.2 218.2,288.1 217.8,287.5 216.9,287.2 216.4,287.5Z"/>
<path fill="#e02070" d="M277.3,291.2 277.6,290.4 277.2,289.8 272.8,286.9 272.1,286.7 271.5,287.1 271,288.1 270.8,288.7 271.1,289.2 274.8,292.6 275.4,292.9 276,292.6Z"/>
<path fill="#e02474" d="M291.1,291.3 291.8,291.6 292.5,291.4 292.8,290.8 292.7,290.1 290.6,287.4 290.1,287.1 288.6,287.5 288.1,287.9 288,288.5 288.3,289Z"/>
<path fill="#d41460" d="M202.8,297.6 203.5,297.8 204.1,297.4 205.6,294.9 204.6,293.2 203.8,292.8 201.9,292.9 201.1,293.5 200.5,295.1 200.5,295.7 200.8,296.1ZM280.6,299.1 279.9,299.2 279.5,299.7 279.3,301.1 279.6,301.5 282.5,303.6 283.1,303.8 283.7,303.5 283.9,302.9 284.1,300.8 283.9,300.2 283.4,299.8ZM280.4,322.3 280.4,323.7 281,324.9 283.3,326.5 283.9,326.7 284.5,326.3 285.2,325.1 285.3,323.9 283.2,320.2 282.3,319.8 281.6,320.3Z"/>
<path fill="#c01464" d="M206.5,294.5 208.2,295.9 208.8,296.1 209.4,295.8 209.7,295.3 210.2,290.9 209.9,290.1 209.1,289.5 208.5,289.3 207.9,289.6 205.6,292 205.3,292.5 205.5,293.1Z"/>
<path fill="#c00050" d="M214.7,295.9 215,296.5 215.5,296.7 216.1,296.6 219.9,293.9 220.2,293.2 220,292.5 218.9,291.9 215.3,292.2 214.7,292.5 214.5,293.1Z"/>
<path fill="#e82878" d="M271.8,290.7 271.2,290.5 270.6,290.7 270.3,291.3 270.2,294.6 270.5,295.4 271.9,296.2 274.4,294.7 274.8,294 274.6,293.3Z"/>
<path fill="#e83488" d="M300.1,295.6 300.5,296.3 301.3,296.4 302.7,296 303.3,295.2 303.7,292.6 303.5,292 303,291.6 302.4,291.7 300.6,292.6 300.2,293.4Z"/>
<path fill="#e03084" d="M305.4,290.7 304.7,290.9 304.3,291.5 303.8,295.1 303.9,295.7 304.4,296.1 305.4,296 309.4,293 309.8,292.4 309.6,291.8 309.1,291.4Z"/>
<path fill="#d00858" d="M278.1,301.2 278.9,299.2 278.7,298.2 275.7,295.6 275.2,295.4 274.6,295.5 272.4,297 272.1,297.5 271.6,299.4 272,300.6 272.4,301.1 275.8,302.9 276.8,302.6Z"/>
<path fill="#cc0c58" d="M284.5,302.8 284.7,303.4 285.3,303.8 287.5,304.1 288.2,303.9 290.5,301.7 290.7,301.2 290.6,300.4 289,298.4 288.4,298.2 287.6,298.3 285.1,299.7 284.7,300.4Z"/>
<path fill="#d81c70" d="M298.8,303.9 298.6,304.6 299.1,305.2 300.8,306 303.8,303.6 304.1,303 304,302.4 303.5,302 301.3,301.5 300.3,301.8Z"/>
<path fill="#d81c68" d="M286,311 285.6,311.7 285.8,312.4 288.5,315.4 289.1,315.7 290.6,314.9 291,314.2 290.6,313.4 287,311Z"/>
<path fill="#e82474" d="M197.4,315.2 196.9,315.4 196.6,315.9 196.2,319.1 199.5,321.2 200.3,321.3 200.9,320.7 202.1,316.9 202,316.3 201.6,315.8 199.7,315Z"/>
<path fill="#d01460" d="M293.6,314.2 293,314.6 292.9,315.4 294.4,319.2 294.9,319.6 296.1,319.9 298.1,319.1 298.6,318.4 298.4,317.6 295.2,314.3 294.4,314Z"/>
<rect x="170.4" y="221.0" width="134.4" height="101.0" filter="url(#grainhpd)"/>
<path fill="none" stroke="#fbe0f4" stroke-width="0.8" stroke-opacity="0.8" stroke-linejoin="round" d="M252.8,255.4 258.3,254.2 258.3,254.3 256.6,262 257.3,263.5M205.3,257.3 205,261.5 200.5,260 198,262.1M233.7,263.7 234.2,265.1 236.9,266.4 240.2,263.5 240.3,259.8 240,259.5M172.4,312.7 172.3,314.1 169.7,315.7 170.8,318.1 167.6,322.5 167.9,323.1M172.6,235.1 171.4,235.7 171.7,232.3M223.3,285.1 218.4,287.5 216.8,286.6M291.1,221.6 290.1,222 284.7,218.7 283.3,218.9M191.2,237.3 191.2,238.4 184.1,238.4 184,238.1M301.7,256 304.6,254.3 304.7,254.2M218.7,224.8 216.7,222.3 215.1,222.2 214.5,222.6M249.3,278.8 254.8,279.2 254.9,279.1 254.2,275.8 260,273.8M234.6,287 232.4,286.5 230.4,288.1 230.1,291.9 226.3,292.4 223.7,291.5 225.3,287.2M283.2,319.4 281.5,319.4 279.1,316.5 275.7,316.5 275.6,316.6M185.6,269.5 185.4,266.1 187.1,263.9 184.5,260.8 186.1,257.9 183.3,254.7M219.1,230.3 215.5,228.6 218.7,224.8 216.7,222.3 215.1,222.2M298.2,304.4 300.6,301.1 305.5,302.3 306.4,302.2 306.6,302.1 312.2,304.7M299.8,317.9 299.3,318.3 299,318.9M298.2,249 298.1,245.2 298.2,245.1 302.8,245.2 302.2,250.6M218.7,277.8 217,281.9 223.1,283.7 224.4,279.8 227.5,283.9 225.1,286.9M218,268.8 216.4,264.7 213.2,264M292.6,263 289.3,262.6 288.5,258.8 290.4,257.4 292.9,258.9 294.9,258.1 298.1,260.8M289.9,320.5 289.5,320.3 288.2,318M240.5,240.6 240.6,241.2 239.3,244.5 242,246.4 247.1,244 248.9,245.6 252.9,243.9M231.1,280.8 231.2,281.7 227.5,283.9 224.4,279.8M176.7,315.3 172.3,314.1 169.7,315.7 170.8,318.1 173.3,322.2M287.6,225.1 282.6,224.1 282,222.3 283.2,219.4 283.3,218.9M231.2,237.7 230.2,242 230.4,242.6M296.2,223.5 297.5,218 299.1,217.7M226.3,222.4 223.2,223.5 221.2,226.1 218.7,224.8 216.7,222.3 219.8,219.3 220.4,217.6M186.2,300.2 181.2,298.6 179.7,294.5 182.5,292.9M287.2,309.3 288.2,308.4 292.5,308.5 293,308.1 295.7,307.8 297.3,311.5M204.3,223.3 206.5,221.9 207.4,222.1M228.6,263.9 228.7,257.9 232.1,258.6 234.2,261.2M304.1,272.6 305.2,274.1 299.7,278 299,277 300.1,273.8 304.1,272.6M248.3,311.7 249.2,311.6 252.7,314.9 252.5,316.1 256.5,318.6 259.6,314.3 261,314.2M299.8,317.9 299.3,318.3 294.9,313.7 297.3,311.5 295.7,307.8 293,308.1M202.1,227.9 201.8,229 204.1,230.7 202.5,235.6M292.5,308.5 288.2,308.4 287.2,309.3M238.7,285.5 239.1,286 243.7,287.6 245.1,283.5M285.4,252.7 282.6,249.9 282.8,249.3 289.9,246.6 291,246.7 291.2,248.2M296.5,270 297.4,267.3 296.5,264.4 298.1,262.6 298.1,260.8M218.7,235 219.1,230.3 221.6,227.9 224.2,229.3 225.2,232.4 232.1,230.7M226.9,265.6 223.9,262.1 220.4,262.1 220.3,261.7 217.7,258.1 212.3,260 212.2,261.1M270.3,288.7 272,286.1 272.1,285.6M262.8,253.4 259.9,254.6 258.3,254.3M252.7,224.9 252.5,223 257.9,222.8 259,221.5 260.1,217.6 261.4,217.3 264.1,219.5M270,257.3 267.2,256.2 266,254.4 262.8,253.4 264,248.7 259.7,247.7 260.8,243.6M224,243.7 219.6,244.2 218.5,245 216.3,245.2 216.4,251.7M285,290.7 286.3,288.1 284.6,285.4 284.5,285.4 281.1,285.5 278.5,281.5 277.2,281.4M203.7,298.6 206.2,294.9 204.5,292.5 208.5,288.4 210.7,290.2 213,290.7 216.8,286.6M266.2,291.9 263.6,290.6 261.7,290.8 261.4,289.6 261.3,285.1 260.5,284.3 255.1,285.2M293.8,230.2 292,229.1 291.9,228.7 287.8,226.2 287.6,225.1 288.1,224.3 290.1,222M183.8,240.4 181.7,241.7 181.1,244.5 176.4,244.9M268.7,305.1 266.8,308.6 266.8,308.9 271.5,311.6M266.8,287.4 265.5,285.2 268.3,281M242.1,273.5 241,269.6 237.6,268.2 235.1,271.6 231.4,269.9 231.3,269.1 234.2,265.1M212,285.4 208.5,288.3 206.8,285.8 205.9,285.5 202.9,282.9M224.1,268.5 227.4,272.7 223.4,275.9 220.6,270.3 219.9,270.4M289,316.3 284.8,311.5 286.5,310.4 287.2,309.3 288.2,308.4 288,304.4M285.8,293.7 288,297.8 289.4,298.3 291.1,296.2 296.8,297.4M218.7,277.8 218.3,277.3 210.7,277.2 210.6,278.5 208.9,280.5 204.5,279.9M200.9,321.3 202.5,316 199.6,314.7 200.4,310.8 203.6,308.5M185.2,270.8 186.9,273.5 186.1,275.5 188.1,279.6M214.1,291.9 213,290.7 216.8,286.6 215.5,284M285.7,265.3 285.9,268.3 286,268.4 290.8,268.1 293.4,264 296.5,264.4 297.4,267.3M282.8,249.3 282.6,249.9 278.8,251.7 279,254.4 280.2,256.8 280.6,257.2 282.9,260.7M235,236.8 233.8,236.2 232.7,231 232.3,230.8M190.9,273.2 193.7,278.2 196.1,278.6 196.9,278.6 197.4,277.9 198.9,277.4 203.3,276.8M282.1,279 284.5,285.4 281.1,285.5 278.5,281.5 277.2,281.4M176.4,244.9 175.9,242.6 176.3,241.6 176,240 179,236.8 180.5,235.2 184,238.1M298.1,260.8 298.1,262.6 303.2,263.8 304,265.5M194.7,306.1 194.9,306.1 195.5,298.1 194.9,297.9 192.2,299.1 187.2,298.4 187.2,298.1M228.6,314.2 226.2,315.1 226.3,320.3 227.6,322.5 226.7,324.5 225.3,325.5 222.9,325.5M218.7,235 219.1,230.3 215.5,228.6M261.2,257.4 265.1,258.8 265.5,262.7 269.6,261 270,257.3 267.2,256.2 266,254.4M213.4,245 211.5,249.5 215.5,251.7 216.4,251.7 216.3,245.2 218.5,245M301.4,229.5 303.2,229.5 305.8,232.5 308,231.8 309.9,232.4 310.6,233.4 310.4,238.9M223.9,262.1 226.6,258.2 223.9,257 223.5,255.2M193.7,278.2 196.1,278.6 193.6,284.1 190.4,283.8 190.3,280.2M281.1,285.5 280.1,286.9 285,290.7"/>
<path fill="#6a1a66" fill-opacity="0.75" d="M211,221.1a0.6,0.6 0 1,0 1.2,0a0.6,0.6 0 1,0 -1.2,0M227.7,221.2a0.6,0.6 0 1,0 1.2,0a0.6,0.6 0 1,0 -1.2,0M262,221.4a0.6,0.6 0 1,0 1.2,0a0.6,0.6 0 1,0 -1.2,0M265.8,221.3a0.6,0.6 0 1,0 1.2,0a0.6,0.6 0 1,0 -1.2,0M177.2,226.2a0.6,0.6 0 1,0 1.2,0a0.6,0.6 0 1,0 -1.2,0M190.9,221.2a0.6,0.6 0 1,0 1.2,0a0.6,0.6 0 1,0 -1.2,0M206.6,226.1a0.6,0.6 0 1,0 1.2,0a0.6,0.6 0 1,0 -1.2,0M271.8,223.4a0.6,0.6 0 1,0 1.2,0a0.6,0.6 0 1,0 -1.2,0M278.1,225.5a0.6,0.6 0 1,0 1.2,0a0.6,0.6 0 1,0 -1.2,0M171.9,228.6a0.6,0.6 0 1,0 1.2,0a0.6,0.6 0 1,0 -1.2,0M203.5,227.9a0.6,0.6 0 1,0 1.2,0a0.6,0.6 0 1,0 -1.2,0M216,232.8a0.6,0.6 0 1,0 1.2,0a0.6,0.6 0 1,0 -1.2,0M227.5,229.4a0.6,0.6 0 1,0 1.2,0a0.6,0.6 0 1,0 -1.2,0M233.5,226.1a0.6,0.6 0 1,0 1.2,0a0.6,0.6 0 1,0 -1.2,0M244.9,229.3a0.6,0.6 0 1,0 1.2,0a0.6,0.6 0 1,0 -1.2,0M253,230.4a0.6,0.6 0 1,0 1.2,0a0.6,0.6 0 1,0 -1.2,0M256.9,228a0.6,0.6 0 1,0 1.2,0a0.6,0.6 0 1,0 -1.2,0M297.2,229.2a0.6,0.6 0 1,0 1.2,0a0.6,0.6 0 1,0 -1.2,0M170,233.8a0.6,0.6 0 1,0 1.2,0a0.6,0.6 0 1,0 -1.2,0M175.5,238.1a0.6,0.6 0 1,0 1.2,0a0.6,0.6 0 1,0 -1.2,0M195.1,233.5a0.6,0.6 0 1,0 1.2,0a0.6,0.6 0 1,0 -1.2,0M235.7,231.9a0.6,0.6 0 1,0 1.2,0a0.6,0.6 0 1,0 -1.2,0M254,235.4a0.6,0.6 0 1,0 1.2,0a0.6,0.6 0 1,0 -1.2,0M275.1,235.3a0.6,0.6 0 1,0 1.2,0a0.6,0.6 0 1,0 -1.2,0M301.7,232.2a0.6,0.6 0 1,0 1.2,0a0.6,0.6 0 1,0 -1.2,0M187,235.8a0.6,0.6 0 1,0 1.2,0a0.6,0.6 0 1,0 -1.2,0M242.5,240.1a0.6,0.6 0 1,0 1.2,0a0.6,0.6 0 1,0 -1.2,0M256.3,237.9a0.6,0.6 0 1,0 1.2,0a0.6,0.6 0 1,0 -1.2,0M273,237.9a0.6,0.6 0 1,0 1.2,0a0.6,0.6 0 1,0 -1.2,0M188.2,241.9a0.6,0.6 0 1,0 1.2,0a0.6,0.6 0 1,0 -1.2,0M192.3,241.4a0.6,0.6 0 1,0 1.2,0a0.6,0.6 0 1,0 -1.2,0M203.8,242.5a0.6,0.6 0 1,0 1.2,0a0.6,0.6 0 1,0 -1.2,0M235.9,241.8a0.6,0.6 0 1,0 1.2,0a0.6,0.6 0 1,0 -1.2,0M259.1,245a0.6,0.6 0 1,0 1.2,0a0.6,0.6 0 1,0 -1.2,0M173.7,249a0.6,0.6 0 1,0 1.2,0a0.6,0.6 0 1,0 -1.2,0M189.8,248a0.6,0.6 0 1,0 1.2,0a0.6,0.6 0 1,0 -1.2,0M208.8,248.3a0.6,0.6 0 1,0 1.2,0a0.6,0.6 0 1,0 -1.2,0M223.4,247a0.6,0.6 0 1,0 1.2,0a0.6,0.6 0 1,0 -1.2,0M254.9,246.4a0.6,0.6 0 1,0 1.2,0a0.6,0.6 0 1,0 -1.2,0M266.7,246.9a0.6,0.6 0 1,0 1.2,0a0.6,0.6 0 1,0 -1.2,0M273.3,247.2a0.6,0.6 0 1,0 1.2,0a0.6,0.6 0 1,0 -1.2,0M179,250.6a0.6,0.6 0 1,0 1.2,0a0.6,0.6 0 1,0 -1.2,0M204.7,253.3a0.6,0.6 0 1,0 1.2,0a0.6,0.6 0 1,0 -1.2,0M211.5,252a0.6,0.6 0 1,0 1.2,0a0.6,0.6 0 1,0 -1.2,0M213.6,253.9a0.6,0.6 0 1,0 1.2,0a0.6,0.6 0 1,0 -1.2,0M222.9,251.8a0.6,0.6 0 1,0 1.2,0a0.6,0.6 0 1,0 -1.2,0M275.6,252.6a0.6,0.6 0 1,0 1.2,0a0.6,0.6 0 1,0 -1.2,0M288.9,253.9a0.6,0.6 0 1,0 1.2,0a0.6,0.6 0 1,0 -1.2,0M301.1,252.9a0.6,0.6 0 1,0 1.2,0a0.6,0.6 0 1,0 -1.2,0M181,256.3a0.6,0.6 0 1,0 1.2,0a0.6,0.6 0 1,0 -1.2,0M202.3,258.7a0.6,0.6 0 1,0 1.2,0a0.6,0.6 0 1,0 -1.2,0M210.8,256.1a0.6,0.6 0 1,0 1.2,0a0.6,0.6 0 1,0 -1.2,0M219.4,257.8a0.6,0.6 0 1,0 1.2,0a0.6,0.6 0 1,0 -1.2,0M219.2,257.4a0.6,0.6 0 1,0 1.2,0a0.6,0.6 0 1,0 -1.2,0M275.6,257a0.6,0.6 0 1,0 1.2,0a0.6,0.6 0 1,0 -1.2,0M288.2,256.4a0.6,0.6 0 1,0 1.2,0a0.6,0.6 0 1,0 -1.2,0M292.5,256.8a0.6,0.6 0 1,0 1.2,0a0.6,0.6 0 1,0 -1.2,0M181.9,262.6a0.6,0.6 0 1,0 1.2,0a0.6,0.6 0 1,0 -1.2,0M187,260.4a0.6,0.6 0 1,0 1.2,0a0.6,0.6 0 1,0 -1.2,0M223.1,261a0.6,0.6 0 1,0 1.2,0a0.6,0.6 0 1,0 -1.2,0M228.9,262.9a0.6,0.6 0 1,0 1.2,0a0.6,0.6 0 1,0 -1.2,0M241.4,262.9a0.6,0.6 0 1,0 1.2,0a0.6,0.6 0 1,0 -1.2,0M190.8,266.5a0.6,0.6 0 1,0 1.2,0a0.6,0.6 0 1,0 -1.2,0M203.2,267.8a0.6,0.6 0 1,0 1.2,0a0.6,0.6 0 1,0 -1.2,0M209.2,266.2a0.6,0.6 0 1,0 1.2,0a0.6,0.6 0 1,0 -1.2,0M233.5,268.1a0.6,0.6 0 1,0 1.2,0a0.6,0.6 0 1,0 -1.2,0M250.7,265.8a0.6,0.6 0 1,0 1.2,0a0.6,0.6 0 1,0 -1.2,0M271.8,266.7a0.6,0.6 0 1,0 1.2,0a0.6,0.6 0 1,0 -1.2,0M287.4,265.3a0.6,0.6 0 1,0 1.2,0a0.6,0.6 0 1,0 -1.2,0M182.1,273.8a0.6,0.6 0 1,0 1.2,0a0.6,0.6 0 1,0 -1.2,0M226.8,269.1a0.6,0.6 0 1,0 1.2,0a0.6,0.6 0 1,0 -1.2,0M298.9,268.3a0.6,0.6 0 1,0 1.2,0a0.6,0.6 0 1,0 -1.2,0M178.6,277.9a0.6,0.6 0 1,0 1.2,0a0.6,0.6 0 1,0 -1.2,0M183.7,278.9a0.6,0.6 0 1,0 1.2,0a0.6,0.6 0 1,0 -1.2,0M198.7,273.4a0.6,0.6 0 1,0 1.2,0a0.6,0.6 0 1,0 -1.2,0M224.4,277.4a0.6,0.6 0 1,0 1.2,0a0.6,0.6 0 1,0 -1.2,0M267.2,275.2a0.6,0.6 0 1,0 1.2,0a0.6,0.6 0 1,0 -1.2,0M277.7,276.6a0.6,0.6 0 1,0 1.2,0a0.6,0.6 0 1,0 -1.2,0M186.9,283.1a0.6,0.6 0 1,0 1.2,0a0.6,0.6 0 1,0 -1.2,0M205.2,282.2a0.6,0.6 0 1,0 1.2,0a0.6,0.6 0 1,0 -1.2,0M213.8,279.9a0.6,0.6 0 1,0 1.2,0a0.6,0.6 0 1,0 -1.2,0M227.8,280.1a0.6,0.6 0 1,0 1.2,0a0.6,0.6 0 1,0 -1.2,0M233.9,282.9a0.6,0.6 0 1,0 1.2,0a0.6,0.6 0 1,0 -1.2,0M268.9,277.8a0.6,0.6 0 1,0 1.2,0a0.6,0.6 0 1,0 -1.2,0M274.4,282.9a0.6,0.6 0 1,0 1.2,0a0.6,0.6 0 1,0 -1.2,0M176.1,285.2a0.6,0.6 0 1,0 1.2,0a0.6,0.6 0 1,0 -1.2,0M184.5,285.9a0.6,0.6 0 1,0 1.2,0a0.6,0.6 0 1,0 -1.2,0M210.8,282.4a0.6,0.6 0 1,0 1.2,0a0.6,0.6 0 1,0 -1.2,0M224,283.9a0.6,0.6 0 1,0 1.2,0a0.6,0.6 0 1,0 -1.2,0M240.2,285.2a0.6,0.6 0 1,0 1.2,0a0.6,0.6 0 1,0 -1.2,0M245.9,286.6a0.6,0.6 0 1,0 1.2,0a0.6,0.6 0 1,0 -1.2,0M257,286.9a0.6,0.6 0 1,0 1.2,0a0.6,0.6 0 1,0 -1.2,0M268.7,286.6a0.6,0.6 0 1,0 1.2,0a0.6,0.6 0 1,0 -1.2,0M274.2,287.7a0.6,0.6 0 1,0 1.2,0a0.6,0.6 0 1,0 -1.2,0M277.6,284.9a0.6,0.6 0 1,0 1.2,0a0.6,0.6 0 1,0 -1.2,0M299,287.5a0.6,0.6 0 1,0 1.2,0a0.6,0.6 0 1,0 -1.2,0M199.7,289.5a0.6,0.6 0 1,0 1.2,0a0.6,0.6 0 1,0 -1.2,0M203.9,290a0.6,0.6 0 1,0 1.2,0a0.6,0.6 0 1,0 -1.2,0M211.7,287.6a0.6,0.6 0 1,0 1.2,0a0.6,0.6 0 1,0 -1.2,0M215,289.3a0.6,0.6 0 1,0 1.2,0a0.6,0.6 0 1,0 -1.2,0M232.9,289.9a0.6,0.6 0 1,0 1.2,0a0.6,0.6 0 1,0 -1.2,0M235.9,288.8a0.6,0.6 0 1,0 1.2,0a0.6,0.6 0 1,0 -1.2,0M254.3,289a0.6,0.6 0 1,0 1.2,0a0.6,0.6 0 1,0 -1.2,0M280.2,289.6a0.6,0.6 0 1,0 1.2,0a0.6,0.6 0 1,0 -1.2,0M289.3,290.3a0.6,0.6 0 1,0 1.2,0a0.6,0.6 0 1,0 -1.2,0M222.8,294.9a0.6,0.6 0 1,0 1.2,0a0.6,0.6 0 1,0 -1.2,0M226.2,292.6a0.6,0.6 0 1,0 1.2,0a0.6,0.6 0 1,0 -1.2,0M233.7,295.4a0.6,0.6 0 1,0 1.2,0a0.6,0.6 0 1,0 -1.2,0M266.5,293.2a0.6,0.6 0 1,0 1.2,0a0.6,0.6 0 1,0 -1.2,0M170.4,300a0.6,0.6 0 1,0 1.2,0a0.6,0.6 0 1,0 -1.2,0M207.6,300.6a0.6,0.6 0 1,0 1.2,0a0.6,0.6 0 1,0 -1.2,0M216.1,302.1a0.6,0.6 0 1,0 1.2,0a0.6,0.6 0 1,0 -1.2,0M230.7,299.3a0.6,0.6 0 1,0 1.2,0a0.6,0.6 0 1,0 -1.2,0M242.5,301.5a0.6,0.6 0 1,0 1.2,0a0.6,0.6 0 1,0 -1.2,0M292,299.5a0.6,0.6 0 1,0 1.2,0a0.6,0.6 0 1,0 -1.2,0M297.5,299.1a0.6,0.6 0 1,0 1.2,0a0.6,0.6 0 1,0 -1.2,0M175.5,304.8a0.6,0.6 0 1,0 1.2,0a0.6,0.6 0 1,0 -1.2,0M210.2,305.4a0.6,0.6 0 1,0 1.2,0a0.6,0.6 0 1,0 -1.2,0M233.9,302.3a0.6,0.6 0 1,0 1.2,0a0.6,0.6 0 1,0 -1.2,0M286.2,306.4a0.6,0.6 0 1,0 1.2,0a0.6,0.6 0 1,0 -1.2,0M289.8,306a0.6,0.6 0 1,0 1.2,0a0.6,0.6 0 1,0 -1.2,0M302.1,303.1a0.6,0.6 0 1,0 1.2,0a0.6,0.6 0 1,0 -1.2,0M173.2,309.8a0.6,0.6 0 1,0 1.2,0a0.6,0.6 0 1,0 -1.2,0M180.9,311.2a0.6,0.6 0 1,0 1.2,0a0.6,0.6 0 1,0 -1.2,0M194.1,309.5a0.6,0.6 0 1,0 1.2,0a0.6,0.6 0 1,0 -1.2,0M198.6,309.2a0.6,0.6 0 1,0 1.2,0a0.6,0.6 0 1,0 -1.2,0M205.5,309.1a0.6,0.6 0 1,0 1.2,0a0.6,0.6 0 1,0 -1.2,0M208.8,310.9a0.6,0.6 0 1,0 1.2,0a0.6,0.6 0 1,0 -1.2,0M215.7,310a0.6,0.6 0 1,0 1.2,0a0.6,0.6 0 1,0 -1.2,0M240.1,310.8a0.6,0.6 0 1,0 1.2,0a0.6,0.6 0 1,0 -1.2,0M303.1,309.4a0.6,0.6 0 1,0 1.2,0a0.6,0.6 0 1,0 -1.2,0M192.2,313.3a0.6,0.6 0 1,0 1.2,0a0.6,0.6 0 1,0 -1.2,0M247.9,316.4a0.6,0.6 0 1,0 1.2,0a0.6,0.6 0 1,0 -1.2,0M266.7,311.4a0.6,0.6 0 1,0 1.2,0a0.6,0.6 0 1,0 -1.2,0M274.7,312.7a0.6,0.6 0 1,0 1.2,0a0.6,0.6 0 1,0 -1.2,0M276.1,314.2a0.6,0.6 0 1,0 1.2,0a0.6,0.6 0 1,0 -1.2,0M197.7,319.7a0.6,0.6 0 1,0 1.2,0a0.6,0.6 0 1,0 -1.2,0M230.8,319a0.6,0.6 0 1,0 1.2,0a0.6,0.6 0 1,0 -1.2,0M249.5,319.1a0.6,0.6 0 1,0 1.2,0a0.6,0.6 0 1,0 -1.2,0M263.5,318.4a0.6,0.6 0 1,0 1.2,0a0.6,0.6 0 1,0 -1.2,0M276.2,318.9a0.6,0.6 0 1,0 1.2,0a0.6,0.6 0 1,0 -1.2,0M281.2,317a0.6,0.6 0 1,0 1.2,0a0.6,0.6 0 1,0 -1.2,0M285,318.5a0.6,0.6 0 1,0 1.2,0a0.6,0.6 0 1,0 -1.2,0M304.1,316.9a0.6,0.6 0 1,0 1.2,0a0.6,0.6 0 1,0 -1.2,0M244.2,321.1a0.6,0.6 0 1,0 1.2,0a0.6,0.6 0 1,0 -1.2,0"/>
<path d="M216.8,246.8 L222.2,247.2 L226.4,256.2 L224.8,258.8 L218.2,251.2Z" fill="#d0102a"/>
<path d="M220.5,246.2 L226.6,255.6" fill="none" stroke="#fff4fa" stroke-width="1"/>
<path d="M217.6,273.8 L220.2,275.4 L217.2,283.6 L213,284 L214.2,278.6Z" fill="#c8102c"/>
<path d="M275.5,259 L279.5,261 L279,269 L275.5,267.5Z" fill="#c01034" fill-opacity="0.8"/>
<circle cx="223" cy="303" r="1.1" fill="#301030"/>
</g></g>
<rect x="33.0" y="221.0" width="134.2" height="101.0" fill="none" stroke="#111" stroke-width="1.0"/>
<rect x="170.4" y="221.0" width="134.4" height="101.0" fill="none" stroke="#111" stroke-width="1.0"/>
<text x="317.50" y="199.90" font-size="18.6" text-anchor="start" font-weight="bold" font-style="normal" >D</text>
<text x="349.50" y="219.67" font-size="9.4" text-anchor="end" textLength="14.58" lengthAdjust="spacingAndGlyphs">500</text>
<text x="349.50" y="245.21" font-size="9.4" text-anchor="end" textLength="14.58" lengthAdjust="spacingAndGlyphs">400</text>
<text x="349.50" y="270.75" font-size="9.4" text-anchor="end" textLength="14.58" lengthAdjust="spacingAndGlyphs">300</text>
<text x="349.50" y="296.29" font-size="9.4" text-anchor="end" textLength="14.58" lengthAdjust="spacingAndGlyphs">200</text>
<text x="349.50" y="321.83" font-size="9.4" text-anchor="end" textLength="14.58" lengthAdjust="spacingAndGlyphs">100</text>
<text x="349.50" y="347.37" font-size="9.4" text-anchor="end" textLength="4.86" lengthAdjust="spacingAndGlyphs">0</text>
<text x="390.80" y="357.20" font-size="8.8" text-anchor="middle" font-weight="normal" font-style="normal" >CON</text>
<text x="445.40" y="357.20" font-size="8.8" text-anchor="middle" font-weight="normal" font-style="normal" >HPD</text>
<rect x="373.20" y="258.80" width="35.80" height="85.60" fill="#fff" stroke="#000" stroke-width="1.5"/>
<line x1="391.10" y1="258.80" x2="391.10" y2="255.20" stroke="#000" stroke-width="1.5"/>
<line x1="382.60" y1="255.20" x2="399.60" y2="255.20" stroke="#000" stroke-width="1.5"/>
<rect x="427.90" y="249.60" width="35.70" height="94.80" fill="#ff0000" stroke="#000" stroke-width="1.5"/>
<line x1="445.75" y1="249.60" x2="445.75" y2="246.20" stroke="#000" stroke-width="1.5"/>
<line x1="436.75" y1="246.20" x2="454.75" y2="246.20" stroke="#000" stroke-width="1.5"/>
<polyline points="392.00,240.60 392.00,234.10 445.70,234.10 445.70,240.60" fill="none" stroke="#000" stroke-width="1.5"/>
<text x="420.3" y="231.5" font-size="9.4" text-anchor="middle"><tspan font-style="italic">P</tspan>=0.1009</text>
<text transform="translate(328.30,280.70) rotate(-90)" x="0" y="0" font-size="11.2" text-anchor="middle" font-weight="normal" textLength="144.0" lengthAdjust="spacingAndGlyphs">Liver purine content (mg/100g)</text>
<text x="20.70" y="374.50" font-size="18.6" text-anchor="start" font-weight="bold" font-style="normal" >E</text>
<text x="48.40" y="394.77" font-size="9.4" text-anchor="end" textLength="9.72" lengthAdjust="spacingAndGlyphs">80</text>
<text x="48.40" y="428.14" font-size="9.4" text-anchor="end" textLength="9.72" lengthAdjust="spacingAndGlyphs">60</text>
<text x="48.40" y="461.52" font-size="9.4" text-anchor="end" textLength="9.72" lengthAdjust="spacingAndGlyphs">40</text>
<text x="48.40" y="494.89" font-size="9.4" text-anchor="end" textLength="9.72" lengthAdjust="spacingAndGlyphs">20</text>
<text x="48.40" y="528.27" font-size="9.4" text-anchor="end" textLength="4.86" lengthAdjust="spacingAndGlyphs">0</text>
<text x="94.30" y="538.50" font-size="9.0" text-anchor="middle" font-weight="normal" font-style="normal" >CON</text>
<text x="143.00" y="538.50" font-size="9.0" text-anchor="middle" font-weight="normal" font-style="normal" >HPD</text>
<rect x="78.20" y="429.30" width="32.10" height="96.00" fill="#fff" stroke="#000" stroke-width="1.5"/>
<line x1="94.25" y1="429.30" x2="94.25" y2="426.20" stroke="#000" stroke-width="1.5"/>
<line x1="86.35" y1="426.20" x2="102.15" y2="426.20" stroke="#000" stroke-width="1.5"/>
<rect x="127.30" y="424.50" width="31.60" height="100.80" fill="#ff0000" stroke="#000" stroke-width="1.5"/>
<line x1="143.10" y1="424.50" x2="143.10" y2="419.10" stroke="#000" stroke-width="1.5"/>
<line x1="135.20" y1="419.10" x2="151.00" y2="419.10" stroke="#000" stroke-width="1.5"/>
<text transform="translate(32.10,458.75) rotate(-90)" x="0" y="0" font-size="11.2" text-anchor="middle" font-weight="normal" textLength="143.0" lengthAdjust="spacingAndGlyphs">Liver urate content (mg/100g)</text>
<text x="241.30" y="378.10" font-size="18.6" text-anchor="start" font-weight="bold" font-style="normal" textLength="10.4" lengthAdjust="spacingAndGlyphs">F</text>
<text x="269.50" y="394.02" font-size="9.0" text-anchor="end" textLength="12.13" lengthAdjust="spacingAndGlyphs">1.5</text>
<text x="269.50" y="438.59" font-size="9.0" text-anchor="end" textLength="12.13" lengthAdjust="spacingAndGlyphs">1.0</text>
<text x="269.50" y="483.16" font-size="9.0" text-anchor="end" textLength="12.13" lengthAdjust="spacingAndGlyphs">0.5</text>
<text x="269.50" y="527.72" font-size="9.0" text-anchor="end" textLength="12.13" lengthAdjust="spacingAndGlyphs">0.0</text>
<text x="289.50" y="537.40" font-size="8.6" text-anchor="middle" font-weight="normal" font-style="italic" >Xdh</text>
<rect x="278.90" y="472.02" width="8.20" height="52.88" fill="#fff" stroke="#000" stroke-width="1.5"/>
<line x1="283.00" y1="472.02" x2="283.00" y2="460.43" stroke="#000" stroke-width="1.5"/>
<line x1="280.75" y1="460.43" x2="285.25" y2="460.43" stroke="#000" stroke-width="1.5"/>
<rect x="292.30" y="418.54" width="7.80" height="106.36" fill="#ff0000" stroke="#000" stroke-width="1.5"/>
<line x1="296.20" y1="418.54" x2="296.20" y2="404.28" stroke="#000" stroke-width="1.5"/>
<line x1="293.95" y1="404.28" x2="298.45" y2="404.28" stroke="#000" stroke-width="1.5"/>
<text x="324.20" y="537.40" font-size="8.6" text-anchor="middle" font-weight="normal" font-style="italic" >Adsl</text>
<rect x="313.60" y="463.11" width="8.20" height="61.79" fill="#fff" stroke="#000" stroke-width="1.5"/>
<line x1="317.70" y1="463.11" x2="317.70" y2="454.19" stroke="#000" stroke-width="1.5"/>
<line x1="315.45" y1="454.19" x2="319.95" y2="454.19" stroke="#000" stroke-width="1.5"/>
<rect x="327.00" y="459.10" width="7.80" height="65.80" fill="#ff0000" stroke="#000" stroke-width="1.5"/>
<line x1="330.90" y1="459.10" x2="330.90" y2="455.98" stroke="#000" stroke-width="1.5"/>
<line x1="328.65" y1="455.98" x2="333.15" y2="455.98" stroke="#000" stroke-width="1.5"/>
<text x="358.90" y="537.40" font-size="8.6" text-anchor="middle" font-weight="normal" font-style="italic" >Hprt1</text>
<rect x="348.30" y="480.31" width="8.20" height="44.59" fill="#fff" stroke="#000" stroke-width="1.5"/>
<line x1="352.40" y1="480.31" x2="352.40" y2="465.78" stroke="#000" stroke-width="1.5"/>
<line x1="350.15" y1="465.78" x2="354.65" y2="465.78" stroke="#000" stroke-width="1.5"/>
<rect x="361.70" y="464.44" width="7.80" height="60.46" fill="#ff0000" stroke="#000" stroke-width="1.5"/>
<line x1="365.60" y1="464.44" x2="365.60" y2="455.08" stroke="#000" stroke-width="1.5"/>
<line x1="363.35" y1="455.08" x2="367.85" y2="455.08" stroke="#000" stroke-width="1.5"/>
<text x="393.70" y="537.40" font-size="8.6" text-anchor="middle" font-weight="normal" font-style="italic" >Impdh2</text>
<rect x="383.10" y="468.72" width="8.20" height="56.18" fill="#fff" stroke="#000" stroke-width="1.5"/>
<line x1="387.20" y1="468.72" x2="387.20" y2="458.03" stroke="#000" stroke-width="1.5"/>
<line x1="384.95" y1="458.03" x2="389.45" y2="458.03" stroke="#000" stroke-width="1.5"/>
<rect x="396.50" y="455.35" width="7.80" height="69.55" fill="#ff0000" stroke="#000" stroke-width="1.5"/>
<line x1="400.40" y1="455.35" x2="400.40" y2="452.41" stroke="#000" stroke-width="1.5"/>
<line x1="398.15" y1="452.41" x2="402.65" y2="452.41" stroke="#000" stroke-width="1.5"/>
<text x="428.50" y="537.40" font-size="8.6" text-anchor="middle" font-weight="normal" font-style="italic" >Ppat</text>
<rect x="417.90" y="458.47" width="8.20" height="66.43" fill="#fff" stroke="#000" stroke-width="1.5"/>
<line x1="422.00" y1="458.47" x2="422.00" y2="450.63" stroke="#000" stroke-width="1.5"/>
<line x1="419.75" y1="450.63" x2="424.25" y2="450.63" stroke="#000" stroke-width="1.5"/>
<rect x="431.30" y="467.56" width="7.80" height="57.34" fill="#ff0000" stroke="#000" stroke-width="1.5"/>
<line x1="435.20" y1="467.56" x2="435.20" y2="461.59" stroke="#000" stroke-width="1.5"/>
<line x1="432.95" y1="461.59" x2="437.45" y2="461.59" stroke="#000" stroke-width="1.5"/>
<polyline points="281.60,399.40 281.60,394.80 296.30,394.80 296.30,399.40" fill="none" stroke="#000" stroke-width="1.5"/>
<text x="288.90" y="396.00" font-size="9.0" text-anchor="middle" font-weight="normal" font-style="normal" >*</text>
<rect x="345.80" y="392.40" width="14.40" height="3.90" fill="#fff" stroke="#000" stroke-width="1.5"/>
<rect x="391.90" y="392.40" width="14.20" height="3.90" fill="#ff0000" stroke="#000" stroke-width="1.5"/>
<text x="368.00" y="397.30" font-size="8.8" text-anchor="start" font-weight="normal" font-style="normal" >CON</text>
<text x="414.20" y="397.30" font-size="8.8" text-anchor="start" font-weight="normal" font-style="normal" >HPD</text>
<text transform="translate(250.40,458.10) rotate(-90)" x="0" y="0" font-size="11.1" text-anchor="middle" font-weight="normal" textLength="94.6" lengthAdjust="spacingAndGlyphs">Relative mRNA level</text>
<line x1="57.20" y1="25.50" x2="57.20" y2="90.90" stroke="#000" stroke-width="1.5"/>
<line x1="57.20" y1="101.40" x2="57.20" y2="167.55" stroke="#000" stroke-width="1.5"/>
<line x1="53.60" y1="25.50" x2="57.20" y2="25.50" stroke="#000" stroke-width="1.5"/>
<line x1="53.60" y1="58.20" x2="57.20" y2="58.20" stroke="#000" stroke-width="1.5"/>
<line x1="53.60" y1="90.90" x2="57.20" y2="90.90" stroke="#000" stroke-width="1.5"/>
<line x1="53.60" y1="101.40" x2="57.20" y2="101.40" stroke="#000" stroke-width="1.5"/>
<line x1="53.60" y1="134.10" x2="57.20" y2="134.10" stroke="#000" stroke-width="1.5"/>
<line x1="53.60" y1="166.80" x2="57.20" y2="166.80" stroke="#000" stroke-width="1.5"/>
<line x1="53.60" y1="90.90" x2="60.80" y2="90.90" stroke="#000" stroke-width="1.5"/>
<line x1="53.60" y1="101.40" x2="60.80" y2="101.40" stroke="#000" stroke-width="1.5"/>
<line x1="57.20" y1="166.80" x2="224.30" y2="166.80" stroke="#000" stroke-width="1.5"/>
<line x1="71.80" y1="166.80" x2="71.80" y2="169.80" stroke="#000" stroke-width="1.5"/>
<line x1="105.90" y1="166.80" x2="105.90" y2="169.80" stroke="#000" stroke-width="1.5"/>
<line x1="139.80" y1="166.80" x2="139.80" y2="169.80" stroke="#000" stroke-width="1.5"/>
<line x1="173.80" y1="166.80" x2="173.80" y2="169.80" stroke="#000" stroke-width="1.5"/>
<line x1="207.80" y1="166.80" x2="207.80" y2="169.80" stroke="#000" stroke-width="1.5"/>
<line x1="283.10" y1="29.40" x2="283.10" y2="93.40" stroke="#000" stroke-width="1.5"/>
<line x1="283.10" y1="104.00" x2="283.10" y2="167.65" stroke="#000" stroke-width="1.5"/>
<line x1="279.50" y1="29.40" x2="283.10" y2="29.40" stroke="#000" stroke-width="1.5"/>
<line x1="279.50" y1="50.73" x2="283.10" y2="50.73" stroke="#000" stroke-width="1.5"/>
<line x1="279.50" y1="72.07" x2="283.10" y2="72.07" stroke="#000" stroke-width="1.5"/>
<line x1="279.50" y1="93.40" x2="283.10" y2="93.40" stroke="#000" stroke-width="1.5"/>
<line x1="279.50" y1="104.00" x2="283.10" y2="104.00" stroke="#000" stroke-width="1.5"/>
<line x1="279.50" y1="124.97" x2="283.10" y2="124.97" stroke="#000" stroke-width="1.5"/>
<line x1="279.50" y1="145.93" x2="283.10" y2="145.93" stroke="#000" stroke-width="1.5"/>
<line x1="279.50" y1="166.90" x2="283.10" y2="166.90" stroke="#000" stroke-width="1.5"/>
<line x1="279.50" y1="93.40" x2="286.70" y2="93.40" stroke="#000" stroke-width="1.5"/>
<line x1="279.50" y1="104.00" x2="286.70" y2="104.00" stroke="#000" stroke-width="1.5"/>
<line x1="283.10" y1="166.90" x2="418.60" y2="166.90" stroke="#000" stroke-width="1.5"/>
<line x1="314.70" y1="166.90" x2="314.70" y2="169.90" stroke="#000" stroke-width="1.5"/>
<line x1="386.40" y1="166.90" x2="386.40" y2="169.90" stroke="#000" stroke-width="1.5"/>
<line x1="354.60" y1="216.70" x2="354.60" y2="345.15" stroke="#000" stroke-width="1.5"/>
<line x1="351.00" y1="216.70" x2="354.60" y2="216.70" stroke="#000" stroke-width="1.5"/>
<line x1="351.00" y1="242.24" x2="354.60" y2="242.24" stroke="#000" stroke-width="1.5"/>
<line x1="351.00" y1="267.78" x2="354.60" y2="267.78" stroke="#000" stroke-width="1.5"/>
<line x1="351.00" y1="293.32" x2="354.60" y2="293.32" stroke="#000" stroke-width="1.5"/>
<line x1="351.00" y1="318.86" x2="354.60" y2="318.86" stroke="#000" stroke-width="1.5"/>
<line x1="351.00" y1="344.40" x2="354.60" y2="344.40" stroke="#000" stroke-width="1.5"/>
<line x1="354.60" y1="344.40" x2="482.40" y2="344.40" stroke="#000" stroke-width="1.5"/>
<line x1="390.80" y1="344.40" x2="390.80" y2="347.70" stroke="#000" stroke-width="1.5"/>
<line x1="445.40" y1="344.40" x2="445.40" y2="347.70" stroke="#000" stroke-width="1.5"/>
<line x1="52.90" y1="391.80" x2="52.90" y2="526.05" stroke="#000" stroke-width="1.5"/>
<line x1="49.30" y1="391.80" x2="52.90" y2="391.80" stroke="#000" stroke-width="1.5"/>
<line x1="49.30" y1="425.18" x2="52.90" y2="425.18" stroke="#000" stroke-width="1.5"/>
<line x1="49.30" y1="458.55" x2="52.90" y2="458.55" stroke="#000" stroke-width="1.5"/>
<line x1="49.30" y1="491.92" x2="52.90" y2="491.92" stroke="#000" stroke-width="1.5"/>
<line x1="49.30" y1="525.30" x2="52.90" y2="525.30" stroke="#000" stroke-width="1.5"/>
<line x1="52.90" y1="525.30" x2="184.40" y2="525.30" stroke="#000" stroke-width="1.5"/>
<line x1="94.30" y1="525.30" x2="94.30" y2="528.60" stroke="#000" stroke-width="1.5"/>
<line x1="143.00" y1="525.30" x2="143.00" y2="528.60" stroke="#000" stroke-width="1.5"/>
<line x1="274.30" y1="391.20" x2="274.30" y2="525.65" stroke="#000" stroke-width="1.5"/>
<line x1="270.70" y1="391.20" x2="274.30" y2="391.20" stroke="#000" stroke-width="1.5"/>
<line x1="270.70" y1="435.77" x2="274.30" y2="435.77" stroke="#000" stroke-width="1.5"/>
<line x1="270.70" y1="480.33" x2="274.30" y2="480.33" stroke="#000" stroke-width="1.5"/>
<line x1="270.70" y1="524.90" x2="274.30" y2="524.90" stroke="#000" stroke-width="1.5"/>
<line x1="274.30" y1="524.90" x2="445.30" y2="524.90" stroke="#000" stroke-width="1.5"/>
<line x1="289.50" y1="524.90" x2="289.50" y2="528.10" stroke="#000" stroke-width="1.5"/>
<line x1="324.20" y1="524.90" x2="324.20" y2="528.10" stroke="#000" stroke-width="1.5"/>
<line x1="358.90" y1="524.90" x2="358.90" y2="528.10" stroke="#000" stroke-width="1.5"/>
<line x1="393.70" y1="524.90" x2="393.70" y2="528.10" stroke="#000" stroke-width="1.5"/>
<line x1="428.50" y1="524.90" x2="428.50" y2="528.10" stroke="#000" stroke-width="1.5"/>
</svg>
</body></html>
